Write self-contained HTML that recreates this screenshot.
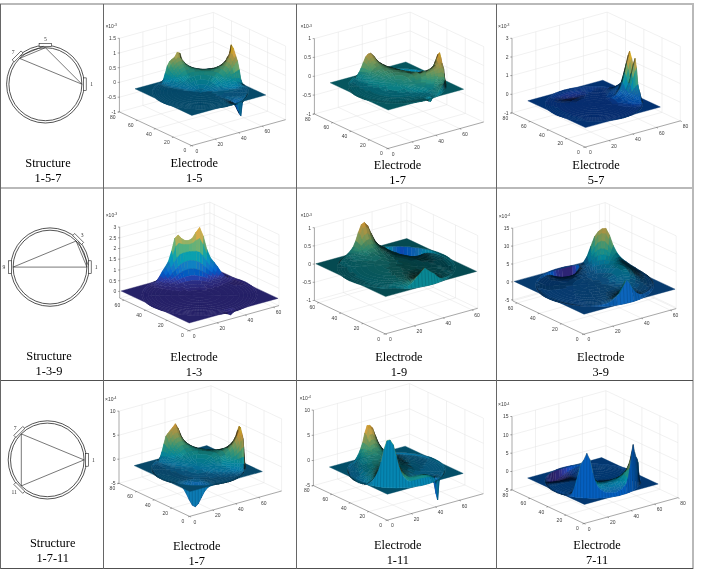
<!DOCTYPE html>
<html><head><meta charset="utf-8"><title>Sensitivity maps</title>
<style>
html,body{margin:0;padding:0;background:#fff}
body{width:701px;height:570px;position:relative;overflow:hidden;font:12.4px/15px "Liberation Serif","Times New Roman",serif;color:#000}
.l{position:absolute;background:#666}
.k{position:absolute;background:#b9b9b9}
.t{position:absolute;text-align:center;white-space:nowrap;width:120px;margin-left:-60px}
svg{position:absolute;left:0;top:0}
svg text{font:5px "Liberation Sans",Arial,sans-serif;fill:#3a3a3a}
.g{fill:none;stroke:#e2e2e2;stroke-width:.5}
.a{fill:none;stroke:#505050;stroke-width:.5}
.st{fill:none;stroke:#1c1c1c;stroke-width:.75}
.st path{stroke-width:.6}
.st rect{fill:#fff;stroke-width:.6}
svg text.s{font:5.6px "Liberation Serif","Times New Roman",serif;fill:#333;stroke:none}
</style></head>
<body>
<div class="k" style="left:0;top:3px;width:694px;height:2px"></div>
<div class="k" style="left:692px;top:3px;width:2px;height:566px"></div>
<div class="k" style="left:0;top:187px;width:693px;height:2px"></div>
<div class="l" style="left:0;top:380px;width:693px;height:1px;background:#505050"></div>
<div class="l" style="left:0;top:568px;width:693px;height:1px;background:#505050"></div>
<div class="l" style="left:0px;top:4px;width:1px;height:565px"></div>
<div class="l" style="left:103px;top:4px;width:1px;height:565px"></div>
<div class="l" style="left:296px;top:4px;width:1px;height:565px"></div>
<div class="l" style="left:496px;top:4px;width:1px;height:565px"></div>
<svg width="701" height="570" viewBox="0 0 701 570">
<g class="st"><circle cx="45.4" cy="84.2" r="38.8"/><circle cx="45.4" cy="84.2" r="36.5"/><rect x="83.3" y="77.9" width="2.9" height="12.6" transform="rotate(0 84.8 84.2)"/><text class="s" x="91.6" y="86" text-anchor="middle">1</text><rect x="43.9" y="38.6" width="2.9" height="12.6" transform="rotate(-90 45.4 44.9)"/><text class="s" x="45.4" y="40.7" text-anchor="middle">5</text><rect x="16.1" y="50.1" width="2.9" height="12.6" transform="rotate(-135 17.6 56.4)"/><text class="s" x="13.2" y="54" text-anchor="middle">7</text><path d="M45.4,47.7L81.9,84.2M19.6,58.4L81.9,84.2M19.6,58.4L45.4,47.7M19.9,56.1L43.5,46.3"/><circle cx="50" cy="267.1" r="39.2"/><circle cx="50" cy="267.1" r="36.9"/><rect x="88.3" y="260.8" width="2.9" height="12.6" transform="rotate(0 89.8 267.1)"/><text class="s" x="96.1" y="268.9" text-anchor="middle">1</text><rect x="76.7" y="232.7" width="2.9" height="12.6" transform="rotate(-45 78.1 239)"/><text class="s" x="82.2" y="236.8" text-anchor="middle">3</text><rect x="8.8" y="260.8" width="2.9" height="12.6" transform="rotate(-180 10.2 267.1)"/><text class="s" x="4" y="268.9" text-anchor="middle">9</text><path d="M13.1,267.1L86.9,267.1M13.1,267.1L76.1,241M76.1,241L86.9,267.1M78.4,241.4L88.3,265.2"/><circle cx="47.3" cy="459.9" r="39.1"/><circle cx="47.3" cy="459.9" r="36.8"/><rect x="85.5" y="453.6" width="2.9" height="12.6" transform="rotate(0 87 459.9)"/><text class="s" x="93.5" y="461.9" text-anchor="middle">1</text><rect x="17.8" y="425.6" width="2.9" height="12.6" transform="rotate(-135 19.3 431.9)"/><text class="s" x="15.2" y="429.6" text-anchor="middle">7</text><rect x="17.8" y="481.6" width="2.9" height="12.6" transform="rotate(-225 19.3 487.9)"/><text class="s" x="14.1" y="493.6" text-anchor="middle">11</text><path d="M21.3,433.9L84.1,459.9M21.3,485.9L84.1,459.9M21.3,433.9L21.3,485.9"/></g>
<g><path class="g" d="M215.1,139.1L142.9,105.4L142.9,31.8M238.6,132.7L166.4,98.9L166.4,25.3M262.1,126.2L189.9,92.5L189.9,18.9M173.5,137.2L267.6,111.3L267.6,37.7M155.5,128.7L249.5,102.9L249.5,29.3M137.4,120.3L231.5,94.4L231.5,20.8M119.4,97.2L213.4,71.3L285.6,105M119.4,82.4L213.4,56.6L285.6,90.3M119.4,67.7L213.4,41.8L285.6,75.6M119.4,53L213.4,27.1L285.6,60.8M119.4,38.3L213.4,12.4L285.6,46.1M213.4,86L213.4,12.4M119.4,111.9L213.4,86L285.6,119.7M285.6,119.7L285.6,46.1"/>
<path class="a" d="M119.4,38.3L119.4,111.9L191.6,145.6L285.6,119.7M191.6,145.6L189.9,146.1M173.5,137.2L171.9,137.6M155.5,128.7L153.8,129.2M137.4,120.3L135.8,120.8M119.4,111.9L117.8,112.3M191.6,145.6L193.1,146.3M215.1,139.1L216.6,139.9M238.6,132.7L240.1,133.4M262.1,126.2L263.6,126.9M119.4,111.9L117.7,111.9M119.4,97.2L117.7,97.2M119.4,82.4L117.7,82.4M119.4,67.7L117.7,67.7M119.4,53L117.7,53M119.4,38.3L117.7,38.3"/><g transform="scale(.2)" fill="currentColor" stroke="currentColor" stroke-width="2" stroke-linejoin="round"><path color=#064a69 d=M808,413l-8,5-6-1,8-5zM771,450l-2,5-7-1,2-6zM769,455l0,5-8,0,1-6z />
<path color=#075578 d=M800,418l-7,6-7-2,8-5zM1228,439l-5-6,7-1,5,5z />
<path color=#095278 d=M793,424l-6,5-7-2,6-5zM787,429l-6,5-7-2,6-5zM781,434l-4,5-7-2,4-5zM777,439l-4,5-7-1,4-6zM773,444l-2,6-7-2,2-5zM1235,456l-1-5,7-3,2,6zM1234,451l-3-6,7-2,3,5zM1231,445l-3-6,7-2,3,6z />
<path color=#074869 d=M1236,462l-1-6,8-2,0,6z />
<path color=#075578 d=M808,420l-6,5-9-1,7-6zM1218,440l-4-6,9-1,5,6z />
<path color=#074869 d=M802,425l-6,5-9-1,6-5zM796,430l-6,5-9-1,6-5zM790,435l-4,5-9-1,4-5zM786,440l-3,5-10-1,4-5zM783,445l-3,5-9,0,2-6zM1225,457l-1-6,10,0,1,5z />
<path color=#064a69 d=M780,450l-1,5-10,0,2-5zM779,455l0,5-10,0,0-5z />
<path color=#095278 d=M1226,462l-1-5,10-1,1,6zM1224,451l-2-5,9-1,3,6zM1222,446l-4-6,10-1,3,6z />
<path color=#075578 d=M818,422l-6,4-10-1,6-5z />
<path color=#064a69 d=M812,426l-6,5-10-1,6-5zM806,431l-5,5-11-1,6-5zM794,446l-3,5-11-1,3-5zM791,451l-1,4-11,0,1-5zM790,455l0,5-11,0,0-5z />
<path color=#074869 d=M801,436l-4,5-11-1,4-5zM797,441l-3,5-11-1,3-5z />
<path color=#095278 d=M1215,462l-1-5,11,0,1,5zM1214,457l-1-5,11-1,1,6zM1213,452l-2-6,11,0,2,5zM1211,446l-3-6,10,0,4,6z />
<path color=#064a69 d=M823,428l-6,5-11-2,6-5zM817,433l-4,4-12-1,5-5zM813,437l-4,5-12-1,4-5zM809,442l-3,4-12,0,3-5zM806,446l-2,5-13,0,3-5zM804,451l-1,5-13-1,1-4zM803,456l-1,4-12,0,0-5z />
<path color=#095278 d=M1202,462l0-5,12,0,1,5zM1202,457l-1-5,12,0,1,5zM1201,452l-3-5,13-1,2,6z />
<path color=#075578 d=M1198,447l-3-6,13-1,3,6z />
<path color=#075578 d=M836,430l-5,5-14-2,6-5zM1184,447l-3-4,14-2,3,6z />
<path color=#064a69 d=M831,435l-4,4-14-2,4-4zM827,439l-4,4-14-1,4-5zM823,443l-2,4-15-1,3-4zM821,447l-2,5-15-1,2-5zM819,452l-2,4-14,0,1-5zM817,456l0,4-15,0,1-4z />
<path color=#095278 d=M1187,462l0-5,15,0,0,5zM1187,457l-1-5,15,0,1,5zM1186,452l-2-5,14,0,3,5z />
<path color=#064a69 d=M848,437l-4,4-17-2,4-4zM844,441l-3,4-18-2,4-4zM841,445l-2,4-18-2,2-4zM839,449l-2,3-18,0,2-5zM837,452l-1,4-19,0,2-4zM836,456l0,4-19,0,0-4z />
<path color=#095278 d=M1169,461l0-4,18,0,0,5zM1169,457l-1-5,18,0,1,5z />
<path color=#075578 d=M1168,452l-2-4,18-1,2,5z />
<path color=#064a69 d=M869,440l-4,3-21-2,4-4zM865,443l-2,4-22-2,3-4zM863,447l-2,3-22-1,2-4zM861,450l-2,3-22-1,2-3zM859,453l-1,4-22-1,1-4zM858,457l0,3-22,0,0-4z />
<path color=#095278 d=M1147,461l-1-4,23,0,0,4z />
<path color=#075578 d=M1146,457l-1-4,23-1,1,5zM1145,453l-1-3,22-2,2,4z />
<path color=#064a69 d=M890,446l-2,3-25-2,2-4zM888,449l-2,3-25-2,2-3zM886,452l-1,2-26-1,2-3zM885,454l-1,3-26,0,1-4zM884,457l0,3-26,0,0-3z />
<path color=#075578 d=M1121,460l0-3,25,0,1,4zM1121,457l-1-3,25-1,1,4z />
<path color=#064a69 d=M916,451l-1,3-29-2,2-3zM915,454l-1,2-29-2,1-2zM914,456l0,2-30-1,1-3zM914,458l-1,2-29,0,0-3z />
<path color=#075578 d=M1091,460l0-2,30-1,0,3zM1091,458l-1-2,30-2,1,3z />
<path color=#064a69 d=M945,454l-2,3-29-1,2-5zM943,457l0,3-30,0,1-4zM1062,460l-1-3,29-1,1,4z />
<path color=#064a69 d=M974,457l-1,1-30-1,2-3zM973,458l0,2-30,0,0-3z />
<path color=#064a69 d=M1002,460l-29,1,0-3z />
<path color=#064a69 d=M1002,460l-27,4-2-3zM1002,460l-23,6-4-2zM1002,460l-18,8-5-2zM1002,460l-11,10-7-2zM1002,460l-4,11-7-1zM1002,460l4,11-8,0zM1002,460l12,10-8,1zM1002,460l18,8-6,2zM1002,460l24,6-6,2zM1002,460l28,4-4,2zM1002,460l30,1-2,3zM1002,460l30-2,0,3z />
<path color=#064a69 d=M973,460l0,1-30,2,0-3zM973,461l1,2-29,2-2-2zM974,463l1,1-28,4-2-3zM975,464l2,1-26,6-4-3zM977,465l2,1-24,7-4-2zM979,466l2,1-21,8-5-2zM981,467l3,1-18,9-6-2zM984,468l3,1-14,9-7-1zM987,469l4,1-11,10-7-2zM991,470l4,0-8,11-7-1zM995,470l3,1-3,10-8,0zM998,471l4,0,0,10-7,0zM1002,471l4,0,4,10-8,0zM1006,471l4-1,8,11-8,0zM1010,470l4,0,11,10-7,1zM1014,470l3-1,15,10-7,1zM1017,469l3-1,18,9-6,2zM1020,468l3-1,21,8-6,2zM1023,467l3-1,23,7-5,2zM1026,466l2-1,26,6-5,2zM1028,465l2-1,27,4-3,3zM1030,464l1-1,28,2-2,3zM1031,463l1-2,29,2-2,2zM1032,461l0-1,30,0-1,3z />
<path color=#064a69 d=M943,460l0,3-29,1-1-4zM943,463l2,2-29,3-2-4zM945,465l2,3-27,4-4-4zM947,468l4,3-26,5-5-4zM951,471l4,2-23,7-7-4zM955,473l5,2-21,8-7-3zM960,475l6,2-18,8-9-2zM966,477l7,1-15,10-10-3zM973,478l7,2-12,10-10-2zM980,480l7,1-8,10-11-1zM987,481l8,0-4,11-12-1zM995,481l7,0,0,11-11,0zM1002,481l8,0,4,11-12,0zM1010,481l8,0,7,10-11,1zM1018,481l7-1,11,10-11,1zM1025,480l7-1,15,9-11,2zM1032,479l6-2,18,9-9,2zM1038,477l6-2,21,8-9,3zM1044,475l5-2,24,7-8,3zM1049,473l5-2,25,5-6,4zM1054,471l3-3,27,4-5,4zM1057,468l2-3,29,3-4,4z />
<path color=#075578 d=M1059,465l2-2,29,1-2,4zM1061,463l1-3,29,0-1,4z />
<path color=#064a69 d=M913,460l1,2-30,1,0-3zM914,462l0,2-29,2-1-3zM914,464l1,2-29,2-1-2zM915,466l1,2-28,3-2-3zM916,468l2,2-28,4-2-3zM918,470l2,2-27,4-3-2zM920,472l3,2-27,5-3-3zM923,474l2,2-25,5-4-2zM925,476l3,2-24,6-4-3zM928,478l4,2-24,6-4-2zM932,480l3,1-22,7-5-2zM935,481l4,2-21,7-5-2zM939,483l5,1-20,8-6-2zM944,484l4,1-18,9-6-2zM948,485l5,2-17,8-6-1zM953,487l5,1-15,9-7-2zM958,488l5,1-13,9-7-1zM963,489l5,1-11,9-7-1zM968,490l6,0-10,10-7-1zM974,490l5,1-7,10-8-1zM979,491l6,0-6,11-7-1zM985,491l6,1-4,10-8,0zM991,492l5,0-2,10-7,0zM996,492l6,0,0,11-8-1zM1002,492l6,0,2,10-8,1zM1008,492l6,0,4,10-8,0zM1014,492l6-1,5,11-7,0zM1020,491l5,0,8,10-8,1zM1025,491l6-1,9,10-7,1zM1031,490l5,0,12,9-8,1zM1036,490l6-1,13,9-7,1zM1042,489l5-1,15,9-7,1zM1047,488l5-1,16,9-6,1zM1052,487l4-1,18,8-6,2zM1056,486l5-2,19,8-6,2zM1061,484l4-1,21,7-6,2zM1065,483l4-2,22,8-5,1zM1069,481l4-1,23,7-5,2z />
<path color=#074869 d=M1073,480l3-2,25,7-5,2zM1076,478l3-2,26,6-4,3z />
<path color=#095278 d=M1079,476l3-2,27,6-4,2zM1082,474l2-2,28,5-3,3z />
<path color=#075578 d=M1084,472l2-2,28,4-2,3zM1086,470l2-2,29,4-3,2zM1088,468l1-2,30,3-2,3zM1089,466l1-2,30,2-1,3zM1090,464l1-2,30,1-1,3zM1091,462l0-2,30,0,0,3z />
<path color=#064a69 d=M884,460l0,3-26,1,0-4zM884,463l1,3-26,1-1-3zM885,466l1,2-25,2-2-3zM886,468l2,3-25,3-2-4zM888,471l2,3-25,3-2-3zM890,474l3,2-24,4-4-3zM893,476l3,3-23,4-4-3zM896,479l4,2-23,5-4-3zM900,481l4,3-22,5-5-3zM904,484l4,2-20,6-6-3zM908,486l5,2-19,6-6-2zM913,488l5,2-18,7-6-3zM918,490l6,2-17,7-7-2zM924,492l6,2-16,7-7-2zM930,494l6,1-14,8-8-2zM936,495l7,2-13,8-8-2zM943,497l7,1-12,8-8-1zM950,498l7,1-10,9-9-2zM957,499l7,1-8,9-9-1zM964,500l8,1-7,9-9-1zM972,501l7,1-5,9-9-1zM979,502l8,0-4,9-9,0zM987,502l7,0-1,10-10-1zM994,502l8,1,0,9-9,0zM1002,503l8-1,2,10-10,0zM1010,502l8,0,3,9-9,1zM1018,502l7,0,5,9-9,0zM1025,502l8-1,7,9-10,1zM1033,501l7-1,9,9-9,1zM1040,500l8-1,10,9-9,1zM1048,499l7-1,11,9-8,1zM1055,498l7-1,12,8-8,2zM1062,497l6-1,15,7-9,2zM1068,496l6-2,16,7-7,2zM1074,494l6-2,17,7-7,2zM1080,492l6-2,18,7-7,2z />
<path color=#074869 d=M1086,490l5-1,20,6-7,2zM1091,489l5-2,21,6-6,2zM1096,487l5-2,21,6-5,2z />
<path color=#095278 d=M1101,485l4-3,22,7-5,2zM1105,482l4-2,23,5-5,4zM1109,480l3-3,24,5-4,3zM1112,477l2-3,25,4-3,4zM1114,474l3-2,25,3-3,3zM1117,472l2-3,25,2-2,4zM1119,469l1-3,25,2-1,3zM1120,466l1-3,25,1-1,4z />
<path color=#075578 d=M1121,463l0-3,26,1-1,3z />
<path color=#064a69 d=M858,460l0,4-22,0,0-4zM858,464l1,3-22,1-1-4zM859,467l2,3-22,2-2-4zM861,470l2,4-22,2-2-4zM863,474l2,3-21,2-3-3zM865,477l4,3-21,3-4-4zM869,480l4,3-20,4-5-4zM873,483l4,3-19,4-5-3zM877,486l5,3-18,4-6-3zM882,489l6,3-18,4-6-3zM888,492l6,2-17,5-7-3zM894,494l6,3-16,5-7-3zM900,497l7,2-15,6-8-3zM907,499l7,2-13,6-9-2zM914,501l8,2-12,7-9-3zM922,503l8,2-11,7-9-2zM930,505l8,1-9,8-10-2zM938,506l9,2-9,7-9-1zM947,508l9,1-7,8-11-2zM956,509l9,1-6,8-10-1zM965,510l9,1-4,8-11-1zM974,511l9,0-3,8-10,0zM983,511l10,1-2,8-11-1zM993,512l9,0,0,8-11,0zM1002,512l10,0,1,8-11,0zM1012,512l9-1,3,8-11,1zM1021,511l9,0,5,8-11,0zM1030,511l10-1,5,8-10,1zM1040,510l9-1,7,8-11,1zM1049,509l9-1,8,7-10,2zM1058,508l8-1,10,7-10,1zM1066,507l8-2,12,7-10,2zM1074,505l9-2,12,7-9,2zM1083,503l7-2,14,7-9,2zM1090,501l7-2,15,6-8,3z />
<path color=#074869 d=M1097,499l7-2,16,6-8,2zM1104,497l7-2,17,7-8,1zM1117,493l5-2,19,8-7,1z />
<path color=#063e5a d=M1111,495l6-2,17,7-6,2z />
<path color=#095278 d=M1122,491l5-2,20,7-6,3zM1136,482l3-4,21,4-4,4zM1139,478l3-3,21,2-3,5zM1142,475l2-4,22,2-3,4zM1144,471l1-3,23,1-2,4zM1145,468l1-4,23,1-1,4zM1146,464l1-3,22,0,0,4z />
<path color=#0a5d87 d=M1127,489l5-4,20,6-5,5zM1132,485l4-3,20,4-4,5z />
<path color=#064a69 d=M836,460l0,4-19,1,0-5zM836,464l1,4-18,1-2-4zM837,468l2,4-18,1-2-4zM839,472l2,4-18,1-2-4zM841,476l3,3-17,2-4-4zM844,479l4,4-17,2-4-4zM848,483l5,4-17,2-5-4zM853,487l5,3-16,3-6-4zM858,490l6,3-16,4-6-4zM864,493l6,3-15,4-7-3zM870,496l7,3-14,5-8-4zM877,499l7,3-13,5-8-3zM884,502l8,3-12,5-9-3zM892,505l9,2-12,6-9-3zM901,507l9,3-11,5-10-2zM910,510l9,2-9,5-11-2zM919,512l10,2-9,5-10-2zM929,514l9,1-7,6-11-2zM938,515l11,2-6,6-12-2zM949,517l10,1-5,6-11-1zM959,518l11,1-4,6-12-1zM970,519l10,0-2,7-12-1zM980,519l11,1-1,6-12,0zM991,520l11,0,0,6-12,0zM1002,520l11,0,1,6-12,0zM1013,520l11-1,2,7-12,0zM1024,519l11,0,3,6-12,1zM1035,519l10-1,5,6-12,1zM1045,518l11-1,6,6-12,1zM1056,517l10-2,7,6-11,2zM1066,515l10-1,8,6-11,1zM1076,514l10-2,9,5-11,3zM1086,512l9-2,10,5-10,2zM1095,510l9-2,11,5-10,2zM1104,508l8-3,12,6-9,2z />
<path color=#074869 d=M1112,505l8-2,13,6-9,2z />
<path color=#063e5a d=M1120,503l8-1,13,6-8,1z />
<path color=#06324b d=M1128,502l6-2,15,7-8,1z />
<path color=#083c5a d=M1134,500l7-1,15,8-7,0z />
<path color=#0b4d79 d=M1141,499l6-3,16,8-7,3z />
<path color=#0b5a87 d=M1147,496l5-5,16,7-5,6zM1152,491l4-5,17,5-5,7z />
<path color=#0a5d87 d=M1156,486l4-4,18,3-5,6z />
<path color=#095278 d=M1160,482l3-5,18,3-3,5zM1163,477l3-4,18,2-3,5zM1166,473l2-4,18,2-2,4zM1168,469l1-4,18,1-1,5zM1169,465l0-4,18,1,0,4z />
<path color=#064a69 d=M817,460l0,5-14,0-1-5zM817,465l2,4-15,1-1-5zM819,469l2,4-15,1-2-4zM821,473l2,4-14,2-3-5zM823,477l4,4-14,2-4-4zM827,481l4,4-14,2-4-4zM831,485l5,4-13,3-6-5zM836,489l6,4-13,3-6-4zM842,493l6,4-12,3-7-4zM848,497l7,3-11,4-8-4zM855,500l8,4-11,3-8-3zM863,504l8,3-10,4-9-4zM871,507l9,3-10,4-9-3zM880,510l9,3-9,4-10-3zM889,513l10,2-8,5-11-3zM899,515l11,2-8,5-11-2zM910,517l10,2-6,5-12-2zM920,519l11,2-5,5-12-2zM931,521l12,2-5,5-12-2zM943,523l11,1-4,5-12-1zM954,524l12,1-3,5-13-1zM966,525l12,1-2,5-13-1zM978,526l12,0-1,5-13,0zM990,526l12,0,0,6-13-1zM1002,526l12,0,1,5-13,1zM1014,526l12,0,2,5-13,0zM1026,526l12-1,3,5-13,1zM1038,525l12-1,4,5-13,1zM1050,524l12-1,5,5-13,1zM1062,523l11-2,6,5-12,2zM1073,521l11-1,7,4-12,2zM1084,520l11-3,7,5-11,2zM1095,517l10-2,8,5-11,2zM1105,515l10-2,9,4-11,3zM1115,513l9-2,10,4-10,2z />
<path color=#063e5a d=M1124,511l9-2,11,4-10,2z />
<path color=#05334b d=M1133,509l8-1,12,5-9,0z />
<path color=#041e2d d=M1141,508l8-1,12,6-8,0z />
<path color=#041d2d d=M1149,507l7,0,13,10-8-4z />
<path color=#0d5589 d=M1156,507l7-3,12,12-6,1z />
<path color=#1067a7 d=M1163,504l5-6,14,5-7,13z />
<path color=#0e6197 d=M1168,498l5-7,14,4-5,8z />
<path color=#0b5a87 d=M1173,491l5-6,14,3-5,7z />
<path color=#0a5d87 d=M1178,485l3-5,14,2-3,6z />
<path color=#095278 d=M1181,480l3-5,14,2-3,5zM1184,475l2-4,15,1-3,5zM1186,471l1-5,15,1-1,5zM1187,466l0-4,15,0,0,5z />
<path color=#064a69 d=M802,460l1,5-13,0,0-5zM803,465l1,5-13,0-1-5zM804,470l2,4-12,1-3-5zM806,474l3,5-12,1-3-5zM809,479l4,4-12,2-4-5zM813,483l4,4-11,2-5-4zM817,487l6,5-11,2-6-5zM823,492l6,4-11,2-6-4zM829,496l7,4-11,2-7-4zM836,500l8,4-10,2-9-4zM844,504l8,3-10,3-8-4zM852,507l9,4-9,3-10-4zM861,511l9,3-8,3-10-3zM870,514l10,3-7,3-11-3zM880,517l11,3-7,3-11-3zM891,520l11,2-6,4-12-3zM902,522l12,2-6,4-12-2zM914,524l12,2-5,4-13-2zM926,526l12,2-4,4-13-2zM938,528l12,1-3,4-13-1zM950,529l13,1-2,5-14-2zM963,530l13,1-2,4-13,0zM976,531l13,0-1,5-14-1zM989,531l13,1,0,4-14,0zM1002,532l13-1,1,5-14,0zM1015,531l13,0,2,4-14,1zM1028,531l13-1,3,5-14,0zM1041,530l13-1,3,4-13,2zM1054,529l13-1,4,4-14,1zM1067,528l12-2,5,4-13,2zM1079,526l12-2,5,4-12,2zM1091,524l11-2,7,4-13,2zM1102,522l11-2,7,3-11,3zM1113,520l11-3,8,4-12,2zM1124,517l10-2,8,3-10,3z />
<path color=#063e5a d=M1134,515l10-2,9,4-11,1z />
<path color=#031f2d d=M1144,513l9,0,9,4-9,0z />
<path color=#041d2d d=M1153,513l8,0,10,5-9-1z />
<path color=#041b2e d=M1161,513l8,4,10,17-8-16z />
<path color=#08437e d=M1169,517l6-1,11,23-7-5z />
<path color=#0e62aa d=M1175,516l7-13,11,5-7,31z />
<path color=#0e6197 d=M1182,503l5-8,12,4-6,9z />
<path color=#0d6496 d=M1187,495l5-7,12,3-5,8z />
<path color=#0b5a87 d=M1192,488l3-6,13,2-4,7z />
<path color=#095278 d=M1195,482l3-5,13,2-3,5zM1198,477l3-5,12,1-2,6zM1201,472l1-5,12,1-1,5zM1202,467l0-5,13,0-1,6z />
<path color=#064a69 d=M790,460l0,5-11,0,0-5zM790,465l1,5-11,1-1-6zM791,470l3,5-11,1-3-5zM794,475l3,5-11,1-3-5zM797,480l4,5-11,1-4-5zM801,485l5,4-10,2-6-5zM806,489l6,5-10,1-6-4zM812,494l6,4-10,2-6-5zM818,498l7,4-9,2-8-4zM825,502l9,4-9,3-9-5zM834,506l8,4-8,3-9-4zM842,510l10,4-8,3-10-4zM852,514l10,3-7,3-11-3zM862,517l11,3-7,4-11-4zM873,520l11,3-6,4-12-3zM884,523l12,3-6,3-12-2zM896,526l12,2-5,4-13-3zM908,528l13,2-4,4-14-2zM921,530l13,2-4,4-13-2zM934,532l13,1-3,4-14-1zM947,533l14,2-2,4-15-2zM961,535l13,0-1,4-14,0zM974,535l14,1,0,4-15-1zM988,536l14,0,0,4-14,0zM1002,536l14,0,1,4-15,0zM1016,536l14-1,1,4-14,1zM1030,535l14,0,2,4-15,0zM1044,535l13-2,3,4-14,2zM1057,533l14-1,3,4-14,1zM1071,532l13-2,4,4-14,2zM1084,530l12-2,5,4-13,2zM1096,528l13-2,5,3-13,3zM1109,526l11-3,7,4-13,2zM1120,523l12-2,6,3-11,3zM1132,521l10-3,8,3-12,3z />
<path color=#05334b d=M1142,518l11-1,7,3-10,1z />
<path color=#041e2d d=M1153,517l9,0,8,3-10,0z />
<path color=#041d2d d=M1162,517l9,1,9,4-10-2z />
<path color=#08437e d=M1171,518l8,16,9,19-8-31z />
<path color=#011c40 d=M1179,534l7,5,10,28-8-14z />
<path color=#055fbf d=M1186,539l7-31,10,4-7,55z />
<path color=#0e5e98 d=M1193,508l6-9,10,3-6,10z />
<path color=#0e6197 d=M1199,499l5-8,10,2-5,9z />
<path color=#0b5a87 d=M1204,491l4-7,10,3-4,6zM1208,484l3-5,11,1-4,7z />
<path color=#095278 d=M1211,479l2-6,11,1-2,6zM1213,473l1-5,11,0-1,6zM1214,468l1-6,11,0-1,6z />
<path color=#064a69 d=M779,460l0,5-10,1,0-6zM779,465l1,6-9,0-2-5zM780,471l3,5-10,0-2-5zM783,476l3,5-9,1-4-6zM786,481l4,5-9,1-4-5zM790,486l6,5-9,1-6-5zM796,491l6,4-9,2-6-5zM802,495l6,5-8,2-7-5zM808,500l8,4-8,2-8-4zM816,504l9,5-8,2-9-5zM825,509l9,4-7,2-10-4zM834,513l10,4-7,2-10-4zM844,517l11,3-7,3-11-4zM855,520l11,4-6,2-12-3zM866,524l12,3-5,2-13-3zM878,527l12,2-4,3-13-3zM890,529l13,3-4,3-13-3zM903,532l14,2-4,3-14-2zM917,534l13,2-3,3-14-2zM930,536l14,1-2,4-15-2zM944,537l15,2-2,3-15-1zM959,539l14,0-1,4-15-1zM973,539l15,1-1,3-15,0zM988,540l14,0,0,3-15,0zM1002,540l15,0,1,3-16,0zM1017,540l14-1,2,4-15,0zM1031,539l15,0,2,3-15,1zM1046,539l14-2,3,4-15,1zM1060,537l14-1,3,3-14,2zM1074,536l14-2,4,3-15,2zM1088,534l13-2,4,3-13,2zM1101,532l13-3,5,3-14,3zM1114,529l13-2,5,2-13,3zM1127,527l11-3,6,2-12,3zM1138,524l12-3,6,3-12,2z />
<path color=#05334b d=M1150,521l10-1,7,2-11,2z />
<path color=#041e2d d=M1160,520l10,0,8,2-11,0z />
<path color=#041d2d d=M1170,520l10,2,7,2-9-2z />
<path color=#085aae d=M1180,522l8,31,8,9-9-38z />
<path color=#0a0f29 d=M1188,553l8,14,8,12-8-17z />
<path color=#0454c0 d=M1196,567l7-55,9,2-8,65z />
<path color=#0e5e98 d=M1203,512l6-10,9,2-6,10z />
<path color=#0d5788 d=M1209,502l5-9,9,3-5,8z />
<path color=#0b5a87 d=M1214,493l4-6,10,2-5,7zM1218,487l4-7,9,1-3,8z />
<path color=#0a5d87 d=M1222,480l2-6,10,0-3,7z />
<path color=#095278 d=M1224,474l1-6,10,0-1,6zM1225,468l1-6,10,0-1,6z />
<path color=#064a69 d=M769,460l0,6-7-1-1-5zM769,466l2,5-7,0-2-6zM771,471l2,5-7,1-2-6zM773,476l4,6-7,0-4-5zM777,482l4,5-7,0-4-5zM781,487l6,5-7,1-6-6zM787,492l6,5-7,1-6-5zM793,497l7,5-6,1-8-5zM800,502l8,4-6,2-8-5zM808,506l9,5-6,1-9-4zM817,511l10,4-6,2-10-5zM827,515l10,4-5,2-11-4zM837,519l11,4-5,2-11-4zM848,523l12,3-4,2-13-3zM860,526l13,3-5,3-12-4zM873,529l13,3-4,3-14-3zM886,532l13,3-3,2-14-2zM899,535l14,2-3,2-14-2zM913,537l14,2-2,2-15-2zM927,539l15,2-2,2-15-2zM942,541l15,1-2,2-15-1zM957,542l15,1-1,2-16-1zM972,543l15,0-1,3-15-1zM987,543l15,0,0,3-16,0zM1002,543l16,0,0,3-16,0zM1018,543l15,0,1,2-16,1zM1033,543l15-1,1,2-15,1zM1048,542l15-1,2,2-16,1zM1063,541l14-2,3,2-15,2zM1077,539l15-2,2,2-14,2zM1092,537l13-2,4,2-15,2zM1105,535l14-3,4,3-14,2zM1119,532l13-3,4,3-13,3zM1132,529l12-3,5,2-13,4zM1178,522l9,2,6-12-10,5zM1235,468l1-6,7-2,0,5z />
<path color=#05405a d=M1144,526l12-2,5,1-12,3zM1234,474l1-6,8-3-2,6z />
<path color=#02202d d=M1156,524l11-2,5-1-11,4zM1167,522l11,0,5-5-11,4zM1218,504l5-8,7-9-5,6zM1223,496l5-7,7-7-5,5zM1228,489l3-8,7-4-3,5z />
<path color=#086a96 d=M1187,524l9,38,6-54-9,4zM1196,562l8,17,7-76-9,5z />
<path color=#075f87 d=M1204,579l8-65,6-16-7,5z />
<path color=#032a3c d=M1212,514l6-10,7-11-7,5zM1231,481l3-7,7-3-3,6z />
<path stroke=#012 stroke-opacity=.5 stroke-width=1.5 fill=none d=M1187,524l6-12M1196,562l6-54M1204,579l7-76M1212,514l6-16 />
<path color=#064a69 fill-rule=evenodd d=M959,577l370-102-284-133-370,102zM1193,407l-10-4-11-4-11-4-12-4-13-3-13-3-14-3-15-2-14-2-15-2-16-1-15-1-16,0-16-1-16,1-15,0-16,1-15,1-15,2-15,2-14,2-14,3-14,3-12,3-13,4-11,4-11,4-10,4-9,5-8,5-8,5-6,5-6,5-4,5-4,6-2,5-2,6-1,6,1,5,2,6,2,6,4,5,4,5,6,6,6,5,8,5,8,5,9,4,10,5,11,4,11,4,13,3,12,4,14,3,14,2,14,2,15,2,15,2,15,1,16,1,15,1,16,0,16,0,16-1,15-1,16-1,15-2,14-2,15-2,14-2,13-3,13-4,12-3,11-4,11-4,10-5,9-4,9-5,7-5,7-5,5-6,5-5,3-5,3-6,2-6,0-5,0-6-2-6-3-5-3-6-5-5-5-5-7-5-7-5-9-5z />
<path color=#a09348 d=M1187,304l-9-26,5,125,10,4z />
<path color=#c8972e d=M1178,278l-11-36,5,157,11,4zM1156,224l-12,58,5,109,12,4z />
<path color=#c1ad1b d=M1167,242l-11-18,5,171,11,4z />
<path color=#8da35c d=M1144,282l-12,29,4,77,13,3zM913,307l-14-42-3,117,14-2z />
<path color=#55a373 d=M1132,311l-13,16,4,58,13,3z />
<path color=#259c8e d=M1119,327l-14,18,4,37,14,3zM942,335l-15-10-2,53,15-2z />
<path color=#0a94a2 d=M1105,345l-13,14,2,21,15,2z />
<path color=#05849a d=M1092,359l-15,0,3,19,14,2z />
<path color=#05829d d=M1077,359l-14,4,2,13,15,2zM987,359l-15,0-1,15,15,0z />
<path color=#05809f d=M1063,363l-15,0,1,12,16,1zM1002,362l-15-3-1,15,16-1z />
<path color=#057ea1 d=M1048,363l-15,3,1,8,15,1zM1033,366l-15-3,0,11,16,0zM1018,363l-16-1,0,11,16,1z />
<path color=#0590a8 d=M972,359l-15-11-2,27,16-1z />
<path color=#12979a d=M957,348l-15-13-2,41,15-1z />
<path color=#4ca278 d=M927,325l-14-18-3,73,15-2z />
<path color=#bb9f49 d=M899,265l-13-3-4,123,14-3z />
<path color=#aea14e d=M886,262l-13,24-5,102,14-3z />
<path color=#94a359 d=M873,286l-13,10-4,95,12-3z />
<path color=#86a35e d=M860,296l-12,11-5,88,13-4z />
<path color=#66965f d=M848,307l-11,22-5,70,11-4z />
<path color=#2f927a d=M837,329l-10,36-6,38,11-4z />
<path color=#067a89 d=M827,365l-10,33-6,9,10-4z />
<path color=#02212d d=M817,398l-9,15-6-1,9-5z />
<path color=#064a69 d=M1223,433l-5-6,7,0,5,5z />
<path color=#04354b d=M1218,427l-6-7,6,2,7,5z />
<path color=#022e3b d=M1212,420l-8-23,7,20,7,5z />
<path color=#14807d d=M1204,397l-8-49,6,64,9,5z />
<path color=#6d965c d=M1196,348l-9-44,6,103,9,5z />
<path color=#9a944a d=M1180,314l-10-24,8-12,9,26zM903,291l-13-3-4-26,13,3z />
<path color=#cd9f40 d=M1170,290l-10-20,7-28,11,36z />
<path color=#c79e27 d=M1160,270l-10-4,6-42,11,18z />
<path color=#332810 d=M1150,266l-12,18,6-2,12-58z />
<path color=#76884c d=M1138,284l-11,23,5,4,12-29z />
<path color=#4e885d d=M1127,307l-13,18,5,2,13-16z />
<path color=#248373 d=M1114,325l-13,13,4,7,14-18z />
<path color=#118b8d d=M1101,338l-13,8,4,13,13-14z />
<path color=#098894 d=M1088,346l-14,6,3,7,15,0zM973,348l-14-6-2,6,15,11z />
<path color=#05788c d=M1074,352l-14,3,3,8,14-4z />
<path color=#04768e d=M1060,355l-14,2,2,6,15,0zM1046,357l-15,2,2,7,15-3zM1017,357l-15-2,0,7,16,1zM1002,355l-14-3-1,7,15,3z />
<path color=#047491 d=M1031,359l-14-2,1,6,15,3zM1203,413l-7-23,8,7,8,23z />
<path color=#05849a d=M988,352l-15-4-1,11,15,0z />
<path color=#127371 d=M959,342l-15-9-2,2,15,13z />
<path color=#1d695c d=M944,333l-14-12-3,4,15,10z />
<path color=#397a5a d=M930,321l-13-15-4,1,14,18z />
<path color=#222918 d=M917,306l-14-15-4-26,14,42z />
<path color=#a2a253 d=M890,288l-12,11-5-13,13-24z />
<path color=#829554 d=M878,299l-12,11-6-14,13-10z />
<path color=#749659 d=M866,310l-11,14-7-17,12-11z />
<path color=#5ea36f d=M855,324l-11,21-7-16,11-22z />
<path color=#28917e d=M844,345l-10,27-7-7,10-36z />
<path color=#068697 d=M834,372l-9,22-8,4,10-33z />
<path color=#046585 d=M825,394l-9,17-8,2,9-15z />
<path color=#064a69 d=M816,411l-8,9-8-2,8-5z />
<path color=#075f87 d=M1214,434l-5-10,9,3,5,6z />
<path color=#022c3c d=M1209,424l-6-11,9,7,6,7z />
<path color=#1c8e86 d=M1196,390l-8-39,8-3,8,49z />
<path color=#6fa468 d=M1188,351l-8-37,7-10,9,44z />
<path color=#889551 d=M1171,328l-9-22,8-16,10,24z />
<path color=#a69345 d=M1162,306l-9-13,7-23,10,20z />
<path color=#ab9243 d=M1153,293l-11-2,8-25,10,4z />
<path color=#746b34 d=M1142,291l-10,8,6-15,12-18z />
<path color=#232917 d=M1132,299l-12,13,7-5,11-23z />
<path color=#335236 d=M1120,312l-11,12,5,1,13-18z />
<path color=#2c7861 d=M1109,324l-13,10,5,4,13-13z />
<path color=#1b756b d=M1096,334l-12,7,4,5,13-8z />
<path color=#127371 d=M1084,341l-13,5,3,6,14-6z />
<path color=#0a7077 d=M1071,346l-14,3,3,6,14-3z />
<path color=#076f79 d=M1057,349l-13,2,2,6,14-2zM1002,350l-14-2,0,4,14,3z />
<path color=#056e7c d=M1044,351l-14,1,1,7,15-2zM1030,352l-14,0,1,5,14,2zM1016,352l-14-2,0,5,15,2z />
<path color=#096469 d=M988,348l-14-4-1,4,15,4z />
<path color=#0c6567 d=M974,344l-13-5-2,3,14,6z />
<path color=#124e47 d=M961,339l-14-7-3,1,15,9z />
<path color=#0d2821 d=M947,332l-13-9-4-2,14,12z />
<path color=#15291d d=M934,323l-13-9-4-8,13,15z />
<path color=#597b4b d=M921,314l-13-7-5-16,14,15z />
<path color=#7b9657 d=M908,307l-12,0-6-19,13,3zM896,307l-12,7-6-15,12-11z />
<path color=#6d965c d=M884,314l-11,11-7-15,12-11z />
<path color=#569666 d=M873,325l-11,14-7-15,11-14z />
<path color=#369376 d=M862,339l-10,18-8-12,11-21z />
<path color=#1c8e86 d=M852,357l-10,20-8-5,10-27z />
<path color=#068697 d=M842,377l-8,19-9-2,9-22z />
<path color=#057ea1 d=M834,396l-9,15-9,0,9-17z />
<path color=#086a96 d=M825,411l-7,11-10-2,8-9z />
<path color=#075578 d=M1208,440l-4-7,10,1,4,6z />
<path color=#066d95 d=M1204,433l-5-12,10,3,5,10z />
<path color=#046784 d=M1199,421l-6-13,10,5,6,11z />
<path color=#05849a d=M1193,408l-7-21,10,3,7,23z />
<path color=#218f82 d=M1186,387l-7-30,9-6,8,39z />
<path color=#67a46b d=M1179,357l-8-29,9-14,8,37z />
<path color=#749659 d=M1161,342l-8-17,9-19,9,22z />
<path color=#889551 d=M1153,325l-9-11,9-21,9,13z />
<path color=#8e954f d=M1144,314l-10-3,8-20,11,2z />
<path color=#7c874a d=M1134,311l-10,2,8-14,10-8z />
<path color=#202918 d=M1124,313l-11,6,7-7,12-13z />
<path color=#1a291b d=M1113,319l-11,8,7-3,11-12z />
<path color=#13291e d=M1102,327l-11,6,5,1,13-10z />
<path color=#195043 d=M1091,333l-12,6,5,2,12-7z />
<path color=#155b53 d=M1079,339l-12,4,4,3,13-5z />
<path color=#125a55 d=M1067,343l-13,2,3,4,14-3z />
<path color=#0b585a d=M1054,345l-13,2,3,4,13-2zM1041,347l-13,1,2,4,14-1zM1028,348l-13,0,1,4,14,0z />
<path color=#094c4d d=M1015,348l-13-2,0,4,14,2z />
<path color=#083f40 d=M1002,346l-13-2-1,4,14,2z />
<path color=#083332 d=M989,344l-13-2-2,2,14,4z />
<path color=#082725 d=M976,342l-13-4-2,1,13,5z />
<path color=#0b2722 d=M963,338l-13-5-3-1,14,7z />
<path color=#0f2820 d=M950,333l-12-5-4-5,13,9z />
<path color=#26513c d=M938,328l-12-4-5-10,13,9z />
<path color=#4e885d d=M926,324l-12-2-6-15,13,7z />
<path color=#5e9662 d=M914,322l-12,2-6-17,12,0zM902,324l-11,6-7-16,12-7z />
<path color=#4e956a d=M891,330l-11,10-7-15,11-11z />
<path color=#3e9472 d=M880,340l-10,13-8-14,11-14z />
<path color=#28917e d=M870,353l-9,14-9-10,10-18z />
<path color=#118b8d d=M861,367l-9,16-10-6,10-20z />
<path color=#05849a d=M852,383l-8,16-10-3,8-19z />
<path color=#057ea1 d=M844,399l-8,13-11-1,9-15z />
<path color=#066d95 d=M836,412l-7,11-11-1,7-11z />
<path color=#075578 d=M829,423l-6,5-11-2,6-4z />
<path color=#075f87 d=M1195,441l-3-9,12,1,4,7z />
<path color=#057094 d=M1192,432l-5-12,12,1,5,12z />
<path color=#047491 d=M1187,420l-5-14,11,2,6,13z />
<path color=#068697 d=M1182,406l-7-18,11-1,7,21z />
<path color=#1c8e86 d=M1175,388l-6-23,10-8,7,30z />
<path color=#55a373 d=M1169,365l-8-23,10-14,8,29z />
<path color=#569666 d=M1149,357l-8-14,12-18,8,17z />
<path color=#66965f d=M1141,343l-8-9,11-20,9,11z />
<path color=#749659 d=M1133,334l-9-4,10-19,10,3z />
<path color=#638854 d=M1124,330l-9-1,9-16,10-2z />
<path color=#4a6d45 d=M1115,329l-10,1,8-11,11-6z />
<path color=#1f3625 d=M1105,330l-10,3,7-6,11-8z />
<path color=#13291e d=M1095,333l-11,3,7-3,11-6z />
<path color=#0f2820 d=M1084,336l-11,4,6-1,12-6z />
<path color=#0d2821 d=M1073,340l-11,2,5,1,12-4zM966,340l-12-2-4-5,13,5z />
<path color=#092724 d=M1062,342l-12,2,4,1,13-2zM1050,344l-12,1,3,2,13-2zM990,344l-12-2-2,0,13,2z />
<path color=#082725 d=M1038,345l-12,1,2,2,13-1zM1026,346l-12,0,1,2,13,0zM1014,346l-12-1,0,1,13,2zM1002,345l-12-1-1,0,13,2z />
<path color=#0b2722 d=M978,342l-12-2-3-2,13,4z />
<path color=#1d5040 d=M954,338l-11-2-5-8,12,5z />
<path color=#32795d d=M943,336l-12-1-5-11,12,4z />
<path color=#3f8764 d=M931,335l-11,1-6-14,12,2z />
<path color=#46956e d=M920,336l-10,4-8-16,12-2zM910,340l-11,6-8-16,11-6z />
<path color=#369376 d=M899,346l-10,9-9-15,11-10zM1156,374l-7-17,12-15,8,23z />
<path color=#28917e d=M889,355l-9,11-10-13,10-13z />
<path color=#1c8e86 d=M880,366l-9,12-10-11,9-14zM1163,392l-7-18,13-9,6,23z />
<path color=#0c8991 d=M871,378l-8,12-11-7,9-16z />
<path color=#05849a d=M863,390l-8,12-11-3,8-16z />
<path color=#057ea1 d=M855,402l-7,12-12-2,8-13z />
<path color=#066d95 d=M848,414l-6,10-13-1,7-11z />
<path color=#075f87 d=M842,424l-6,6-13-2,6-5z />
<path color=#086a96 d=M1181,443l-3-11,14,0,3,9z />
<path color=#057ba3 d=M1178,432l-5-12,14,0,5,12z />
<path color=#05829d d=M1173,420l-5-13,14-1,5,14z />
<path color=#098894 d=M1168,407l-5-15,12-4,7,18z />
<path color=#369376 d=M1134,373l-6-10,13-20,8,14z />
<path color=#46956e d=M1128,363l-8-8,13-21,8,9z />
<path color=#4e956a d=M1120,355l-8-6,12-19,9,4z />
<path color=#4e885d d=M1112,349l-8-3,11-17,9,1z />
<path color=#478860 d=M1104,346l-9-1,10-15,10-1z />
<path color=#397a5a d=M1095,345l-9-1,9-11,10-3z />
<path color=#275e48 d=M1086,344l-10,1,8-9,11-3z />
<path color=#1d5040 d=M1076,345l-10,1,7-6,11-4z />
<path color=#0d2821 d=M1066,346l-10,1,6-5,11-2zM1056,347l-11,1,5-4,12-2z />
<path color=#0b2722 d=M1045,348l-10,0,3-3,12-1z />
<path color=#092724 d=M1035,348l-11,1,2-3,12-1zM1024,349l-11,0,1-3,12,0zM1013,349l-11,0,0-4,12,1zM1002,349l-11-1-1-4,12,1z />
<path color=#124239 d=M991,348l-11,0-2-6,12,2z />
<path color=#195c50 d=M980,348l-10,0-4-8,12,2z />
<path color=#226a59 d=M970,348l-11,0-5-10,12,2z />
<path color=#267764 d=M959,348l-10,0-6-12,11,2z />
<path color=#31866b d=M949,348l-11,2-7-15,12,1zM938,350l-9,3-9-17,11-1z />
<path color=#2f927a d=M929,353l-10,4-9-17,10-4zM919,357l-9,6-11-17,11-6z />
<path color=#218f82 d=M910,363l-9,7-12-15,10-9zM1141,386l-7-13,15-16,7,17z />
<path color=#1c8e86 d=M901,370l-9,9-12-13,9-11z />
<path color=#118b8d d=M892,379l-8,9-13-10,9-12zM1147,399l-6-13,15-12,7,18z />
<path color=#068697 d=M884,388l-7,10-14-8,8-12zM1152,411l-5-12,16-7,5,15z />
<path color=#05829d d=M877,398l-7,10-15-6,8-12zM1156,422l-4-11,16-4,5,13z />
<path color=#047293 d=M870,408l-6,9-16-3,7-12z />
<path color=#057094 d=M864,417l-6,8-16-1,6-10z />
<path color=#086a96 d=M858,425l-5,8-17-3,6-6z />
<path color=#075578 d=M853,433l-5,4-17-2,5-5zM1166,448l-3-5,18,0,3,4z />
<path color=#0778a4 d=M1163,443l-3-11,18,0,3,11z />
<path color=#057ea1 d=M1160,432l-4-10,17-2,5,12z />
<path color=#218f82 d=M1117,390l-6-8,17-19,6,10zM938,370l-8,5-11-18,10-4z />
<path color=#28917e d=M1111,382l-7-7,16-20,8,8z />
<path color=#2f927a d=M1104,375l-7-5,15-21,8,6z />
<path color=#369376 d=M1097,370l-7-4,14-20,8,3z />
<path color=#31866b d=M1090,366l-7-3,12-18,9,1zM1083,363l-9-2,12-17,9,1zM1074,361l-8-2,10-14,10-1z />
<path color=#267764 d=M1066,359l-8-1,8-12,10-1zM1058,358l-9,0,7-11,10-1z />
<path color=#1d695c d=M1049,358l-9,0,5-10,11-1zM1040,358l-10,0,5-10,10,0zM1030,358l-9,0,3-9,11-1zM1021,358l-9,0,1-9,11,0zM1012,358l-10,0,0-9,11,0z />
<path color=#217667 d=M1002,358l-9,1-2-11,11,1zM993,359l-10,0-3-11,11,0zM983,359l-9,1-4-12,10,0z />
<path color=#248373 d=M974,360l-9,2-6-14,11,0zM965,362l-9,2-7-16,10,0zM956,364l-9,3-9-17,11-2z />
<path color=#1e8277 d=M947,367l-9,3-9-17,9-3z />
<path color=#1c8e86 d=M930,375l-8,5-12-17,9-6z />
<path color=#168c8a d=M922,380l-8,6-13-16,9-7zM1122,399l-5-9,17-17,7,13z />
<path color=#0c8991 d=M914,386l-7,7-15-14,9-9zM1127,408l-5-9,19-13,6,13z />
<path color=#098894 d=M907,393l-7,7-16-12,8-9z />
<path color=#05849a d=M900,400l-6,7-17-9,7-10zM1132,417l-5-9,20-9,5,12z />
<path color=#05829d d=M894,407l-6,7-18-6,7-10zM1136,426l-4-9,20-6,4,11z />
<path color=#047293 d=M888,414l-6,8-18-5,6-9z />
<path color=#057094 d=M882,422l-5,6-19-3,6-8z />
<path color=#066d95 d=M877,428l-4,7-20-2,5-8z />
<path color=#075f87 d=M873,435l-4,5-21-3,5-4zM1144,450l-2-7,21,0,3,5z />
<path color=#0778a4 d=M1142,443l-3-8,21-3,3,11z />
<path color=#057ea1 d=M1139,435l-3-9,20-4,4,10z />
<path color=#0c8991 d=M1096,406l-5-5,20-19,6,8zM943,393l-7,4-14-17,8-5z />
<path color=#118b8d d=M1091,401l-5-6,18-20,7,7zM950,389l-7,4-13-18,8-5z />
<path color=#168c8a d=M1086,395l-6-4,17-21,7,5z />
<path color=#1c8e86 d=M1080,391l-6-4,16-21,7,4zM1074,387l-6-3,15-21,7,3z />
<path color=#1e8277 d=M1068,384l-6-3,12-20,9,2zM1062,381l-7-2,11-20,8,2zM1055,379l-7-2,10-19,8,1zM1048,377l-8-1,9-18,9,0zM1040,376l-7-1,7-17,9,0zM1033,375l-8,0,5-17,10,0zM1025,375l-7,0,3-17,9,0z />
<path color=#19817a d=M1018,375l-8,0,2-17,9,0zM1010,375l-8,0,0-17,10,0zM1002,375l-8,1-1-17,9-1zM994,376l-7,1-4-18,10,0zM987,377l-8,2-5-19,9-1zM979,379l-7,2-7-19,9-2z />
<path color=#14807d d=M972,381l-8,2-8-19,9-2zM964,383l-7,3-10-19,9-3z />
<path color=#0f7e81 d=M957,386l-7,3-12-19,9-3z />
<path color=#098894 d=M936,397l-6,5-16-16,8-6zM1101,413l-5-7,21-16,5,9z />
<path color=#068697 d=M930,402l-6,5-17-14,7-7zM1105,419l-4-6,21-14,5,9z />
<path color=#05849a d=M924,407l-6,5-18-12,7-7z />
<path color=#04768e d=M918,412l-5,5-19-10,6-7z />
<path color=#047491 d=M913,417l-5,6-20-9,6-7z />
<path color=#047293 d=M908,423l-4,5-22-6,6-8z />
<path color=#057094 d=M904,428l-4,5-23-5,5-6z />
<path color=#066d95 d=M900,433l-4,5-23-3,4-7zM1117,445l-3-6,25-4,3,8z />
<path color=#075f87 d=M896,438l-3,5-24-3,4-5z />
<path color=#075578 d=M893,443l-3,3-25-3,4-3zM1120,454l-1-3,25-1,1,3z />
<path color=#086a96 d=M1119,451l-2-6,25-2,2,7z />
<path color=#057ea1 d=M1114,439l-2-7,24-6,3,9z />
<path color=#05809f d=M1112,432l-3-6,23-9,4,9z />
<path color=#05829d d=M1109,426l-4-7,22-11,5,9z />
<path color=#05849a d=M1073,423l-4-4,22-18,5,5z />
<path color=#068697 d=M1069,419l-4-4,21-20,5,6z />
<path color=#098894 d=M1065,415l-4-3,19-21,6,4zM1061,412l-5-3,18-22,6,4z />
<path color=#0c8991 d=M1056,409l-4-2,16-23,6,3z />
<path color=#0b7d84 d=M1052,407l-5-3,15-23,6,3zM1047,404l-5-2,13-23,7,2zM1002,398l-6,1-2-23,8-1zM996,399l-5,1-4-23,7-1zM991,400l-6,1-6-22,8-2zM985,401l-6,2-7-22,7-2z />
<path color=#0f7e81 d=M1042,402l-6-1,12-24,7,2zM1036,401l-5-1,9-24,8,1zM1031,400l-6-1,8-24,7,1zM1025,399l-5-1,5-23,8,0zM1020,398l-6,0,4-23,7,0zM1014,398l-6,0,2-23,8,0zM1008,398l-6,0,0-23,8,0z />
<path color=#087b87 d=M979,403l-5,2-10-22,8-2zM974,405l-6,2-11-21,7-3z />
<path color=#067a89 d=M968,407l-5,2-13-20,7-3zM963,409l-5,3-15-19,7-4z />
<path color=#05788c d=M958,412l-5,3-17-18,7-4zM953,415l-5,3-18-16,6-5z />
<path color=#04768e d=M948,418l-4,3-20-14,6-5z />
<path color=#047491 d=M944,421l-5,4-21-13,6-5z />
<path color=#047293 d=M939,425l-4,3-22-11,5-5zM935,428l-3,4-24-9,5-6zM1084,440l-2-5,27-9,3,6z />
<path color=#057094 d=M932,432l-4,4-24-8,4-5zM1086,444l-2-4,28-8,2,7z />
<path color=#066d95 d=M928,436l-3,3-25-6,4-5zM925,439l-2,4-27-5,4-5zM1088,448l-2-4,28-5,3,6z />
<path color=#086a96 d=M923,443l-3,3-27-3,3-5zM1089,452l-1-4,29-3,2,6z />
<path color=#075f87 d=M920,446l-2,3-28-3,3-3zM1090,456l-1-4,30-1,1,3z />
<path color=#064a69 d=M918,449l-2,2-28-2,2-3z />
<path color=#05809f d=M1082,435l-3-4,26-12,4,7z />
<path color=#05829d d=M1079,431l-3-4,25-14,4,6zM1076,427l-3-4,23-17,5,7z />
<path color=#047491 d=M1049,437l-5-4,21-18,8,8zM980,427l-7,3-15-18,10-5zM973,430l-7,3-18-15,10-6z />
<path color=#04768e d=M1044,433l-6-4,18-20,9,6zM1038,429l-6-3,15-22,9,5zM987,424l-7,3-12-20,11-4z />
<path color=#05788c d=M1032,426l-7-2,11-23,11,3zM1025,424l-7-2,7-23,11,2zM1018,422l-8,0,4-24,11,1zM1010,422l-8,0,0-24,12,0zM1002,422l-7,1-4-23,11-2zM995,423l-8,1-8-21,12-3z />
<path color=#047293 d=M966,433l-6,4-21-12,9-7zM1054,442l-5-5,24-14,6,8z />
<path color=#057094 d=M960,437l-5,5-23-10,7-7zM1057,447l-3-5,25-11,5,9z />
<path color=#066d95 d=M955,442l-4,4-26-7,7-7zM1059,452l-2-5,27-7,4,8z />
<path color=#086a96 d=M951,446l-4,5-27-5,5-7zM1061,457l-2-5,29-4,2,8z />
<path color=#075f87 d=M947,451l-2,3-29-3,4-5z />
<path color=#057094 d=M1026,450l-3-2,21-15,5,4zM1023,448l-3-1,18-18,6,4zM1020,447l-3-2,15-19,6,3zM995,444l-4,1-11-18,7-3zM991,445l-4,1-14-16,7-3zM987,446l-3,2-18-15,7-3z />
<path color=#047293 d=M1017,445l-3-1,11-20,7,2zM1014,444l-4-1,8-21,7,2zM1010,443l-4,0,4-21,8,0zM1006,443l-4,0,0-21,8,0zM1002,443l-4,0-3-20,7-1zM998,443l-3,1-8-20,8-1z />
<path color=#066d95 d=M984,448l-3,2-21-13,6-4zM981,450l-2,1-24-9,5-5zM1030,454l-2-2,26-10,3,5zM1028,452l-2-2,23-13,5,5z />
<path color=#086a96 d=M979,451l-2,2-26-7,4-4zM977,453l-2,2-28-4,4-5zM1032,458l-1-2,28-4,2,5zM1031,456l-1-2,27-7,2,5z />
<path color=#075f87 d=M975,455l-1,2-29-3,2-3z />
<path color=#064a69 d=M1032,460l0-2,29-1,1,3z />
<path color=#086a96 d=M1002,460l18-13,6,3zM1002,460l24-10,4,4z />
<path color=#056286 d=M1002,460l12-16,6,3zM1002,460l4-17,8,1zM1002,460l-4-17,8,0zM1002,460l-11-15,7-2z />
<path color=#075f87 d=M1002,460l-18-12,7-3zM1002,460l-23-9,5-3zM1002,460l-27-5,4-4zM1002,460l28-6,2,4z />
<path color=#075578 d=M1002,460l-29-2,2-3z /></g></g>
<g><path class="g" d="M411.9,141.9L338.3,107.3L338.3,32M435.8,135.3L362.3,100.7L362.3,25.3M459.8,128.6L386.2,94.1L386.2,18.7M369.5,139.9L465.3,113.4L465.3,38M351.2,131.2L446.9,104.7L446.9,29.4M332.8,122.6L428.6,96.1L428.6,20.7M314.4,95.1L410.2,68.6L483.7,103.2M314.4,76.3L410.2,49.8L483.7,84.3M314.4,57.4L410.2,30.9L483.7,65.5M314.4,38.6L410.2,12.1L483.7,46.6M410.2,87.5L410.2,12.1M314.4,114L410.2,87.5L483.7,122M483.7,122L483.7,46.6"/>
<path class="a" d="M314.4,38.6L314.4,114L387.9,148.5L483.7,122M387.9,148.5L386.3,149M369.5,139.9L367.9,140.3M351.2,131.2L349.5,131.7M332.8,122.6L331.1,123.1M314.4,114L312.8,114.4M387.9,148.5L389.4,149.2M411.9,141.9L413.4,142.6M435.8,135.3L437.3,136M459.8,128.6L461.3,129.4M314.4,114L312.7,114M314.4,95.1L312.7,95.1M314.4,76.3L312.7,76.3M314.4,57.4L312.7,57.4M314.4,38.6L312.7,38.6"/><g transform="scale(.2)" fill="currentColor" stroke="currentColor" stroke-width="2" stroke-linejoin="round"><path color=#0e62aa d=M2173,410l-9,30,5-68,10,4z />
<path color=#0151b1 d=M2164,440l-11,6,5-78,11,4z />
<path color=#0454c0 d=M2153,446l-11-10,5-72,11,4z />
<path color=#035cc0 d=M2142,436l-12-11,4-65,13,4z />
<path color=#0c65bc d=M2130,425l-13-18,4-50,13,3z />
<path color=#1171b6 d=M2117,407l-13-19,3-34,14,3z />
<path color=#0a7fb4 d=M2104,388l-14-11,3-26,14,3z />
<path color=#0686b2 d=M2090,377l-14-7,3-22,14,3z />
<path color=#0589b0 d=M2076,370l-15-5,3-19,15,2zM2061,365l-15-4,2-16,16,1z />
<path color=#05809f d=M2046,361l-15-3,2-15,15,2zM2031,358l-15-2,1-14,16,1z />
<path color=#05829d d=M2016,356l-16-2,1-12,16,0zM2000,354l-15-2,0-10,16,0z />
<path color=#05849a d=M1985,352l-16-2,0-8,16,0zM1969,350l-15-2-1-6,16,0z />
<path color=#056e7c d=M1954,348l-16-3-1-2,16-1zM1779,388l-7,7-7-4,7-5zM1772,395l-7,6-7-5,7-5zM1765,401l-5,5-7-4,5-6zM1760,406l-5,6-7-5,5-5zM2182,355l-9,55,6-34,10,5z />
<path color=#05616e d=M1755,412l-3,5-8-4,4-6zM1752,417l-3,5-7-3,2-6zM1749,422l-1,5-8-3,2-5z />
<path color=#045560 d=M1748,427l-1,6-7-3,0-6z />
<path color=#0e62aa d=M2166,408l-10,29,8,3,9-30z />
<path color=#014291 d=M2156,437l-10,9,7,0,11-6z />
<path color=#033f90 d=M2146,446l-11-5,7-5,11,10z />
<path color=#0354b0 d=M2135,441l-11-11,6-5,12,11z />
<path color=#0b5dad d=M2124,430l-13-16,6-7,13,18z />
<path color=#1067a7 d=M2111,414l-12-16,5-10,13,19z />
<path color=#0c71a5 d=M2099,398l-13-11,4-10,14,11z />
<path color=#0778a4 d=M2086,387l-14-8,4-9,14,7z />
<path color=#057ba3 d=M2072,379l-14-6,3-8,15,5z />
<path color=#047293 d=M2058,373l-14-5,2-7,15,4z />
<path color=#047491 d=M2044,368l-15-5,2-5,15,3z />
<path color=#046982 d=M2029,363l-14-3,1-4,15,2z />
<path color=#035f72 d=M2015,360l-15-3,0-3,16,2z />
<path color=#034755 d=M2000,357l-15-3,0-2,15,2z />
<path color=#023038 d=M1985,354l-15-2-1-2,16,2z />
<path color=#022529 d=M1970,352l-15-2-1-2,15,2z />
<path color=#056e7c d=M1787,389l-7,7-8-1,7-7z />
<path color=#05616e d=M1780,396l-6,6-9-1,7-6zM1774,402l-5,6-9-2,5-5zM1769,408l-4,5-10-1,5-6zM1765,413l-4,5-9-1,3-5z />
<path color=#045560 d=M1761,418l-2,5-10-1,3-5zM1759,423l-2,5-9-1,1-5zM1757,428l0,5-10,0,1-6z />
<path color=#1174b5 d=M2157,400l-9,23,8,14,10-29z />
<path color=#085aae d=M2148,423l-10,12,8,11,10-9z />
<path color=#023d80 d=M2138,435l-10,0,7,6,11,5z />
<path color=#011730 d=M2128,435l-11-6,7,1,11,11z />
<path color=#064a8e d=M2117,429l-12-11,6-4,13,16z />
<path color=#0e62aa d=M2105,418l-12-11,6-9,12,16z />
<path color=#0f6aa6 d=M2093,407l-12-11,5-9,13,11z />
<path color=#0c71a5 d=M2081,396l-13-9,4-8,14,8z />
<path color=#066d95 d=M2068,387l-14-7,4-7,14,6z />
<path color=#057094 d=M2054,380l-13-7,3-5,14,5z />
<path color=#046784 d=M2041,373l-14-6,2-4,15,5z />
<path color=#035165 d=M2027,367l-14-4,2-3,14,3z />
<path color=#01232b d=M2013,363l-14-4,1-2,15,3z />
<path color=#01242a d=M1999,359l-14-4,0-1,15,3z />
<path color=#022529 d=M1985,355l-14-3-1,0,15,2z />
<path color=#05616e d=M1791,397l-6,6-11-1,6-6zM1785,403l-5,6-11-1,5-6zM1780,409l-4,5-11-1,4-5z />
<path color=#035462 d=M1776,414l-4,5-11-1,4-5zM1772,419l-2,5-11-1,2-5z />
<path color=#045560 d=M1770,424l-1,5-12-1,2-5zM1769,429l-1,5-11-1,0-5z />
<path color=#0783b3 d=M2146,388l-8,27,10,8,9-23z />
<path color=#0f65a8 d=M2138,415l-9,13,9,7,10-12z />
<path color=#06417f d=M2129,428l-10,5,9,2,10,0z />
<path color=#02192f d=M2119,433l-10-2,8-2,11,6z />
<path color=#0a549d d=M2109,431l-11-6,7-7,12,11z />
<path color=#0d5fab d=M2098,425l-11-9,6-9,12,11z />
<path color=#1067a7 d=M2087,416l-12-10,6-10,12,11z />
<path color=#0e6ea5 d=M2075,406l-12-10,5-9,13,9z />
<path color=#086a96 d=M2063,396l-13-10,4-6,14,7z />
<path color=#046585 d=M2050,386l-12-8,3-5,13,7z />
<path color=#045b75 d=M2038,378l-13-8,2-3,14,6z />
<path color=#022f39 d=M2025,370l-14-6,2-1,14,4z />
<path color=#01242a d=M2011,364l-13-5,1,0,14,4z />
<path color=#022529 d=M1998,359l-13-7,0,3,14,4z />
<path color=#056e7c d=M1802,396l-5,8-12-1,6-6z />
<path color=#05616e d=M1797,404l-5,5-12,0,5-6zM1792,409l-4,6-12-1,4-5zM1788,415l-3,5-13-1,4-5z />
<path color=#035462 d=M1785,420l-2,5-13-1,2-5zM1783,425l-2,4-12,0,1-5z />
<path color=#045560 d=M1781,429l0,5-13,0,1-5z />
<path color=#05809f d=M2134,386l-7,16,11,13,8-27z />
<path color=#0e6ea5 d=M2127,402l-9,15,11,11,9-13z />
<path color=#0d599a d=M2118,417l-9,11,10,5,10-5z />
<path color=#03192f d=M2109,428l-9,4,9-1,10,2z />
<path color=#073b6e d=M2100,432l-10-3,8-4,11,6z />
<path color=#0b4e8c d=M2090,429l-11-8,8-5,11,9z />
<path color=#0e5b99 d=M2079,421l-11-10,7-5,12,10z />
<path color=#0d5788 d=M2068,411l-11-11,6-4,12,10z />
<path color=#095278 d=M2057,400l-12-11,5-3,13,10z />
<path color=#02384a d=M2045,389l-11-11,4,0,12,8z />
<path color=#01232b d=M2034,378l-12-10,3,2,13,8z />
<path color=#01242a d=M2022,368l-13-8,2,4,14,6z />
<path color=#056e7c d=M1810,403l-4,7-14-1,5-5z />
<path color=#05616e d=M1806,410l-3,5-15,0,4-6zM1803,415l-3,5-15,0,3-5zM1800,420l-2,5-15,0,2-5zM1798,425l-1,5-16-1,2-4z />
<path color=#045560 d=M1797,430l-1,4-15,0,0-5z />
<path color=#098894 d=M2120,378l-8,12,15,12,7-16z />
<path color=#057ea1 d=M2112,390l-7,10,13,17,9-15z />
<path color=#0c71a5 d=M2105,400l-8,8,12,20,9-11z />
<path color=#0f6aa6 d=M2097,408l-9,2,12,22,9-4z />
<path color=#0e5e98 d=M2088,410l-9-1,11,20,10,3z />
<path color=#0c4b79 d=M2079,409l-9-5,9,17,11,8z />
<path color=#083c5a d=M2070,404l-10-8,8,15,11,10z />
<path color=#04354b d=M2060,396l-10-10,7,14,11,11z />
<path color=#02384a d=M2050,386l-11-9,6,12,12,11z />
<path color=#022f39 d=M2039,377l-10-9,5,10,11,11z />
<path color=#022529 d=M2029,368l-11-7,4,7,12,10z />
<path color=#056e7c d=M1824,409l-3,6-18,0,3-5z />
<path color=#05616e d=M1821,415l-3,5-18,0,3-5zM1818,420l-2,5-18,0,2-5zM1816,425l-1,4-18,1,1-5zM1815,429l0,5-19,0,1-4z />
<path color=#068697 d=M2089,373l-7,3,15,32,8-8z />
<path color=#05849a d=M2082,376l-8,2,14,32,9-2z />
<path color=#05829d d=M2074,378l-7-1,12,32,9,1z />
<path color=#04768e d=M2067,377l-9-3,12,30,9,5z />
<path color=#05788c d=M2058,374l-8-4,10,26,10,8z />
<path color=#056e7c d=M2050,370l-9-4,9,20,10,10z />
<path color=#076f79 d=M1843,413l-3,7-22,0,3-5z />
<path color=#05616e d=M1840,420l-1,4-23,1,2-5zM1839,424l-1,4-23,1,1-4zM1838,428l0,4-23,2,0-5z />
<path color=#056e7c d=M1864,427l0,4-26,1,0-4z />
<path color=#076f79 d=M1937,442l5,3-21,10-8-3zM1993,451l7-2,8,14-11,2z />
<path color=#056e7c d=M1942,445l6,2-18,11-9-3zM1985,452l8-1,4,14-12,0z />
<path color=#05616e d=M1948,447l7,2-15,12-10-3zM1955,449l7,2-12,12-10-2zM1962,451l7,0-8,13-11-1zM1969,451l8,1-4,13-12-1zM1977,452l8,0,0,13-12,0z />
<path color=#076f79 d=M1895,433l1,3-30,5-1-4zM2045,454l4-3,21,12-6,2z />
<path color=#05616e d=M1896,436l1,3-29,5-2-3zM1897,439l2,2-29,6-2-3zM1899,441l2,3-28,5-3-2zM1901,444l3,2-27,6-4-3zM1904,446l2,2-26,7-3-3zM1906,448l4,2-26,7-4-2zM1910,450l3,2-24,8-5-3zM1913,452l4,2-23,8-5-2zM1917,454l4,1-22,9-5-2zM1921,455l4,2-20,9-6-2zM1925,457l5,1-19,10-6-2zM1930,458l4,1-16,10-7-1zM1934,459l6,2-16,10-6-2zM1940,461l5,1-14,10-7-1zM1945,462l5,1-11,11-8-2zM1950,463l6,0-10,12-7-1zM1956,463l5,1-7,11-8,0zM1961,464l6,0-6,12-7-1zM1967,464l6,1-4,12-8-1zM1973,465l6,0-2,12-8,0zM1979,465l6,0,0,12-8,0zM1985,465l6,0,2,12-8,0zM1991,465l6,0,4,12-8,0zM1997,465l5-1,6,12-7,1zM2002,464l6-1,8,12-8,1zM2008,463l6,0,10,11-8,1zM2014,463l5-1,12,11-7,1zM2019,462l6-1,13,11-7,1zM2025,461l5-2,15,12-7,1zM2030,459l5-1,17,11-7,2zM2035,458l5-2,18,11-6,2z />
<path color=#056e7c d=M2040,456l5-2,19,11-6,2z />
<path color=#05616e d=M1864,431l0,3-26,2,0-4zM1864,434l1,3-26,3-1-4zM1865,437l1,4-26,3-1-4zM1866,441l2,3-25,3-3-3zM1868,444l2,3-25,4-2-4zM1870,447l3,2-24,5-4-3zM1873,449l4,3-24,5-4-3zM1877,452l3,3-23,5-4-3zM1880,455l4,2-22,6-5-3zM1884,457l5,3-21,6-6-3zM1889,460l5,2-20,7-6-3zM1894,462l5,2-18,7-7-2zM1899,464l6,2-17,7-7-2zM1905,466l6,2-16,8-7-3zM1911,468l7,1-15,9-8-2zM1918,469l6,2-13,8-8-1zM1924,471l7,1-11,9-9-2zM1931,472l8,2-11,9-8-2zM1939,474l7,1-9,9-9-1zM1946,475l8,0-7,10-10-1zM1954,475l7,1-5,10-9-1zM1961,476l8,1-3,9-10,0zM1969,477l8,0-2,10-9-1zM1977,477l8,0,0,10-10,0zM1985,477l8,0,1,10-9,0zM1993,477l8,0,3,9-10,1zM2001,477l7-1,6,10-10,0zM2008,476l8-1,7,10-9,1zM2016,475l8-1,8,10-9,1zM2024,474l7-1,10,10-9,1zM2031,473l7-1,12,9-9,2zM2038,472l7-1,13,9-8,1zM2045,471l7-2,15,9-9,2zM2052,469l6-2,16,9-7,2zM2058,467l6-2,18,8-8,3zM2064,465l6-2,19,8-7,2zM2070,463l6-3,19,8-6,3z />
<path color=#056e7c d=M2076,460l5-3,21,8-7,3zM2081,457l4-4,22,8-5,4z />
<path color=#05616e d=M1838,432l0,4-23,2,0-4zM1838,436l1,4-23,2-1-4zM1839,440l1,4-22,2-2-4zM1840,444l3,3-22,3-3-4zM1843,447l2,4-21,2-3-3zM1845,451l4,3-21,3-4-4zM2050,481l8-1,12,7-10,2zM2058,480l9-2,12,7-9,2zM2067,478l7-2,14,7-9,2zM2074,476l8-3,15,7-9,3zM2082,473l7-2,16,6-8,3zM2089,471l6-3,17,6-7,3zM2095,468l7-3,18,6-8,3zM2102,465l5-4,19,6-6,4z />
<path color=#045560 d=M1849,454l4,3-20,4-5-4zM1853,457l4,3-19,4-5-3zM1857,460l5,3-18,5-6-4zM1862,463l6,3-18,5-6-3zM1868,466l6,3-17,5-7-3zM1874,469l7,2-16,6-8-3zM1881,471l7,2-15,6-8-2zM1888,473l7,3-14,6-8-3zM1895,476l8,2-13,6-9-2zM1903,478l8,1-11,7-10-2zM1911,479l9,2-10,7-10-2zM1920,481l8,2-8,7-10-2zM1928,483l9,1-7,7-10-1zM1937,484l10,1-6,7-11-1zM1947,485l9,1-4,7-11-1zM1956,486l10,0-3,8-11-1zM1966,486l9,1-1,7-11,0zM1975,487l10,0,0,8-11-1zM1985,487l9,0,2,8-11,0zM1994,487l10-1,3,8-11,1zM2004,486l10,0,4,8-11,0zM2014,486l9-1,6,8-11,1zM2023,485l9-1,7,8-10,1zM2032,484l9-1,9,7-11,2zM2041,483l9-2,10,8-10,1z />
<path color=#056e7c d=M2107,461l5-3,20,5-6,4zM2112,458l5-5,20,5-5,5z />
<path color=#05616e d=M1815,434l0,4-18,1-1-5zM1815,438l1,4-18,1-1-4zM2105,477l7-3,15,5-9,3zM2112,474l8-3,14,4-7,4zM2120,471l6-4,16,4-8,4zM2126,467l6-4,16,3-6,5z />
<path color=#045560 d=M1816,442l2,4-18,1-2-4zM1818,446l3,4-18,1-3-4zM1821,450l3,3-18,3-3-5zM1824,453l4,4-18,3-4-4zM1828,457l5,4-17,3-6-4zM1833,461l5,3-17,3-5-3zM1838,464l6,4-16,3-7-4zM1844,468l6,3-15,4-7-4zM1850,471l7,3-14,4-8-3zM1857,474l8,3-14,4-8-3zM1865,477l8,2-13,5-9-3zM1873,479l8,3-11,5-10-3zM1881,482l9,2-10,5-10-2zM1890,484l10,2-10,6-10-3zM1900,486l10,2-9,6-11-2zM1910,488l10,2-7,6-12-2zM1920,490l10,1-6,6-11-1zM1930,491l11,1-5,7-12-2zM1941,492l11,1-4,7-12-1zM1952,493l11,1-3,6-12,0zM1963,494l11,0-2,7-12-1zM1974,494l11,1,0,6-13,0zM1985,495l11,0,1,6-12,0zM1996,495l11-1,2,7-12,0zM2007,494l11,0,4,6-13,1zM2018,494l11-1,5,6-12,1zM2029,493l10-1,6,6-11,1zM2039,492l11-2,7,6-12,2zM2050,490l10-1,8,6-11,1zM2060,489l10-2,9,6-11,2zM2070,487l9-2,11,6-11,2zM2079,485l9-2,12,5-10,3zM2088,483l9-3,12,5-9,3z />
<path color=#046070 d=M2097,480l8-3,13,5-9,3z />
<path color=#056e7c d=M2132,463l5-5,17,2-6,6z />
<path color=#045560 d=M1796,434l1,5-16,0,0-5zM1797,439l1,4-15,0-2-4zM1798,443l2,4-15,1-2-5zM1800,447l3,4-15,2-3-5zM1803,451l3,5-14,1-4-4zM1806,456l4,4-13,1-5-4zM1810,460l6,4-14,2-5-5zM1816,464l5,3-13,3-6-4zM1821,467l7,4-13,3-7-4zM1828,471l7,4-12,2-8-3zM1835,475l8,3-11,3-9-4zM1843,478l8,3-10,4-9-4zM1851,481l9,3-10,4-9-3zM1860,484l10,3-9,4-11-3zM1870,487l10,2-8,5-11-3zM1880,489l10,3-7,4-11-2zM1890,492l11,2-6,4-12-2zM1901,494l12,2-6,4-12-2zM1913,496l11,1-5,5-12-2zM1924,497l12,2-4,4-13-1zM1936,499l12,1-3,4-13-1zM1948,500l12,0-2,5-13-1zM1960,500l12,1-1,5-13-1zM1972,501l13,0,0,5-14,0zM1985,501l12,0,1,5-13,0zM1997,501l12,0,2,4-13,1zM2009,501l13-1,3,5-14,0zM2022,500l12-1,4,5-13,1zM2034,499l11-1,5,4-12,2zM2045,498l12-2,6,5-13,1zM2057,496l11-1,7,4-12,2zM2068,495l11-2,8,4-12,2zM2079,493l11-2,8,4-11,2zM2090,491l10-3,9,4-11,3zM2100,488l9-3,10,4-10,3zM2109,485l9-3,11,4-10,3zM2118,482l9-3,11,3-9,4z />
<path color=#05616e d=M2127,479l7-4,12,3-8,4zM2134,475l8-4,12,2-8,5zM2142,471l6-5,13,0-7,7z />
<path color=#045560 d=M1781,434l0,5-12,0-1-5zM1781,439l2,4-13,1-1-5zM1783,443l2,5-13,1-2-5zM1785,448l3,5-12,0-4-4zM1788,453l4,4-12,1-4-5zM1792,457l5,4-12,2-5-5zM1797,461l5,5-11,1-6-4zM1802,466l6,4-11,2-6-5zM1808,470l7,4-10,2-8-4zM1815,474l8,3-10,3-8-4zM1823,477l9,4-10,3-9-4zM1832,481l9,4-9,2-10-3zM1841,485l9,3-8,3-10-4zM1850,488l11,3-8,3-11-3zM1861,491l11,3-8,3-11-3zM1872,494l11,2-6,3-13-2zM1883,496l12,2-6,4-12-3zM1895,498l12,2-5,4-13-2zM1907,500l12,2-4,4-13-2zM1919,502l13,1-3,4-14-1zM1932,503l13,1-2,4-14-1zM1945,504l13,1-1,4-14-1zM1958,505l13,1,0,4-14-1zM1971,506l14,0,0,4-14,0zM1985,506l13,0,1,4-14,0zM2109,492l10-3,9,4-11,2zM2138,482l8-4,11,1-9,5z />
<path color=#034952 d=M1998,506l13-1,2,4-14,1zM2011,505l14,0,2,4-14,0zM2025,505l13-1,3,4-14,1zM2038,504l12-2,4,4-13,2zM2050,502l13-1,5,3-14,2zM2063,501l12-2,6,3-13,2zM2075,499l12-2,6,3-12,2zM2087,497l11-2,7,3-12,2zM2098,495l11-3,8,3-12,3z />
<path color=#046070 d=M2119,489l10-3,9,4-10,3z />
<path color=#056e7c d=M2129,486l9-4,10,2-10,6z />
<path color=#05616e d=M2146,478l8-5,11,1-8,5z />
<path color=#045560 d=M1768,434l1,5-12,0,0-6zM1769,439l1,5-11,0-2-5zM1770,444l2,5-11,0-2-5zM1772,449l4,4-11,1-4-5zM1776,453l4,5-11,1-4-5zM1780,458l5,5-11,1-5-5zM1785,463l6,4-11,1-6-4zM1791,467l6,5-10,1-7-5zM1797,472l8,4-10,1-8-4zM1805,476l8,4-9,2-9-5zM1813,480l9,4-9,2-9-4zM1822,484l10,3-8,2-11-3zM1832,487l10,4-7,2-11-4zM1842,491l11,3-7,2-11-3zM1853,494l11,3-6,3-12-4zM2148,484l9-5,9,2-10,5z />
<path color=#034952 d=M1864,497l13,2-6,3-13-2zM1877,499l12,3-5,3-13-3zM1889,502l13,2-4,3-14-2zM1902,504l13,2-3,3-14-2zM1915,506l14,1-3,3-14-1zM1929,507l14,1-3,4-14-2zM1943,508l14,1-2,4-15-1zM1957,509l14,1-1,3-15,0zM1971,510l14,0,0,3-15,0zM1985,510l14,0,1,3-15,0zM1999,510l14-1,2,4-15,0zM2013,509l14,0,2,3-14,1zM2027,509l14-1,3,3-15,1zM2041,508l13-2,4,3-14,2zM2054,506l14-2,4,3-14,2zM2068,504l13-2,5,3-14,2zM2081,502l12-2,6,3-13,2zM2093,500l12-2,6,2-12,3zM2105,498l12-3,7,2-13,3z />
<path color=#034854 d=M2117,495l11-2,7,7-11-3z />
<path color=#046c7e d=M2128,493l10-3,8,10-11,0z />
<path color=#05849a d=M2138,490l10-6,8,2-10,14z />
<path color=#06636c d=M2157,479l8-5,9,0-8,7z />
<path color=#045560 d=M1757,433l0,6-9-1-1-5zM1757,439l2,5-10-1-1-5zM1759,444l2,5-9,0-3-6zM1761,449l4,5-10,0-3-5zM1765,454l4,5-9,0-5-5zM1769,459l5,5-9,0-5-5zM1774,464l6,4-8,1-7-5zM1780,468l7,5-8,1-7-5zM1787,473l8,4-8,2-8-5z />
<path color=#034952 d=M1795,477l9,5-8,1-9-4zM1804,482l9,4-7,1-10-4zM1813,486l11,3-7,2-11-4zM1824,489l11,4-7,2-11-4zM1835,493l11,3-6,3-12-4zM1846,496l12,4-5,2-13-3zM1858,500l13,2-5,3-13-3zM1871,502l13,3-4,2-14-2zM1884,505l14,2-4,3-14-3zM1898,507l14,2-4,2-14-1zM1912,509l14,1-3,3-15-2zM1926,510l14,2-2,2-15-1zM1940,512l15,1-1,2-16-1zM1955,513l15,0-1,3-15-1zM1970,513l15,0,0,3-16,0zM1985,513l15,0,0,3-15,0zM2000,513l15,0,1,2-16,1z />
<path color=#033d45 d=M2015,513l14-1,2,2-15,1zM2029,512l15-1,2,2-15,1zM2044,511l14-2,3,2-15,2zM2058,509l14-2,4,3-15,1zM2072,507l14-2,4,2-14,3zM2086,505l13-2,5,2-14,2zM2099,503l12-3,6,2-13,3zM2111,500l13-3,6,2-13,3z />
<path color=#01242a d=M2124,497l11,3,7,5-12-6z />
<path color=#035165 d=M2135,500l11,0,7,7-11-2z />
<path color=#05849a d=M2146,500l10-14,8,1-11,20z />
<path color=#06565e d=M2156,486l10-5,7,0-9,6z />
<path color=#06565e d=M1747,433l1,5-8-2,0-6zM1748,438l1,5-7-1-2-6zM1817,491l11,4-5,2-12-4zM1828,495l12,4-5,1-12-3zM1840,499l13,3-4,2-14-4zM1853,502l13,3-4,2-13-3zM1866,505l14,2-4,2-14-2zM1880,507l14,3-3,2-15-3zM1894,510l14,1-2,3-15-2zM1908,511l15,2-2,2-15-1zM1923,513l15,1-1,3-16-2zM1938,514l16,1-1,3-16-1zM1954,515l15,1,0,2-16,0zM1969,516l16,0,0,3-16-1zM1985,516l15,0,1,2-16,1zM2000,516l16-1,1,3-16,0zM2016,515l15-1,2,3-16,1zM2031,514l15-1,2,2-15,2zM2046,513l15-2,3,3-16,1zM2061,511l15-1,3,2-15,2zM2076,510l14-3,3,2-14,3zM2090,507l14-2,3,2-14,2z />
<path color=#054a51 d=M1749,443l3,6-8-2-2-5zM1752,449l3,5-7-1-4-6zM1755,454l5,5-7,0-5-6zM1760,459l5,5-7,0-5-5zM1765,464l7,5-7,0-7-5zM1772,469l7,5-7,0-7-5zM1779,474l8,5-6,0-9-5zM1787,479l9,4-6,1-9-5zM1796,483l10,4-6,1-10-4zM1806,487l11,4-6,2-11-5zM2104,505l13-3,4,2-14,3zM2117,502l13-3,4,1-13,4zM2153,507l11-20,5,1-11,5z />
<path color=#022528 d=M2130,499l12,6,5-8-13,3z />
<path color=#087b87 d=M2142,505l11,2,5-14-11,4z />
<path stroke=#012 stroke-opacity=.5 stroke-width=1.5 fill=none d=M2153,507l5-14 />
<path color=#06565e fill-rule=evenodd d=M1941,550l377-104-289-136-378,104zM2179,376l-10-4-11-4-11-4-13-4-13-3-14-3-14-3-14-3-15-2-16-1-15-2-16-1-16,0-16,0-16,0-16,0-16,1-16,2-15,1-15,2-15,3-14,3-13,3-14,3-12,4-12,4-11,4-10,4-9,5-9,5-7,5-7,5-5,6-5,5-4,6-2,6-2,5,0,6,0,6,2,6,2,5,4,6,5,6,5,5,7,5,7,5,9,5,9,5,10,4,11,5,12,4,12,3,14,4,13,3,14,2,15,3,15,2,15,1,16,2,16,1,16,0,16,1,16-1,16,0,16-1,15-2,16-1,15-2,14-3,14-2,14-3,13-4,13-3,11-4,11-5,10-4,10-5,8-5,8-5,6-5,6-5,5-6,3-6,3-5,2-6,0-6,0-6-2-5-3-6-3-6-5-5-6-6-6-5-8-5-8-5z />
<path color=#096469 d=M1938,345l-15-8-2,8,16-2z />
<path color=#1c8e86 d=M1923,337l-15-9-2,18,15-1z />
<path color=#339f85 d=M1908,328l-14-11-3,31,15-2z />
<path color=#5ea36f d=M1894,317l-14-17-4,51,15-3z />
<path color=#8da35c d=M1880,300l-14-22-4,76,14-3z />
<path color=#b5a04c d=M1866,278l-13-12-4,91,13-3zM1840,270l-12,15-5,79,12-4z />
<path color=#c19f46 d=M1853,266l-13,4-5,90,14-3z />
<path color=#889551 d=M1828,285l-11,27-6,56,12-4z />
<path color=#569666 d=M1817,312l-11,28-6,32,11-4z />
<path color=#2a856f d=M1806,340l-10,21-6,15,10-4z />
<path color=#0e5958 d=M1796,361l-9,15-6,5,9-5z />
<path color=#022528 d=M1787,376l-8,12-7-2,9-5z />
<path color=#0f2820 d=M2223,403l-1-13,8,34,0,6z />
<path color=#18291c d=M2222,390l-2-22,8,51,2,5z />
<path color=#222918 d=M2220,368l-2-25,7,70,3,6z />
<path color=#272916 d=M2218,343l-4-13,8,77,3,6z />
<path color=#575027 d=M2214,330l-4-14,7,86,5,5z />
<path color=#856a2d d=M2210,316l-6-29,7,109,6,6z />
<path color=#a38120 d=M2204,287l-6-23,7,127,6,5z />
<path color=#b68c27 d=M2198,264l-7,23,6,99,8,5z />
<path color=#76884c d=M2191,287l-9,68,7,26,8,5z />
<path color=#022528 d=M1955,350l-15-7-2,2,16,3z />
<path color=#063233 d=M1940,343l-14-7-3,1,15,8z />
<path color=#0c342f d=M1926,336l-14-9-4,1,15,9z />
<path color=#1d5040 d=M1912,327l-14-11-4,1,14,11z />
<path color=#375f41 d=M1898,316l-14-15-4-1,14,17z />
<path color=#3b4426 d=M1884,301l-13-18-5-5,14,22z />
<path color=#2c2814 d=M1871,283l-13-11-5-6,13,12z />
<path color=#9c853d d=M1858,272l-12,3-6-5,13-4z />
<path color=#a69345 d=M1846,275l-11,15-7-5,12-15z />
<path color=#889551 d=M1835,290l-11,24-7-2,11-27z />
<path color=#5e9662 d=M1824,314l-11,26-7,0,11-28zM2212,384l-1-22,9,6,2,22z />
<path color=#2f927a d=M1813,340l-9,20-8,1,10-21z />
<path color=#14807d d=M1804,360l-9,16-8,0,9-15z />
<path color=#0b7d84 d=M1795,376l-8,13-8-1,8-12z />
<path color=#3e9472 d=M2213,399l-1-15,10,6,1,13z />
<path color=#829554 d=M2211,362l-3-24,10,5,2,25z />
<path color=#878746 d=M2208,338l-3-16,9,8,4,13z />
<path color=#877839 d=M2205,322l-4-13,9,7,4,14z />
<path color=#bc913b d=M2201,309l-6-21,9-1,6,29z />
<path color=#c79e27 d=M2195,288l-6-16,9-8,6,23z />
<path color=#b5892a d=M2189,272l-7,21,9-6,7-23z />
<path color=#8da35c d=M2182,293l-8,58,8,4,9-68z />
<path color=#0a94a2 d=M2174,351l-8,57,7,2,9-55z />
<path color=#033136 d=M1971,352l-14-7-2,5,15,2z />
<path color=#0c6567 d=M1957,345l-14-5-3,3,15,7z />
<path color=#125a55 d=M1943,340l-14-7-3,3,14,7z />
<path color=#195c50 d=M1929,333l-14-7-3,1,14,9z />
<path color=#22513e d=M1915,326l-13-10-4,0,14,11z />
<path color=#1a291b d=M1902,316l-13-11-5-4,14,15z />
<path color=#232917 d=M1889,305l-12-11-6-11,13,18z />
<path color=#7e793d d=M1877,294l-13-6-6-16,13,11z />
<path color=#a09348 d=M1864,288l-11,4-7-17,12-3z />
<path color=#9a944a d=M1853,292l-11,12-7-14,11-15zM2197,343l-3-16,11-5,3,16z />
<path color=#829554 d=M1842,304l-10,18-8-8,11-24zM2200,362l-3-19,11-5,3,24z />
<path color=#5e9662 d=M1832,322l-10,20-9-2,11-26z />
<path color=#369376 d=M1822,342l-9,18-9,0,9-20z />
<path color=#19817a d=M1813,360l-8,14-10,2,9-16z />
<path color=#0b7d84 d=M1805,374l-8,13-10,2,8-13z />
<path color=#076f79 d=M1797,387l-6,10-11-1,7-7z />
<path color=#46956e d=M2201,396l0-15,11,3,1,15z />
<path color=#66965f d=M2201,381l-1-19,11,0,1,22z />
<path color=#a69345 d=M2194,327l-4-10,11-8,4,13z />
<path color=#b6913e d=M2190,317l-5-10,10-19,6,21z />
<path color=#c19237 d=M2185,307l-6-5,10-30,6,16z />
<path color=#322811 d=M2179,302l-7,17,10-26,7-21z />
<path color=#6a8851 d=M2172,319l-7,37,9-5,8-58z />
<path color=#0e969e d=M2165,356l-8,44,9,8,8-57z />
<path color=#054a51 d=M1985,352l-14-5,0,5,14,3z />
<path color=#0b585a d=M1971,347l-13-5-1,3,14,7z />
<path color=#0d403d d=M1958,342l-13-5-2,3,14,5z />
<path color=#0c342f d=M1945,337l-13-5-3,1,14,7z />
<path color=#0f2820 d=M1932,332l-13-7-4,1,14,7z />
<path color=#13291e d=M1919,325l-12-7-5-2,13,10z />
<path color=#1a291b d=M1907,318l-12-7-6-6,13,11z />
<path color=#354429 d=M1895,311l-12-6-6-11,12,11z />
<path color=#7c874a d=M1883,305l-11-2-8-15,13,6z />
<path color=#8e954f d=M1872,303l-11,4-8-15,11-4zM2185,350l-3-13,12-10,3,16z />
<path color=#829554 d=M1861,307l-11,10-8-13,11-12z />
<path color=#6d965c d=M1850,317l-9,14-9-9,10-18z />
<path color=#569666 d=M1841,331l-9,15-10-4,10-20z />
<path color=#369376 d=M1832,346l-9,15-10-1,9-18z />
<path color=#1e8277 d=M1823,361l-8,13-10,0,8-14z />
<path color=#0f7e81 d=M1815,374l-7,11-11,2,8-13z />
<path color=#0b7d84 d=M1808,385l-6,11-11,1,6-10z />
<path color=#4e956a d=M2189,395l-1-13,13-1,0,15z />
<path color=#66965f d=M2188,382l-1-16,13-4,1,19z />
<path color=#7b9657 d=M2187,366l-2-16,12-7,3,19z />
<path color=#9a944a d=M2182,337l-4-9,12-11,4,10z />
<path color=#918641 d=M2178,328l-5-3,12-18,5,10z />
<path color=#83783b d=M2173,325l-5,4,11-27,6,5z />
<path color=#272916 d=M2168,329l-7,13,11-23,7-17z />
<path color=#477b53 d=M2161,342l-7,22,11-8,7-37z />
<path color=#118b8d d=M2154,364l-8,24,11,12,8-44z />
<path color=#043e43 d=M2009,360l-12-6,1,5,13,5z />
<path color=#063e42 d=M1997,354l-12-5,0,3,13,7z />
<path color=#062626 d=M1985,349l-13-4-1,2,14,5z />
<path color=#082725 d=M1972,345l-12-5-2,2,13,5z />
<path color=#0b2722 d=M1960,340l-12-4-3,1,13,5z />
<path color=#0d2821 d=M1948,336l-12-4-4,0,13,5z />
<path color=#11281f d=M1936,332l-12-5-5-2,13,7z />
<path color=#15291d d=M1924,327l-11-4-6-5,12,7z />
<path color=#1a291b d=M1913,323l-12-4-6-8,12,7z />
<path color=#4f6d43 d=M1901,319l-11-2-7-12,12,6z />
<path color=#6a8851 d=M1890,317l-10,1-8-15,11,2z />
<path color=#7b9657 d=M1880,318l-10,4-9-15,11-4z />
<path color=#6d965c d=M1870,322l-10,8-10-13,11-10z />
<path color=#5e9662 d=M1860,330l-9,10-10-9,9-14zM2173,384l-1-13,15-5,1,16z />
<path color=#4e956a d=M1851,340l-8,12-11-6,9-15z />
<path color=#369376 d=M1843,352l-8,12-12-3,9-15z />
<path color=#1e8277 d=M1835,364l-7,11-13-1,8-13z />
<path color=#14807d d=M1828,375l-7,10-13,0,7-11z />
<path color=#0f7e81 d=M1821,385l-5,9-14,2,6-11z />
<path color=#076f79 d=M1816,394l-6,9-13,1,5-8z />
<path color=#46956e d=M2173,397l0-13,15-2,1,13z />
<path color=#749659 d=M2172,371l-2-13,15-8,2,16z />
<path color=#829554 d=M2170,358l-3-11,15-10,3,13z />
<path color=#818748 d=M2167,347l-4-7,15-12,4,9z />
<path color=#676c39 d=M2163,340l-4-1,14-14,5,3z />
<path color=#232917 d=M2159,339l-5,4,14-14,5-4z />
<path color=#32442a d=M2154,343l-6,11,13-12,7-13z />
<path color=#3f8764 d=M2148,354l-6,15,12-5,7-22z />
<path color=#168c8a d=M2142,369l-8,17,12,2,8-24z />
<path color=#032528 d=M2018,361l-11-6,2,5,13,8z />
<path color=#062626 d=M2007,355l-11-5,1,4,12,6z />
<path color=#082725 d=M1996,350l-11-4,0,3,12,5z />
<path color=#092724 d=M1985,346l-11-3-2,2,13,4z />
<path color=#0b2722 d=M1974,343l-11-3-3,0,12,5z />
<path color=#0d2821 d=M1963,340l-11-3-4-1,12,4z />
<path color=#11281f d=M1952,337l-11-2-5-3,12,4z />
<path color=#13291e d=M1941,335l-11-3-6-5,12,5z />
<path color=#15291d d=M1930,332l-10-2-7-7,11,4z />
<path color=#3c5f3f d=M1920,330l-10-1-9-10,12,4z />
<path color=#537b4e d=M1910,329l-10,0-10-12,11,2z />
<path color=#5d8857 d=M1900,329l-10,3-10-14,10-1zM1890,332l-9,4-11-14,10-4z />
<path color=#5e9662 d=M1881,336l-8,6-13-12,10-8z />
<path color=#569666 d=M1873,342l-8,8-14-10,9-10zM2154,388l-1-11,19-6,1,13z />
<path color=#46956e d=M1865,350l-8,9-14-7,8-12zM2155,399l-1-11,19-4,0,13z />
<path color=#369376 d=M1857,359l-7,9-15-4,8-12z />
<path color=#248373 d=M1850,368l-6,9-16-2,7-11z />
<path color=#19817a d=M1844,377l-6,9-17-1,7-10z />
<path color=#14807d d=M1838,386l-5,8-17,0,5-9z />
<path color=#0b7d84 d=M1833,394l-5,7-18,2,6-9z />
<path color=#076f79 d=M1828,401l-4,8-18,1,4-7z />
<path color=#66965f d=M2153,377l-2-10,19-9,2,13z />
<path color=#749659 d=M2151,367l-2-9,18-11,3,11z />
<path color=#70884f d=M2149,358l-3-6,17-12,4,7z />
<path color=#4e5f37 d=M2146,352l-4-2,17-11,4,1z />
<path color=#202918 d=M2142,350l-5,2,17-9,5-4z />
<path color=#456d48 d=M2137,352l-5,6,16-4,6-11z />
<path color=#388667 d=M2132,358l-6,9,16,2,6-15z />
<path color=#218f82 d=M2126,367l-6,11,14,8,8-17z />
<path color=#218f82 d=M2102,365l-7,4,17,21,8-12z />
<path color=#118b8d d=M2095,369l-6,4,16,27,7-10z />
<path color=#096469 d=M2041,366l-9-5,7,16,11,9z />
<path color=#094c4d d=M2032,361l-9-4,6,11,10,9z />
<path color=#0a3431 d=M2023,357l-9-4,4,8,11,7z />
<path color=#092724 d=M2014,353l-10-2,3,4,11,6z />
<path color=#0b2722 d=M2004,351l-10-3,2,2,11,5z />
<path color=#0d2821 d=M1994,348l-9-2,0,0,11,4z />
<path color=#0f2820 d=M1985,346l-10-2-1-1,11,3zM1975,344l-9-1-3-3,11,3z />
<path color=#11281f d=M1966,343l-10-1-4-5,11,3z />
<path color=#13291e d=M1956,342l-9-1-6-6,11,2z />
<path color=#234430 d=M1947,341l-10-1-7-8,11,3z />
<path color=#325f43 d=M1937,340l-9,0-8-10,10,2z />
<path color=#3f6d4a d=M1928,340l-8,1-10-12,10,1z />
<path color=#477b53 d=M1920,341l-9,2-11-14,10,0z />
<path color=#4e885d d=M1911,343l-8,3-13-14,10-3zM1903,346l-8,4-14-14,9-4z />
<path color=#478860 d=M1895,350l-7,5-15-13,8-6z />
<path color=#3f8764 d=M1888,355l-7,6-16-11,8-8z />
<path color=#388667 d=M1881,361l-7,6-17-8,8-9z />
<path color=#2a856f d=M1874,367l-6,7-18-6,7-9z />
<path color=#248373 d=M1868,374l-6,7-18-4,6-9z />
<path color=#19817a d=M1862,381l-5,7-19-2,6-9z />
<path color=#14807d d=M1857,388l-4,6-20,0,5-8z />
<path color=#0f7e81 d=M1853,394l-4,7-21,0,5-7z />
<path color=#0b7d84 d=M1849,401l-4,6-21,2,4-8z />
<path color=#076f79 d=M1845,407l-2,6-22,2,3-6z />
<path color=#3e9472 d=M2132,401l0-9,22-4,1,11z />
<path color=#4e956a d=M2132,392l-1-8,22-7,1,11z />
<path color=#569666 d=M2131,384l-2-8,22-9,2,10z />
<path color=#66965f d=M2129,376l-2-7,22-11,2,9z />
<path color=#638854 d=M2127,369l-3-6,22-11,3,6z />
<path color=#4f6d43 d=M2124,363l-3-4,21-9,4,2z />
<path color=#1c291a d=M2121,359l-4-1,20-6,5-2z />
<path color=#1a291b d=M2117,358l-5,0,20,0,5-6z />
<path color=#407a56 d=M2112,358l-5,3,19,6,6-9z />
<path color=#369376 d=M2107,361l-5,4,18,13,6-11z />
<path color=#2c5f46 d=M2081,361l-5,0,19,8,7-4zM1961,350l-7,1-7-10,9,1z />
<path color=#2c7861 d=M2076,361l-6-1,19,13,6-4z />
<path color=#267764 d=M2070,360l-6,0,18,16,7-3zM2064,360l-6,0,16,18,8-2z />
<path color=#217667 d=M2058,360l-6-1,15,18,7,1z />
<path color=#1d695c d=M2052,359l-7-1,13,16,9,3z />
<path color=#195c50 d=M2045,358l-7-1,12,13,8,4z />
<path color=#0e352e d=M2038,357l-7-1,10,10,9,4z />
<path color=#0d2821 d=M2031,356l-7-1,8,6,9,5zM2024,355l-8-1,7,3,9,4z />
<path color=#0f2820 d=M2016,354l-8-1,6,0,9,4zM2008,353l-7-1,3-1,10,2z />
<path color=#11281f d=M2001,352l-8-1,1-3,10,3zM1993,351l-8,0,0-5,9,2zM1985,351l-8-1-2-6,10,2z />
<path color=#1c4334 d=M1977,350l-8,0-3-7,9,1z />
<path color=#26513c d=M1969,350l-8,0-5-8,10,1z />
<path color=#336c50 d=M1954,351l-8,1-9-12,10,1z />
<path color=#407a56 d=M1946,352l-7,1-11-13,9,0zM1939,353l-8,2-11-14,8-1zM1931,355l-7,2-13-14,9-2z />
<path color=#3f8764 d=M1924,357l-6,3-15-14,8-3zM1918,360l-7,3-16-13,8-4z />
<path color=#388667 d=M1911,363l-6,4-17-12,7-5z />
<path color=#31866b d=M1905,367l-6,5-18-11,7-6zM1899,372l-5,4-20-9,7-6z />
<path color=#2a856f d=M1894,376l-5,5-21-7,6-7z />
<path color=#248373 d=M1889,381l-5,5-22-5,6-7z />
<path color=#1e8277 d=M1884,386l-4,6-23-4,5-7z />
<path color=#19817a d=M1880,392l-3,5-24-3,4-6z />
<path color=#14807d d=M1877,397l-4,5-24-1,4-7z />
<path color=#0f7e81 d=M1873,402l-3,5-25,0,4-6z />
<path color=#0b7d84 d=M1870,407l-2,5-25,1,2-6zM1868,412l-2,5-26,3,3-7z />
<path color=#076f79 d=M1866,417l-1,5-26,2,1-4zM1865,422l-1,5-26,1,1-4z />
<path color=#369376 d=M2106,403l-1-6,27-5,0,9z />
<path color=#3e9472 d=M2105,397l0-6,26-7,1,8z />
<path color=#46956e d=M2105,391l-2-6,26-9,2,8z />
<path color=#478860 d=M2103,385l-2-6,26-10,2,7z />
<path color=#4e885d d=M2101,379l-2-5,25-11,3,6z />
<path color=#4d7b51 d=M2099,374l-3-4,25-11,3,4z />
<path color=#456d48 d=M2096,370l-3-3,24-9,4,1z />
<path color=#1f3625 d=M2093,367l-4-3,23-6,5,0z />
<path color=#18291c d=M2089,364l-4-2,22-1,5-3z />
<path color=#15291d d=M2085,362l-4-1,21,4,5-4z />
<path color=#325f43 d=M2057,372l-4-2,23-9,5,0z />
<path color=#2b513a d=M2053,370l-4-1,21-9,6,1z />
<path color=#204432 d=M2049,369l-4-2,19-7,6,0zM2045,367l-5-1,18-6,6,0zM2030,364l-5,0,13-7,7,1zM2025,364l-6-1,12-7,7,1z />
<path color=#193628 d=M2040,366l-5-1,17-6,6,1zM2035,365l-5-1,15-6,7,1z />
<path color=#26513c d=M2019,363l-5,0,10-8,7,1zM2014,363l-6-1,8-8,8,1zM2008,362l-6,0,6-9,8,1z />
<path color=#2c5f46 d=M2002,362l-5,0,4-10,7,1zM1997,362l-6,0,2-11,8,1z />
<path color=#336c50 d=M1991,362l-6,0,0-11,8,0zM1985,362l-6,1-2-13,8,1zM1979,363l-6,0-4-13,8,0zM1973,363l-6,1-6-14,8,0z />
<path color=#397a5a d=M1967,364l-6,1-7-14,7-1zM1961,365l-5,1-10-14,8-1z />
<path color=#32795d d=M1956,366l-6,2-11-15,7-1zM1950,368l-5,2-14-15,8-2z />
<path color=#388667 d=M1945,370l-5,2-16-15,7-2zM1940,372l-6,2-16-14,6-3zM2075,398l-1-4,29-9,2,6zM2074,394l-2-4,29-11,2,6z />
<path color=#31866b d=M1934,374l-4,3-19-14,7-3zM1930,377l-5,3-20-13,6-4zM2075,402l0-4,30-7,0,6z />
<path color=#2a856f d=M1925,380l-4,3-22-11,6-5zM1921,383l-4,3-23-10,5-4zM2075,406l0-4,30-5,1,6z />
<path color=#248373 d=M1917,386l-4,4-24-9,5-5z />
<path color=#1e8277 d=M1913,390l-3,3-26-7,5-5zM1910,393l-4,4-26-5,4-6z />
<path color=#19817a d=M1906,397l-2,4-27-4,3-5z />
<path color=#14807d d=M1904,401l-3,3-28-2,4-5zM1901,404l-2,4-29-1,3-5z />
<path color=#0f7e81 d=M1899,408l-2,4-29,0,2-5zM1897,412l-1,3-30,2,2-5z />
<path color=#0b7d84 d=M1896,415l-1,4-30,3,1-5zM1895,419l-1,3-30,5,1-5z />
<path color=#076f79 d=M1894,422l0,4-30,5,0-4z />
<path color=#3f8764 d=M2072,390l-1-4,28-12,2,5zM2071,386l-3-3,28-13,3,4z />
<path color=#478860 d=M2068,383l-2-3,27-13,3,3z />
<path color=#407a56 d=M2066,380l-3-3,26-13,4,3zM2063,377l-3-3,25-12,4,2z />
<path color=#396d4d d=M2060,374l-3-2,24-11,4,1z />
<path color=#32795d d=M2033,387l-6-3,22-15,8,3zM2027,384l-5-3,18-15,9,3zM2022,381l-7-2,15-15,10,2zM2015,379l-7-1,11-15,11,1zM2008,378l-8,0,8-16,11,1zM2000,378l-7,0,4-16,11,0zM1993,378l-8,0,0-16,12,0zM1985,378l-8,1-4-16,12-1z />
<path color=#2c7861 d=M1977,379l-8,2-8-16,12-2z />
<path color=#31866b d=M1969,381l-7,2-12-15,11-3zM1962,383l-7,3-15-14,10-4zM2043,399l-2-5,27-11,4,7z />
<path color=#2a856f d=M1955,386l-7,4-18-13,10-5zM2045,404l-2-5,29-9,3,8z />
<path color=#248373 d=M1948,390l-6,4-21-11,9-6zM1942,394l-5,4-24-8,8-7zM2045,409l0-5,30-6,0,8z />
<path color=#1e8277 d=M1937,398l-4,5-27-6,7-7z />
<path color=#19817a d=M1933,403l-4,4-28-3,5-7z />
<path color=#14807d d=M1929,407l-3,5-29,0,4-8z />
<path color=#0f7e81 d=M1926,412l-1,5-30,2,2-7zM1925,417l-1,5-30,4,1-7z />
<path color=#388667 d=M2041,394l-4-4,26-13,5,6zM2037,390l-4-3,24-15,6,5z />
<path color=#2a856f d=M2009,401l-3-2,21-15,6,3zM2006,399l-3-1,19-17,5,3zM2003,398l-3-1,15-18,7,2zM2000,397l-4-1,12-18,7,1zM1996,396l-3,0,7-18,8,0zM1993,396l-4,0,4-18,7,0zM1989,396l-4,0,0-18,8,0zM1985,396l-4,1-4-18,8-1zM1981,397l-4,1-8-17,8-2zM2013,405l-2-2,26-13,4,4zM2011,403l-2-2,24-14,4,3z />
<path color=#248373 d=M1977,398l-4,1-11-16,7-2zM1973,399l-3,2-15-15,7-3zM1970,401l-4,1-18-12,7-4zM2015,410l-1-3,29-8,2,5zM2014,407l-1-2,28-11,2,5z />
<path color=#1e8277 d=M1966,402l-3,2-21-10,6-4zM1963,404l-2,2-24-8,5-4zM2015,412l0-2,30-6,0,5z />
<path color=#19817a d=M1961,406l-2,3-26-6,4-5zM1959,409l-2,2-28-4,4-4zM1957,411l-1,2-30-1,3-5z />
<path color=#14807d d=M1956,413l-1,3-30,1,1-5zM1955,416l0,2-31,4,1-5z />
<path color=#1e8277 d=M1985,415l18-17,6,3zM1985,415l11-19,7,2zM1985,415l4-19,7,0zM1985,415l-4-18,8-1zM1985,415l-12-16,8-2zM1985,415l-19-13,7-3zM1985,415l28-10,2,5zM1985,415l24-14,4,4z />
<path color=#19817a d=M1985,415l-24-9,5-4zM1985,415l-28-4,4-5zM1985,415l-30,1,2-5z />
<path color=#14807d d=M1985,415l-30,6,0-5z />
<path color=#14807d d=M1985,415l-28,10-2-4zM1985,415l-24,14-4-4zM1985,415l-19,16-5-2zM1985,415l11,16-7,2zM1985,415l18,13-7,3zM1985,415l24,9-6,4z />
<path color=#0f7e81 d=M1985,415l-12,18-7-2zM1985,415l-4,19-8-1zM1985,415l4,18-8,1z />
<path color=#19817a d=M1985,415l28,5-4,4zM1985,415l30,0-2,5zM1985,415l30-5,0,5z />
<path color=#0f7e81 d=M1955,418l0,3-30,5-1-4zM1955,421l1,2-30,8-1-5zM1956,423l1,2-28,10-3-4zM2000,430l3-2,19,14-7,3zM2003,428l3-2,21,12-5,4zM2006,426l3-2,24,10-6,4z />
<path color=#0b7d84 d=M1957,425l2,2-26,11-4-3zM1959,427l2,2-24,13-4-4zM1961,429l2,1-21,15-5-3zM1963,430l3,1-18,16-6-2zM1966,431l4,1-15,17-7-2zM1970,432l3,1-11,18-7-2zM1973,433l4,0-8,18-7,0zM1977,433l4,1-4,18-8-1zM1981,434l4-1,0,19-8,0zM1985,433l4,0,4,18-8,1zM1989,433l4-1,7,17-7,2zM1993,432l3-1,12,16-8,2zM1996,431l4-1,15,15-7,2z />
<path color=#14807d d=M2009,424l2-2,26,8-4,4zM2011,422l2-2,28,5-4,5z />
<path color=#19817a d=M2013,420l1-3,29,3-2,5zM2014,417l1-2,30,0-2,5z />
<path color=#1e8277 d=M2015,415l0-3,30-3,0,6z />
<path color=#0b7d84 d=M1924,422l1,4-30,7-1-7zM1925,426l1,5-29,8-2-6zM2022,442l5-4,22,13-9,5zM2027,438l6-4,24,11-8,6z />
<path color=#076f79 d=M1926,431l3,4-28,9-4-5zM1929,435l4,3-27,10-5-4zM1933,438l4,4-24,10-7-4zM2000,449l8-2,11,15-11,1zM2008,447l7-2,15,14-11,3zM2015,445l7-3,18,14-10,3z />
<path color=#0f7e81 d=M2033,434l4-4,26,8-6,7z />
<path color=#14807d d=M2037,430l4-5,27,6-5,7z />
<path color=#19817a d=M2041,425l2-5,29,3-4,8z />
<path color=#1e8277 d=M2043,420l2-5,30,0-3,8zM2045,415l0-6,30-3,0,9z />
<path color=#076f79 d=M1894,426l0,3-30,5,0-3zM1894,429l1,4-30,4-1-3zM2049,451l4-3,23,12-6,3z />
<path color=#087b87 d=M2053,448l4-3,24,12-5,3zM2057,445l3-3,25,11-4,4z />
<path color=#0b7d84 d=M2060,442l3-4,26,10-4,5z />
<path color=#0f7e81 d=M2063,438l3-3,27,9-4,4zM2066,435l2-4,28,8-3,5z />
<path color=#14807d d=M2068,431l3-4,28,6-3,6zM2071,427l1-4,29,5-2,5z />
<path color=#19817a d=M2072,423l2-4,29,3-2,6z />
<path color=#1e8277 d=M2074,419l1-4,30,1-2,6z />
<path color=#248373 d=M2075,415l0-4,30-1,0,6zM2075,411l0-5,31-3-1,7z />
<path color=#087b87 d=M2085,453l4-5,23,10-5,3zM2089,448l4-4,24,9-5,5z />
<path color=#0b7d84 d=M2093,444l3-5,25,7-4,7z />
<path color=#0f7e81 d=M2096,439l3-6,25,7-3,6z />
<path color=#14807d d=M2099,433l2-5,26,5-3,7z />
<path color=#19817a d=M2101,428l2-6,26,4-2,7z />
<path color=#1e8277 d=M2103,422l2-6,26,2-2,8z />
<path color=#248373 d=M2105,416l0-6,27,0-1,8z />
<path color=#2f927a d=M2105,410l1-7,26-2,0,9z />
<path color=#087b87 d=M2117,453l4-7,21,7-5,5z />
<path color=#0b7d84 d=M2121,446l3-6,22,5-4,8z />
<path color=#0f7e81 d=M2124,440l3-7,22,4-3,8z />
<path color=#14807d d=M2127,433l2-7,22,2-2,9z />
<path color=#19817a d=M2129,426l2-8,22,1-2,9z />
<path color=#28917e d=M2131,418l1-8,22-1-1,10z />
<path color=#2f927a d=M2132,410l0-9,23-2-1,10z />
<path color=#076f79 d=M2137,458l5-5,17,0-5,7z />
<path color=#0a7077 d=M2142,453l4-8,17,1-4,7z />
<path color=#0f7e81 d=M2146,445l3-8,18,1-4,8z />
<path color=#14807d d=M2149,437l2-9,19,0-3,10z />
<path color=#19817a d=M2151,428l2-9,19-1-2,10z />
<path color=#28917e d=M2153,419l1-10,19-1-1,10z />
<path color=#369376 d=M2154,409l1-10,18-2,0,11z />
<path color=#076f79 d=M2148,466l6-6,14-1-7,7z />
<path color=#0a7077 d=M2154,460l5-7,14-2-5,8z />
<path color=#0e7274 d=M2159,453l4-7,15-3-5,8zM2163,446l4-8,15-3-4,8z />
<path color=#19817a d=M2167,438l3-10,15-1-3,8z />
<path color=#1e8277 d=M2170,428l2-10,15-1-2,10z />
<path color=#2a856f d=M2172,418l1-10,15-1-1,10z />
<path color=#369376 d=M2173,408l0-11,16-2-1,12z />
<path color=#06636c d=M2154,473l7-7,11,0-7,8z />
<path color=#0a7077 d=M2161,466l7-7,11-1-7,8z />
<path color=#0e7274 d=M2168,459l5-8,12-2-6,9z />
<path color=#127371 d=M2173,451l5-8,12-3-5,9z />
<path color=#17746e d=M2178,443l4-8,12-4-4,9z />
<path color=#1b756b d=M2182,435l3-8,12-3-3,7z />
<path color=#248373 d=M2185,427l2-10,13-1-3,8z />
<path color=#2a856f d=M2187,417l1-10,13,0-1,9z />
<path color=#31866b d=M2188,407l1-12,12,1,0,11z />
<path color=#076f79 d=M2165,474l7-8,10,0-8,8z />
<path color=#0a7077 d=M2172,466l7-8,10-1-7,9z />
<path color=#127371 d=M2179,458l6-9,10-2-6,10z />
<path color=#17746e d=M2185,449l5-9,11-3-6,10z />
<path color=#1b756b d=M2190,440l4-9,11-3-4,9z />
<path color=#1d695c d=M2194,431l3-7,11-2-3,6zM2197,424l3-8,11,1-3,5z />
<path color=#2a856f d=M2200,416l1-9,11,2-1,8z />
<path color=#31866b d=M2201,407l0-11,12,3-1,10z />
<path color=#06636c d=M2166,481l8-7,8,0-9,7z />
<path color=#0a7077 d=M2174,474l8-8,9,0-9,8z />
<path color=#0e7274 d=M2182,466l7-9,9,0-7,9z />
<path color=#14807d d=M2189,457l6-10,9-1-6,11z />
<path color=#1b756b d=M2195,447l6-10,9-1-6,10z />
<path color=#217667 d=M2201,437l4-9,9-1-4,9z />
<path color=#226a59 d=M2205,428l3-6,10-1-4,6z />
<path color=#195043 d=M2208,422l3-5,9,0-2,4z />
<path color=#267764 d=M2211,417l1-8,10,2-2,6zM2212,409l1-10,10,4-1,8z />
<path color=#06636c d=M2164,487l9-6,6,3-10,4zM2210,436l4-9,8,26-5,6z />
<path color=#076f79 d=M2173,481l9-7,7,5-10,5zM2204,446l6-10,7,23-6,5z />
<path color=#087b87 d=M2182,474l9-8,6,8-8,5zM2191,466l7-9,7,12-8,5zM2198,457l6-11,7,18-6,5z />
<path color=#06565e d=M2214,427l4-6,7,26-3,6z />
<path color=#043e43 d=M2218,421l2-4,8,25-3,5z />
<path color=#022528 d=M2220,417l2-6,8,25-2,6zM2222,411l1-8,7,27,0,6z />
<path stroke=#012 stroke-opacity=.5 stroke-width=1.5 fill=none d=M2198,457l7,12M2204,446l7,18M2210,436l7,23M2214,427l8,26M2218,421l7,26M2220,417l8,25M2222,411l8,25 /></g></g>
<g><path class="g" d="M608.9,140.5L535.8,106.4L535.8,31.8M632.7,134L559.6,99.8L559.6,25.2M656.5,127.4L583.4,93.3L583.4,18.7M566.8,138.6L662,112.3L662,37.7M548.5,130L643.8,103.8L643.8,29.2M530.3,121.5L625.5,95.2L625.5,20.6M512,94.3L607.2,68.1L680.3,102.2M512,75.6L607.2,49.4L680.3,83.6M512,57L607.2,30.8L680.3,64.9M512,38.3L607.2,12.1L680.3,46.3M607.2,86.7L607.2,12.1M512,112.9L607.2,86.7L680.3,120.9M680.3,120.9L680.3,46.3"/>
<path class="a" d="M512,38.3L512,112.9L585.1,147.1L680.3,120.9M585.1,147.1L583.4,147.6M566.8,138.6L565.2,139M548.5,130L546.9,130.5M530.3,121.5L528.6,121.9M512,112.9L510.4,113.4M585.1,147.1L586.6,147.8M608.9,140.5L610.4,141.3M632.7,134L634.2,134.7M656.5,127.4L658,128.2M680.3,120.9L681.8,121.6M512,112.9L510.3,112.9M512,94.3L510.3,94.3M512,75.6L510.3,75.6M512,57L510.3,57M512,38.3L510.3,38.3"/><g transform="scale(.2)" fill="currentColor" stroke="currentColor" stroke-width="2" stroke-linejoin="round"><path color=#0a3b8e d=M3046,440l-14-1,1-4,16,2zM2955,437l-15,0-1-4,15-1zM2940,437l-16,1-1-4,16-1zM2924,438l-15,1-2-4,16-1zM2909,439l-15,2-2-4,15-2zM2894,441l-14,2-3-4,15-2zM2880,443l-14,2-3-4,14-2zM2866,445l-14,3-4-4,15-3zM2852,448l-13,3-4-4,13-3zM2839,451l-12,3-5-4,13-3zM2827,454l-12,3-5-3,12-4zM2815,457l-12,4-5-3,12-4zM2803,461l-10,4-6-3,11-4zM2793,465l-10,4-6-3,10-4zM2783,469l-9,5-6-3,9-5zM2774,474l-8,4-7-2,9-5z />
<path color=#0b429e d=M3032,439l-16-1,2-4,15,1zM3016,438l-15,0,1-5,16,1zM3001,438l-15-1,0-5,16,1zM2986,437l-16-1,0-4,16,0zM2970,436l-15,1-1-5,16,0z />
<path color=#09347f d=M2766,478l-8,5-6-2,7-5zM2758,483l-6,5-7-2,7-5zM2752,488l-5,5-8-2,6-5zM2747,493l-5,5-7-1,4-6zM2742,498l-3,6-8-2,4-5zM2739,504l-3,5-7-1,2-6z />
<path color=#082e6f d=M2736,509l-1,5-8,0,2-6zM2735,514l-1,6-7,0,0-6z />
<path color=#082e6f d=M3043,443l-14,0,3-4,14,1zM3029,443l-14-1,1-4,16,1zM3015,442l-15-1,1-3,15,0zM3000,441l-15-1,1-3,15,1zM2761,490l-5,5-9-2,5-5zM2756,495l-4,5-10-2,5-5zM2752,500l-4,5-9-1,3-6zM2748,505l-2,5-10-1,3-5zM2746,510l-2,5-9-1,1-5zM2744,515l0,5-10,0,1-6z />
<path color=#09347f d=M2985,440l-15,0,0-4,16,1zM2970,440l-14,0-1-3,15-1zM2956,440l-15,1-1-4,15,0zM2941,441l-15,0-2-3,16-1zM2926,441l-14,2-3-4,15-1zM2912,443l-14,1-4-3,15-2zM2898,444l-14,2-4-3,14-2zM2884,446l-14,3-4-4,14-2zM2870,449l-13,2-5-3,14-3zM2857,451l-13,3-5-3,13-3zM2844,454l-12,3-5-3,12-3zM2832,457l-11,4-6-4,12-3zM2821,461l-11,3-7-3,12-4zM2810,464l-10,4-7-3,10-4zM2800,468l-9,4-8-3,10-4zM2791,472l-9,5-8-3,9-5zM2782,477l-8,4-8-3,8-4zM2774,481l-7,5-9-3,8-5zM2767,486l-6,4-9-2,6-5z />
<path color=#082e6f d=M3040,447l-14,0,3-4,14,0zM3026,447l-14-1,3-4,14,1zM3012,446l-14-1,2-4,15,1zM2998,445l-14-1,1-4,15,1zM2771,493l-5,4-10-2,5-5zM2766,497l-4,4-10-1,4-5zM2762,501l-3,5-11-1,4-5zM2759,506l-2,4-11,0,2-5zM2757,510l-1,5-12,0,2-5zM2756,515l-1,5-11,0,0-5z />
<path color=#09347f d=M2984,444l-14,0,0-4,15,0zM2970,444l-14,0,0-4,14,0zM2956,444l-14,1-1-4,15-1zM2942,445l-14,1-2-5,15,0zM2928,446l-13,1-3-4,14-2zM2915,447l-14,2-3-5,14-1zM2901,449l-13,2-4-5,14-2zM2888,451l-13,2-5-4,14-3zM2875,453l-12,3-6-5,13-2zM2863,456l-12,3-7-5,13-3zM2851,459l-12,3-7-5,12-3zM2839,462l-11,3-7-4,11-4zM2828,465l-10,4-8-5,11-3zM2818,469l-10,3-8-4,10-4zM2808,472l-8,4-9-4,9-4zM2800,476l-9,4-9-3,9-5zM2791,480l-7,4-10-3,8-4zM2784,484l-7,5-10-3,7-5zM2777,489l-6,4-10-3,6-4z />
<path color=#082e6f d=M3035,451l-12,0,3-4,14,0zM3023,451l-13-1,2-4,14,1zM3010,450l-13,0,1-5,14,1zM2997,450l-13-1,0-5,14,1zM2984,449l-14,0,0-5,14,0zM2783,496l-4,3-13-2,5-4zM2779,499l-4,4-13-2,4-4zM2775,503l-3,4-13-1,3-5zM2772,507l-2,4-13-1,2-4zM2770,511l-2,4-12,0,1-5zM2768,515l0,5-13,0,1-5z />
<path color=#09347f d=M2970,449l-13,0-1-5,14,0zM2957,449l-13,1-2-5,14-1zM2944,450l-13,1-3-5,14-1zM2931,451l-13,1-3-5,13-1zM2918,452l-13,2-4-5,14-2zM2905,454l-12,2-5-5,13-2zM2893,456l-12,2-6-5,13-2z />
<path color=#0a3b8e d=M2881,458l-12,3-6-5,12-3z />
<path color=#133689 d=M2869,461l-11,3-7-5,12-3zM2858,464l-11,3-8-5,12-3zM2847,467l-10,4-9-6,11-3zM2837,471l-10,3-9-5,10-4zM2827,474l-9,4-10-6,10-3zM2818,478l-8,3-10-5,8-4zM2810,481l-8,4-11-5,9-4z />
<path color=#11307a d=M2802,485l-7,4-11-5,7-4zM2795,489l-6,3-12-3,7-5z />
<path color=#0f2a6a d=M2789,492l-6,4-12-3,6-4z />
<path color=#082e6f d=M3031,457l-12-1,4-5,12,0zM3019,456l-12-1,3-5,13,1zM3007,455l-12,0,2-5,13,0zM2995,455l-12-1,1-5,13,1zM2983,454l-13,0,0-5,14,0zM2786,508l-2,4-14-1,2-4zM2784,512l-1,4-15-1,2-4zM2783,516l0,4-15,0,0-5z />
<path color=#09347f d=M2970,454l-12,1-1-6,13,0zM2958,455l-12,0-2-5,13-1zM2946,455l-12,1-3-5,13-1zM2934,456l-12,2-4-6,13-1zM2922,458l-12,2-5-6,13-2z />
<path color=#133689 d=M2910,460l-11,2-6-6,12-2zM2899,462l-12,3-6-7,12-2zM2887,465l-10,3-8-7,12-3zM2877,468l-11,3-8-7,11-3zM2866,471l-10,3-9-7,11-3zM2856,474l-9,4-10-7,10-4z />
<path color=#1a3182 d=M2847,478l-9,3-11-7,10-3zM2838,481l-9,3-11-6,9-4zM2829,484l-7,4-12-7,8-3z />
<path color=#172c73 d=M2822,488l-8,3-12-6,8-4z />
<path color=#11307a d=M2814,491l-6,2-13-4,7-4z />
<path color=#0f2a6a d=M2808,493l-6,3-13-4,6-3zM2802,496l-5,3-14-3,6-4z />
<path color=#0d245b d=M2797,499l-4,3-14-3,4-3z />
<path color=#06275f d=M2793,502l-4,3-14-2,4-4zM2789,505l-3,3-14-1,3-4z />
<path color=#082e6f d=M3035,464l-10-1,6-6,11-1zM3025,463l-11,0,5-7,12,1zM3014,463l-11-1,4-7,12,1zM3003,462l-11-1,3-6,12,0zM2992,461l-11,0,2-7,12,1zM2981,461l-11,0,0-7,13,0zM2970,461l-11,0-1-6,12-1zM2803,513l-1,3-19,0,1-4zM2802,516l0,4-19,0,0-4z />
<path color=#09347f d=M2959,461l-11,1-2-7,12,0zM2948,462l-11,1-3-7,12-1zM2937,463l-10,2-5-7,12-2z />
<path color=#11307a d=M2927,465l-11,2-6-7,12-2zM2916,467l-10,3-7-8,11-2z />
<path color=#133689 d=M2906,470l-10,2-9-7,12-3zM2896,472l-10,3-9-7,10-3z />
<path color=#1a3182 d=M2886,475l-9,4-11-8,11-3zM2877,479l-9,3-12-8,10-3zM2868,482l-9,3-12-7,9-4zM2859,485l-8,3-13-7,9-3z />
<path color=#1f2d7a d=M2851,488l-8,3-14-7,9-3z />
<path color=#172c73 d=M2843,491l-7,3-14-6,7-4zM2836,494l-6,2-16-5,8-3z />
<path color=#142665 d=M2830,496l-6,2-16-5,6-2z />
<path color=#112157 d=M2824,498l-5,2-17-4,6-3z />
<path color=#0b1e4c d=M2819,500l-5,2-17-3,5-3zM2814,502l-3,2-18-2,4-3zM2811,504l-4,3-18-2,4-3z />
<path color=#06275f d=M2807,507l-2,3-19-2,3-3zM2805,510l-2,3-19-1,2-4z />
<path color=#082e6f d=M3026,472l-9-1,8-8,10,1zM3017,471l-9-1,6-7,11,0zM3008,470l-9,0,4-8,11,1zM2999,470l-10-1,3-8,11,1zM2989,469l-9,0,1-8,11,0zM2980,469l-10,0,0-8,11,0zM2970,469l-9,0-2-8,11,0zM2961,469l-10,1-3-8,11-1zM2951,470l-9,1-5-8,11-1zM2825,514l-1,3-22-1,1-3zM2824,517l0,3-22,0,0-4z />
<path color=#09347f d=M2942,471l-9,2-6-8,10-2z />
<path color=#11307a d=M2933,473l-10,1-7-7,11-2zM2923,474l-9,3-8-7,10-3zM2914,477l-8,2-10-7,10-2z />
<path color=#172c73 d=M2906,479l-9,3-11-7,10-3zM2897,482l-8,3-12-6,9-4zM2889,485l-8,3-13-6,9-3z />
<path color=#1b286d d=M2881,488l-7,2-15-5,9-3z />
<path color=#18235f d=M2874,490l-7,3-16-5,8-3z />
<path color=#141e52 d=M2867,493l-7,2-17-4,8-3zM2860,495l-6,2-18-3,7-3z />
<path color=#0f1b48 d=M2854,497l-5,2-19-3,6-2z />
<path color=#09102b d=M2849,499l-5,2-20-3,6-2zM2844,501l-5,1-20-2,5-2z />
<path color=#06122e d=M2839,502l-4,2-21-2,5-2z />
<path color=#09183d d=M2835,504l-3,2-21-2,3-2z />
<path color=#041a3f d=M2832,506l-3,2-22-1,4-3z />
<path color=#05214f d=M2829,508l-2,3-22-1,2-3z />
<path color=#06275f d=M2827,511l-2,3-22-1,2-3z />
<path color=#0a3b8e d=M3117,521l-1-4,23-2,0,5z />
<path color=#082e6f d=M3030,483l-7-1,12-9,9,1zM3023,482l-7-1,10-9,9,1zM3016,481l-7-1,8-9,9,1zM3009,480l-8,0,7-10,9,1zM3001,480l-7-1,5-9,9,0zM2994,479l-8,0,3-10,10,1zM2986,479l-8-1,2-9,9,0zM2978,478l-8,0,0-9,10,0zM2970,478l-7,0-2-9,9,0zM2963,478l-8,1-4-9,10-1zM2955,479l-8,1-5-9,9-1zM2947,480l-8,1-6-8,9-2zM2939,481l-7,1-9-8,10-1zM2851,515l0,2-27,0,1-3zM2851,517l-1,3-26,0,0-3z />
<path color=#0f2a6a d=M2932,482l-8,1-10-6,9-3z />
<path color=#0d245b d=M2924,483l-7,2-11-6,8-2zM2917,485l-7,2-13-5,9-3zM2910,487l-6,2-15-4,8-3z />
<path color=#0f1b48 d=M2904,489l-7,2-16-3,8-3zM2897,491l-6,1-17-2,7-2z />
<path color=#0c163a d=M2891,492l-6,2-18-1,7-3z />
<path color=#09102b d=M2885,494l-5,2-20-1,7-2zM2880,496l-5,2-21-1,6-2z />
<path color=#06122e d=M2875,498l-4,2-22-1,5-2zM2871,500l-5,2-22-1,5-2zM2866,502l-3,1-24-1,5-1zM2863,503l-4,2-24-1,4-2z />
<path color=#041a3f d=M2859,505l-2,2-25-1,3-2z />
<path color=#05214f d=M2857,507l-3,3-25-2,3-2z />
<path color=#06275f d=M2854,510l-1,2-26-1,2-3zM2853,512l-2,3-26-1,2-3z />
<path color=#09347f d=M3090,521l0-3,26-1,1,4zM3090,518l-1-3,26-2,1,4z />
<path color=#033f90 d=M3089,515l-1-3,26-4,1,5z />
<path color=#09347f d=M3042,501l-4-2,23-8,5,2zM3038,499l-4-1,21-9,6,2zM3030,497l-5-2,18-9,7,1zM3060,521l0-2,30-1,0,3zM3060,519l0-2,29-2,1,3zM3060,517l-1-2,29-3,1,3zM3059,515l-2-3,29-3,2,3zM3057,512l-1-2,28-4,2,3zM3056,510l-2-2,27-5,3,3zM3054,508l-3-1,27-6,3,2zM3051,507l-3-2,26-7,4,3zM3048,505l-3-2,25-8,4,3zM3045,503l-3-2,24-8,4,2z />
<path color=#082e6f d=M3034,498l-4-1,20-10,5,2zM3025,495l-5-1,17-9,6,1zM3020,494l-5-1,15-10,7,2zM3015,493l-5-1,13-10,7,1zM3010,492l-5-1,11-10,7,1zM3005,491l-6-1,10-10,7,1zM2999,490l-5,0,7-10,8,0zM2994,490l-6-1,6-10,7,1zM2988,489l-6,0,4-10,8,0zM2982,489l-6,0,2-11,8,1zM2976,489l-6,0,0-11,8,0zM2970,489l-6,0-1-11,7,0zM2964,489l-5,0-4-10,8-1zM2959,489l-6,0-6-9,8-1zM2953,489l-6,1-8-9,8-1zM2947,490l-6,1-9-9,7-1zM2941,491l-5,0-12-8,8-1zM2936,491l-5,1-14-7,7-2zM2883,512l-1,2-29-2,1-2zM2882,514l-1,2-30-1,2-3zM2881,516l0,2-30-1,0-2zM2881,518l-1,2-30,0,1-3z />
<path color=#06275f d=M2931,492l-6,1-15-6,7-2zM2925,493l-5,1-16-5,6-2zM2920,494l-4,2-19-5,7-2zM2916,496l-5,1-20-5,6-1zM2892,505l-2,1-27-3,3-1zM2890,506l-3,2-28-3,4-2zM2887,508l-2,2-28-3,2-2zM2885,510l-2,2-29-2,3-3z />
<path color=#05214f d=M2911,497l-4,1-22-4,6-2zM2907,498l-4,2-23-4,5-2zM2903,500l-4,1-24-3,5-2zM2899,501l-3,2-25-3,4-2zM2896,503l-4,2-26-3,5-2z />
<path color=#082e6f d=M3018,508l-5-2,21-8,8,3zM3013,506l-6-2,18-9,9,3zM3007,504l-7-2,15-9,10,2zM3000,502l-7-1,12-10,10,2zM2993,501l-7-1,8-10,11,1zM2986,500l-8-1,4-10,12,1zM2978,499l-8,0,0-10,12,0zM2970,499l-7,0-4-10,11,0zM2963,499l-8,1-8-10,12-1zM2955,500l-8,1-11-10,11-1zM2947,501l-7,1-15-9,11-2zM2940,502l-6,1-18-7,9-3zM2934,503l-6,2-21-7,9-2zM2928,505l-5,2-24-6,8-3zM2923,507l-5,3-26-5,7-4zM2918,510l-3,2-28-4,5-3zM2915,512l-3,3-29-3,4-4zM2912,515l-1,2-30-1,2-4zM2911,517l-1,3-30,0,1-4zM3030,521l0-3,30-1,0,4zM3030,518l-2-3,29-3,3,5zM3028,515l-2-2,28-5,3,4zM3026,513l-4-3,26-5,6,3zM3022,510l-4-2,24-7,6,4z />
<path color=#082e6f d=M2994,514l-2-1,21-7,5,2zM2992,513l-3-1,18-8,6,2zM2989,512l-4-1,15-9,7,2zM2985,511l-3,0,11-10,7,1zM2982,511l-4-1,8-10,7,1zM2978,510l-4,0,4-11,8,1zM2974,510l-4,0,0-11,8,0zM2970,510l-4,0-3-11,7,0zM2966,510l-3,0-8-10,8-1zM2963,510l-4,1-12-10,8-1zM2959,511l-4,0-15-9,7-1zM2955,511l-3,1-18-9,6-1zM2952,512l-3,1-21-8,6-2zM2949,513l-2,1-24-7,5-2zM2947,514l-3,1-26-5,5-3zM2944,515l-1,1-28-4,3-2zM2943,516l-2,2-29-3,3-3zM2941,518l0,1-30-2,1-2zM2941,519l-1,1-30,0,1-3zM3000,521l0-2,30-1,0,3zM3000,519l-1-1,29-3,2,3zM2999,518l-1-1,28-4,2,2zM2998,517l-2-2,26-5,4,3zM2996,515l-2-1,24-6,4,2z />
<path color=#082e6f d=M2970,520l19-8,5,2zM2970,520l12-9,7,1zM2970,520l4-10,8,1zM2970,520l-4-10,8,0zM2970,520l-11-9,7-1zM2970,520l-18-8,7-1zM2970,520l-23-6,5-2zM2970,520l-27-4,4-2zM2970,520l-29-1,2-3zM2970,520l-29,2,0-3zM2970,520l28-3,2,2zM2970,520l24-6,4,3z />
<path color=#082e6f d=M2970,520l-27,4-2-2zM2970,520l-23,7-4-3zM2970,520l-18,9-5-2zM2970,520l-11,10-7-1zM2970,520l-4,11-7-1zM2970,520l4,11-8,0zM2970,520l12,10-8,1zM2970,520l19,9-7,1zM2970,520l24,7-5,2zM2970,520l28,5-4,2zM2970,520l30,2-2,3zM2970,520l30-1,0,3z />
<path color=#082e6f d=M2940,520l1,2-30,1-1-3zM2941,522l0,1-29,3-1-3zM2941,523l2,1-28,4-3-2zM2943,524l1,2-26,5-3-3zM2944,526l3,1-24,6-5-2zM2947,527l2,1-21,7-5-2zM2949,528l3,1-18,8-6-2zM2952,529l3,1-15,9-6-2zM2955,530l4,0-12,10-7-1zM2959,530l4,1-8,10-8-1zM2963,531l3,0-3,11-8-1zM2966,531l4,0,0,11-7,0zM2970,531l4,0,4,11-8,0zM2974,531l4,0,8,10-8,1zM2978,531l4-1,11,10-7,1zM2982,530l3,0,15,9-7,1zM2985,530l4-1,18,9-7,1zM2989,529l3-1,21,8-6,2zM2992,528l2-1,24,7-5,2zM2994,527l2-1,26,5-4,3zM2996,526l2-1,28,4-4,2zM2998,525l1-2,29,3-2,3zM2999,523l1-1,30,2-2,2zM3000,522l0-1,30,0,0,3z />
<path color=#082e6f d=M2910,520l1,3-30,1-1-4zM2911,523l1,3-29,2-2-4zM2912,526l3,2-28,4-4-4zM2915,528l3,3-26,5-5-4zM2918,531l5,2-24,7-7-4zM2923,533l5,2-21,8-8-3zM2928,535l6,2-18,9-9-3zM2934,537l6,2-15,9-9-2zM2940,539l7,1-11,10-11-2zM2947,540l8,1-8,10-11-1zM2955,541l8,1-4,10-12-1zM2963,542l7,0,0,10-11,0zM2970,542l8,0,4,10-12,0zM2978,542l8-1,8,10-12,1zM2986,541l7-1,12,10-11,1zM2993,540l7-1,15,9-10,2zM3000,539l7-1,18,8-10,2zM3007,538l6-2,21,7-9,3zM3013,536l5-2,24,6-8,3zM3018,534l4-3,26,6-6,3zM3022,531l4-2,28,4-6,4zM3026,529l2-3,29,3-3,4zM3028,526l2-2,30,1-3,4zM3030,524l0-3,30,0,0,4z />
<path color=#082e6f d=M2880,520l1,2-30,1-1-3zM2881,522l0,2-30,2,0-3zM2881,524l1,2-29,2-2-2zM2882,526l1,2-29,3-1-3zM2883,528l2,2-28,4-3-3zM2885,530l2,2-28,4-2-2zM2887,532l3,2-27,5-4-3zM2890,534l2,2-26,5-3-2zM2892,536l4,2-25,6-5-3zM2896,538l3,2-24,6-4-2zM2899,540l4,1-23,7-5-2zM2903,541l4,2-22,7-5-2zM2907,543l4,1-20,8-6-2zM2911,544l5,2-19,8-6-2zM2916,546l4,1-16,9-7-2zM2920,547l5,1-15,9-6-1zM2925,548l6,1-14,10-7-2zM2931,549l5,1-12,10-7-1zM2936,550l5,1-9,10-8-1zM2941,551l6,0-8,11-7-1zM2947,551l6,1-6,10-8,0zM2953,552l6,0-4,11-8-1zM2959,552l5,0-1,11-8,0zM2964,552l6,0,0,11-7,0zM2970,552l6,0,2,11-8,0zM2976,552l6,0,4,11-8,0zM2982,552l6,0,6,10-8,1zM2988,552l6-1,7,11-7,0zM2994,551l5,0,10,10-8,1zM2999,551l6-1,11,10-7,1zM3005,550l5-1,13,10-7,1zM3010,549l5-1,15,10-7,1zM3015,548l5-1,17,9-7,2zM3020,547l5-1,18,9-6,1zM3025,546l5-1,20,8-7,2zM3030,545l4-2,21,8-5,2zM3034,543l4-1,23,7-6,2zM3038,542l4-2,24,7-5,2zM3042,540l3-1,25,6-4,2zM3045,539l3-2,26,5-4,3zM3048,537l3-2,27,5-4,2zM3051,535l3-2,27,4-3,3zM3054,533l2-2,28,4-3,2zM3056,531l1-2,29,3-2,3zM3057,529l2-2,29,2-2,3zM3059,527l1-2,29,2-1,2zM3060,525l0-2,30,1-1,3zM3060,523l0-2,30,0,0,3z />
<path color=#082e6f d=M2850,520l1,3-27,0,0-3zM2851,523l0,3-26,1-1-4zM2851,526l2,2-26,2-2-3zM2853,528l1,3-25,2-2-3zM2854,531l3,3-25,3-3-4zM2857,534l2,2-24,4-3-3zM2859,536l4,3-24,4-4-3zM2863,539l3,2-22,5-5-3zM2866,541l5,3-22,5-5-3zM2871,544l4,2-21,6-5-3zM2875,546l5,2-20,6-6-2zM2880,548l5,2-18,7-7-3zM2885,550l6,2-17,7-7-2zM2891,552l6,2-16,7-7-2zM2897,554l7,2-15,7-8-2zM2904,556l6,1-13,8-8-2zM2910,557l7,2-11,8-9-2zM2917,559l7,1-10,8-8-1zM2924,560l8,1-9,9-9-2zM2932,561l7,1-6,9-10-1zM2939,562l8,0-5,9-9,0zM2947,562l8,1-4,9-9-1zM2955,563l8,0-2,9-10,0zM2963,563l7,0,0,9-9,0zM2970,563l8,0,2,9-10,0zM2978,563l8,0,3,9-9,0zM2986,563l8-1,5,9-10,1zM2994,562l7,0,7,9-9,0zM3001,562l8-1,8,9-9,1zM3009,561l7-1,10,9-9,1zM3016,560l7-1,12,8-9,2zM3023,559l7-1,14,8-9,1zM3030,558l7-2,15,8-8,2zM3037,556l6-1,16,7-7,2zM3043,555l7-2,17,7-8,2zM3050,553l5-2,19,7-7,2zM3055,551l6-2,19,6-6,3zM3061,549l5-2,20,6-6,2zM3066,547l4-2,22,5-6,3zM3070,545l4-3,23,5-5,3zM3074,542l4-2,24,4-5,3zM3078,540l3-3,25,4-4,3zM3081,537l3-2,25,3-3,3zM3084,535l2-3,26,3-3,3zM3086,532l2-3,26,2-2,4zM3088,529l1-2,26,1-1,3z />
<path color=#09347f d=M3089,527l1-3,26,0-1,4zM3090,524l0-3,27,0-1,3z />
<path color=#082e6f d=M2824,520l0,3-22,1,0-4zM2824,523l1,4-22,1-1-4zM2825,527l2,3-22,2-2-4zM2827,530l2,3-22,2-2-3zM2829,533l3,4-21,2-4-4zM2832,537l3,3-21,3-3-4zM2835,540l4,3-20,4-5-4zM2839,543l5,3-20,4-5-3zM2844,546l5,3-19,4-6-3zM2849,549l5,3-18,5-6-4zM2854,552l6,2-17,6-7-3zM2860,554l7,3-16,6-8-3zM2867,557l7,2-15,6-8-2zM2874,559l7,2-13,7-9-3zM2881,561l8,2-12,7-9-2zM2889,563l8,2-11,7-9-2zM2897,565l9,2-10,7-10-2zM2906,567l8,1-8,8-10-2zM2914,568l9,2-7,7-10-1zM2923,570l10,1-6,7-11-1zM2933,571l9,0-5,8-10-1zM2942,571l9,1-3,8-11-1zM2951,572l10,0-2,8-11,0zM2961,572l9,0,0,8-11,0zM2970,572l10,0,1,8-11,0zM2980,572l9,0,3,8-11,0zM2989,572l10-1,4,8-11,1zM2999,571l9,0,6,7-11,1zM3008,571l9-1,8,7-11,1zM3017,570l9-1,9,7-10,1zM3026,569l9-2,10,7-10,2zM3035,567l9-1,11,7-10,1zM3044,566l8-2,12,7-9,2zM3052,564l7-2,14,6-9,3zM3059,562l8-2,15,6-9,2zM3067,560l7-2,16,5-8,3zM3074,558l6-3,17,5-7,3zM3080,555l6-2,18,4-7,3zM3086,553l6-3,19,4-7,3zM3092,550l5-3,20,4-6,3zM3097,547l5-3,20,4-5,3zM3102,544l4-3,20,3-4,4zM3106,541l3-3,21,3-4,3zM3109,538l3-3,21,2-3,4zM3112,535l2-4,22,2-3,4z />
<path color=#09347f d=M3114,531l1-3,23,1-2,4zM3115,528l1-4,23,1-1,4zM3116,524l1-3,22-1,0,5z />
<path color=#082e6f d=M2802,520l0,4-19,0,0-4zM2802,524l1,4-19,1-1-5zM2803,528l2,4-19,1-2-4zM2805,532l2,3-18,2-3-4zM2807,535l4,4-18,2-4-4zM2811,539l3,4-17,2-4-4zM2814,543l5,4-17,3-5-5zM2819,547l5,3-16,3-6-3zM2824,550l6,3-16,4-6-4zM2830,553l6,4-14,4-8-4zM2836,557l7,3-14,4-7-3zM2843,560l8,3-13,4-9-3zM2851,563l8,2-12,5-9-3zM2859,565l9,3-12,5-9-3zM2868,568l9,2-11,6-10-3zM2877,570l9,2-9,6-11-2zM2886,572l10,2-9,6-10-2zM2896,574l10,2-7,6-12-2zM2906,576l10,1-6,7-11-2zM2916,577l11,1-5,7-12-1zM2927,578l10,1-3,7-12-1zM2937,579l11,1-2,7-12-1zM2948,580l11,0-1,7-12,0zM2959,580l11,0,0,7-12,0zM2970,580l11,0,2,7-13,0zM2981,580l11,0,3,7-12,0zM2992,580l11-1,4,7-12,1zM3003,579l11-1,5,7-12,1zM3014,578l11-1,6,7-12,1zM3025,577l10-1,7,6-11,2zM3035,576l10-2,8,6-11,2zM3045,574l10-1,9,5-11,2zM3055,573l9-2,11,5-11,2zM3064,571l9-3,12,6-10,2zM3073,568l9-2,12,5-9,3zM3082,566l8-3,13,5-9,3zM3090,563l7-3,14,5-8,3zM3097,560l7-3,15,5-8,3zM3104,557l7-3,15,4-7,4zM3111,554l6-3,16,3-7,4zM3117,551l5-3,17,3-6,3zM3122,548l4-4,18,3-5,4zM3126,544l4-3,18,2-4,4zM3130,541l3-4,19,2-4,4zM3133,537l3-4,18,1-2,5z />
<path color=#09347f d=M3136,533l2-4,18,1-2,4zM3138,529l1-4,19,0-2,5zM3139,525l0-5,19,0,0,5z />
<path color=#082e6f d=M2783,520l0,4-15,1,0-5zM2783,524l1,5-14,0-2-4zM2784,529l2,4-14,1-2-5zM2786,533l3,4-14,2-3-5zM2856,573l10,3-8,4-11-3zM2866,576l11,2-8,5-11-3zM2877,578l10,2-6,5-12-2zM2887,580l12,2-6,5-12-2zM2899,582l11,2-5,5-12-2zM2910,584l12,1-4,5-13-1zM2922,585l12,1-3,5-13-1zM2934,586l12,1-2,5-13-1zM2946,587l12,0-1,5-13,0zM2958,587l12,0,0,6-13-1zM2970,587l13,0,1,5-14,1zM2983,587l12,0,2,5-13,0zM2995,587l12-1,3,5-13,1zM3007,586l12-1,4,5-13,1zM3019,585l12-1,4,5-12,1zM3031,584l11-2,6,5-13,2zM3042,582l11-2,7,5-12,2zM3053,580l11-2,8,5-12,2zM3064,578l11-2,8,5-11,2zM3075,576l10-2,9,4-11,3zM3085,574l9-3,10,4-10,3zM3094,571l9-3,11,4-10,3zM3103,568l8-3,12,3-9,4zM3111,565l8-3,12,3-8,3zM3119,562l7-4,13,3-8,4zM3126,558l7-4,13,3-7,4zM3133,554l6-3,13,2-6,4zM3139,551l5-4,14,2-6,4zM3144,547l4-4,14,2-4,4zM3148,543l4-4,14,1-4,5zM3152,539l2-5,15,2-3,4z />
<path color=#023170 d=M2789,537l4,4-14,2-4-4zM2793,541l4,4-14,3-4-5zM2797,545l5,5-13,2-6-4zM2802,550l6,3-13,3-6-4zM2808,553l6,4-12,3-7-4zM2814,557l8,4-12,3-8-4zM2822,561l7,3-11,4-8-4zM2829,564l9,3-11,4-9-3zM2838,567l9,3-10,4-10-3zM2847,570l9,3-9,4-10-3z />
<path color=#09347f d=M3154,534l2-4,15,1-2,5zM3156,530l2-5,14,0-1,6z />
<path color=#0a3b8e d=M3158,525l0-5,15-1-1,6z />
<path color=#082e6f d=M2768,520l0,5-12,0-1-5zM2768,525l2,4-13,1-1-5zM2893,587l12,2-4,4-13-2zM2905,589l13,1-3,4-14-1zM2918,590l13,1-3,5-13-2zM2931,591l13,1-2,4-14,0zM2944,592l13,0-1,5-14-1zM2957,592l13,1,0,4-14,0zM2970,593l14-1,0,5-14,0zM2984,592l13,0,1,4-14,1zM2997,592l13-1,2,5-14,0zM3010,591l13-1,3,5-14,1zM3023,590l12-1,5,4-14,2zM3035,589l13-2,5,4-13,2zM3048,587l12-2,6,4-13,2zM3060,585l12-2,6,4-12,2zM3072,583l11-2,7,3-12,3zM3083,581l11-3,7,3-11,3zM3094,578l10-3,8,3-11,3zM3104,575l10-3,9,3-11,3zM3114,572l9-4,9,3-9,4zM3123,568l8-3,10,3-9,3zM3131,565l8-4,10,3-8,4zM3139,561l7-4,11,2-8,5zM3146,557l6-4,11,2-6,4zM3152,553l6-4,11,2-6,4zM3158,549l4-4,12,1-5,5zM3162,545l4-5,12,1-4,5zM3166,540l3-4,13,1-4,4z />
<path color=#023170 d=M2770,529l2,5-13,1-2-5zM2772,534l3,5-13,1-3-5zM2775,539l4,4-13,2-4-5zM2779,543l4,5-12,1-5-4zM2783,548l6,4-12,2-6-5zM2789,552l6,4-11,2-7-4zM2795,556l7,4-11,3-7-5zM2802,560l8,4-10,3-9-4zM2810,564l8,4-10,3-8-4zM2818,568l9,3-9,3-10-3zM2827,571l10,3-9,4-10-4zM2837,574l10,3-8,4-11-3zM2847,577l11,3-7,4-12-3zM2858,580l11,3-6,4-12-3zM2869,583l12,2-6,4-12-2zM2881,585l12,2-5,4-13-2z />
<path color=#09347f d=M3169,536l2-5,13,0-2,6zM3171,531l1-6,13,1-1,5z />
<path color=#0a3b8e d=M3172,525l1-6,13,0-1,7z />
<path color=#082e6f d=M2755,520l1,5-12,0,0-5zM2756,525l1,5-11,0-2-5zM2915,594l13,2-2,3-14-1zM2928,596l14,0-1,4-15-1zM2942,596l14,1,0,4-15-1zM2956,597l14,0,0,4-14,0zM2970,597l14,0,1,4-15,0zM2984,597l14-1,2,4-15,1zM2998,596l14,0,3,4-15,0zM3012,596l14-1,3,3-14,2zM3026,595l14-2,3,4-14,1zM3040,593l13-2,4,4-14,2zM3053,591l13-2,5,4-14,2zM3066,589l12-2,6,3-13,3zM3078,587l12-3,6,4-12,2zM3090,584l11-3,7,4-12,3zM3101,581l11-3,8,3-12,4zM3112,578l11-3,8,3-11,3zM3123,575l9-4,9,3-10,4zM3132,571l9-3,9,2-9,4zM3141,568l8-4,10,2-9,4zM3149,564l8-5,10,2-8,5zM3157,559l6-4,11,2-7,4zM3163,555l6-4,11,1-6,5zM3169,551l5-5,11,1-5,5zM3174,546l4-5,11,1-4,5zM3178,541l4-4,11,0-4,5zM3182,537l2-6,11,1-2,5z />
<path color=#023170 d=M2757,530l2,5-11,1-2-6zM2759,535l3,5-10,1-4-5zM2762,540l4,5-10,1-4-5zM2766,545l5,4-10,2-5-5zM2771,549l6,5-10,2-6-5zM2777,554l7,4-10,2-7-4zM2784,558l7,5-9,2-8-5zM2791,563l9,4-9,2-9-4zM2800,567l8,4-8,2-9-4zM2808,571l10,3-8,3-10-4zM2818,574l10,4-7,3-11-4zM2828,578l11,3-7,3-11-3zM2839,581l12,3-7,3-12-3zM2851,584l12,3-6,3-13-3zM2863,587l12,2-5,4-13-3zM2875,589l13,2-4,4-14-2zM2888,591l13,2-3,4-14-2zM2901,593l14,1-3,4-14-1z />
<path color=#09347f d=M3184,531l1-5,11,0-1,6z />
<path color=#0a3b8e d=M3185,526l1-7,11,0-1,7z />
<path color=#082e6f d=M2744,520l0,5-9,0-1-5zM2926,599l15,1-1,4-16-1zM2941,600l15,1-1,3-15,0zM2956,601l14,0,0,4-15-1zM2970,601l15,0,1,3-16,1zM2985,601l15-1,1,4-15,0zM3000,600l15,0,1,3-15,1zM3015,600l14-2,3,4-16,1zM3029,598l14-1,3,3-14,2zM3043,597l14-2,4,3-15,2zM3057,595l14-2,4,3-14,2zM3071,593l13-3,5,3-14,3zM3084,590l12-2,6,3-13,2zM3096,588l12-3,6,2-12,4zM3108,585l12-4,6,3-12,3zM3120,581l11-3,6,2-11,4zM3131,578l10-4,7,2-11,4zM3141,574l9-4,8,2-10,4zM3150,570l9-4,8,2-9,4zM3159,566l8-5,8,2-8,5zM3167,561l7-4,8,1-7,5zM3174,557l6-5,9,1-7,5zM3180,552l5-5,9,1-5,5zM3185,547l4-5,10,1-5,5zM3189,542l4-5,9,1-3,5zM3193,537l2-5,10,1-3,5z />
<path color=#023170 d=M2744,525l2,5-10,1-1-6zM2746,530l2,6-9,0-3-5zM2748,536l4,5-10,1-3-6zM2752,541l4,5-9,1-5-5zM2756,546l5,5-9,1-5-5zM2761,551l6,5-9,1-6-5zM2767,556l7,4-8,2-8-5zM2774,560l8,5-8,2-8-5zM2782,565l9,4-8,2-9-4zM2791,569l9,4-7,3-10-5zM2800,573l10,4-7,3-10-4zM2810,577l11,4-6,2-12-3zM2821,581l11,3-5,3-12-4zM2832,584l12,3-5,3-12-3zM2844,587l13,3-5,3-13-3zM2857,590l13,3-4,3-14-3zM2870,593l14,2-4,3-14-2zM2884,595l14,2-4,3-14-2zM2898,597l14,1-3,4-15-2zM2912,598l14,1-2,4-15-1z />
<path color=#09347f d=M3195,532l1-6,10,1-1,6z />
<path color=#0a3b8e d=M3196,526l1-7,10,0-1,8z />
<path color=#023170 d=M2734,520l1,5-8,0,0-5zM2735,525l1,6-7,0-2-6zM2736,531l3,5-8,1-2-6zM2739,536l3,6-7,0-4-5zM2742,542l5,5-8,1-4-6zM2747,547l5,5-7,1-6-5zM2752,552l6,5-6,1-7-5zM2758,557l8,5-7,1-7-5zM2766,562l8,5-6,1-9-5zM2774,567l9,4-6,2-9-5zM2783,571l10,5-6,1-10-4zM2793,576l10,4-5,1-11-4zM2803,580l12,3-5,2-12-4zM2815,583l12,4-5,2-12-4zM2827,587l12,3-4,2-13-3zM2839,590l13,3-4,2-13-3zM2852,593l14,3-3,2-15-3zM2866,596l14,2-3,2-14-2zM2880,598l14,2-2,2-15-2zM2894,600l15,2-2,2-15-2zM2909,602l15,1-1,2-16-1zM2924,603l16,1-1,2-16-1zM2940,604l15,0-1,3-15-1zM2955,604l15,1,0,2-16,0zM2970,605l16-1,0,3-16,0zM2986,604l15,0,1,2-16,1zM3001,604l15-1,2,2-16,1zM3016,603l16-1,1,2-15,1zM3032,602l14-2,3,2-16,2zM3046,600l15-2,3,2-15,2zM3061,598l14-2,3,2-14,2zM3075,596l14-3,3,2-14,3zM3205,533l1-6,8-2-2,6zM3206,527l1-8,7,1,0,5z />
<path color=#022a60 d=M3089,593l13-2,4,1-14,3zM3102,591l12-4,5,2-13,3zM3114,587l12-3,5,1-12,4zM3126,584l11-4,6,1-12,4zM3137,580l11-4,6,1-11,4zM3148,576l10-4,6,1-10,4zM3158,572l9-4,6,0-9,5zM3167,568l8-5,7,0-9,5zM3175,563l7-5,7,0-7,5zM3182,558l7-5,7,0-7,5zM3189,553l5-5,7,0-5,5zM3194,548l5-5,7-1-5,6zM3199,543l3-5,7-1-3,5zM3202,538l3-5,7-2-3,6z />
<path color=#023170 fill-rule=evenodd d=M2927,638l375-103-288-134-375,103zM3164,466l-10-4-11-4-12-4-12-4-13-3-14-3-14-3-14-2-15-2-16-2-15-1-16-1-16-1-16,0-16,0-15,1-16,1-16,1-15,2-15,2-14,2-15,3-13,3-13,3-12,4-12,4-11,4-10,4-9,5-9,5-7,5-7,5-6,5-4,6-4,5-2,6-2,6,0,6,0,5,2,6,2,6,4,5,4,6,6,5,7,5,7,5,9,5,9,5,10,4,11,4,12,4,12,4,13,3,13,3,15,3,14,2,15,2,15,2,16,1,16,1,15,1,16,0,16,0,16-1,16-1,15-1,16-2,15-2,14-2,14-3,14-3,13-3,12-4,12-4,11-4,10-4,9-5,9-5,7-5,7-5,5-5,5-6,3-5,3-6,2-6,0-5,0-6-2-6-3-6-3-5-5-6-5-5-7-5-7-5-9-5z />
<path color=#c4a521 d=M3158,292l-10-36,6,206,10,4z />
<path color=#c89a2a d=M3148,256l-11,53,6,149,11,4z />
<path color=#569666 d=M3137,309l-11,70,5,75,12,4z />
<path color=#05829d d=M3126,379l-12,28,5,43,12,4z />
<path color=#0e6ea5 d=M3114,407l-12,10,4,30,13,3z />
<path color=#0e62aa d=M3102,417l-13,8,3,19,14,3z />
<path color=#085aae d=M3089,425l-14,8,3,8,14,3z />
<path color=#024590 d=M3075,433l-14,5,3,1,14,2z />
<path color=#011530 d=M3061,438l-15,2,3-3,15,2z />
<path color=#013371 d=M3207,519l-1-11,8,6,0,6z />
<path color=#011830 d=M3206,508l-1-14,7,14,2,6z />
<path color=#03192f d=M3205,494l-3-16,7,24,3,6z />
<path color=#041b2e d=M3202,478l-3-16,7,35,3,5z />
<path color=#05334b d=M3199,462l-5-16,7,45,5,6z />
<path color=#035067 d=M3194,446l-5-25,7,65,5,5z />
<path color=#397a5a d=M3189,421l-7-83,7,143,7,5z />
<path color=#a68438 d=M3182,338l-7-46,7,184,7,5z />
<path color=#b19240 d=M3175,292l-8,43,6,136,9,5z />
<path color=#ab9243 d=M3167,335l-9-43,6,174,9,5z />
<path color=#d9ac2b d=M3150,313l-9-37,7-20,10,36z />
<path color=#7b5d23 d=M3141,276l-10,47,6-14,11-53z />
<path color=#407a56 d=M3131,323l-11,64,6-8,11-70z />
<path color=#023a48 d=M3120,387l-12,26,6-6,12-28z />
<path color=#041e2d d=M3108,413l-12,9,6-5,12-10z />
<path color=#041b2e d=M3096,422l-12,8,5-5,13-8z />
<path color=#02192f d=M3084,430l-13,7,4-4,14-8z />
<path color=#011730 d=M3071,437l-14,4,4-3,14-5z />
<path color=#022350 d=M3057,441l-14,2,3-3,15-2z />
<path color=#0149a1 d=M3197,519l-1-10,10-1,1,11z />
<path color=#0354b0 d=M3196,509l-1-13,10-2,1,14z />
<path color=#0b5dad d=M3195,496l-2-15,9-3,3,16z />
<path color=#0f65a8 d=M3193,481l-4-15,10-4,3,16z />
<path color=#0e6ea5 d=M3189,466l-4-16,9-4,5,16z />
<path color=#057ea1 d=M3185,450l-5-22,9-7,5,25z />
<path color=#3ba081 d=M3180,428l-6-72,8-18,7,83z />
<path color=#b5a04c d=M3174,356l-7-38,8-26,7,46z />
<path color=#575027 d=M3167,318l-8,38,8-21,8-43z />
<path color=#a8a151 d=M3159,356l-9-43,8-21,9,43z />
<path color=#bb9f49 d=M3141,347l-9-33,9-38,9,37z />
<path color=#2c2814 d=M3132,314l-9,36,8-27,10-47z />
<path color=#1e5d4e d=M3123,350l-11,52,8-15,11-64z />
<path color=#01222c d=M3112,402l-11,22,7-11,12-26z />
<path color=#072f4c d=M3101,424l-11,7,6-9,12-9z />
<path color=#07345d d=M3090,431l-12,6,6-7,12-8z />
<path color=#04294f d=M3078,437l-12,5,5-5,13-7z />
<path color=#012550 d=M3066,442l-13,3,4-4,14-4z />
<path color=#022350 d=M3053,445l-13,2,3-4,14-2z />
<path color=#0346a0 d=M3186,519l-1-9,11-1,1,10z />
<path color=#024ca0 d=M3185,510l-1-11,11-3,1,13z />
<path color=#085aae d=M3184,499l-2-13,11-5,2,15z />
<path color=#0e62aa d=M3182,486l-4-13,11-7,4,15z />
<path color=#0f6aa6 d=M3178,473l-4-14,11-9,4,16z />
<path color=#0975a5 d=M3174,459l-5-17,11-14,5,22z />
<path color=#189996 d=M3169,442l-6-51,11-35,6,72z />
<path color=#77a465 d=M3163,391l-6-26,10-47,7,38zM3149,386l-8-39,9-34,9,43z />
<path color=#1e2919 d=M3157,365l-8,21,10-30,8-38z />
<path color=#6fa468 d=M3131,388l-8-27,9-47,9,33z />
<path color=#1a291b d=M3123,361l-9,24,9-35,9-36z />
<path color=#032528 d=M3114,385l-10,37,8-20,11-52z />
<path color=#031f2d d=M3104,422l-10,14,7-12,11-22z />
<path color=#0b477b d=M3094,436l-11,5,7-10,11-7z />
<path color=#08437e d=M3083,441l-11,4,6-8,12-6z />
<path color=#033770 d=M3072,445l-12,3,6-6,12-5z />
<path color=#012c60 d=M3060,448l-12,2,5-5,13-3z />
<path color=#022a60 d=M3048,450l-13,1,5-4,13-2z />
<path color=#0346a0 d=M3173,519l-1-8,13-1,1,9z />
<path color=#024ca0 d=M3172,511l-1-9,13-3,1,11z />
<path color=#0557af d=M3171,502l-2-10,13-6,2,13z />
<path color=#0b5dad d=M3169,492l-3-11,12-8,4,13z />
<path color=#0f65a8 d=M3166,481l-4-11,12-11,4,14z />
<path color=#0f6aa6 d=M3162,470l-4-12,11-16,5,17z />
<path color=#058cae d=M3158,458l-6-27,11-40,6,51z />
<path color=#168c8a d=M3152,431l-6-16,11-50,6,26z />
<path color=#0c4d4b d=M3146,415l-7,4,10-33,8-21z />
<path color=#259c8e d=M3139,419l-8-31,10-41,8,39z />
<path color=#12979a d=M3119,426l-8-17,12-48,8,27z />
<path color=#094c4d d=M3111,409l-8,13,11-37,9-24z />
<path color=#01222c d=M3103,422l-9,20,10-20,10-37z />
<path color=#041b2e d=M3094,442l-9,8,9-14,10-14z />
<path color=#08437e d=M3085,450l-10,2,8-11,11-5z />
<path color=#043f80 d=M3075,452l-11,2,8-9,11-4z />
<path color=#023670 d=M3064,454l-11,1,7-7,12-3z />
<path color=#013371 d=M3053,455l-11,1,6-6,12-2z />
<path color=#023170 d=M3042,456l-11,1,4-6,13-1z />
<path color=#0346a0 d=M3158,520l0-7,14-2,1,8z />
<path color=#0149a1 d=M3158,513l-2-8,15-3,1,9z />
<path color=#024ca0 d=M3156,505l-2-8,15-5,2,10z />
<path color=#07529e d=M3154,497l-2-8,14-8,3,11z />
<path color=#0b5dad d=M3152,489l-4-8,14-11,4,11z />
<path color=#0e62aa d=M3148,481l-4-9,14-14,4,12z />
<path color=#0f6aa6 d=M3144,472l-5-11,13-30,6,27z />
<path color=#0975a5 d=M3139,461l-6-9,13-37,6,16z />
<path color=#066d95 d=M3133,452l-7-5,13-28,7-4z />
<path color=#058cae d=M3126,447l-7-21,12-38,8,31z />
<path color=#0c71a5 d=M3104,458l-7-8,14-41,8,17z />
<path color=#095278 d=M3097,450l-7,3,13-31,8-13z />
<path color=#041b2e d=M3090,453l-8,7,12-18,9-20z />
<path color=#04315f d=M3082,460l-9,3,12-13,9-8z />
<path color=#043f80 d=M3073,463l-9,0,11-11,10-2z />
<path color=#023d80 d=M3064,463l-9,0,9-9,11-2z />
<path color=#013b81 d=M3055,463l-10,0,8-8,11-1z />
<path color=#023170 d=M3045,463l-10,1,7-8,11-1z />
<path color=#033f90 d=M3139,520l0-5,19-2,0,7z />
<path color=#0346a0 d=M3139,515l-1-6,18-4,2,8z />
<path color=#0149a1 d=M3138,509l-2-6,18-6,2,8z />
<path color=#024ca0 d=M3136,503l-3-6,19-8,2,8z />
<path color=#044f9f d=M3133,497l-3-6,18-10,4,8z />
<path color=#07529e d=M3130,491l-4-6,18-13,4,9z />
<path color=#0b5dad d=M3126,485l-4-6,17-18,5,11z />
<path color=#0d5fab d=M3122,479l-5-5,16-22,6,9z />
<path color=#0e62aa d=M3117,474l-6-6,15-21,7,5z />
<path color=#1067a7 d=M3111,468l-7-10,15-32,7,21z />
<path color=#0b5dad d=M3086,479l-6-3,17-26,7,8z />
<path color=#094c8d d=M3080,476l-6-1,16-22,7-3z />
<path color=#022850 d=M3074,475l-7,0,15-15,8-7z />
<path color=#023d80 d=M3067,475l-8,0,14-12,9-3z />
<path color=#013b81 d=M3059,475l-7-1,12-11,9,0z />
<path color=#033880 d=M3052,474l-8,0,11-11,9,0zM3044,474l-9-1,10-10,10,0z />
<path color=#023170 d=M3035,473l-9-1,9-8,10-1z />
<path color=#033f90 d=M3116,517l-1-4,23-4,1,6zM3115,513l-1-5,22-5,2,6z />
<path color=#014291 d=M3114,508l-2-5,21-6,3,6z />
<path color=#0149a1 d=M3112,503l-3-4,21-8,3,6z />
<path color=#024ca0 d=M3109,499l-3-4,20-10,4,6zM3106,495l-4-4,20-12,4,6z />
<path color=#044f9f d=M3102,491l-5-4,20-13,5,5zM3097,487l-5-3,19-16,6,6z />
<path color=#085aae d=M3092,484l-6-5,18-21,7,10z />
<path color=#0149a1 d=M3066,493l-5-2,19-15,6,3zM3070,495l-4-2,20-14,6,5z />
<path color=#014291 d=M3061,491l-6-2,19-14,6,1zM3074,498l-4-3,22-11,5,3z />
<path color=#033880 d=M3055,489l-5-2,17-12,7,0zM3050,487l-7-1,16-11,8,0zM3043,486l-6-1,15-11,7,1zM3037,485l-7-2,14-9,8,0z />
<path color=#033f90 d=M3088,512l-2-3,26-6,2,5zM3086,509l-2-3,25-7,3,4zM3084,506l-3-3,25-8,3,4zM3081,503l-3-2,24-10,4,4zM3078,501l-4-3,23-11,5,4z /></g></g>
<g><path class="g" d="M217,322.8L147.9,290.3L147.9,219.3M245.2,315L176,282.5L176,211.5M273.4,307.2L204.2,274.7L204.2,203.7M167.3,320.4L257.4,295.5L257.4,224.5M145.6,310.3L235.8,285.3L235.8,214.3M124,300.1L214.2,275.1L214.2,204.1M119.7,291.4L209.8,266.5L279,299M119.7,280.7L209.8,255.7L279,288.3M119.7,270L209.8,245L279,277.5M119.7,259.2L209.8,234.3L279,266.8M119.7,248.5L209.8,223.6L279,256.1M119.7,237.8L209.8,212.8L279,245.4M119.7,227.1L209.8,202.1L279,234.6M209.8,273.1L209.8,202.1M119.7,298.1L209.8,273.1L279,305.6M279,305.6L279,234.6"/>
<path class="a" d="M119.7,227.1L119.7,298.1L188.9,330.6L279,305.6M188.9,330.6L187.2,331.1M167.3,320.4L165.6,320.9M145.6,310.3L144,310.7M124,300.1L122.4,300.6M188.9,330.6L190.4,331.3M217,322.8L218.6,323.5M245.2,315L246.7,315.7M273.4,307.2L274.9,307.9M119.7,291.4L118,291.4M119.7,280.7L118,280.7M119.7,270L118,270M119.7,259.2L118,259.2M119.7,248.5L118,248.5M119.7,237.8L118,237.8M119.7,227.1L118,227.1"/><g transform="scale(.2)" fill="currentColor" stroke="currentColor" stroke-width="2" stroke-linejoin="round"><path color=#2d2474 d=M1219,1416l-11-5,6-6,12,5zM1208,1411l-13-4,7-7,12,5zM1195,1407l-13-5,6-6,14,4zM1182,1402l-14-4,5-7,15,5z />
<path color=#2e297d d=M1168,1398l-15-6,5-5,15,4z />
<path color=#2a2573 d=M1153,1392l-16-6,5-2,16,3zM765,1418l-10,8-7-4,10-6zM755,1426l-8,6-8-4,9-6zM747,1432l-8,6-8-4,8-6zM739,1438l-6,6-9-4,7-6zM733,1444l-6,6-8-3,5-7zM727,1450l-4,6-8-3,4-6zM1272,1456l-4-6,8-3,4,6zM1268,1450l-6-7,9-3,5,7zM1262,1443l-6-6,8-3,7,6zM1256,1437l-8-5,8-4,8,6zM1248,1432l-8-6,7-4,9,6zM1240,1426l-10-5,7-5,10,6zM1230,1421l-11-5,7-6,11,6z />
<path color=#262268 d=M723,1456l-3,7-8-3,3-7zM720,1463l-1,6-9-2,2-7zM719,1469l-1,6-9-1,1-7zM1277,1475l0-6,8-2,1,7zM1277,1469l-2-7,9-2,1,7zM1275,1462l-3-6,8-3,4,7z />
<path color=#261e60 d=M1210,1419l-11-5,9-3,11,5zM1199,1414l-12-4,8-3,13,4zM1187,1410l-13-5,8-3,13,5zM1174,1405l-13-4,7-3,14,4zM1220,1423l-10-4,9-3,11,5z />
<path color=#2a2573 d=M1161,1401l-15-6,7-3,15,6zM1146,1395l-14-6,5-3,16,6zM775,1420l-10,7-10-1,10-8z />
<path color=#262268 d=M765,1427l-8,7-10-2,8-6zM757,1434l-7,6-11-2,8-6zM750,1440l-6,5-11-1,6-6zM744,1445l-5,6-12-1,6-6zM739,1451l-4,6-12-1,4-6zM735,1457l-3,6-12,0,3-7zM732,1463l-2,6-11,0,1-6zM730,1469l0,6-12,0,1-6zM1266,1475l-1-6,12,0,0,6zM1265,1469l-2-6,12-1,2,7zM1263,1463l-3-6,12-1,3,6zM1260,1457l-4-6,12-1,4,6zM1256,1451l-5-6,11-2,6,7zM1251,1445l-6-6,11-2,6,6zM1245,1439l-7-5,10-2,8,5zM1238,1434l-8-5,10-3,8,6zM1230,1429l-10-6,10-2,10,5z />
<path color=#261e60 d=M1200,1422l-11-5,10-3,11,5zM1189,1417l-11-4,9-3,12,4zM1178,1413l-12-4,8-4,13,5zM1166,1409l-13-5,8-3,13,4zM1209,1426l-9-4,10-3,10,4z />
<path color=#2a2573 d=M1153,1404l-14-5,7-4,15,6zM1139,1399l-14-6,7-4,14,6zM786,1423l-9,7-12-3,10-7z />
<path color=#262268 d=M777,1430l-8,6-12-2,8-7zM769,1436l-7,5-12-1,7-6zM762,1441l-6,6-12-2,6-5zM756,1447l-4,6-13-2,5-6zM752,1453l-4,5-13-1,4-6zM748,1458l-3,6-13-1,3-6zM745,1464l-2,6-13-1,2-6zM743,1470l0,5-13,0,0-6zM1252,1475l0-6,13,0,1,6zM1252,1469l-2-6,13,0,2,6zM1250,1463l-3-5,13-1,3,6zM1247,1458l-3-6,12-1,4,6zM1244,1452l-5-5,12-2,5,6zM1239,1447l-6-6,12-2,6,6zM1233,1441l-7-5,12-2,7,5zM1226,1436l-8-5,12-2,8,5zM1218,1431l-9-5,11-3,10,6z />
<path color=#261e60 d=M1188,1425l-10-4,11-4,11,5zM1178,1421l-11-4,11-4,11,4zM1167,1417l-11-5,10-3,12,4zM1197,1429l-9-4,12-3,9,4z />
<path color=#262268 d=M1156,1412l-13-4,10-4,13,5zM783,1438l-7,5-14-2,7-5zM776,1443l-5,6-15-2,6-6zM771,1449l-5,5-14-1,4-6zM766,1454l-3,5-15-1,4-5zM763,1459l-3,6-15-1,3-6zM760,1465l-2,5-15,0,2-6zM758,1470l0,6-15-1,0-5zM1237,1475l0-5,15-1,0,6zM1237,1470l-2-6,15-1,2,6zM1235,1464l-2-5,14-1,3,5zM1233,1459l-4-5,15-2,3,6zM1229,1454l-4-6,14-1,5,5zM1225,1448l-6-5,14-2,6,6zM1219,1443l-6-5,13-2,7,5zM1213,1438l-8-4,13-3,8,5zM1205,1434l-8-5,12-3,9,5z />
<path color=#2a2573 d=M1143,1408l-12-5,8-4,14,5zM1131,1403l-14-5,8-5,14,6zM798,1426l-8,6-13-2,9-7zM790,1432l-7,6-14-2,8-6z />
<path color=#261e60 d=M1174,1429l-10-4,14-4,10,4zM1164,1425l-10-4,13-4,11,4zM1154,1421l-10-4,12-5,11,5z />
<path color=#262268 d=M1144,1417l-11-4,10-5,13,4zM799,1440l-6,6-17-3,7-5zM793,1446l-6,5-16-2,5-6zM787,1451l-4,4-17-1,5-5zM783,1455l-3,5-17-1,3-5zM780,1460l-2,5-18,0,3-6zM778,1465l-2,6-18-1,2-5zM776,1471l0,5-18,0,0-6zM1219,1475l0-5,18,0,0,5zM1219,1470l-1-5,17-1,2,6zM1218,1465l-3-5,18-1,2,5zM1215,1460l-3-5,17-1,4,5zM1212,1455l-4-5,17-2,4,6zM1208,1450l-5-4,16-3,6,5zM1203,1446l-6-5,16-3,6,5zM1197,1441l-7-4,15-3,8,4zM1190,1437l-8-4,15-4,8,5zM1182,1433l-8-4,14-4,9,4z />
<path color=#2a2573 d=M1133,1413l-12-5,10-5,12,5zM1121,1408l-12-4,8-6,14,5zM813,1429l-8,6-15-3,8-6zM805,1435l-6,5-16-2,7-6z />
<path color=#262268 d=M1156,1433l-8-3,16-5,10,4zM1148,1430l-9-4,15-5,10,4zM1139,1426l-10-4,15-5,10,4zM1129,1422l-10-3,14-6,11,4zM818,1444l-5,4-20-2,6-6zM813,1448l-5,5-21-2,6-5zM808,1453l-3,4-22-2,4-4zM805,1457l-3,5-22-2,3-5zM802,1462l-2,5-22-2,2-5zM800,1467l-2,4-22,0,2-6zM798,1471l0,5-22,0,0-5zM1197,1475l0-4,22-1,0,5zM1197,1471l-1-5,22-1,1,5zM1196,1466l-3-4,22-2,3,5zM1193,1462l-3-5,22-2,3,5zM1190,1457l-3-4,21-3,4,5zM1187,1453l-5-4,21-3,5,4zM1182,1449l-5-4,20-4,6,5zM1177,1445l-6-4,19-4,7,4zM1171,1441l-7-4,18-4,8,4zM1164,1437l-8-4,18-4,8,4z />
<path color=#2a2573 d=M1119,1419l-10-4,12-7,12,5zM1109,1415l-12-4,12-7,12,4zM832,1434l-7,5-20-4,8-6zM825,1439l-7,5-19-4,6-5z />
<path color=#262268 d=M1135,1439l-7-3,20-6,8,3zM1128,1436l-8-4,19-6,9,4zM1120,1432l-8-3,17-7,10,4zM1112,1429l-9-3,16-7,10,3zM842,1448l-4,4-25-4,5-4zM838,1452l-4,4-26-3,5-5zM834,1456l-4,4-25-3,3-4zM830,1460l-2,4-26-2,3-5zM828,1464l-2,4-26-1,2-5zM826,1468l-1,4-27-1,2-4zM825,1472l-1,4-26,0,0-5zM1171,1476l-1-4,27-1,0,4zM1170,1472l-1-4,27-2,1,5zM1169,1468l-2-4,26-2,3,4zM1167,1464l-2-4,25-3,3,5zM1165,1460l-4-4,26-3,3,4zM1161,1456l-4-3,25-4,5,4zM1157,1453l-4-4,24-4,5,4zM1153,1449l-6-4,24-4,6,4zM1147,1445l-6-3,23-5,7,4zM1141,1442l-6-3,21-6,8,4z />
<path color=#2a2573 d=M1103,1426l-9-3,15-8,10,4zM1094,1423l-10-3,13-9,12,4zM860,1436l-6,4-22-6,7-5zM854,1440l-6,4-23-5,7-5zM848,1444l-6,4-24-4,7-5z />
<path color=#262268 d=M1110,1445l-6-2,24-7,7,3zM1104,1443l-6-3,22-8,8,4zM1098,1440l-7-2,21-9,8,3zM1091,1438l-7-3,19-9,9,3zM870,1453l-4,3-28-4,4-4zM866,1456l-3,3-29-3,4-4zM863,1459l-3,4-30-3,4-4zM860,1463l-2,3-30-2,2-4zM858,1466l-1,3-31-1,2-4zM857,1469l-1,3-31,0,1-4zM856,1472l0,4-32,0,1-4zM1140,1476l-1-3,31-1,1,4zM1139,1473l-1-4,31-1,1,4zM1138,1469l-1-3,30-2,2,4zM1137,1466l-2-3,30-3,2,4zM1135,1463l-3-3,29-4,4,4zM1132,1460l-3-3,28-4,4,3zM1129,1457l-4-3,28-5,4,4zM1125,1454l-4-3,26-6,6,4zM1121,1451l-5-3,25-6,6,3zM1116,1448l-6-3,25-6,6,3z />
<path color=#2a2573 d=M1084,1435l-8-2,18-10,9,3zM1076,1433l-7-2,15-11,10,3zM1069,1431l-9-3,14-11,10,3zM891,1440l-6,3-25-7,7-4zM885,1443l-6,3-25-6,6-4zM879,1446l-4,4-27-6,6-4zM875,1450l-5,3-28-5,6-4z />
<path color=#262268 d=M1082,1453l-4-2,26-8,6,2zM1078,1451l-5-2,25-9,6,3zM1073,1449l-5-2,23-9,7,2zM1068,1447l-6-1,22-11,7,3zM1062,1446l-5-2,19-11,8,2zM905,1456l-3,3-32-6,5-3zM902,1459l-3,2-33-5,4-3zM899,1461l-2,2-34-4,3-3zM897,1463l-2,3-35-3,3-4zM895,1466l-2,2-35-2,2-3zM893,1468l-1,3-35-2,1-3zM892,1471l-1,2-35-1,1-3zM891,1473l0,3-35,0,0-4zM1104,1476l0-3,35,0,1,3zM1104,1473l-1-2,35-2,1,4zM1103,1471l-1-2,35-3,1,3zM1102,1469l-2-3,35-3,2,3zM1100,1466l-2-2,34-4,3,3zM1098,1464l-2-2,33-5,3,3zM1096,1462l-3-3,32-5,4,3zM1093,1459l-3-2,31-6,4,3zM1090,1457l-4-2,30-7,5,3zM1086,1455l-4-2,28-8,6,3z />
<path color=#2a2573 d=M1057,1444l-6-2,18-11,7,2zM1051,1442l-6-1,15-13,9,3zM1045,1441l-7-1,14-14,8,2zM1038,1440l-6-2,11-13,9,1zM1032,1438l-7-1,9-13,9,1zM933,1444l-6,2-23-11,7-3zM927,1446l-5,2-25-11,7-2zM922,1448l-5,2-26-10,6-3zM917,1450l-4,2-28-9,6-3zM913,1452l-4,2-30-8,6-3zM909,1454l-4,2-30-6,4-4z />
<path color=#262268 d=M1054,1461l-6-3,25-9,9,4zM1048,1458l-7-2,21-10,11,3zM1041,1456l-8-2,18-12,11,4zM1033,1454l-8-2,13-12,13,2zM947,1458l-6,2-28-8,9-4zM941,1460l-5,3-31-7,8-4zM936,1463l-4,3-33-5,6-5zM932,1466l-3,3-34-3,4-5zM929,1469l-2,3-35-1,3-5zM927,1472l0,4-36,0,1-5zM1069,1476l-1-3,35-2,1,5zM1068,1473l-2-4,34-3,3,5zM1066,1469l-3-3,33-4,4,4zM1063,1466l-4-3,31-6,6,5zM1059,1463l-5-2,28-8,8,4z />
<path color=#2a2573 d=M1025,1452l-9-1,9-14,13,3zM1016,1451l-9-1,4-14,14,1zM1007,1450l-9,0,0-15,13,1zM998,1450l-10,0-4-14,14-1zM988,1450l-9,1-9-14,14-1zM979,1451l-9,1-13-14,13-1zM970,1452l-8,1-18-12,13-3zM962,1453l-8,2-21-11,11-3zM954,1455l-7,3-25-10,11-4z />
<path color=#262268 d=M1026,1468l-3-1,25-9,6,3zM1023,1467l-4-1,22-10,7,2zM1019,1466l-4-1,18-11,8,2zM1015,1465l-4-1,14-12,8,2zM1011,1464l-4,0,9-13,9,1zM1007,1464l-5-1,5-13,9,1zM1002,1463l-4,0,0-13,9,0zM998,1463l-5,0-5-13,10,0zM993,1463l-5,1-9-13,9-1zM988,1464l-4,0-14-12,9-1zM984,1464l-4,1-18-12,8-1zM980,1465l-4,1-22-11,8-2zM976,1466l-4,1-25-9,7-3zM972,1467l-3,1-28-8,6-2zM969,1468l-2,1-31-6,5-3zM967,1469l-2,2-33-5,4-3zM965,1471l-2,2-34-4,3-3zM963,1473l-1,1-35-2,2-3zM962,1474l0,2-35,0,0-4zM1033,1476l0-2,35-1,1,3zM1033,1474l-1-1,34-4,2,4zM1032,1473l-2-2,33-5,3,3zM1030,1471l-2-1,31-7,4,3zM1028,1470l-2-2,28-7,5,2z />
<path color=#262268 d=M998,1476l21-10,7,2zM998,1476l13-12,8,2zM998,1476l4-13,9,1zM998,1476l-5-13,9,0zM998,1476l-14-12,9-1zM998,1476l-22-10,8-2zM998,1476l-29-8,7-2zM998,1476l-33-5,4-3zM998,1476l-36-2,3-3zM998,1476l-36,1,0-3zM998,1476l32-5,3,3zM998,1476l28-8,4,3z />
<path color=#262268 d=M998,1476l-33,5-3-4zM998,1476l-29,7-4-2zM998,1476l-22,10-7-3zM998,1476l-14,11-8-1zM998,1476l-5,12-9-1zM998,1476l4,12-9,0zM998,1476l13,11-9,1zM998,1476l21,10-8,1zM998,1476l28,8-7,2zM998,1476l32,5-4,3zM998,1476l35,2-3,3zM998,1476l35-2,0,4z />
<path color=#262268 d=M962,1476l0,1-35,2,0-3zM962,1477l1,2-34,3-2-3zM963,1479l2,2-33,4-3-3zM965,1481l2,1-31,6-4-3zM967,1482l2,1-28,8-5-3zM969,1483l3,2-25,9-6-3zM972,1485l4,1-22,10-7-2zM976,1486l4,1-18,11-8-2zM980,1487l4,0-14,12-8-1zM984,1487l4,1-9,12-9-1zM988,1488l5,0-5,13-9-1zM993,1488l5,0,0,13-10,0zM998,1488l4,0,5,13-9,0zM1002,1488l5,0,9,12-9,1zM1007,1488l4-1,14,12-9,1zM1011,1487l4,0,18,11-8,1zM1015,1487l4-1,22,10-8,2zM1019,1486l4-1,25,9-7,2zM1023,1485l3-1,28,7-6,3zM1026,1484l2-2,31,6-5,3zM1028,1482l2-1,33,4-4,3zM1030,1481l2-2,34,3-3,3zM1032,1479l1-1,35,1-2,3zM1033,1478l0-2,36,0-1,3z />
<path color=#262268 d=M927,1476l0,3-35,2-1-5zM927,1479l2,3-34,4-3-5zM929,1482l3,3-33,5-4-4zM932,1485l4,3-31,7-6-5zM936,1488l5,3-28,8-8-4zM941,1491l6,3-25,8-9-3zM947,1494l7,2-21,10-11-4zM954,1496l8,2-18,10-11-2zM962,1498l8,1-13,12-13-3zM970,1499l9,1-9,12-13-1zM979,1500l9,1-4,12-14-1zM988,1501l10,0,0,12-14,0zM998,1501l9,0,4,12-13,0zM1007,1501l9-1,9,12-14,1zM1016,1500l9-1,13,12-13,1zM1025,1499l8-1,18,10-13,3zM1033,1498l8-2,21,10-11,2zM1041,1496l7-2,25,8-11,4zM1048,1494l6-3,28,8-9,3zM1054,1491l5-3,31,7-8,4zM1059,1488l4-3,33,5-6,5zM1063,1485l3-3,34,4-4,4zM1066,1482l2-3,35,2-3,5zM1068,1479l1-3,35,0-1,5z />
<path color=#262268 d=M891,1476l0,2-35,1,0-3zM891,1478l1,3-35,1-1-3zM892,1481l1,2-35,2-1-3zM893,1483l2,3-35,3-2-4zM895,1486l2,2-34,4-3-3zM897,1488l2,2-33,5-3-3zM899,1490l3,2-32,6-4-3zM902,1492l3,3-30,6-5-3zM905,1495l4,2-30,7-4-3zM909,1497l4,2-28,7-6-2zM913,1499l4,2-26,8-6-3zM917,1501l5,1-25,9-6-2zM922,1502l5,2-23,9-7-2zM927,1504l6,2-22,10-7-3zM933,1506l5,1-19,10-8-1zM938,1507l6,1-17,11-8-2zM944,1508l6,2-15,11-8-2zM950,1510l7,1-14,11-8-1zM957,1511l6,0-11,12-9-1zM963,1511l7,1-9,12-9-1zM970,1512l7,1-7,12-9-1zM977,1513l7,0-5,13-9-1zM984,1513l7,0-3,13-9,0zM991,1513l7,0,0,13-10,0zM998,1513l7,0,2,13-9,0zM1005,1513l6,0,5,13-9,0zM1011,1513l7,0,7,12-9,1zM1018,1513l7-1,9,12-9,1zM1025,1512l7-1,11,12-9,1zM1032,1511l6,0,14,11-9,1zM1038,1511l7-1,15,11-8,1zM1045,1510l6-2,18,11-9,2zM1051,1508l6-1,19,11-7,1zM1057,1507l5-1,22,10-8,2zM1062,1506l6-2,23,10-7,2zM1068,1504l5-2,25,9-7,3zM1073,1502l5-1,26,8-6,2zM1078,1501l4-2,28,7-6,3zM1082,1499l4-2,30,7-6,2zM1086,1497l4-2,31,6-5,3zM1090,1495l3-3,32,6-4,3zM1093,1492l3-2,33,5-4,3zM1096,1490l2-2,34,4-3,3zM1098,1488l2-2,35,3-3,3zM1100,1486l2-3,35,3-2,3zM1102,1483l1-2,35,1-1,4zM1103,1481l1-3,35,1-1,3zM1104,1478l0-2,36,0-1,3z />
<path color=#262268 d=M856,1476l0,3-31,1-1-4zM856,1479l1,3-31,2-1-4zM857,1482l1,3-30,3-2-4zM858,1485l2,4-30,2-2-3zM860,1489l3,3-29,3-4-4zM863,1492l3,3-28,4-4-4zM866,1495l4,3-28,5-4-4zM870,1498l5,3-27,5-6-3zM875,1501l4,3-25,6-6-4zM879,1504l6,2-25,7-6-3zM885,1506l6,3-24,7-7-3zM891,1509l6,2-22,8-8-3zM897,1511l7,2-21,9-8-3zM904,1513l7,3-19,8-9-2zM911,1516l8,1-18,10-9-3zM919,1517l8,2-16,10-10-2zM927,1519l8,2-14,10-10-2zM935,1521l8,1-12,10-10-1zM943,1522l9,1-10,11-11-2zM952,1523l9,1-8,11-11-1zM961,1524l9,1-6,11-11-1zM970,1525l9,1-4,10-11,0zM979,1526l9,0-2,11-11-1zM988,1526l10,0,0,11-12,0zM998,1526l9,0,2,11-11,0zM1007,1526l9,0,4,11-11,0zM1016,1526l9-1,6,11-11,1zM1025,1525l9-1,8,11-11,1zM1034,1524l9-1,10,11-11,1zM1043,1523l9-1,12,10-11,2zM1052,1522l8-1,14,10-10,1zM1060,1521l9-2,15,10-10,2zM1069,1519l7-1,18,9-10,2zM1076,1518l8-2,19,8-9,3zM1084,1516l7-2,21,8-9,2zM1091,1514l7-3,22,8-8,3zM1098,1511l6-2,24,7-8,3zM1104,1509l6-3,25,7-7,3zM1110,1506l6-2,25,6-6,3zM1116,1504l5-3,26,5-6,4zM1121,1501l4-3,28,5-6,3zM1125,1498l4-3,28,4-4,4zM1129,1495l3-3,29,3-4,4zM1132,1492l3-3,30,2-4,4zM1135,1489l2-3,30,2-2,3zM1137,1486l1-4,31,2-2,4zM1138,1482l1-3,31,1-1,4zM1139,1479l1-3,31,0-1,4z />
<path color=#262268 d=M824,1476l1,4-27,0,0-4zM825,1480l1,4-26,1-2-5zM826,1484l2,4-26,1-2-4zM828,1488l2,3-25,3-3-5zM830,1491l4,4-26,3-3-4zM834,1495l4,4-25,4-5-5zM838,1499l4,4-24,4-5-4zM842,1503l6,3-23,5-7-4zM848,1506l6,4-22,5-7-4zM854,1510l6,3-21,6-7-4zM860,1513l7,3-20,6-8-3zM867,1516l8,3-19,7-9-4zM875,1519l8,3-17,7-10-3zM883,1522l9,2-16,8-10-3zM892,1524l9,3-14,7-11-2zM901,1527l10,2-13,8-11-3zM911,1529l10,2-12,8-11-2zM921,1531l10,1-10,9-12-2zM931,1532l11,2-9,9-12-2zM942,1534l11,1-7,9-13-1zM953,1535l11,1-5,9-13-1zM964,1536l11,0-3,10-13-1zM975,1536l11,1-1,9-13,0zM986,1537l12,0,0,10-13-1zM998,1537l11,0,2,9-13,1zM1009,1537l11,0,4,9-13,0zM1020,1537l11-1,6,9-13,1zM1031,1536l11-1,7,9-12,1zM1042,1535l11-1,9,9-13,1zM1053,1534l11-2,10,9-12,2zM1064,1532l10-1,12,8-12,2zM1074,1531l10-2,13,8-11,2zM1084,1529l10-2,15,8-12,2zM1094,1527l9-3,16,8-10,3zM1103,1524l9-2,17,7-10,3zM1112,1522l8-3,19,7-10,3zM1120,1519l8-3,20,6-9,4zM1128,1516l7-3,21,6-8,3zM1135,1513l6-3,23,5-8,4zM1141,1510l6-4,24,5-7,4zM1147,1506l6-3,24,4-6,4zM1153,1503l4-4,25,4-5,4zM1157,1499l4-4,26,3-5,5zM1161,1495l4-4,25,3-3,4zM1165,1491l2-3,26,1-3,5zM1167,1488l2-4,27,1-3,4zM1169,1484l1-4,27,0-1,5zM1170,1480l1-4,26-1,0,5z />
<path color=#262268 d=M798,1476l0,4-22,1,0-5zM798,1480l2,5-22,1-2-5zM800,1485l2,4-22,2-2-5zM802,1489l3,5-22,2-3-5zM805,1494l3,4-21,3-4-5zM808,1498l5,5-20,2-6-4zM813,1503l5,4-19,3-6-5zM818,1507l7,4-20,4-6-5zM825,1511l7,4-19,4-8-4zM832,1515l7,4-17,4-9-4zM839,1519l8,3-16,5-9-4zM847,1522l9,4-15,5-10-4zM856,1526l10,3-15,6-10-4zM866,1529l10,3-14,6-11-3zM876,1532l11,2-13,7-12-3zM887,1534l11,3-11,7-13-3zM898,1537l11,2-10,7-12-2zM909,1539l12,2-8,7-14-2zM921,1541l12,2-7,7-13-2zM933,1543l13,1-6,8-14-2zM946,1544l13,1-5,8-14-1zM959,1545l13,1-3,8-15-1zM972,1546l13,0-2,8-14,0zM985,1546l13,1,0,7-15,0zM998,1547l13-1,1,8-14,0zM1011,1546l13,0,3,8-15,0zM1024,1546l13-1,4,8-14,1zM1037,1545l12-1,6,8-14,1zM1049,1544l13-1,7,7-14,2zM1062,1543l12-2,8,8-13,1zM1074,1541l12-2,10,8-14,2zM1086,1539l11-2,12,7-13,3zM1097,1537l12-2,12,6-12,3zM1109,1535l10-3,14,6-12,3zM1119,1532l10-3,15,6-11,3zM1129,1529l10-3,15,5-10,4zM1139,1526l9-4,16,6-10,3zM1148,1522l8-3,18,5-10,4zM1156,1519l8-4,18,4-8,5zM1164,1515l7-4,19,4-8,4zM1171,1511l6-4,20,3-7,5zM1177,1507l5-4,21,3-6,4zM1182,1503l5-5,21,3-5,5zM1187,1498l3-4,22,2-4,5zM1190,1494l3-5,22,2-3,5zM1193,1489l3-4,22,1-3,5zM1196,1485l1-5,22,0-1,6zM1197,1480l0-5,22,0,0,5z />
<path color=#262268 d=M776,1476l0,5-18,0,0-5zM776,1481l2,5-18,0-2-5zM778,1486l2,5-17,1-3-6zM780,1491l3,5-17,1-3-5zM783,1496l4,5-16,2-5-6zM787,1501l6,4-17,3-5-5zM793,1505l6,5-16,3-7-5zM799,1510l6,5-15,3-7-5zM805,1515l8,4-15,4-8-5zM813,1519l9,4-15,4-9-4zM822,1523l9,4-14,4-10-4zM831,1527l10,4-13,5-11-5zM841,1531l10,4-11,4-12-3zM851,1535l11,3-10,5-12-4zM862,1538l12,3-10,5-12-3zM874,1541l13,3-9,5-14-3zM887,1544l12,2-7,6-14-3zM899,1546l14,2-7,6-14-2zM913,1548l13,2-5,6-15-2zM926,1550l14,2-4,6-15-2zM940,1552l14,1-3,6-15-1zM954,1553l15,1-3,6-15-1zM969,1554l14,0-1,7-16-1zM983,1554l15,0,0,7-16,0zM998,1554l14,0,1,7-15,0zM1012,1554l15,0,2,6-16,1zM1027,1554l14-1,3,6-15,1zM1041,1553l14-1,5,6-16,1zM1055,1552l14-2,6,6-15,2zM1069,1550l13-1,7,5-14,2zM1082,1549l14-2,8,5-15,2zM1096,1547l13-3,8,6-13,2zM1109,1544l12-3,10,6-14,3zM1121,1541l12-3,10,6-12,3zM1133,1538l11-3,12,5-13,4zM1144,1535l10-4,13,5-11,4zM1154,1531l10-3,14,4-11,4zM1164,1528l10-4,14,3-10,5zM1174,1524l8-5,15,4-9,4zM1182,1519l8-4,15,3-8,5zM1190,1515l7-5,16,3-8,5zM1197,1510l6-4,16,2-6,5zM1203,1506l5-5,17,2-6,5zM1208,1501l4-5,17,1-4,6zM1212,1496l3-5,18,1-4,5zM1215,1491l3-5,17,0-2,6zM1218,1486l1-6,18,1-2,5zM1219,1480l0-5,18,0,0,6z />
<path color=#262268 d=M758,1476l0,5-15,0,0-6zM758,1481l2,5-15,1-2-6zM760,1486l3,6-15,1-3-6zM763,1492l3,5-14,2-4-6zM766,1497l5,6-15,1-4-5zM771,1503l5,5-14,2-6-6zM776,1508l7,5-14,2-7-5zM783,1513l7,5-13,3-8-6zM790,1518l8,5-12,3-9-5zM798,1523l9,4-12,3-9-4zM807,1527l10,4-11,4-11-5zM817,1531l11,5-11,3-11-4zM828,1536l12,3-10,4-13-4zM840,1539l12,4-10,4-12-4zM852,1543l12,3-8,5-14-4zM864,1546l14,3-8,5-14-3zM878,1549l14,3-7,5-15-3zM892,1552l14,2-6,5-15-2zM906,1554l15,2-5,5-16-2zM921,1556l15,2-4,5-16-2zM936,1558l15,1-3,5-16-1zM951,1559l15,1-2,5-16-1zM966,1560l16,1-1,5-17-1zM982,1561l16,0,0,5-17,0zM998,1561l15,0,1,5-16,0zM1013,1561l16-1,2,5-17,1zM1029,1560l15-1,3,5-16,1zM1044,1559l16-1,4,5-17,1zM1060,1558l15-2,4,5-15,2zM1075,1556l14-2,6,5-16,2zM1089,1554l15-2,6,5-15,2zM1104,1552l13-2,8,6-15,1zM1156,1540l11-4,11,4-12,4zM1167,1536l11-4,11,3-11,5zM1178,1532l10-5,12,4-11,4zM1188,1527l9-4,12,3-9,5zM1197,1523l8-5,13,3-9,5zM1205,1518l8-5,13,2-8,6zM1213,1513l6-5,14,2-7,5zM1219,1508l6-5,14,1-6,6zM1225,1503l4-6,15,2-5,5zM1229,1497l4-5,14,1-3,6zM1233,1492l2-6,15,1-3,6zM1235,1486l2-5,15,0-2,6zM1237,1481l0-6,15,0,0,6z />
<path color=#2a2573 d=M1117,1550l14-3,8,9-14,0zM1131,1547l12-3,10,5-14,7zM1143,1544l13-4,10,4-13,5z />
<path color=#262268 d=M743,1475l0,6-13,1,0-7zM743,1481l2,6-13,1-2-6zM745,1487l3,6-13,1-3-6zM748,1493l4,6-13,1-4-6zM752,1499l4,5-12,2-5-6zM756,1504l6,6-12,2-6-6zM762,1510l7,5-12,2-7-5zM769,1515l8,6-12,2-8-6zM777,1521l9,5-11,2-10-5zM786,1526l9,4-10,3-10-5zM795,1530l11,5-10,3-11-5zM806,1535l11,4-9,4-12-5zM817,1539l13,4-9,4-13-4zM830,1543l12,4-8,4-13-4zM842,1547l14,4-7,4-15-4zM856,1551l14,3-6,4-15-3zM870,1554l15,3-6,4-15-3zM885,1557l15,2-5,5-16-3zM900,1559l16,2-5,5-16-2zM916,1561l16,2-4,5-17-2zM932,1563l16,1-3,5-17-1zM948,1564l16,1-1,5-18-1zM964,1565l17,1-1,5-17-1zM981,1566l17,0,0,5-18,0zM998,1566l16,0,1,5-17,0zM1014,1566l17-1,2,5-18,1zM1031,1565l16-1,3,5-17,1zM1047,1564l17-1,3,5-17,1zM1064,1563l15-2,5,5-17,2zM1079,1561l16-2,5,5-16,2zM1095,1559l15-2,6,5-16,2zM1110,1557l15-1,7,8-16-2zM1166,1544l12-4,9,3-13,5zM1178,1540l11-5,10,4-12,4zM1189,1535l11-4,10,3-11,5zM1200,1531l9-5,11,2-10,6zM1209,1526l9-5,12,2-10,5zM1218,1521l8-6,12,2-8,6zM1226,1515l7-5,12,2-7,5zM1233,1510l6-6,12,2-6,6zM1239,1504l5-5,12,1-5,6zM1244,1499l3-6,13,1-4,6zM1247,1493l3-6,13,0-3,7zM1250,1487l2-6,13,0-2,6zM1252,1481l0-6,14,0-1,6z />
<path color=#2a216a d=M1125,1556l14,0,7,11-14-3z />
<path color=#2d2474 d=M1139,1556l14-7,8,7-15,11z />
<path color=#2a2573 d=M1153,1549l13-5,8,4-13,8z />
<path color=#262268 d=M730,1475l0,7-11,0-1-7zM730,1482l2,6-12,0-1-6zM732,1488l3,6-12,0-3-6zM735,1494l4,6-12,1-4-7zM739,1500l5,6-11,1-6-6zM744,1506l6,6-11,1-6-6zM750,1512l7,5-10,2-8-6zM757,1517l8,6-10,2-8-6zM765,1523l10,5-10,2-10-5zM775,1528l10,5-9,3-11-6zM785,1533l11,5-9,3-11-5zM796,1538l12,5-8,3-13-5zM808,1543l13,4-8,3-13-4zM821,1547l13,4-7,3-14-4zM834,1551l15,4-7,3-15-4zM849,1555l15,3-6,4-16-4zM864,1558l15,3-5,4-16-3zM879,1561l16,3-4,3-17-2zM895,1564l16,2-3,4-17-3zM911,1566l17,2-3,4-17-2zM928,1568l17,1-2,4-18-1zM945,1569l18,1-2,4-18-1zM963,1570l17,1-1,4-18-1zM980,1571l18,0,0,4-19,0zM998,1571l17,0,1,4-18,0zM1015,1571l18-1,1,4-18,1zM1033,1570l17-1,2,4-18,1zM1050,1569l17-1,3,4-18,1zM1067,1568l17-2,3,4-17,2zM1084,1566l16-2,5,4-18,2zM1100,1564l16-2,5,4-16,2zM1174,1548l13-5,8,3-13,5zM1187,1543l12-4,9,2-13,5zM1199,1539l11-5,9,2-11,5zM1210,1534l10-6,10,3-11,5zM1220,1528l10-5,10,2-10,6zM1230,1523l8-6,10,2-8,6zM1238,1517l7-5,11,1-8,6zM1245,1512l6-6,11,1-6,6zM1251,1506l5-6,12,1-6,6zM1256,1500l4-6,12,0-4,7zM1260,1494l3-7,12,1-3,6zM1263,1487l2-6,12,0-2,7zM1265,1481l1-6,11,0,0,6z />
<path color=#221b57 d=M1116,1562l16,2,5,5-16-3z />
<path color=#261e60 d=M1132,1564l14,3,7,7-16-5z />
<path color=#2d2474 d=M1146,1567l15-11,7,4-15,14z />
<path color=#2a216a d=M1161,1556l13-8,8,3-14,9z />
<path color=#262268 d=M718,1475l1,7-9-1-1-7zM719,1482l1,6-8-1-2-6zM720,1488l3,6-8,0-3-7zM723,1494l4,7-8,0-4-7zM727,1501l6,6-9,0-5-6zM733,1507l6,6-8,1-7-7zM739,1513l8,6-8,1-8-6zM747,1519l8,6-7,1-9-6zM755,1525l10,5-7,2-10-6zM765,1530l11,6-7,1-11-5zM776,1536l11,5-6,1-12-5zM787,1541l13,5-6,1-13-5zM800,1546l13,4-6,2-13-5zM813,1550l14,4-5,2-15-4zM827,1554l15,4-5,2-15-4zM842,1558l16,4-5,2-16-4zM858,1562l16,3-4,2-17-3zM874,1565l17,2-4,3-17-3zM891,1567l17,3-3,2-18-2zM908,1570l17,2-2,2-18-2zM925,1572l18,1-2,3-18-2zM943,1573l18,1-1,3-19-1zM961,1574l18,1,0,3-19-1zM979,1575l19,0,0,3-19,0zM998,1575l18,0,0,3-18,0zM1016,1575l18-1,1,3-19,1zM1034,1574l18-1,2,3-19,1zM1052,1573l18-1,2,2-18,2zM1070,1572l17-2,3,2-18,2zM1087,1570l18-2,3,2-18,2zM1208,1541l11-5,7,1-12,5zM1219,1536l11-5,7,1-11,5zM1230,1531l10-6,7,1-10,6zM1240,1525l8-6,8,1-9,6zM1248,1519l8-6,8,1-8,6zM1256,1513l6-6,9,0-7,7zM1262,1507l6-6,8,0-5,6zM1268,1501l4-7,8,0-4,7zM1272,1494l3-6,9-1-4,7zM1275,1488l2-7,8,0-1,6zM1277,1481l0-6,9-1-1,7z />
<path color=#231f5e d=M1105,1568l16-2,4,1-17,3zM1182,1551l13-5,7,1-14,5zM1195,1546l13-5,6,1-12,5z />
<path color=#0c0a1f d=M1121,1566l16,3,5-5-17,3zM1168,1560l14-9,6,1-15,4z />
<path color=#2e297d d=M1137,1569l16,5,5-14-16,4z />
<path color=#2a2573 d=M1153,1574l15-14,5-4-15,4z />
<path stroke=#012 stroke-opacity=.5 stroke-width=1.5 fill=none d=M1153,1574l5-14 />
<path color=#262268 fill-rule=evenodd d=M946,1615l444-123-341-160-443,123zM1226,1410l-12-5-12-5-14-4-15-5-15-4-16-3-17-4-17-2-18-3-18-2-18-1-19-1-19-1-18,0-19,0-19,1-19,1-18,1-18,2-18,3-17,2-17,4-16,3-15,4-15,5-13,4-13,5-12,5-11,6-10,6-9,6-8,6-7,6-5,7-4,6-3,7-2,7-1,7,1,7,2,6,3,7,4,7,5,6,7,7,8,6,9,6,10,6,11,5,12,5,13,5,13,5,15,4,15,4,16,4,17,3,17,3,18,2,18,2,18,2,19,1,19,1,19,0,18,0,19-1,19-1,18-2,18-2,18-2,17-3,17-3,16-4,15-4,15-4,14-5,12-5,12-5,11-5,10-6,9-6,8-6,7-7,5-6,4-7,4-7,1-6,1-7-1-7-1-7-4-7-4-6-5-7-7-6-8-6-9-6-10-6z />
<path color=#0c0b22 d=M1137,1386l-16-8,4,2,17,4z />
<path color=#293ca3 d=M1121,1378l-16-18,3,18,17,2z />
<path color=#0260d1 d=M1105,1360l-18-27,3,42,18,3z />
<path color=#1277c7 d=M1087,1333l-17-22,2,62,18,2z />
<path color=#0b8ac3 d=M1070,1311l-18-22,2,83,18,1z />
<path color=#0fa2ab d=M1052,1289l-18-42,1,124,19,1z />
<path color=#81b16d d=M1034,1247l-18-67,0,190,19,1z />
<path color=#e9af3c d=M1016,1180l-18-42,0,232,18,0z />
<path color=#ebbb2e d=M998,1138l-19,25,0,207,19,0z />
<path color=#caad4f d=M979,1163l-18,29-1,179,19-1zM908,1193l-17-18-4,203,18-3z />
<path color=#a8b05d d=M961,1192l-18,11-2,169,19-1z />
<path color=#a1b060 d=M943,1203l-18,0-2,170,18-1z />
<path color=#afaf5a d=M925,1203l-17-10-3,182,18-2z />
<path color=#d1ac4c d=M891,1175l-17,16-4,189,17-2z />
<path color=#89b169 d=M874,1191l-16,65-5,128,17-4z />
<path color=#0aa0af d=M858,1256l-16,52-5,79,16-3z />
<path color=#0e86c3 d=M842,1308l-15,26-5,57,15-4z />
<path color=#0f71ca d=M827,1334l-14,21-6,41,15-5z />
<path color=#035cc0 d=M813,1355l-13,24-6,21,13-4z />
<path color=#203c9f d=M800,1379l-13,20-6,6,13-5z />
<path color=#0b0d24 d=M787,1399l-11,12-7-1,12-5z />
<path color=#272670 d=M776,1411l-11,7-7-2,11-6z />
<path color=#2b2a7b d=M1132,1389l-16-7,5-4,16,8zM785,1413l-10,7-10-2,11-7z />
<path color=#293ca3 d=M1116,1382l-16-14,5-8,16,18z />
<path color=#0258c1 d=M1100,1368l-16-23,3-12,18,27zM821,1364l-13,21-8-6,13-24z />
<path color=#0e68bb d=M1084,1345l-17-22,3-12,17,22zM834,1342l-13,22-8-9,14-21z />
<path color=#0d7bb4 d=M1067,1323l-17-22,2-12,18,22z />
<path color=#0792a5 d=M1050,1301l-17-34,1-20,18,42z />
<path color=#5ea36f d=M1033,1267l-18-46,1-41,18,67z />
<path color=#c4ad52 d=M1015,1221l-17-28,0-55,18,42z />
<path color=#d7ac49 d=M998,1193l-18,9-1-39,19-25z />
<path color=#afaf5a d=M980,1202l-17,14-2-24,18-29zM911,1221l-16-5-4-41,17,18zM895,1216l-16,16-5-41,17-16z />
<path color=#99b163 d=M963,1216l-18,6-2-19,18-11zM928,1223l-17-2-3-28,17,10z />
<path color=#92b166 d=M945,1222l-17,1-3-20,18,0z />
<path color=#66b178 d=M879,1232l-15,45-6-21,16-65z />
<path color=#079eb3 d=M864,1277l-15,40-7-9,16-52z />
<path color=#0f78b4 d=M849,1317l-15,25-7-8,15-26z />
<path color=#2342ad d=M808,1385l-12,18-9-4,13-20z />
<path color=#2e3290 d=M796,1403l-11,10-9-2,11-12z />
<path color=#2b2a7b d=M1125,1393l-15-6,6-5,16,7zM795,1416l-9,7-11-3,10-7z />
<path color=#2c379a d=M1110,1387l-15-10,5-9,16,14z />
<path color=#0d4fbe d=M1095,1377l-16-15,5-17,16,23zM830,1378l-13,17-9-10,13-21z />
<path color=#0667cf d=M1079,1362l-15-18,3-21,17,22zM842,1360l-12,18-9-14,13-22z />
<path color=#1277c7 d=M1064,1344l-17-18,3-25,17,22zM856,1340l-14,20-8-18,15-25z />
<path color=#0691c1 d=M1047,1326l-16-23,2-36,17,34zM870,1314l-14,26-7-23,15-40z />
<path color=#14a4a7 d=M1031,1303l-17-25,1-57,18,46zM885,1289l-15,25-6-37,15-45z />
<path color=#52b082 d=M1014,1278l-16-17,0-68,17,28zM948,1258l-16,3-4-38,17-1zM932,1261l-16,4-5-44,17,2zM916,1265l-16,8-5-57,16,5z />
<path color=#6fb174 d=M998,1261l-17-5-1-54,18-9z />
<path color=#66b178 d=M981,1256l-17,1-1-41,17-14z />
<path color=#5cb17d d=M964,1257l-16,1-3-36,18-6z />
<path color=#49af87 d=M900,1273l-15,16-6-57,16-16z />
<path color=#293ca3 d=M817,1395l-11,12-10-4,12-18z />
<path color=#2e3290 d=M806,1407l-11,9-10-3,11-10z />
<path color=#2b2a7b d=M1117,1398l-13-5,6-6,15,6zM817,1413l-10,7-12-4,11-9zM807,1420l-9,6-12-3,9-7z />
<path color=#2e3290 d=M1104,1393l-15-7,6-9,15,10z />
<path color=#2342ad d=M1089,1386l-14-10,4-14,16,15zM840,1392l-12,11-11-8,13-17z />
<path color=#0454c0 d=M1075,1376l-15-12,4-20,15,18zM852,1379l-12,13-10-14,12-18z />
<path color=#096ace d=M1060,1364l-16-13,3-25,17,18zM864,1364l-12,15-10-19,14-20z />
<path color=#1277c7 d=M1044,1351l-15-14,2-34,16,23zM878,1348l-14,16-8-24,14-26z />
<path color=#0b8ac3 d=M1029,1337l-16-14,1-45,17,25zM892,1333l-14,15-8-34,15-25z />
<path color=#0697bc d=M1013,1323l-15-11,0-51,16,17zM906,1320l-14,13-7-44,15-16z />
<path color=#079eb3 d=M998,1312l-16-6-1-50,17,5z />
<path color=#0aa0af d=M982,1306l-16-3-2-46,17-1zM966,1303l-15-1-3-44,16-1zM951,1302l-15,3-4-44,16-3zM936,1305l-15,6-5-46,16-4z />
<path color=#069cb6 d=M921,1311l-15,9-6-47,16-8z />
<path color=#2c379a d=M828,1403l-11,10-11-6,11-12z />
<path color=#2b2a7b d=M1109,1404l-13-4,8-7,13,5zM831,1418l-9,6-15-4,10-7zM822,1424l-9,5-15-3,9-6z />
<path color=#2a2e84 d=M1096,1400l-14-5,7-9,15,7z />
<path color=#2c379a d=M1082,1395l-13-6,6-13,14,10zM851,1404l-10,8-13-9,12-11z />
<path color=#2342ad d=M1069,1389l-14-8,5-17,15,12zM862,1395l-11,9-11-12,12-13z />
<path color=#0d4fbe d=M1055,1381l-14-8,3-22,16,13zM874,1385l-12,10-10-16,12-15z />
<path color=#035cc0 d=M1041,1373l-14-8,2-28,15,14zM887,1375l-13,10-10-21,14-16z />
<path color=#0d6dcc d=M1027,1365l-15-8,1-34,16,14zM899,1366l-12,9-9-27,14-15z />
<path color=#1174c8 d=M1012,1357l-14-6,0-39,15,11zM913,1357l-14,9-7-33,14-13z />
<path color=#137ac5 d=M998,1351l-15-5-1-40,16,6zM926,1351l-13,6-7-37,15-9z />
<path color=#1082c3 d=M983,1346l-14-2-3-41,16,3zM969,1344l-15,0-3-42,15,1zM954,1344l-14,2-4-41,15-3z />
<path color=#127ec4 d=M940,1346l-14,5-5-40,15-6z />
<path color=#2e3290 d=M841,1412l-10,6-14-5,11-10z />
<path color=#2b2a7b d=M1097,1411l-11-3,10-8,13,4zM1086,1408l-12-3,8-10,14,5zM856,1420l-9,5-16-7,10-6zM847,1425l-8,4-17-5,9-6zM839,1429l-7,5-19-5,9-5z />
<path color=#2a2e84 d=M1074,1405l-12-4,7-12,13,6z />
<path color=#2c379a d=M1062,1401l-13-4,6-16,14,8zM876,1409l-10,6-15-11,11-9z />
<path color=#293ca3 d=M1049,1397l-12-5,4-19,14,8zM887,1403l-11,6-14-14,12-10z />
<path color=#1a48b7 d=M1037,1392l-13-4,3-23,14,8zM898,1397l-11,6-13-18,13-10z />
<path color=#0d4fbe d=M1024,1388l-13-4,1-27,15,8zM909,1391l-11,6-11-22,12-9z />
<path color=#0258c1 d=M1011,1384l-13-3,0-30,14,6z />
<path color=#035cc0 d=M998,1381l-13-2-2-33,15,5zM985,1379l-13-1-3-34,14,2zM946,1380l-13,3-7-32,14-5zM933,1383l-12,4-8-30,13-6z />
<path color=#055fbf d=M972,1378l-13,0-5-34,15,0zM959,1378l-13,2-6-34,14-2z />
<path color=#0454c0 d=M921,1387l-12,4-10-25,14-9z />
<path color=#2e3290 d=M866,1415l-10,5-15-8,10-8z />
<path color=#2b2a7b d=M1084,1420l-10-3,12-9,11,3zM1074,1417l-10-2,10-10,12,3zM1064,1415l-11-2,9-12,12,4zM883,1425l-8,4-19-9,10-5zM875,1429l-8,3-20-7,9-5zM867,1432l-7,4-21-7,8-4z />
<path color=#2a2e84 d=M1053,1413l-11-2,7-14,13,4zM892,1421l-9,4-17-10,10-6z />
<path color=#2e3290 d=M1042,1411l-11-2,6-17,12,5zM901,1418l-9,3-16-12,11-6z />
<path color=#2c379a d=M1031,1409l-11-3,4-18,13,4zM1020,1406l-11-1,2-21,13,4zM911,1414l-10,4-14-15,11-6z />
<path color=#293ca3 d=M1009,1405l-11-2,0-22,13,3zM931,1408l-10,3-12-20,12-4zM921,1411l-10,3-13-17,11-6z />
<path color=#2342ad d=M998,1403l-12,0-1-24,13,2zM986,1403l-11-1-3-24,13,1zM975,1402l-11,1-5-25,13,0zM964,1403l-11,1-7-24,13-2zM953,1404l-11,2-9-23,13-3zM942,1406l-11,2-10-21,12-4z />
<path color=#2b2a7b d=M1060,1428l-8-2,12-11,10,2zM1052,1426l-9-1,10-12,11,2zM1043,1425l-9-1,8-13,11,2zM1034,1424l-9-1,6-14,11,2zM1025,1423l-9-1,4-16,11,3zM1016,1422l-9-1,2-16,11,1zM927,1428l-8,2-18-12,10-4zM919,1430l-8,2-19-11,9-3zM911,1432l-7,3-21-10,9-4zM904,1435l-7,2-22-8,8-4zM897,1437l-6,3-24-8,8-3z />
<path color=#2a2e84 d=M1007,1421l-9,0,0-18,11,2zM998,1421l-10-1-2-17,12,0zM988,1420l-9,1-4-19,11,1zM979,1421l-9,0-6-18,11-1zM970,1421l-9,1-8-18,11-1zM961,1422l-9,1-10-17,11-2zM952,1423l-9,1-12-16,11-2zM943,1424l-8,2-14-15,10-3zM935,1426l-8,2-16-14,10-3z />
<path color=#2a2573 d=M1025,1437l-7,0,7-14,9,1z />
<path color=#2b2a7b d=M1018,1437l-7-1,5-14,9,1zM1011,1436l-6-1,2-14,9,1zM1005,1435l-7,0,0-14,9,0zM998,1435l-7,0-3-15,10,1zM991,1435l-7,1-5-15,9-1zM984,1436l-7,0-7-15,9,0zM977,1436l-7,1-9-15,9-1zM970,1437l-7,0-11-14,9-1zM963,1437l-6,1-14-14,9-1zM957,1438l-7,1-15-13,8-2zM950,1439l-6,2-17-13,8-2zM944,1441l-6,1-19-12,8-2zM938,1442l-5,2-22-12,8-2z /></g></g>
<g><path class="g" d="M414.2,325.9L343.3,292.5L343.3,219.7M443.1,317.9L372.1,284.5L372.1,211.7M471.9,309.9L401,276.5L401,203.7M363.1,323.5L455.5,297.9L455.5,225M341,313L433.4,287.4L433.4,214.6M318.8,302.6L411.2,277L411.2,204.2M314.4,282.3L406.8,256.7L477.7,290.1M314.4,264.1L406.8,238.5L477.7,271.9M314.4,245.9L406.8,220.3L477.7,253.7M314.4,227.7L406.8,202.1L477.7,235.5M406.8,274.9L406.8,202.1M314.4,300.5L406.8,274.9L477.7,308.3M477.7,308.3L477.7,235.5"/>
<path class="a" d="M314.4,227.7L314.4,300.5L385.3,333.9L477.7,308.3M385.3,333.9L383.7,334.4M363.1,323.5L361.5,323.9M341,313L339.3,313.5M318.8,302.6L317.2,303.1M385.3,333.9L386.8,334.6M414.2,325.9L415.7,326.6M443.1,317.9L444.6,318.6M471.9,309.9L473.5,310.6M314.4,300.5L312.7,300.5M314.4,282.3L312.7,282.3M314.4,264.1L312.7,264.1M314.4,245.9L312.7,245.9M314.4,227.7L312.7,227.7"/><g transform="scale(.2)" fill="currentColor" stroke="currentColor" stroke-width="2" stroke-linejoin="round"><path color=#046c7e d=M2208,1280l-11-5,6-8,13,6zM2219,1285l-11-5,8-7,11,5z />
<path color=#05788c d=M2197,1275l-13-4,6-9,13,5zM2184,1271l-14-3,6-11,14,5zM2170,1268l-14-2,5-13,15,4z />
<path color=#05829d d=M2156,1266l-16-1,5-16,16,4zM1944,1255l-19-15-2-7,19-1z />
<path color=#05809f d=M2140,1265l-16,2,5-22,16,4z />
<path color=#057ba3 d=M2124,1267l-16,6,4-31,17,3z />
<path color=#0c71a5 d=M2108,1273l-17,13,3-47,18,3z />
<path color=#0f65a8 d=M2091,1286l-18,16,3-65,18,2zM1981,1304l-19-29,0-44,19,0z />
<path color=#0b5dad d=M2073,1302l-18,6,3-73,18,2z />
<path color=#0557af d=M2055,1308l-18,8,2-83,19,2z />
<path color=#0151b1 d=M2037,1316l-18,11,1-95,19,1z />
<path color=#0c48ae d=M2019,1327l-19,0,0-96,20,1z />
<path color=#0354b0 d=M2000,1327l-19-23,0-73,19,0z />
<path color=#0778a4 d=M1962,1275l-18-20-2-23,20-1z />
<path color=#034952 d=M2268,1340l-1-6,9-3,1,7zM2267,1334l-2-7,9-3,2,7z />
<path color=#045560 d=M2265,1327l-3-6,9-4,3,7zM2262,1321l-4-7,9-4,4,7zM2258,1314l-6-6,9-5,6,7z />
<path color=#05616e d=M2252,1308l-6-6,8-5,7,6zM2246,1302l-8-6,8-6,8,7zM2238,1296l-9-6,8-6,9,6z />
<path color=#056e7c d=M2229,1290l-10-5,8-7,10,6z />
<path color=#034854 d=M2199,1284l-11-5,9-4,11,5zM2188,1279l-13-4,9-4,13,4zM2175,1275l-13-3,8-4,14,3zM2219,1293l-9-5,9-3,10,5zM2210,1288l-11-4,9-4,11,5z />
<path color=#034755 d=M2162,1272l-14-2,8-4,14,2z />
<path color=#023b47 d=M2148,1270l-14-1,6-4,16,1z />
<path color=#022f3a d=M2134,1269l-16,2,6-4,16-2z />
<path color=#01222c d=M2118,1271l-15,6,5-4,16-6z />
<path color=#031f2d d=M2103,1277l-17,11,5-2,17-13z />
<path color=#041c2e d=M2086,1288l-17,12,4,2,18-16zM1981,1298l-18-23-1,0,19,29z />
<path color=#041a2f d=M2069,1300l-17,8,3,0,18-6z />
<path color=#02192f d=M2052,1308l-17,7,2,1,18-8z />
<path color=#012e60 d=M2035,1315l-18,6,2,6,18-11z />
<path color=#014291 d=M2017,1321l-18-4,1,10,19,0z />
<path color=#033770 d=M1999,1317l-18-19,0,6,19,23z />
<path color=#02212d d=M1963,1275l-18-19-1-1,18,20z />
<path color=#01232b d=M1945,1256l-18-15-2-1,19,15z />
<path color=#034952 d=M2256,1340l-1-6,12,0,1,6zM2255,1334l-1-6,11-1,2,7zM2254,1328l-3-6,11-1,3,6zM2251,1322l-4-6,11-2,4,7zM2247,1316l-6-6,11-2,6,6zM2241,1310l-6-6,11-2,6,6zM2235,1304l-7-5,10-3,8,6zM2228,1299l-9-6,10-3,9,6z />
<path color=#034854 d=M2188,1287l-11-4,11-4,11,5zM2177,1283l-11-4,9-4,13,4zM2215,1301l-8-5,12-3,9,6zM2198,1291l-10-4,11-3,11,4z />
<path color=#023c46 d=M2166,1279l-13-3,9-4,13,3zM2207,1296l-9-5,12-3,9,5z />
<path color=#023b47 d=M2153,1276l-13-2,8-4,14,2z />
<path color=#022f39 d=M2140,1274l-14,0,8-5,14,1z />
<path color=#01232b d=M2126,1274l-14,1,6-4,16-2z />
<path color=#01222c d=M2112,1275l-15,4,6-2,15-6zM1964,1270l-17-15-2,1,18,19z />
<path color=#02202d d=M2097,1279l-16,7,5,2,17-11z />
<path color=#0a446a d=M2081,1286l-16,8,4,6,17-12z />
<path color=#0d528a d=M2065,1294l-16,6,3,8,17-8z />
<path color=#0b4e8c d=M2049,1300l-17,4,3,11,17-7z />
<path color=#0a549d d=M2032,1304l-17,2,2,15,18-6zM2015,1306l-17-6,1,17,18,4z />
<path color=#0d599a d=M1998,1300l-17-13,0,11,18,19z />
<path color=#094669 d=M1981,1287l-17-17-1,5,18,23z />
<path color=#01242a d=M1947,1255l-17-12-3-2,18,15z />
<path color=#033d45 d=M2242,1340l0-6,13,0,1,6zM2242,1334l-2-6,14,0,1,6z />
<path color=#034952 d=M2240,1328l-3-5,14-1,3,6zM2237,1323l-4-6,14-1,4,6zM2233,1317l-5-6,13-1,6,6zM2228,1311l-6-5,13-2,6,6zM2222,1306l-7-5,13-2,7,5z />
<path color=#023c46 d=M2176,1290l-10-4,11-3,11,4zM2166,1286l-11-3,11-4,11,4zM2155,1283l-12-2,10-5,13,3zM2194,1298l-9-4,13-3,9,5zM2185,1294l-9-4,12-3,10,4z />
<path color=#022f39 d=M2143,1281l-12-2,9-5,13,2z />
<path color=#01232b d=M2131,1279l-13-1,8-4,14,0zM2118,1278l-14,1,8-4,14-1z />
<path color=#01222c d=M2104,1279l-14,2,7-2,15-4z />
<path color=#02212d d=M2090,1281l-15,3,6,2,16-7z />
<path color=#05334b d=M2075,1284l-15,5,5,5,16-8z />
<path color=#0a5078 d=M2060,1289l-15,3,4,8,16-6z />
<path color=#0d5589 d=M2045,1292l-16,2,3,10,17-4z />
<path color=#0e5e98 d=M2029,1294l-16-2,2,14,17-2zM2013,1292l-16-5,1,13,17,6z />
<path color=#0b5a87 d=M1997,1287l-16-10,0,10,17,13z />
<path color=#044c68 d=M1981,1277l-16-12-1,5,17,17z />
<path color=#022f3a d=M1965,1265l-16-13-2,3,17,15z />
<path color=#022529 d=M1949,1252l-16-6-3-3,17,12z />
<path color=#033d45 d=M2227,1339l-1-5,16,0,0,6zM2226,1334l-1-6,15,0,2,6zM2225,1328l-3-5,15,0,3,5zM2222,1323l-4-5,15-1,4,6zM2218,1318l-4-5,14-2,5,6zM2214,1313l-6-5,14-2,6,5zM2208,1308l-7-5,14-2,7,5zM2201,1303l-7-5,13-2,8,5z />
<path color=#023c46 d=M2162,1294l-10-4,14-4,10,4zM2178,1301l-8-4,15-3,9,4zM2170,1297l-8-3,14-4,9,4z />
<path color=#023038 d=M2152,1290l-10-3,13-4,11,3zM2142,1287l-11-2,12-4,12,2z />
<path color=#01232b d=M2131,1285l-11-2,11-4,12,2zM2120,1283l-13-1,11-4,13,1zM2107,1282l-12,0,9-3,14-1z />
<path color=#01222c d=M2095,1282l-13,0,8-1,14-2zM2082,1282l-14,1,7,1,15-3z />
<path color=#02212d d=M2068,1283l-14,2,6,4,15-5z />
<path color=#04354b d=M2054,1285l-14,0,5,7,15-3z />
<path color=#064a69 d=M2040,1285l-15,0,4,9,16-2z />
<path color=#075578 d=M2025,1285l-14-3,2,10,16,2zM2011,1282l-15-5,1,10,16,5z />
<path color=#034e68 d=M1996,1277l-15-8,0,8,16,10z />
<path color=#023a48 d=M1981,1269l-15-9-1,5,16,12z />
<path color=#01242a d=M1966,1260l-15-6-2-2,16,13z />
<path color=#033d45 d=M2209,1338l-1-5,18,1,1,5zM2208,1333l-1-5,18,0,1,6zM2207,1328l-3-4,18-1,3,5zM2204,1324l-3-5,17-1,4,5zM2201,1319l-5-5,18-1,4,5zM2196,1314l-5-4,17-2,6,5zM2191,1310l-6-5,16-2,7,5zM2185,1305l-7-4,16-3,7,5z />
<path color=#023038 d=M2144,1297l-9-3,17-4,10,4zM2135,1294l-9-3,16-4,10,3z />
<path color=#01242a d=M2126,1291l-10-2,15-4,11,2zM2116,1289l-10-2,14-4,11,2z />
<path color=#01232b d=M2106,1287l-11-1,12-4,13,1zM2095,1286l-12-2,12-2,12,0zM2083,1284l-11,0,10-2,13,0zM2072,1284l-13-1,9,0,14-1zM2008,1275l-14-5,2,7,15,5zM1994,1270l-13-6,0,5,15,8z />
<path color=#01222c d=M2059,1283l-12-1,7,3,14-2zM2047,1282l-13-2,6,5,14,0zM2034,1280l-13-2,4,7,15,0zM2021,1278l-13-3,3,7,14,3z />
<path color=#022529 d=M1981,1264l-13-3-2-1,15,9z />
<path color=#043e43 d=M2185,1333l-1-5,23,0,1,5z />
<path color=#033d45 d=M2184,1328l-2-4,22,0,3,4zM2182,1324l-3-4,22-1,3,5zM2179,1320l-4-4,21-2,5,5zM2175,1316l-5-4,21-2,5,4zM2170,1312l-5-4,20-3,6,5zM2165,1308l-7-4,20-3,7,4z />
<path color=#023137 d=M2158,1304l-7-3,19-4,8,4zM2151,1301l-7-4,18-3,8,3z />
<path color=#022529 d=M2122,1300l-8-2,21-4,9,3zM2114,1298l-7-3,19-4,9,3zM2107,1295l-9-2,18-4,10,2zM2004,1273l-11-2,1-1,14,5zM2129,1303l-7-3,22-3,7,4z />
<path color=#01242a d=M2098,1293l-9-2,17-4,10,2zM2089,1291l-9-3,15-2,11,1zM2080,1288l-10-1,13-3,12,2zM2070,1287l-10-2,12-1,11,0zM2060,1285l-11-2,10,0,13,1zM2049,1283l-11-3,9,2,12,1zM2038,1280l-11-2,7,2,13,2zM2027,1278l-11-3,5,3,13,2zM2016,1275l-12-2,4,2,13,3z />
<path color=#043e43 d=M2155,1324l-3-3,27-1,3,4zM2152,1321l-3-4,26-1,4,4z />
<path color=#033d45 d=M2149,1317l-4-4,25-1,5,4z />
<path color=#023137 d=M2145,1313l-5-3,25-2,5,4zM2140,1310l-5-4,23-2,7,4zM2135,1306l-6-3,22-2,7,3z />
<path color=#033136 d=M2097,1305l-6-3,23-4,8,2zM2102,1307l-5-2,25-5,7,3z />
<path color=#022529 d=M2091,1302l-7-2,23-5,7,3zM2084,1300l-7-3,21-4,9,2zM2077,1297l-7-2,19-4,9,2zM2070,1295l-8-2,18-5,9,3zM2062,1293l-8-2,16-4,10,1zM2054,1291l-9-2,15-4,10,2zM2045,1289l-8-2,12-4,11,2zM2037,1287l-9-2,10-5,11,3z />
<path color=#043e43 d=M2208,1343l1-5,18,1-1,5z />
<path color=#043e43 d=M2225,1349l1-5,16,1-2,6z />
<path color=#033d45 d=M2226,1344l1-5,15,1,0,5z />
<path color=#06565e d=M1764,1390l10,5-11,3-10-5z />
<path color=#043e43 d=M2237,1356l3-5,14,1-3,5z />
<path color=#033d45 d=M2240,1351l2-6,13,1-1,6zM2242,1345l0-5,14,0-1,6z />
<path color=#054a51 d=M1727,1376l8,6-11,2-8-7zM1735,1382l8,5-10,2-9-5zM1743,1387l10,6-10,3-10-7zM1753,1393l10,5-9,3-11-5zM1763,1398l11,5-8,3-12-5zM1774,1403l13,5-9,3-12-5z />
<path color=#043e43 d=M2247,1363l4-6,11,1-4,6z />
<path color=#033d45 d=M2251,1357l3-5,11,1-3,5zM2254,1352l1-6,12,0-2,7z />
<path color=#034952 d=M2255,1346l1-6,12,0-1,6z />
<path color=#054a51 d=M1716,1377l8,7-8,1-8-6zM1724,1384l9,5-8,2-9-6zM1733,1389l10,7-8,1-10-6zM1754,1401l12,5-7,2-13-5zM1766,1406l12,5-6,2-13-5zM2258,1364l4-6,9,1-4,6zM2262,1358l3-5,9-1-3,7zM2265,1353l2-7,9-1-2,7zM2267,1346l1-6,9-2-1,7z />
<path color=#043e43 d=M1743,1396l11,5-8,2-11-6z />
<path color=#054a51 fill-rule=evenodd d=M1928,1483l455-126-349-164-455,126zM2216,1273l-13-6-13-5-14-5-15-4-16-4-16-4-17-3-18-3-18-2-18-2-19-2-19-1-20-1-19,0-19,0-20,1-19,1-18,2-19,2-18,2-18,3-17,3-16,4-16,4-15,4-14,5-13,5-13,6-11,5-10,6-9,6-8,7-7,6-6,7-4,7-3,7-2,7-1,7,1,7,2,7,3,7,4,6,6,7,7,7,8,6,9,6,10,6,11,6,13,5,13,5,14,5,15,4,16,4,16,4,17,3,18,3,18,3,19,2,18,1,19,2,20,0,19,0,19,0,20,0,19-2,19-1,18-2,18-3,18-3,17-3,16-4,16-4,15-4,14-5,13-5,13-5,11-6,10-6,9-6,8-6,7-7,6-7,4-6,3-7,2-7,1-7-1-7-2-7-3-7-4-7-6-7-7-6-8-7-9-6-10-6z />
<path color=#033136 d=M1925,1240l-18-8-2,3,18-2zM1704,1308l-4,7-9,2,4-7z />
<path color=#0f7e81 d=M1907,1232l-18-10-3,15,19-2z />
<path color=#28917e d=M1889,1222l-18-20-3,37,18-2z />
<path color=#66965f d=M1871,1202l-17-37-4,77,18-3z />
<path color=#a09348 d=M1854,1165l-16-37-5,117,17-3z />
<path color=#c59433 d=M1838,1128l-16-16-5,137,16-4z />
<path color=#c8972e d=M1822,1112l-15,11-6,130,16-4z />
<path color=#b19240 d=M1807,1123l-15,39-6,95,15-4z />
<path color=#829554 d=M1792,1162l-14,44-6,56,14-5z />
<path color=#478860 d=M1778,1206l-12,29-7,32,13-5z />
<path color=#217667 d=M1766,1235l-12,17-8,21,13-6z />
<path color=#125a55 d=M1754,1252l-11,13-8,13,11-5z />
<path color=#062626 d=M1743,1265l-10,10-8,9,10-6z />
<path color=#052627 d=M1733,1275l-9,9-8,6,9-6z />
<path color=#032528 d=M1724,1284l-8,8-8,5,8-7zM1716,1292l-6,8-9,3,7-6z />
<path color=#022528 d=M1710,1300l-6,8-9,2,6-7z />
<path color=#043e43 d=M1700,1315l-3,8-9,1,3-7z />
<path color=#054a51 d=M1697,1323l-2,7-9,1,2-7zM1695,1330l-1,7-9,1,1-7z />
<path color=#022528 d=M1927,1241l-17-7-3-2,18,8z />
<path color=#062626 d=M1910,1234l-17-10-4-2,18,10z />
<path color=#0b2722 d=M1893,1224l-17-19-5-3,18,20z />
<path color=#1a291b d=M1876,1205l-16-29-6-11,17,37z />
<path color=#2a2814 d=M1860,1176l-16-30-6-18,16,37z />
<path color=#896a2b d=M1844,1146l-16-14-6-20,16,16z />
<path color=#c19237 d=M1828,1132l-14,9-7-18,15-11z />
<path color=#ab9243 d=M1814,1141l-14,33-8-12,15-39z />
<path color=#7b9657 d=M1800,1174l-13,37-9-5,14-44z />
<path color=#3f8764 d=M1787,1211l-13,25-8-1,12-29z />
<path color=#217667 d=M1774,1236l-11,17-9-1,12-17z />
<path color=#17746e d=M1763,1253l-10,13-10-1,11-13z />
<path color=#106664 d=M1753,1266l-10,10-10-1,10-10z />
<path color=#0c6567 d=M1743,1276l-8,9-11-1,9-9z />
<path color=#08575c d=M1735,1285l-8,8-11-1,8-8zM1727,1293l-6,8-11-1,6-8zM1721,1301l-5,8-12-1,6-8z />
<path color=#06565e d=M1716,1309l-4,7-12-1,4-7zM1712,1316l-3,7-12,0,3-8z />
<path color=#054a51 d=M1709,1323l-2,7-12,0,2-7zM1707,1330l-1,7-12,0,1-7z />
<path color=#032528 d=M1930,1243l-16-6-4-3,17,7z />
<path color=#062626 d=M1914,1237l-17-10-4-3,17,10z />
<path color=#0d2821 d=M1897,1227l-16-14-5-8,17,19z />
<path color=#18291c d=M1881,1213l-15-19-6-18,16,29z />
<path color=#535f35 d=M1866,1194l-15-18-7-30,16,30z />
<path color=#918641 d=M1851,1176l-15-8-8-36,16,14z />
<path color=#a69345 d=M1836,1168l-14,8-8-35,14-9z />
<path color=#94944d d=M1822,1176l-13,20-9-22,14-33z />
<path color=#6d965c d=M1809,1196l-13,24-9-9,13-37z />
<path color=#3f8764 d=M1796,1220l-11,20-11-4,13-25z />
<path color=#2a856f d=M1785,1240l-11,15-11-2,11-17z />
<path color=#1b756b d=M1774,1255l-10,12-11-1,10-13z />
<path color=#106664 d=M1764,1267l-9,10-12-1,10-10z />
<path color=#0c6567 d=M1755,1277l-8,9-12-1,8-9z />
<path color=#0b585a d=M1747,1286l-7,8-13-1,8-8z />
<path color=#08575c d=M1740,1294l-6,8-13-1,6-8zM1734,1302l-5,7-13,0,5-8z />
<path color=#06565e d=M1729,1309l-4,7-13,0,4-7zM1725,1316l-3,7-13,0,3-7zM1722,1323l-1,6-14,1,2-7z />
<path color=#054a51 d=M1721,1329l-1,7-14,1,1-7z />
<path color=#032528 d=M1933,1246l-15-6-4-3,16,6z />
<path color=#062626 d=M1918,1240l-16-8-5-5,17,10z />
<path color=#0b2722 d=M1902,1232l-15-11-6-8,16,14z />
<path color=#13291e d=M1887,1221l-15-11-6-16,15,19z />
<path color=#4a6d45 d=M1872,1210l-14-9-7-25,15,18z />
<path color=#70884f d=M1858,1201l-13-3-9-30,15,8z />
<path color=#829554 d=M1845,1198l-13,5-10-27,14-8z />
<path color=#749659 d=M1832,1203l-13,12-10-19,13-20z />
<path color=#5e9662 d=M1819,1215l-12,15-11-10,13-24z />
<path color=#388667 d=M1807,1230l-11,15-11-5,11-20z />
<path color=#2a856f d=M1796,1245l-10,12-12-2,11-15z />
<path color=#1b756b d=M1786,1257l-9,11-13-1,10-12z />
<path color=#146762 d=M1777,1268l-9,10-13-1,9-10z />
<path color=#106664 d=M1768,1278l-7,9-14-1,8-9z />
<path color=#0b585a d=M1761,1287l-7,7-14,0,7-8z />
<path color=#08575c d=M1754,1294l-6,8-14,0,6-8zM1748,1302l-4,7-15,0,5-7zM1744,1309l-4,7-15,0,4-7z />
<path color=#06565e d=M1740,1316l-2,6-16,1,3-7zM1738,1322l-2,7-15,0,1-6zM1736,1329l-1,6-15,1,1-7z />
<path color=#022528 d=M1951,1254l-14-5-4-3,16,6z />
<path color=#052627 d=M1937,1249l-15-5-4-4,15,6z />
<path color=#082725 d=M1922,1244l-14-6-6-6,16,8z />
<path color=#0b2722 d=M1908,1238l-14-6-7-11,15,11z />
<path color=#194336 d=M1894,1232l-14-7-8-15,15,11z />
<path color=#396d4d d=M1880,1225l-13-4-9-20,14,9z />
<path color=#4e885d d=M1867,1221l-12,0-10-23,13,3zM1843,1224l-12,7-12-16,13-12z />
<path color=#568859 d=M1855,1221l-12,3-11-21,13-5z />
<path color=#3f8764 d=M1831,1231l-11,10-13-11,12-15z />
<path color=#31866b d=M1820,1241l-10,11-14-7,11-15z />
<path color=#2a856f d=M1810,1252l-9,10-15-5,10-12z />
<path color=#1b756b d=M1801,1262l-9,9-15-3,9-11z />
<path color=#146762 d=M1792,1271l-8,9-16-2,9-10z />
<path color=#106664 d=M1784,1280l-7,8-16-1,7-9z />
<path color=#0c6567 d=M1777,1288l-6,7-17-1,7-7z />
<path color=#0b585a d=M1771,1295l-5,7-18,0,6-8z />
<path color=#08575c d=M1766,1302l-5,7-17,0,4-7zM1761,1309l-3,6-18,1,4-7zM1758,1315l-2,7-18,0,2-6zM1756,1322l-2,6-18,1,2-7z />
<path color=#06565e d=M1754,1328l0,6-19,1,1-6z />
<path color=#022528 d=M1968,1261l-14-3-3-4,15,6z />
<path color=#032528 d=M1954,1258l-13-4-4-5,14,5z />
<path color=#052627 d=M1941,1254l-13-3-6-7,15,5z />
<path color=#082725 d=M1928,1251l-13-4-7-9,14,6z />
<path color=#092724 d=M1915,1247l-12-4-9-11,14,6z />
<path color=#195043 d=M1903,1243l-12-3-11-15,14,7z />
<path color=#276b56 d=M1891,1240l-12-1-12-18,13,4z />
<path color=#32795d d=M1879,1239l-12,1-12-19,12,0z />
<path color=#3f8764 d=M1867,1240l-11,2-13-18,12-3z />
<path color=#388667 d=M1856,1242l-10,5-15-16,12-7z />
<path color=#31866b d=M1846,1247l-10,6-16-12,11-10z />
<path color=#2a856f d=M1836,1253l-9,7-17-8,10-11z />
<path color=#217667 d=M1827,1260l-8,8-18-6,9-10z />
<path color=#1b756b d=M1819,1268l-8,7-19-4,9-9z />
<path color=#146762 d=M1811,1275l-7,8-20-3,8-9z />
<path color=#106664 d=M1804,1283l-7,7-20-2,7-8zM1797,1290l-5,6-21-1,6-7z />
<path color=#0c6567 d=M1792,1296l-5,7-21-1,5-7z />
<path color=#0b585a d=M1787,1303l-4,6-22,0,5-7z />
<path color=#08575c d=M1783,1309l-3,6-22,0,3-6zM1780,1315l-2,6-22,1,2-7zM1778,1321l-1,6-23,1,2-6zM1777,1327l-1,5-22,2,0-6z />
<path color=#043e43 d=M2186,1337l-1-4,23,0,1,5z />
<path color=#022528 d=M1993,1271l-12-2,0-5,13,6zM1981,1269l-12-2-1-6,13,3z />
<path color=#032528 d=M1969,1267l-11-2-4-7,14,3z />
<path color=#052627 d=M1958,1265l-12-3-5-8,13,4z />
<path color=#062626 d=M1946,1262l-11-2-7-9,13,3z />
<path color=#0a3431 d=M1935,1260l-11-2-9-11,13,4z />
<path color=#0f413b d=M1924,1258l-11-2-10-13,12,4z />
<path color=#164f45 d=M1913,1256l-10-1-12-15,12,3z />
<path color=#195c50 d=M1903,1255l-11,0-13-16,12,1z />
<path color=#226a59 d=M1892,1255l-9,1-16-16,12-1z />
<path color=#267764 d=M1883,1256l-10,2-17-16,11-2zM1873,1258l-9,4-18-15,10-5zM1864,1262l-8,4-20-13,10-6z />
<path color=#217667 d=M1856,1266l-8,5-21-11,9-7z />
<path color=#1b756b d=M1848,1271l-8,5-21-8,8-8zM1840,1276l-6,6-23-7,8-7z />
<path color=#146762 d=M1834,1282l-7,5-23-4,7-8zM1827,1287l-5,6-25-3,7-7z />
<path color=#106664 d=M1822,1293l-5,6-25-3,5-6zM1817,1299l-4,5-26-1,5-7z />
<path color=#0b585a d=M1813,1304l-3,6-27-1,4-6zM1810,1310l-3,5-27,0,3-6zM1807,1315l-2,5-27,1,2-6z />
<path color=#08575c d=M1805,1320l-1,5-27,2,1-6zM1804,1325l0,5-28,2,1-5z />
<path color=#043e43 d=M2159,1336l-1-4,27,1,1,4zM2158,1332l-1-4,27,0,1,5zM2157,1328l-2-4,27,0,2,4z />
<path color=#022528 d=M2028,1285l-9-1,8-6,11,2zM2019,1284l-10-2,7-7,11,3zM2009,1282l-9-2,4-7,12,2z />
<path color=#032528 d=M2000,1280l-9-1,2-8,11,2zM1991,1279l-10-2,0-8,12,2zM1981,1277l-9-2-3-8,12,2z />
<path color=#052627 d=M1972,1275l-10-1-4-9,11,2z />
<path color=#063233 d=M1962,1274l-9-1-7-11,12,3z />
<path color=#083332 d=M1953,1273l-10-2-8-11,11,2z />
<path color=#0d403d d=M1943,1271l-9,0-10-13,11,2z />
<path color=#0f4d49 d=M1934,1271l-9-1-12-14,11,2z />
<path color=#124e47 d=M1925,1270l-8,0-14-15,10,1z />
<path color=#155b53 d=M1917,1270l-9,1-16-16,11,0zM1908,1271l-8,1-17-16,9-1z />
<path color=#1d695c d=M1900,1272l-8,2-19-16,10-2zM1892,1274l-7,2-21-14,9-4z />
<path color=#18685f d=M1885,1276l-7,3-22-13,8-4zM1878,1279l-6,3-24-11,8-5zM1872,1282l-6,4-26-10,8-5z />
<path color=#146762 d=M1866,1286l-6,3-26-7,6-6zM1860,1289l-5,5-28-7,7-5zM1855,1294l-4,4-29-5,5-6z />
<path color=#106664 d=M1851,1298l-4,4-30-3,5-6zM1847,1302l-4,4-30-2,4-5z />
<path color=#0e5958 d=M1843,1306l-3,5-30-1,3-6z />
<path color=#0b585a d=M1840,1311l-2,4-31,0,3-5zM1838,1315l-1,4-32,1,2-5zM1837,1319l-1,5-32,1,1-5zM1836,1324l0,4-32,2,0-5z />
<path color=#043e43 d=M2127,1334l-1-3,32,1,1,4zM2126,1331l-1-3,32,0,1,4zM2125,1328l-1-3,31-1,2,4zM2124,1325l-2-3,30-1,3,3zM2122,1322l-3-3,30-2,3,4zM2119,1319l-3-3,29-3,4,4zM2116,1316l-4-3,28-3,5,3zM2112,1313l-5-3,28-4,5,4z />
<path color=#033136 d=M2107,1310l-5-3,27-4,6,3z />
<path color=#043e43 d=M2068,1310l-5-2,28-6,6,3zM2063,1308l-5-2,26-6,7,2zM2058,1306l-5-2,24-7,7,3zM2088,1325l-1-2,35-1,2,3zM2087,1323l-3-2,35-2,3,3zM2084,1321l-2-3,34-2,3,3zM2082,1318l-3-2,33-3,4,3zM2079,1316l-3-2,31-4,5,3zM2076,1314l-4-2,30-5,5,3zM2072,1312l-4-2,29-5,5,2z />
<path color=#033136 d=M2053,1304l-5-2,22-7,7,2zM2048,1302l-6-2,20-7,8,2zM2042,1300l-6-2,18-7,8,2zM2036,1298l-7-1,16-8,9,2z />
<path color=#053235 d=M2029,1297l-6-2,14-8,8,2zM2023,1295l-7-1,12-9,9,2zM2016,1294l-7-2,10-8,9,1zM2009,1292l-7-1,7-9,10,2zM2002,1291l-7-1,5-10,9,2zM1995,1290l-7-1,3-10,9,1z />
<path color=#063233 d=M1988,1289l-7-1,0-11,10,2zM1981,1288l-7-1-2-12,9,2z />
<path color=#083f40 d=M1974,1287l-7-1-5-12,10,1z />
<path color=#0a403f d=M1967,1286l-7-1-7-12,9,1zM1960,1285l-7,0-10-14,10,2z />
<path color=#0c4d4b d=M1953,1285l-7,0-12-14,9,0z />
<path color=#0f4d49 d=M1946,1285l-7,0-14-15,9,1zM1939,1285l-6,0-16-15,8,0z />
<path color=#125a55 d=M1933,1285l-7,1-18-15,9-1zM1926,1286l-6,1-20-15,8-1zM1920,1287l-5,1-23-14,8-2zM1915,1288l-6,2-24-14,7-2z />
<path color=#146762 d=M1909,1290l-5,2-26-13,7-3zM1904,1292l-5,2-27-12,6-3zM1899,1294l-5,2-28-10,6-4zM1894,1296l-4,3-30-10,6-3zM1890,1299l-3,2-32-7,5-5zM1887,1301l-4,3-32-6,4-4z />
<path color=#106664 d=M1883,1304l-3,3-33-5,4-4z />
<path color=#0e5958 d=M1880,1307l-2,3-35-4,4-4zM1878,1310l-2,3-36-2,3-5zM1876,1313l-2,3-36-1,2-4zM1874,1316l-1,3-36,0,1-4z />
<path color=#0b585a d=M1873,1319l-1,3-36,2,1-5zM1872,1322l0,3-36,3,0-4z />
<path color=#063e42 d=M2090,1332l0-2,36,1,1,3zM2090,1330l-1-3,36,1,1,3zM2089,1327l-1-2,36,0,1,3z />
<path color=#063e42 d=M2039,1314l-6-3,25-5,10,4zM2033,1311l-8-2,23-7,10,4zM2025,1309l-8-3,19-8,12,4zM2017,1306l-8-2,14-9,13,3zM2054,1329l-1-3,36,1,1,5zM2053,1326l-2-3,36,0,2,4zM2051,1323l-3-3,34-2,5,5zM2048,1320l-4-3,32-3,6,4zM2044,1317l-5-3,29-4,8,4z />
<path color=#083f40 d=M2009,1304l-9-2,9-10,14,3zM2000,1302l-9-1,4-11,14,2zM1991,1301l-10-1,0-12,14,2zM1981,1300l-9-1-5-13,14,2z />
<path color=#0c4d4b d=M1972,1299l-10,0-9-14,14,1zM1962,1299l-9,0-14-14,14,0zM1953,1299l-8,1-19-14,13-1z />
<path color=#125a55 d=M1945,1300l-8,1-22-13,11-2zM1937,1301l-7,2-26-11,11-4zM1930,1303l-7,3-29-10,10-4z />
<path color=#0e5958 d=M1923,1306l-5,3-31-8,7-5zM1918,1309l-4,4-34-6,7-6zM1914,1313l-3,3-35-3,4-6zM1911,1316l-2,4-36-1,3-6zM1909,1320l-1,4-36,1,1-6z />
<path color=#083f40 d=M2010,1319l-3-1,26-7,6,3zM2007,1318l-4-2,22-7,8,2zM2003,1316l-4-1,18-9,8,3zM1999,1315l-4-1,14-10,8,2zM1995,1314l-4-1,9-11,9,2zM1991,1313l-5,0,5-12,9,1zM2017,1327l0-2,36,1,1,3zM2017,1325l-1-1,35-1,2,3zM2016,1324l-1-2,33-2,3,3zM2015,1322l-2-2,31-3,4,3zM2013,1320l-3-1,29-5,5,3z />
<path color=#094c4d d=M1986,1313l-5-1,0-12,10,1z />
<path color=#0c4d4b d=M1981,1312l-5,0-4-13,9,1zM1976,1312l-4,0-10-13,10,0zM1972,1312l-5,0-14-13,9,0zM1967,1312l-4,1-18-13,8-1zM1963,1313l-4,0-22-12,8-1zM1959,1313l-4,1-25-11,7-2z />
<path color=#0e5958 d=M1955,1314l-3,2-29-10,7-3zM1952,1316l-2,1-32-8,5-3zM1950,1317l-3,2-33-6,4-4zM1947,1319l-1,1-35-4,3-3zM1946,1320l-1,2-36-2,2-4zM1945,1322l0,2-37,0,1-4z />
<path color=#094c4d d=M1981,1325l22-9,7,3zM1981,1325l14-11,8,2zM1981,1325l5-12,9,1zM1981,1325l29-6,5,3z />
<path color=#0c4d4b d=M1981,1325l-5-13,10,1zM1981,1325l-14-13,9,0zM1981,1325l-22-12,8-1zM1981,1325l-29-9,7-3zM1981,1325l-34-6,5-3zM1981,1325l-36-3,2-3zM1981,1325l-36,1,0-4z />
<path color=#083f40 d=M1981,1325l34-3,2,3z />
<path color=#0c4d4b d=M1981,1325l-34,4-2-3zM1981,1325l-29,7-5-3zM1981,1325l-22,10-7-3zM1981,1325l-14,12-8-2zM1981,1325l-5,13-9-1zM1981,1325l5,13-10,0zM1981,1325l14,12-9,1zM1981,1325l22,11-8,1zM1981,1325l29,9-7,2z />
<path color=#083f40 d=M1981,1325l34,6-5,3zM1981,1325l36,3-2,3zM1981,1325l36,0,0,3z />
<path color=#0e5958 d=M1945,1324l0,2-36,2-1-4zM1945,1326l1,2-35,4-2-4zM1946,1328l1,1-33,6-3-3zM1947,1329l3,2-32,8-4-4zM1950,1331l2,1-29,10-5-3z />
<path color=#0c4d4b d=M1952,1332l3,2-25,10-7-2zM1955,1334l4,1-22,11-7-2zM1959,1335l4,1-18,12-8-2zM1963,1336l4,1-14,13-8-2zM1967,1337l5,0-10,13-9,0zM1972,1337l4,1-4,13-10-1zM1976,1338l5,0,0,13-9,0zM1981,1338l5,0,5,13-10,0zM1986,1338l5,0,9,12-9,1zM1991,1338l4-1,14,12-9,1zM1995,1337l4,0,18,11-8,1z />
<path color=#0a403f d=M1999,1337l4-1,22,10-8,2z />
<path color=#083f40 d=M2003,1336l4-1,26,9-8,2zM2007,1335l3-1,29,8-6,2zM2010,1334l3-1,31,7-5,2zM2013,1333l2-2,33,7-4,2zM2015,1331l1-1,35,5-3,3zM2016,1330l1-2,36,4-2,3zM2017,1328l0-1,37,2-1,3z />
<path color=#0e5958 d=M1908,1324l1,4-36,3-1-6z />
<path color=#0b585a d=M1909,1328l2,4-35,5-3-6zM1911,1332l3,3-34,8-4-6zM1914,1335l4,4-31,8-7-4zM1918,1339l5,3-29,10-7-5zM1923,1342l7,2-26,12-10-4zM1930,1344l7,2-22,13-11-3zM1937,1346l8,2-19,13-11-2zM1945,1348l8,2-14,13-13-2z />
<path color=#094c4d d=M1953,1350l9,0-9,14-14-1z />
<path color=#0c4d4b d=M1962,1350l10,1-5,14-14-1zM1972,1351l9,0,0,13-14,1zM1981,1351l10,0,4,12-14,1zM1991,1351l9-1,9,12-14,1zM2000,1350l9-1,14,11-14,2z />
<path color=#0a403f d=M2009,1349l8-1,19,10-13,2zM2017,1348l8-2,23,10-12,2zM2025,1346l8-2,25,9-10,3z />
<path color=#083f40 d=M2033,1344l6-2,29,8-10,3zM2039,1342l5-2,32,7-8,3zM2044,1340l4-2,34,6-6,3zM2048,1338l3-3,36,5-5,4zM2051,1335l2-3,36,4-2,4z />
<path color=#063e42 d=M2053,1332l1-3,36,3-1,4z />
<path color=#0b585a d=M1872,1325l0,3-36,4,0-4zM1872,1328l1,3-36,5-1-4zM1873,1331l1,3-36,6-1-4zM1874,1334l2,3-36,6-2-3zM1876,1337l2,3-35,7-3-4zM1878,1340l2,3-33,7-4-3zM1880,1343l3,2-32,9-4-4zM1883,1345l4,2-32,10-4-3zM1887,1347l3,3-30,10-5-3zM1890,1350l4,2-28,11-6-3zM1894,1352l5,2-27,11-6-2zM1899,1354l5,2-26,12-6-3zM1904,1356l5,1-24,13-7-2zM1909,1357l6,2-23,13-7-2zM1915,1359l5,1-20,14-8-2zM1920,1360l6,1-18,14-8-1zM1926,1361l7,1-16,14-9-1zM1933,1362l6,1-14,14-8-1zM1939,1363l7,1-12,14-9-1zM1946,1364l7,0-10,15-9-1zM1953,1364l7,0-7,15-10,0z />
<path color=#094c4d d=M1960,1364l7,1-5,14-9,0zM1967,1365l7-1-2,14-10,1z />
<path color=#0c4d4b d=M1974,1364l7,0,0,14-9,0zM1981,1364l7,0,3,13-10,1zM1988,1364l7-1,5,13-9,1zM1995,1363l7,0,7,12-9,1zM2002,1363l7-1,10,11-10,2z />
<path color=#0a403f d=M2009,1362l7-1,12,11-9,1zM2016,1361l7-1,14,10-9,2zM2023,1360l6-1,16,10-8,1zM2029,1359l7-1,18,9-9,2z />
<path color=#083332 d=M2036,1358l6-1,20,9-8,1zM2042,1357l6-1,22,8-8,2zM2048,1356l5-1,24,8-7,1zM2053,1355l5-2,26,9-7,1zM2058,1353l5-1,28,8-7,2z />
<path color=#063233 d=M2063,1352l5-2,29,8-6,2zM2068,1350l4-1,30,8-5,1zM2072,1349l4-2,31,8-5,2zM2076,1347l3-1,33,7-5,2zM2079,1346l3-2,34,6-4,3z />
<path color=#053235 d=M2082,1344l2-2,35,6-3,2z />
<path color=#063e42 d=M2084,1342l3-2,35,6-3,2zM2087,1340l1-2,36,5-2,3zM2088,1338l1-2,36,4-1,3zM2089,1336l1-2,36,3-1,3zM2090,1334l0-2,37,2-1,3z />
<path color=#0b585a d=M1836,1328l0,4-32,3,0-5zM1925,1377l9,1-10,13-11-1zM1934,1378l9,1-8,13-11-1zM1943,1379l10,0-7,13-11,0zM1953,1379l9,0-4,13-12,0zM1962,1379l10-1-3,13-11,1zM1972,1378l9,0,0,12-12,1z />
<path color=#08575c d=M1836,1332l1,4-32,4-1-5zM1837,1336l1,4-31,4-2-4zM1838,1340l2,3-30,6-3-5zM1840,1343l3,4-30,6-3-4zM1843,1347l4,3-30,7-4-4zM1847,1350l4,4-29,7-5-4zM1851,1354l4,3-28,8-5-4zM1855,1357l5,3-26,9-7-4zM1860,1360l6,3-26,9-6-3zM1866,1363l6,2-24,10-8-3zM1872,1365l6,3-22,10-8-3zM1878,1368l7,2-21,11-8-3zM1885,1370l7,2-19,11-9-2zM1892,1372l8,2-17,11-10-2zM1900,1374l8,1-16,12-9-2zM1908,1375l9,1-14,13-11-2zM1917,1376l8,1-12,13-10-1z />
<path color=#0c4d4b d=M1981,1378l10-1,2,12-12,1zM1991,1377l9-1,4,11-11,2zM2000,1376l9-1,7,10-12,2zM2009,1375l10-2,8,10-11,2z />
<path color=#0a403f d=M2019,1373l9-1,10,8-11,3z />
<path color=#0d403d d=M2028,1372l9-2,12,8-11,2z />
<path color=#0a3431 d=M2037,1370l8-1,15,7-11,2zM2045,1369l9-2,16,7-10,2z />
<path color=#082725 d=M2054,1367l8-1,18,6-10,2zM2062,1366l8-2,19,7-9,1z />
<path color=#062626 d=M2070,1364l7-1,21,7-9,1zM2077,1363l7-1,23,6-9,2zM2084,1362l7-2,23,7-7,1z />
<path color=#052627 d=M2091,1360l6-2,25,7-8,2zM2097,1358l5-1,27,6-7,2z />
<path color=#063233 d=M2102,1357l5-2,28,6-6,2zM2107,1355l5-2,28,6-5,2z />
<path color=#053235 d=M2112,1353l4-3,29,6-5,3zM2116,1350l3-2,30,5-4,3z />
<path color=#063e42 d=M2119,1348l3-2,30,4-3,3zM2122,1346l2-3,31,4-3,3zM2124,1343l1-3,32,3-2,4z />
<path color=#043e43 d=M2125,1340l1-3,32,3-1,3zM2126,1337l1-3,32,2-1,4z />
<path color=#08575c d=M1804,1330l0,5-27,3-1-6zM1804,1335l1,5-27,3-1-5zM1805,1340l2,4-27,4-2-5zM1807,1344l3,5-27,4-3-5zM1810,1349l3,4-26,5-4-5zM1813,1353l4,4-25,6-5-5zM1817,1357l5,4-25,6-5-4zM1822,1361l5,4-23,7-7-5zM1827,1365l7,4-23,7-7-4zM1834,1369l6,3-21,8-8-4zM1840,1372l8,3-21,8-8-3zM1848,1375l8,3-20,9-9-4zM1856,1378l8,3-18,9-10-3zM1864,1381l9,2-17,10-10-3zM1873,1383l10,2-16,10-11-2zM1883,1385l9,2-13,11-12-3zM1892,1387l11,2-12,11-12-2zM1903,1389l10,1-10,11-12-1zM1913,1390l11,1-9,11-12-1zM1924,1391l11,1-7,11-13-1zM1935,1392l11,0-5,11-13,0z />
<path color=#0b585a d=M1946,1392l12,0-4,11-13,0zM1958,1392l11-1-1,12-14,0zM1969,1391l12-1,0,11-13,2zM1981,1390l12-1,1,10-13,2z />
<path color=#0e5958 d=M1993,1389l11-2,4,10-14,2z />
<path color=#0c4d4b d=M2004,1387l12-2,5,9-13,3z />
<path color=#0f4d49 d=M2016,1385l11-2,7,8-13,3z />
<path color=#0d403d d=M2027,1383l11-3,9,7-13,4z />
<path color=#0a3431 d=M2038,1380l11-2,10,6-12,3z />
<path color=#092724 d=M2049,1378l11-2,12,4-13,4zM2060,1376l10-2,13,4-11,2zM2070,1374l10-2,15,4-12,2z />
<path color=#082725 d=M2080,1372l9-1,17,4-11,1zM2089,1371l9-1,18,4-10,1zM2098,1370l9-2,19,5-10,1z />
<path color=#062626 d=M2107,1368l7-1,21,5-9,1zM2114,1367l8-2,22,6-9,1z />
<path color=#052627 d=M2122,1365l7-2,22,6-7,2zM2129,1363l6-2,23,6-7,2z />
<path color=#053235 d=M2135,1361l5-2,25,5-7,3zM2140,1359l5-3,25,5-5,3z />
<path color=#063e42 d=M2145,1356l4-3,26,5-5,3zM2149,1353l3-3,27,4-4,4z />
<path color=#043e43 d=M2152,1350l3-3,27,3-3,4zM2155,1347l2-4,27,3-2,4zM2157,1343l1-3,27,1-1,5zM2158,1340l1-4,27,1-1,4z />
<path color=#08575c d=M1776,1332l1,6-23,2,0-6zM1777,1338l1,5-22,3-2-6zM1891,1400l12,1-9,9-14-2zM1903,1401l12,1-7,10-14-2zM1915,1402l13,1-6,10-14-1zM1928,1403l13,0-4,10-15,0zM1941,1403l13,0-3,10-14,0zM1954,1403l14,0-2,10-15,0z />
<path color=#06565e d=M1778,1343l2,5-22,3-2-5zM1780,1348l3,5-22,4-3-6zM1783,1353l4,5-21,4-5-5zM1787,1358l5,5-21,4-5-5zM1792,1363l5,4-20,5-6-5zM1797,1367l7,5-20,5-7-5zM1804,1372l7,4-19,6-8-5zM1811,1376l8,4-18,6-9-4zM1819,1380l8,3-17,7-9-4zM1827,1383l9,4-16,7-10-4zM1836,1387l10,3-15,8-11-4zM1846,1390l10,3-13,8-12-3zM1856,1393l11,2-12,9-12-3zM1867,1395l12,3-12,8-12-2zM1879,1398l12,2-11,8-13-2z />
<path color=#0b585a d=M1968,1403l13-2,0,10-15,2zM1981,1401l13-2,2,10-15,2z />
<path color=#0e5958 d=M1994,1399l14-2,3,9-15,3zM2008,1397l13-3,4,8-14,4z />
<path color=#0f4d49 d=M2021,1394l13-3,6,6-15,5z />
<path color=#0d403d d=M2034,1391l13-4,7,4-14,6z />
<path color=#092724 d=M2047,1387l12-3,9,2-14,5zM2106,1375l10-1,15,2-11,0z />
<path color=#0b2722 d=M2059,1384l13-4,10,2-14,4zM2072,1380l11-2,12,0-13,4zM2083,1378l12-2,12,0-12,2zM2095,1376l11-1,14,1-13,0z />
<path color=#082725 d=M2116,1374l10-1,16,3-11,0z />
<path color=#062626 d=M2126,1373l9-1,17,5-10-1zM2135,1372l9-1,18,5-10,1z />
<path color=#052627 d=M2144,1371l7-2,19,5-8,2zM2151,1369l7-2,20,5-8,2z />
<path color=#053235 d=M2158,1367l7-3,20,5-7,3zM2165,1364l5-3,21,5-6,3z />
<path color=#043e43 d=M2170,1361l5-3,21,4-5,4zM2175,1358l4-4,22,3-5,5zM2179,1354l3-4,22,3-3,4zM2182,1350l2-4,23,2-3,5zM2184,1346l1-5,23,2-1,5z />
<path color=#054a51 d=M2185,1341l1-4,23,1-1,5z />
<path color=#06565e d=M1754,1334l0,6-18,1-1-6zM1754,1340l2,6-18,2-2-7zM1756,1346l2,5-18,3-2-6zM1758,1351l3,6-17,2-4-5zM1761,1357l5,5-18,3-4-6zM1784,1377l8,5-15,4-9-5zM1792,1382l9,4-15,5-9-5zM1801,1386l9,4-14,5-10-4zM1810,1390l10,4-13,5-11-4zM1820,1394l11,4-12,5-12-4zM1831,1398l12,3-11,6-13-4zM1843,1401l12,3-10,6-13-3zM1855,1404l12,2-9,7-13-3zM1867,1406l13,2-8,7-14-2zM1880,1408l14,2-7,7-15-2zM1894,1410l14,2-6,7-15-2zM1908,1412l14,1-4,7-16-1z />
<path color=#054a51 d=M1766,1362l5,5-17,4-6-6zM1771,1367l6,5-16,4-7-5zM1777,1372l7,5-16,4-7-5zM2204,1353l3-5,18,1-3,5z />
<path color=#08575c d=M1922,1413l15,0-4,8-15-1zM1937,1413l14,0-2,8-16,0zM1951,1413l15,0-1,8-16,0z />
<path color=#096469 d=M1966,1413l15-2,0,9-16,1z />
<path color=#0c6567 d=M1981,1411l15-2,1,9-16,2zM1996,1409l15-3,2,8-16,4z />
<path color=#0e5958 d=M2011,1406l14-4,4,7-16,5z />
<path color=#125a55 d=M2025,1402l15-5,5,5-16,7z />
<path color=#0f413b d=M2040,1397l14-6,6,3-15,8z />
<path color=#0b2722 d=M2054,1391l14-5,7,0-15,8zM2120,1376l11,0,12,0-12-2z />
<path color=#0d2821 d=M2068,1386l14-4,8-4-15,8zM2107,1376l13,0,11-2-13-3z />
<path color=#0f2820 d=M2082,1382l13-4,9-7-14,7zM2095,1378l12-2,11-5-14,0z />
<path color=#092724 d=M2131,1376l11,0,13,2-12-2z />
<path color=#082725 d=M2142,1376l10,1,14,3-11-2z />
<path color=#062626 d=M2152,1377l10-1,14,4-10,0z />
<path color=#052627 d=M2162,1376l8-2,15,5-9,1z />
<path color=#032528 d=M2170,1374l8-2,16,4-9,3z />
<path color=#053235 d=M2178,1372l7-3,16,4-7,3z />
<path color=#063e42 d=M2185,1369l6-3,17,3-7,4z />
<path color=#043e43 d=M2191,1366l5-4,18,2-6,5zM2196,1362l5-5,17,3-4,4zM2201,1357l3-4,18,1-4,6zM2207,1348l1-5,18,1-1,5z />
<path color=#054a51 d=M1735,1335l1,6-15,2-1-7zM1736,1341l2,7-16,1-1-6zM1738,1348l2,6-15,1-3-6zM1740,1354l4,5-15,3-4-7zM1744,1359l4,6-14,3-5-6zM1748,1365l6,6-14,2-6-5zM1754,1371l7,5-14,3-7-6zM1761,1376l7,5-13,4-8-6zM1768,1381l9,5-13,4-9-5zM1777,1386l9,5-12,4-10-5zM1786,1391l10,4-11,5-11-5zM1796,1395l11,4-11,5-11-4zM1807,1399l12,4-10,5-13-4zM1819,1403l13,4-10,5-13-4zM2218,1360l4-6,15,2-4,6zM2222,1354l3-5,15,2-3,5z />
<path color=#06565e d=M1832,1407l13,3-9,5-14-3zM1845,1410l13,3-7,5-15-3zM1858,1413l14,2-6,6-15-3zM1872,1415l15,2-6,6-15-2zM1887,1417l15,2-5,6-16-2zM1902,1419l16,1-4,7-17-2zM1918,1420l15,1-3,7-16-1zM1933,1421l16,0-2,7-17,0z />
<path color=#096469 d=M1949,1421l16,0-1,7-17,0zM1965,1421l16-1,0,8-17,0zM1981,1420l16-2,1,8-17,2z />
<path color=#0c6567 d=M1997,1418l16-4,2,8-17,4z />
<path color=#106664 d=M2013,1414l16-5,3,7-17,6z />
<path color=#146762 d=M2029,1409l16-7,4,5-17,9z />
<path color=#164f45 d=M2045,1402l15-8,5,2-16,11z />
<path color=#0d2821 d=M2060,1394l15-8,6-3-16,13z />
<path color=#11281f d=M2075,1386l15-8,7-8-16,13z />
<path color=#15291d d=M2090,1378l14-7,8-15-15,14z />
<path color=#478860 d=M2104,1371l14,0,8-10-14-5z />
<path color=#397a5a d=M2118,1371l13,3,9-5-14-8z />
<path color=#194336 d=M2131,1374l12,2,10-3-13-4z />
<path color=#0b2722 d=M2143,1376l12,2,11,1-13-6z />
<path color=#082725 d=M2155,1378l11,2,11,3-11-4z />
<path color=#062626 d=M2166,1380l10,0,12,4-11-1z />
<path color=#052627 d=M2176,1380l9-1,13,4-10,1z />
<path color=#032528 d=M2185,1379l9-3,13,4-9,3z />
<path color=#053235 d=M2194,1376l7-3,14,3-8,4z />
<path color=#043e43 d=M2201,1373l7-4,14,3-7,4zM2208,1369l6-5,14,3-6,5zM2214,1364l4-4,15,2-5,5z />
<path color=#054a51 d=M1720,1336l1,7-14,0-1-6zM1721,1343l1,6-13,1-2-7zM1722,1349l3,6-13,2-3-7zM1725,1355l4,7-13,1-4-6zM1729,1362l5,6-13,1-5-6zM1734,1368l6,5-13,3-6-7zM1740,1373l7,6-12,3-8-6zM1747,1379l8,6-12,2-8-5zM1755,1385l9,5-11,3-10-6zM1774,1395l11,5-11,3-11-5zM1785,1400l11,4-9,4-13-5zM1796,1404l13,4-9,4-13-4zM1809,1408l13,4-8,4-14-4zM1822,1412l14,3-8,5-14-4zM1836,1415l15,3-7,5-16-3zM2228,1367l5-5,14,1-6,6zM2233,1362l4-6,14,1-4,6z />
<path color=#06565e d=M1851,1418l15,3-6,5-16-3zM1866,1421l15,2-5,5-16-2zM1881,1423l16,2-4,5-17-2zM1897,1425l17,2-4,5-17-2zM1914,1427l16,1-3,5-17-1zM1930,1428l17,0-2,6-18-1z />
<path color=#06636c d=M1947,1428l17,0-1,7-18-1zM1964,1428l17,0,0,7-18,0z />
<path color=#096469 d=M1981,1428l17-2,1,7-18,2z />
<path color=#0a7077 d=M1998,1426l17-4,2,8-18,3z />
<path color=#0e7274 d=M2015,1422l17-6,3,8-18,6z />
<path color=#17746e d=M2032,1416l17-9,3,6-17,11z />
<path color=#195c50 d=M2049,1407l16-11,4,1-17,16z />
<path color=#11281f d=M2065,1396l16-13,5-5-17,19z />
<path color=#18291c d=M2081,1383l16-13,6-10-17,18z />
<path color=#1e2919 d=M2097,1370l15-14,6-15-15,19z />
<path color=#638854 d=M2112,1356l14,5,8-10-16-10z />
<path color=#568859 d=M2126,1361l14,8,8-8-14-10z />
<path color=#336c50 d=M2140,1369l13,4,9-5-14-7z />
<path color=#1e5d4e d=M2153,1373l13,6,9,0-13-11z />
<path color=#092724 d=M2166,1379l11,4,11,3-13-7z />
<path color=#062626 d=M2177,1383l11,1,11,4-11-2z />
<path color=#052627 d=M2188,1384l10-1,12,3-11,2z />
<path color=#053235 d=M2198,1383l9-3,12,3-9,3z />
<path color=#043e43 d=M2207,1380l8-4,13,3-9,4zM2215,1376l7-4,13,2-7,5zM2222,1372l6-5,13,2-6,5z />
<path color=#054a51 d=M1706,1337l1,6-12,1-1-7zM1707,1343l2,7-12,1-2-7zM1709,1350l3,7-12,1-3-7zM1712,1357l4,6-12,1-4-6zM1716,1363l5,6-11,2-6-7zM1721,1369l6,7-11,1-6-6zM1787,1408l13,4-8,3-14-4zM1800,1412l14,4-7,4-15-5zM1814,1416l14,4-6,3-15-3zM1828,1420l16,3-6,4-16-4zM1844,1423l16,3-6,4-16-3zM1860,1426l16,2-5,4-17-2zM1876,1428l17,2-4,5-18-3zM1893,1430l17,2-3,5-18-2zM2241,1369l6-6,11,1-6,6z />
<path color=#06565e d=M1910,1432l17,1-2,5-18-1zM1927,1433l18,1-1,6-19-2z />
<path color=#06636c d=M1945,1434l18,1-1,6-18-1zM1963,1435l18,0,0,6-19,0z />
<path color=#076f79 d=M1981,1435l18-2,1,7-19,1zM1999,1433l18-3,2,7-19,3z />
<path color=#0a7077 d=M2017,1430l18-6,2,7-18,6z />
<path color=#127371 d=M2035,1424l17-11,3,7-18,11z />
<path color=#217667 d=M2052,1413l17-16,4,3-18,20z />
<path color=#2c5f46 d=M2069,1397l17-19,5,0-18,22z />
<path color=#1c291a d=M2086,1378l17-18,5-2-17,20z />
<path color=#2f361f d=M2103,1360l15-19,6-1-16,18zM2118,1341l16,10,6,0-16-11z />
<path color=#32442a d=M2134,1351l14,10,8,0-16-10z />
<path color=#1f3625 d=M2148,1361l14,7,8-1-14-6z />
<path color=#225d4b d=M2162,1368l13,11,9,2-14-14z />
<path color=#092724 d=M2175,1379l13,7,9,3-13-8z />
<path color=#062626 d=M2188,1386l11,2,9,3-11-2z />
<path color=#052627 d=M2199,1388l11-2,9,3-11,2z />
<path color=#053235 d=M2210,1386l9-3,10,3-10,3z />
<path color=#043e43 d=M2219,1383l9-4,10,2-9,5zM2228,1379l7-5,11,2-8,5zM2235,1374l6-5,11,1-6,6z />
<path color=#054a51 d=M1694,1337l1,7-9,1-1-7zM1695,1344l2,7-9,1-2-7zM1697,1351l3,7-9,1-3-7zM1700,1358l4,6-9,1-4-6zM1704,1364l6,7-9,1-6-7zM1710,1371l6,6-8,2-7-7zM1778,1411l14,4-6,3-14-5zM1792,1415l15,5-6,2-15-4zM1807,1420l15,3-5,3-16-4zM1962,1441l19,0,0,3-19,0zM2252,1370l6-6,9,1-6,7z />
<path color=#06565e d=M1822,1423l16,4-5,3-16-4zM1838,1427l16,3-4,3-17-3zM1854,1430l17,2-3,4-18-3zM1871,1432l18,3-3,4-18-3zM1925,1438l19,2-2,4-19-2zM1944,1440l18,1,0,3-20,0zM1981,1441l19-1,0,4-19,0zM2238,1381l8-5,8,3-8,6zM2246,1376l6-6,9,2-7,7z />
<path color=#06636c d=M1889,1435l18,2-2,4-19-2zM1907,1437l18,1-2,4-18-1zM2000,1440l19-3,1,7-20,0zM2229,1386l9-5,8,4-9,6z />
<path color=#087b87 d=M2019,1437l18-6,2,11-19,2zM2197,1389l11,2,8,12-13,5z />
<path color=#098894 d=M2037,1431l18-11,3,21-19,1zM2055,1420l18-20,3,39-18,2zM2073,1400l18-22,3,58-18,3zM2091,1378l17-20,4,75-18,3zM2108,1358l16-18,5,90-17,3zM2124,1340l16,11,5,75-16,4zM2140,1351l16,10,5,61-16,4zM2156,1361l14,6,6,51-15,4zM2170,1367l14,14,6,32-14,5zM2184,1381l13,8,6,19-13,5z />
<path color=#076f79 d=M2208,1391l11-2,8,8-11,6zM2219,1389l10-3,8,5-10,6z />
<path stroke=#012 stroke-opacity=.5 stroke-width=1.5 fill=none d=M2037,1431l2,11M2055,1420l3,21M2073,1400l3,39M2091,1378l3,58M2108,1358l4,75M2124,1340l5,90M2140,1351l5,75M2156,1361l5,61M2170,1367l6,51M2184,1381l6,32M2197,1389l6,19M2208,1391l8,12 /></g></g>
<g><path class="g" d="M612.6,326.2L541.6,292.9L541.6,220.2M641.5,318.2L570.5,284.9L570.5,212.2M670.4,310.2L599.4,276.9L599.4,204.2M561.5,323.8L654,298.2L654,225.5M539.3,313.4L631.8,287.8L631.8,215.1M517.1,303L609.6,277.4L609.6,204.7M512.7,299.8L605.2,274.2L676.2,307.6M512.7,281.9L605.2,256.3L676.2,289.7M512.7,264L605.2,238.4L676.2,271.7M512.7,246.1L605.2,220.5L676.2,253.8M512.7,228.2L605.2,202.6L676.2,235.9M605.2,275.3L605.2,202.6M512.7,300.9L605.2,275.3L676.2,308.6M676.2,308.6L676.2,235.9"/>
<path class="a" d="M512.7,228.2L512.7,300.9L583.7,334.2L676.2,308.6M583.7,334.2L582,334.7M561.5,323.8L559.9,324.2M539.3,313.4L537.7,313.8M517.1,303L515.5,303.4M583.7,334.2L585.2,334.9M612.6,326.2L614.1,326.9M641.5,318.2L643,318.9M670.4,310.2L672,311M512.7,299.8L511,299.8M512.7,281.9L511,281.9M512.7,264L511,264M512.7,246.1L511,246.1M512.7,228.2L511,228.2"/><g transform="scale(.2)" fill="currentColor" stroke="currentColor" stroke-width="2" stroke-linejoin="round"><path color=#0151b1 d=M2899,1333l-18,27-3-34,18-2z />
<path color=#2c379a d=M2881,1360l-18,30-3-62,18-2z />
<path color=#2d2474 d=M2863,1390l-17,19-4-78,18-3zM2846,1409l-16-1-5-74,17-3zM2830,1408l-16-5-5-65,16-4z />
<path color=#2e297d d=M2814,1403l-16-4-5-57,16-4z />
<path color=#2a2e84 d=M2798,1399l-14-6-6-47,15-4z />
<path color=#203c9f d=M2784,1393l-14-10-6-32,14-5z />
<path color=#044db0 d=M2770,1383l-13-6-7-21,14-5z />
<path color=#0354b0 d=M2757,1377l-12-1-7-14,12-6z />
<path color=#044f9f d=M2745,1376l-11,2-7-11,11-5z />
<path color=#07529e d=M2734,1378l-9,4-8-9,10-6z />
<path color=#064a8e d=M2725,1382l-9,5-8-8,9-6zM2716,1387l-8,5-8-6,8-7z />
<path color=#06417f d=M2708,1392l-7,6-8-6,7-6zM2701,1398l-5,6-9-5,6-7zM2696,1404l-4,6-9-4,4-7z />
<path color=#073b6e d=M2692,1410l-3,7-9-4,3-7zM2689,1417l-2,6-9-3,2-7z />
<path color=#06335e d=M2687,1423l-1,7-9-3,1-7z />
<path color=#012c60 d=M2902,1335l-17,25-4,0,18-27z />
<path color=#0a0f29 d=M2885,1360l-17,26-5,4,18-30z />
<path color=#0b091d d=M2868,1386l-17,17-5,6,17-19zM2836,1406l-16-3-6,0,16,5z />
<path color=#0f0c27 d=M2851,1403l-15,3-6,2,16,1z />
<path color=#0c0a1f d=M2820,1403l-14-4-8,0,16,4z />
<path color=#0b0d24 d=M2806,1399l-14-6-8,0,14,6z />
<path color=#09102b d=M2792,1393l-13-7-9-3,14,10z />
<path color=#011530 d=M2779,1386l-13-5-9-4,13,6z />
<path color=#011730 d=M2766,1381l-11-1-10-4,12,1z />
<path color=#022040 d=M2755,1380l-11,2-10-4,11-2z />
<path color=#022850 d=M2744,1382l-9,3-10-3,9-4z />
<path color=#04315f d=M2735,1385l-9,4-10-2,9-5zM2726,1389l-7,5-11-2,8-5zM2719,1394l-6,6-12-2,7-6zM2713,1400l-6,5-11-1,5-6zM2707,1405l-4,6-11-1,4-6z />
<path color=#06335e d=M2703,1411l-3,7-11-1,3-7zM2700,1418l-1,6-12-1,2-6z />
<path color=#073b6e d=M2699,1424l-1,6-12,0,1-7z />
<path color=#011730 d=M2905,1336l-16,21-4,3,17-25zM2777,1383l-11,0-11-3,11,1z />
<path color=#06122e d=M2889,1357l-16,20-5,9,17-26z />
<path color=#0b0d24 d=M2873,1377l-16,14-6,12,17-17z />
<path color=#1f1b53 d=M2857,1391l-15,6-6,9,15-3zM2842,1397l-14,0-8,6,16,3z />
<path color=#1f2160 d=M2828,1397l-14-2-8,4,14,4z />
<path color=#18235f d=M2814,1395l-13-4-9,2,14,6z />
<path color=#0b1e4c d=M2801,1391l-13-5-9,0,13,7z />
<path color=#011530 d=M2788,1386l-11-3-11-2,13,5z />
<path color=#011830 d=M2766,1383l-10,2-12-3,11-2z />
<path color=#022850 d=M2756,1385l-9,3-12-3,9-3z />
<path color=#04315f d=M2747,1388l-8,4-13-3,9-4zM2739,1392l-7,5-13-3,7-5zM2732,1397l-6,5-13-2,6-6zM2726,1402l-5,5-14-2,6-5zM2721,1407l-4,6-14-2,4-6zM2717,1413l-3,5-14,0,3-7z />
<path color=#06335e d=M2714,1418l-2,6-13,0,1-6zM2712,1424l0,6-14,0,1-6z />
<path color=#02192f d=M2909,1338l-15,15-5,4,16-21z />
<path color=#011530 d=M2894,1353l-15,16-6,8,16-20z />
<path color=#09102b d=M2879,1369l-15,11-7,11,16-14z />
<path color=#18235f d=M2864,1380l-14,6-8,11,15-6zM2836,1389l-13,0-9,6,14,2z />
<path color=#1d2566 d=M2850,1386l-14,3-8,8,14,0z />
<path color=#112157 d=M2823,1389l-12-1-10,3,13,4z />
<path color=#03142f d=M2811,1388l-12-2-11,0,13,5z />
<path color=#001630 d=M2799,1386l-11,0-11-3,11,3z />
<path color=#011730 d=M2788,1386l-10,0-12-3,11,0z />
<path color=#011830 d=M2778,1386l-9,2-13-3,10-2z />
<path color=#022040 d=M2769,1388l-9,3-13-3,9-3z />
<path color=#04294f d=M2760,1391l-8,4-13-3,8-4z />
<path color=#04315f d=M2752,1395l-6,4-14-2,7-5zM2746,1399l-6,5-14-2,6-5zM2740,1404l-5,5-14-2,5-5zM2735,1409l-3,5-15-1,4-6zM2732,1414l-3,5-15-1,3-5zM2729,1419l-1,6-16-1,2-6z />
<path color=#06335e d=M2728,1425l-1,5-15,0,0-6z />
<path color=#03192f d=M2914,1341l-14,10-6,2,15-15z />
<path color=#011830 d=M2900,1351l-14,12-7,6,15-16zM2792,1389l-8,2-15-3,9-2z />
<path color=#011530 d=M2886,1363l-14,9-8,8,15-11zM2823,1386l-11,1-13-1,12,2z />
<path color=#03142f d=M2872,1372l-13,7-9,7,14-6zM2859,1379l-12,4-11,6,14-3zM2847,1383l-13,2-11,4,13,0zM2834,1385l-11,1-12,2,12,1z />
<path color=#001630 d=M2812,1387l-10,1-14-2,11,0z />
<path color=#011730 d=M2802,1388l-10,1-14-3,10,0z />
<path color=#022040 d=M2784,1391l-8,3-16-3,9-3z />
<path color=#04294f d=M2776,1394l-7,4-17-3,8-4zM2769,1398l-6,4-17-3,6-4z />
<path color=#04315f d=M2763,1402l-6,4-17-2,6-5zM2757,1406l-4,5-18-2,5-5zM2753,1411l-3,4-18-1,3-5zM2750,1415l-3,5-18-1,3-5zM2747,1420l-1,5-18,0,1-6zM2746,1425l-1,5-18,0,1-5z />
<path color=#03192f d=M2907,1353l-12,7-9,3,14-12z />
<path color=#011830 d=M2895,1360l-13,8-10,4,14-9zM2819,1390l-9,2-18-3,10-1zM2810,1392l-7,3-19-4,8-2z />
<path color=#011730 d=M2882,1368l-11,6-12,5,13-7zM2838,1385l-10,2-16,0,11-1zM2828,1387l-9,3-17-2,10-1z />
<path color=#001630 d=M2871,1374l-12,5-12,4,12-4zM2859,1379l-11,3-14,3,13-2zM2848,1382l-10,3-15,1,11-1z />
<path color=#022040 d=M2803,1395l-7,3-20-4,8-3z />
<path color=#04294f d=M2796,1398l-7,3-20-3,7-4zM2789,1401l-5,4-21-3,6-4z />
<path color=#04315f d=M2784,1405l-5,4-22-3,6-4zM2779,1409l-4,4-22-2,4-5zM2775,1413l-3,4-22-2,3-4zM2772,1417l-2,4-23-1,3-5zM2770,1421l-1,5-23-1,1-5zM2769,1426l-1,4-23,0,1-5z />
<path color=#04223f d=M2905,1364l-10,5-13-1,13-8z />
<path color=#02192f d=M2895,1369l-11,4-13,1,11-6zM2884,1373l-10,5-15,1,12-5z />
<path color=#011830 d=M2874,1378l-9,4-17,0,11-3zM2865,1382l-9,3-18,0,10-3zM2856,1385l-9,4-19-2,10-2zM2847,1389l-7,3-21-2,9-3zM2840,1392l-8,3-22-3,9-2z />
<path color=#03213f d=M2832,1395l-7,3-22-3,7-3zM2825,1398l-6,3-23-3,7-3z />
<path color=#04294f d=M2819,1401l-5,3-25-3,7-3zM2814,1404l-5,3-25-2,5-4z />
<path color=#04315f d=M2809,1407l-4,4-26-2,5-4zM2805,1411l-4,4-26-2,4-4zM2801,1415l-2,3-27-1,3-4zM2799,1418l-2,4-27-1,2-4zM2797,1422l-1,4-27,0,1-5z />
<path color=#06335e d=M2796,1426l-1,4-27,0,1-4z />
<path color=#06335e d=M2900,1378l-8,4-18-4,10-5zM2835,1413l-3,3-31-1,4-4zM2832,1416l-2,3-31-1,2-3zM2830,1419l-1,3-32,0,2-4zM2829,1422l-1,4-32,0,1-4zM2828,1426l-1,3-32,1,1-4z />
<path color=#04223f d=M2892,1382l-8,3-19-3,9-4zM2884,1385l-7,3-21-3,9-3z />
<path color=#03213f d=M2877,1388l-7,3-23-2,9-4zM2870,1391l-6,3-24-2,7-3zM2864,1394l-7,3-25-2,8-3z />
<path color=#04294f d=M2857,1397l-5,3-27-2,7-3zM2852,1400l-5,3-28-2,6-3zM2847,1403l-5,3-28-2,5-3z />
<path color=#04315f d=M2842,1406l-4,4-29-3,5-3zM2838,1410l-3,3-30-2,4-4z />
<path color=#06335e d=M2891,1399l-5,2-29-4,7-3zM2886,1401l-4,3-30-4,5-3zM2882,1404l-4,2-31-3,5-3zM2878,1406l-3,3-33-3,5-3zM2875,1409l-3,2-34-1,4-4zM2872,1411l-2,3-35-1,3-3zM2870,1414l-3,2-35,0,3-3zM2867,1416l-1,3-36,0,2-3zM2866,1419l-1,2-36,1,1-3zM2865,1421l-1,3-36,2,1-4zM2864,1424l0,3-37,2,1-3z />
<path color=#06335e d=M2864,1427l0,2-36,3-1-3z />
<path color=#073b6e d=M2864,1429l1,3-36,3-1-3zM2865,1432l1,2-36,5-1-4zM2866,1434l1,3-35,5-2-3zM2867,1437l3,2-35,6-3-3zM2870,1439l2,2-34,7-3-3zM2872,1441l3,2-33,8-4-3zM2875,1443l3,3-31,8-5-3z />
<path color=#06335e d=M2827,1429l1,3-32,2-1-4zM2828,1432l1,3-32,3-1-4zM2829,1435l1,4-31,3-2-4zM2830,1439l2,3-31,4-2-4z />
<path color=#073b6e d=M2832,1442l3,3-30,5-4-4zM2835,1445l3,3-29,5-4-3zM2838,1448l4,3-28,6-5-4zM2842,1451l5,3-28,6-5-3zM2847,1454l5,2-27,8-6-4zM2852,1456l5,3-25,8-7-3zM2857,1459l7,2-24,9-8-3zM2864,1461l6,3-23,9-7-3zM2870,1464l7,2-21,9-9-2zM2877,1466l7,2-19,10-9-3z />
<path color=#06335e d=M2795,1430l1,4-27,1-1-5zM2796,1434l1,4-27,2-1-5zM2797,1438l2,4-27,2-2-4zM2799,1442l2,4-26,3-3-5z />
<path color=#073b6e d=M2801,1446l4,4-26,3-4-4zM2805,1450l4,3-25,5-5-5zM2809,1453l5,4-25,5-5-4zM2814,1457l5,3-23,6-7-4zM2819,1460l6,4-22,6-7-4zM2825,1464l7,3-22,7-7-4zM2832,1467l8,3-21,7-9-3zM2840,1470l7,3-19,7-9-3zM2847,1473l9,2-18,9-10-4zM2856,1475l9,3-17,8-10-2zM2865,1478l9,2-15,9-11-3zM2874,1480l10,2-13,9-12-2z />
<path color=#06335e d=M2768,1430l1,5-23,1-1-6zM2769,1435l1,5-23,1-1-5zM2770,1440l2,4-22,2-3-5zM2772,1444l3,5-22,2-3-5z />
<path color=#073b6e d=M2775,1449l4,4-22,3-4-5zM2779,1453l5,5-21,3-6-5zM2784,1458l5,4-20,4-6-5zM2789,1462l7,4-20,4-7-4zM2796,1466l7,4-19,5-8-5zM2803,1470l7,4-18,5-8-4zM2810,1474l9,3-17,6-10-4zM2819,1477l9,3-16,7-10-4zM2828,1480l10,4-15,6-11-3zM2838,1484l10,2-14,7-11-3zM2848,1486l11,3-12,7-13-3zM2859,1489l12,2-12,8-12-3zM2871,1491l11,2-10,8-13-2zM2882,1493l13,2-9,8-14-2z />
<path color=#06335e d=M2745,1430l1,6-18,0-1-6zM2746,1436l1,5-18,1-1-6zM2747,1441l3,5-18,1-3-5zM2750,1446l3,5-18,2-3-6z />
<path color=#073b6e d=M2753,1451l4,5-17,2-5-5zM2757,1456l6,5-17,2-6-5zM2763,1461l6,5-17,3-6-6zM2769,1466l7,4-16,4-8-5zM2776,1470l8,5-15,3-9-4zM2784,1475l8,4-14,4-9-5zM2792,1479l10,4-14,4-10-4zM2802,1483l10,4-13,4-11-4zM2812,1487l11,3-12,5-12-4zM2823,1490l11,3-11,6-12-4zM2834,1493l13,3-11,6-13-3zM2847,1496l12,3-9,6-14-3zM2859,1499l13,2-8,6-14-2zM2872,1501l14,2-7,6-15-2zM2886,1503l14,1-6,7-15-2z />
<path color=#06335e d=M2727,1430l1,6-16,0,0-6zM2728,1436l1,6-15,0-2-6zM2729,1442l3,5-15,1-3-6z />
<path color=#073b6e d=M2732,1447l3,6-14,1-4-6zM2735,1453l5,5-14,2-5-6zM2740,1458l6,5-14,2-6-5zM2746,1463l6,6-13,2-7-6zM2752,1469l8,5-13,2-8-5zM2760,1474l9,4-13,4-9-6zM2769,1478l9,5-12,3-10-4zM2778,1483l10,4-11,4-11-5zM2788,1487l11,4-11,4-11-4zM2799,1491l12,4-10,5-13-5zM2811,1495l12,4-9,4-13-3zM2823,1499l13,3-8,5-14-4zM2836,1502l14,3-8,5-14-3zM2850,1505l14,2-7,6-15-3zM2864,1507l15,2-6,6-16-2zM2879,1509l15,2-5,6-16-2zM2894,1511l15,1-4,6-16-1z />
<path color=#06335e d=M2712,1430l0,6-13,0-1-6zM2712,1436l2,6-14,1-1-7z />
<path color=#073b6e d=M2714,1442l3,6-14,1-3-6zM2717,1448l4,6-14,1-4-6zM2721,1454l5,6-13,1-6-6zM2726,1460l6,5-13,2-6-6zM2732,1465l7,6-13,2-7-6zM2739,1471l8,5-12,3-9-6zM2747,1476l9,6-12,2-9-5zM2756,1482l10,4-11,3-11-5zM2766,1486l11,5-11,3-11-5zM2777,1491l11,4-9,4-13-5zM2788,1495l13,5-9,3-13-4zM2801,1500l13,3-8,4-14-4zM2814,1503l14,4-8,4-14-4zM2828,1507l14,3-6,4-16-3zM2842,1510l15,3-6,4-15-3zM2857,1513l16,2-5,4-17-2zM2873,1515l16,2-4,4-17-2zM2889,1517l16,1-3,5-17-2zM2905,1518l17,1-3,5-17-1z />
<path color=#06335e d=M2698,1430l1,6-12,0-1-6zM2699,1436l1,7-11,0-2-7zM2703,1449l4,6-11,1-4-6zM2707,1455l6,6-12,1-5-6zM2713,1461l6,6-11,2-7-7zM2719,1467l7,6-10,2-8-6zM2726,1473l9,6-10,2-9-6zM2735,1479l9,5-10,2-9-5zM2755,1489l11,5-9,3-12-5zM2766,1494l13,5-9,3-13-5zM2779,1499l13,4-8,3-14-4zM2792,1503l14,4-8,4-14-5zM2806,1507l14,4-6,3-16-3zM2820,1511l16,3-6,4-16-4zM2836,1514l15,3-5,4-16-3zM2851,1517l17,2-5,4-17-2z />
<path color=#073b6e d=M2700,1443l3,6-11,1-3-7zM2744,1484l11,5-10,3-11-6zM2868,1519l17,2-4,4-18-2zM2885,1521l17,2-3,4-18-2zM2902,1523l17,1-2,4-18-1zM2919,1524l18,1-1,4-19-1z />
<path color=#06335e d=M2686,1430l1,6-9-2-1-7zM2687,1436l2,7-9-3-2-6zM2899,1527l18,1-2,3-19-1z />
<path color=#052a4e d=M2689,1443l3,7-9-3-3-7zM2692,1450l4,6-9-2-4-7z />
<path color=#04223f d=M2696,1456l5,6-8-1-6-7zM2701,1462l7,7-8-2-7-6zM2881,1525l18,2-3,3-18-2z />
<path color=#03192f d=M2708,1469l8,6-8-1-8-7zM2716,1475l9,6-8-1-9-6zM2725,1481l9,5-7,0-10-6zM2734,1486l11,6-7-1-11-5zM2745,1492l12,5-7,0-12-6zM2757,1497l13,5-6,0-14-5zM2770,1502l14,4-6,1-14-5zM2784,1506l14,5-5,0-15-4zM2798,1511l16,3-5,1-16-4zM2814,1514l16,4-5,1-16-4zM2830,1518l16,3-4,1-17-3zM2846,1521l17,2-3,2-18-3zM2863,1523l18,2-3,3-18-3z />
<path color=#073b6e d=M2917,1528l19,1-2,3-19-1z />
<path color=#073b6e fill-rule=evenodd d=M2920,1571l455-125-349-164-455,125zM3208,1362l-12-6-14-5-14-5-15-4-15-4-17-4-17-3-18-3-18-2-18-2-19-2-19-1-20-1-19,0-19,0-20,1-19,1-19,2-18,2-18,2-18,3-17,3-16,4-16,4-15,4-14,5-14,5-12,6-11,5-10,6-9,6-8,7-7,6-6,7-4,7-3,7-2,7-1,7,1,7,2,6,3,7,4,7,6,7,7,6,8,7,9,6,10,6,11,5,12,6,14,5,14,5,15,4,16,4,16,4,17,3,18,3,18,3,18,2,19,1,19,1,20,1,19,0,19,0,20-1,19-1,19-1,18-2,18-3,18-3,17-3,17-4,15-4,15-4,14-5,14-5,12-6,11-5,11-6,9-6,8-7,6-6,6-7,4-7,4-7,2-6,0-7,0-7-2-7-4-7-4-7-6-7-6-6-8-7-9-6-11-6z />
<path color=#072e4c d=M3201,1354l-12-7,7,9,12,6z />
<path color=#0c4b79 d=M3189,1347l-13-9,6,13,14,5z />
<path color=#0e5e98 d=M3176,1338l-14-8,6,16,14,5z />
<path color=#0f6aa6 d=M3162,1330l-14-9,5,21,15,4z />
<path color=#0c71a5 d=M3148,1321l-15-11,5,28,15,4zM2936,1281l-19,31-2,10,19-1z />
<path color=#0975a5 d=M3133,1310l-16-11,4,35,17,4z />
<path color=#057ea1 d=M3117,1299l-17-15,4,47,17,3z />
<path color=#05849a d=M3100,1284l-17-23,3,67,18,3z />
<path color=#1c8e86 d=M3083,1261l-18-35,3,100,18,2z />
<path color=#66965f d=M3065,1226l-18-51,3,149,18,2z />
<path color=#a09348 d=M3047,1175l-18-33,2,180,19,2z />
<path color=#b19240 d=M3029,1142l-18,2,1,177,19,1z />
<path color=#a69345 d=M3011,1144l-19,13,0,163,20,1z />
<path color=#9ba256 d=M2992,1157l-19,26,0,137,19,0z />
<path color=#55a373 d=M2973,1183l-19,49,0,88,19,0z />
<path color=#0a94a2 d=M2954,1232l-18,49-2,40,20-1z />
<path color=#041a2f d=M2917,1312l-18,21-3-9,19-2zM3255,1402l-5-6,9,3,4,7zM3250,1396l-5-7,8,3,6,7z />
<path color=#07345d d=M3260,1423l-1-7,10,4,0,7z />
<path color=#062b4e d=M3259,1416l-1-7,9,4,2,7z />
<path color=#05233e d=M3258,1409l-3-7,8,4,4,7z />
<path color=#041b2e d=M3245,1389l-7-7,9,4,6,6zM3238,1382l-8-7,9,4,8,7zM3230,1375l-8-7,8,5,9,6zM3222,1368l-10-7,7,6,11,6zM3212,1361l-11-7,7,8,11,5z />
<path color=#072e4c d=M3191,1354l-11-8,9,1,12,7zM3202,1361l-11-7,10,0,11,7z />
<path color=#072f4c d=M3180,1346l-12-8,8,0,13,9z />
<path color=#06273c d=M3168,1338l-14-9,8,1,14,8z />
<path color=#05283c d=M3154,1329l-13-9,7,1,14,9z />
<path color=#04293c d=M3141,1320l-15-10,7,0,15,11z />
<path color=#03374b d=M3126,1310l-15-11,6,0,16,11z />
<path color=#034558 d=M3111,1299l-16-14,5-1,17,15z />
<path color=#046070 d=M3095,1285l-17-20,5-4,17,23z />
<path color=#19817a d=M3078,1265l-16-30,3-9,18,35z />
<path color=#569666 d=M3062,1235l-18-39,3-21,18,51z />
<path color=#94944d d=M3044,1196l-17-27,2-27,18,33z />
<path color=#a69345 d=M3027,1169l-18-2,2-23,18-2z />
<path color=#9a944a d=M3009,1167l-18,11,1-21,19-13z />
<path color=#829554 d=M2991,1178l-18,25,0-20,19-26z />
<path color=#3f8764 d=M2973,1203l-18,42-1-13,19-49z />
<path color=#05616e d=M2955,1245l-18,41-1-5,18-49z />
<path color=#074869 d=M2937,1286l-18,29-2-3,19-31z />
<path color=#07345d d=M2919,1315l-17,20-3-2,18-21zM3248,1421l0-6,11,1,1,7zM3248,1415l-2-6,12,0,1,7zM3246,1409l-3-7,12,0,3,7zM3243,1402l-4-7,11,1,5,6z />
<path color=#08355d d=M3239,1395l-5-6,11,0,5,7zM3234,1389l-7-7,11,0,7,7zM3227,1382l-7-7,10,0,8,7zM3220,1375l-9-7,11,0,8,7zM3211,1368l-9-7,10,0,10,7z />
<path color=#041c2e d=M3181,1352l-11-8,10,2,11,8zM3190,1359l-9-7,10,2,11,7z />
<path color=#041d2d d=M3170,1344l-12-9,10,3,12,8z />
<path color=#041e2d d=M3158,1335l-13-8,9,2,14,9z />
<path color=#031f2d d=M3145,1327l-13-9,9,2,13,9z />
<path color=#02202d d=M3132,1318l-14-10,8,2,15,10z />
<path color=#01222c d=M3118,1308l-14-10,7,1,15,11z />
<path color=#023a48 d=M3104,1298l-15-12,6-1,16,14z />
<path color=#05616e d=M3089,1286l-16-16,5-5,17,20z />
<path color=#14807d d=M3073,1270l-16-21,5-14,16,30z />
<path color=#3e9472 d=M3057,1249l-16-24,3-29,18,39z />
<path color=#6d965c d=M3041,1225l-17-17,3-39,17,27z />
<path color=#829554 d=M3024,1208l-17-3,2-38,18,2z />
<path color=#749659 d=M3007,1205l-17,9,1-36,18-11z />
<path color=#5e9662 d=M2990,1214l-17,21,0-32,18-25z />
<path color=#28917e d=M2973,1235l-17,30-1-20,18-42z />
<path color=#05788c d=M2956,1265l-17,30-2-9,18-41z />
<path color=#095278 d=M2939,1295l-17,23-3-3,18-29z />
<path color=#072d4d d=M2922,1318l-17,18-3-1,17-20zM3215,1381l-7-7,12,1,7,7z />
<path color=#08355d d=M3235,1419l-1-6,14,2,0,6zM3234,1413l-2-6,14,2,2,6zM3232,1407l-2-6,13,1,3,7zM3230,1401l-4-7,13,1,4,7zM3226,1394l-5-7,13,2,5,6zM3221,1387l-6-6,12,1,7,7z />
<path color=#072e4c d=M3208,1374l-8-7,11,1,9,7z />
<path color=#06253d d=M3200,1367l-10-8,12,2,9,7z />
<path color=#041e2d d=M3168,1347l-10-8,12,5,11,8z />
<path color=#031f2d d=M3158,1339l-11-8,11,4,12,9z />
<path color=#02202d d=M3147,1331l-12-8,10,4,13,8z />
<path color=#02212d d=M3135,1323l-12-8,9,3,13,9z />
<path color=#01222c d=M3123,1315l-13-9,8,2,14,10zM3110,1306l-14-8,8,0,14,10z />
<path color=#034755 d=M3096,1298l-14-9,7-3,15,12z />
<path color=#056e7c d=M3082,1289l-15-11,6-8,16,16z />
<path color=#0f7e81 d=M3067,1278l-15-13,5-16,16,21z />
<path color=#218f82 d=M3052,1265l-15-12,4-28,16,24z />
<path color=#3e9472 d=M3037,1253l-16-9,3-36,17,17zM3005,1243l-16,7,1-36,17-9z />
<path color=#46956e d=M3021,1244l-16-1,2-38,17,3z />
<path color=#28917e d=M2989,1250l-16,14,0-29,17-21z />
<path color=#0c8991 d=M2973,1264l-16,20-1-19,17-30z />
<path color=#047491 d=M2957,1284l-16,20-2-9,17-30z />
<path color=#0a5078 d=M2941,1304l-16,19-3-5,17-23z />
<path color=#08355d d=M2925,1323l-16,15-4-2,17-18z />
<path color=#08375c d=M3219,1415l0-5,15,3,1,6zM3219,1410l-2-7,15,4,2,6zM3217,1403l-3-6,16,4,2,6zM3214,1397l-3-6,15,3,4,7z />
<path color=#072e4c d=M3211,1391l-5-7,15,3,5,7zM3206,1384l-6-7,15,4,6,6z />
<path color=#06253d d=M3200,1377l-6-7,14,4,7,7z />
<path color=#06263d d=M3194,1370l-8-7,14,4,8,7z />
<path color=#041c2e d=M3186,1363l-8-8,12,4,10,8z />
<path color=#041d2d d=M3178,1355l-10-8,13,5,9,7z />
<path color=#02202d d=M3154,1340l-10-7,14,6,10,8z />
<path color=#02212d d=M3144,1333l-10-8,13,6,11,8z />
<path color=#01222c d=M3134,1325l-11-7,12,5,12,8zM3123,1318l-11-6,11,3,12,8zM3112,1312l-12-6,10,0,13,9z />
<path color=#022f3a d=M3100,1306l-13-6,9-2,14,8z />
<path color=#035364 d=M3087,1300l-13-6,8-5,14,9z />
<path color=#056e7c d=M3074,1294l-14-6,7-10,15,11z />
<path color=#087b87 d=M3060,1288l-14-6,6-17,15,13z />
<path color=#118b8d d=M3046,1282l-14-6,5-23,15,12z />
<path color=#168c8a d=M3032,1276l-14-3,3-29,16,9zM3003,1274l-15,5,1-29,16-7z />
<path color=#1c8e86 d=M3018,1273l-15,1,2-31,16,1z />
<path color=#0c8991 d=M2988,1279l-15,10,0-25,16-14z />
<path color=#04768e d=M2973,1289l-15,13-1-18,16-20z />
<path color=#057094 d=M2958,1302l-15,14-2-12,16-20z />
<path color=#0a5078 d=M2943,1316l-14,13-4-6,16-19z />
<path color=#0a406b d=M2929,1329l-15,12-5-3,16-15z />
<path color=#09385b d=M3201,1409l-1-6,19,7,0,5zM3200,1403l-1-6,18,6,2,7zM3199,1397l-3-6,18,6,3,6z />
<path color=#072f4c d=M3196,1391l-3-7,18,7,3,6zM3193,1384l-4-6,17,6,5,7z />
<path color=#06273c d=M3189,1378l-5-7,16,6,6,7z />
<path color=#041d2d d=M3184,1371l-7-8,17,7,6,7z />
<path color=#041e2d d=M3177,1363l-7-7,16,7,8,7zM3170,1356l-8-8,16,7,8,8z />
<path color=#031f2d d=M3162,1348l-8-8,14,7,10,8z />
<path color=#01222c d=M3136,1332l-9-6,17,7,10,7zM3127,1326l-9-5,16,4,10,8zM3144,1339l-8-7,18,8,8,8z />
<path color=#01232b d=M3118,1321l-10-5,15,2,11,7zM3108,1316l-10-3,14-1,11,6z />
<path color=#022f39 d=M3098,1313l-11-3,13-4,12,6z />
<path color=#034755 d=M3087,1310l-11-3,11-7,13,6z />
<path color=#035f72 d=M3076,1307l-12-2,10-11,13,6z />
<path color=#046c7e d=M3064,1305l-12-2,8-15,14,6z />
<path color=#05788c d=M3052,1303l-13-2,7-19,14,6z />
<path color=#067a89 d=M3039,1301l-13-1,6-24,14,6z />
<path color=#068697 d=M3026,1300l-13,0,5-27,14,3zM3013,1300l-13,2,3-28,15-1z />
<path color=#05849a d=M3000,1302l-14,4,2-27,15-5z />
<path color=#047491 d=M2986,1306l-13,6,0-23,15-10z />
<path color=#057094 d=M2973,1312l-13,8-2-18,15-13z />
<path color=#075f87 d=M2960,1320l-14,8-3-12,15-14z />
<path color=#0d5788 d=M2946,1328l-13,9-4-8,14-13z />
<path color=#0a406b d=M2933,1337l-13,9-6-5,15-12z />
<path color=#07345d d=M2920,1346l-13,7-7-2,14-10z />
<path color=#094669 d=M3178,1400l0-6,22,9,1,6zM3178,1394l-2-7,23,10,1,6z />
<path color=#083c5a d=M3176,1387l-2-6,22,10,3,6zM3174,1381l-3-7,22,10,3,7z />
<path color=#05334b d=M3171,1374l-4-7,22,11,4,6z />
<path color=#04293c d=M3167,1367l-5-7,22,11,5,7z />
<path color=#02202d d=M3162,1360l-5-7,20,10,7,8z />
<path color=#02212d d=M3157,1353l-6-7,19,10,7,7zM3151,1346l-7-7,18,9,8,8z />
<path color=#022f39 d=M3114,1330l-7-3,20-1,9,6z />
<path color=#023b47 d=M3107,1327l-8-3,19-3,9,5zM3099,1324l-9-2,18-6,10,5z />
<path color=#034755 d=M3090,1322l-9-1,17-8,10,3z />
<path color=#035364 d=M3081,1321l-9,0,15-11,11,3z />
<path color=#035f72 d=M3072,1321l-10,0,14-14,11,3z />
<path color=#046982 d=M3062,1321l-10,0,12-16,12,2zM3052,1321l-11,0,11-18,12,2z />
<path color=#047491 d=M3041,1321l-11,1,9-21,13,2zM3030,1322l-11,0,7-22,13,1z />
<path color=#047293 d=M3019,1322l-11,2,5-24,13,0zM3008,1324l-12,2,4-24,13-2z />
<path color=#057094 d=M2996,1326l-11,2,1-22,14-4z />
<path color=#066d95 d=M2985,1328l-12,4,0-20,13-6z />
<path color=#086a96 d=M2973,1332l-12,5-1-17,13-8z />
<path color=#0b5a87 d=M2961,1337l-11,6-4-15,14-8z />
<path color=#0b4d79 d=M2950,1343l-12,5-5-11,13-9z />
<path color=#0b497a d=M2938,1348l-11,6-7-8,13-9z />
<path color=#093e6c d=M2927,1354l-11,5-9-6,13-7z />
<path color=#07345d d=M2916,1359l-11,5-10-4,12-7z />
<path color=#075578 d=M3151,1390l-1-6,28,10,0,6zM3150,1384l-1-7,27,10,2,7z />
<path color=#055777 d=M3149,1377l-2-7,27,11,2,6z />
<path color=#044c68 d=M3147,1370l-2-6,26,10,3,7z />
<path color=#034e68 d=M3145,1364l-4-7,26,10,4,7z />
<path color=#034359 d=M3141,1357l-4-6,25,9,5,7z />
<path color=#034558 d=M3137,1351l-5-6,25,8,5,7z />
<path color=#023a48 d=M3132,1345l-5-6,24,7,6,7zM3127,1339l-6-5,23,5,7,7z />
<path color=#022f3a d=M3121,1334l-7-4,22,2,8,7z />
<path color=#035f72 d=M3089,1343l-6-1,24-15,7,3zM3083,1342l-7-1,23-17,8,3zM3104,1352l-5-4,28-9,5,6zM3099,1348l-5-3,27-11,6,5zM3094,1345l-5-2,25-13,7,4z />
<path color=#035d74 d=M3076,1341l-7,0,21-19,9,2zM3069,1341l-7,0,19-20,9,1z />
<path color=#045b75 d=M3062,1341l-8,0,18-20,9,0z />
<path color=#046784 d=M3054,1341l-8,1,16-21,10,0zM3116,1371l-2-6,31-1,2,6zM3114,1365l-3-5,30-3,4,7z />
<path color=#046585 d=M3046,1342l-8,0,14-21,10,0zM3038,1342l-9,1,12-22,11,0zM3029,1343l-9,1,10-22,11-1zM3119,1383l-1-6,31,0,1,7zM3118,1377l-2-6,31-1,2,7z />
<path color=#056286 d=M3020,1344l-9,1,8-23,11,0zM3011,1345l-9,1,6-22,11-2zM3119,1389l0-6,31,1,1,6z />
<path color=#075f87 d=M3002,1346l-10,1,4-21,12-2zM2992,1347l-9,2,2-21,11-2z />
<path color=#0a5d87 d=M2983,1349l-10,3,0-20,12-4z />
<path color=#0b5a87 d=M2973,1352l-9,2-3-17,12-5z />
<path color=#0d5788 d=M2964,1354l-10,4-4-15,11-6z />
<path color=#0c4b79 d=M2954,1358l-9,3-7-13,12-5z />
<path color=#0b497a d=M2945,1361l-10,4-8-11,11-6z />
<path color=#0a406b d=M2935,1365l-9,3-10-9,11-5z />
<path color=#093e6c d=M2926,1368l-9,4-12-8,11-5z />
<path color=#07345d d=M2917,1372l-8,3-14-6,10-5zM2909,1375l-9,3-16-5,11-4z />
<path color=#046982 d=M3111,1360l-3-4,29-5,4,6zM3108,1356l-4-4,28-7,5,6z />
<path color=#046585 d=M3060,1369l-5-1,28-26,6,1zM3055,1368l-5-1,26-26,7,1zM3080,1386l-1-3,35-18,2,6zM3079,1383l-2-4,34-19,3,5zM3077,1379l-3-2,34-21,3,4zM3074,1377l-3-3,33-22,4,4zM3071,1374l-3-2,31-24,5,4zM3068,1372l-4-2,30-25,5,3zM3064,1370l-4-1,29-26,5,2z />
<path color=#056286 d=M3050,1367l-5-1,24-25,7,0zM3045,1366l-5,0,22-25,7,0zM3040,1366l-6-1,20-24,8,0zM3082,1394l-1-4,37-13,1,6zM3081,1390l-1-4,36-15,2,6z />
<path color=#075f87 d=M3034,1365l-6,0,18-23,8-1zM3028,1365l-7,0,17-23,8,0zM3082,1398l0-4,37-11,0,6z />
<path color=#0a5d87 d=M3021,1365l-6,1,14-23,9-1zM3015,1366l-7,0,12-22,9-1zM3008,1366l-7,0,10-21,9-1z />
<path color=#0b5a87 d=M3001,1366l-7,1,8-21,9-1zM2994,1367l-7,1,5-21,10-1zM2987,1368l-7,1,3-20,9-2z />
<path color=#0d5788 d=M2980,1369l-7,1,0-18,10-3z />
<path color=#0b4d79 d=M2973,1370l-7,2-2-18,9-2z />
<path color=#0c4b79 d=M2966,1372l-7,2-5-16,10-4zM2959,1374l-7,2-7-15,9-3z />
<path color=#0b497a d=M2952,1376l-7,2-10-13,10-4zM2945,1378l-7,2-12-12,9-3z />
<path color=#093e6c d=M2938,1380l-7,2-14-10,9-4zM2931,1382l-6,2-16-9,8-3zM2925,1384l-7,3-18-9,9-3z />
<path color=#083d6d d=M2918,1387l-6,2-20-7,8-4z />
<path color=#07345d d=M2912,1389l-5,3-23-7,8-3zM2907,1392l-6,2-24-6,7-3zM2901,1394l-5,3-26-6,7-3z />
<path color=#06335e d=M2896,1397l-5,2-27-5,6-3z />
<path color=#095278 d=M3031,1390l-6-2,25-21,10,2zM3036,1392l-5-2,29-21,8,3z />
<path color=#0a5078 d=M3025,1388l-8-2,23-20,10,1zM3017,1386l-7-1,18-20,12,1z />
<path color=#0b4d79 d=M3010,1385l-9,0,14-19,13-1zM3001,1385l-9,0,9-19,14,0zM2992,1385l-9,1,4-18,14-2z />
<path color=#0c4b79 d=M2983,1386l-10,1,0-17,14-2zM2973,1387l-9,2-5-15,14-4z />
<path color=#0b497a d=M2964,1389l-10,2-9-13,14-4zM2954,1391l-9,2-14-11,14-4z />
<path color=#093e6c d=M2945,1393l-8,3-19-9,13-5zM2937,1396l-8,4-22-8,11-5z />
<path color=#083d6d d=M2929,1400l-7,3-26-6,11-5zM2922,1403l-7,3-29-5,10-4zM2915,1406l-5,4-32-4,8-5zM2910,1410l-4,4-34-3,6-5zM2906,1414l-3,3-36-1,5-5zM2903,1417l-2,4-36,0,2-5zM2901,1421l-1,3-36,3,1-6z />
<path color=#0b5a87 d=M3046,1407l-1-4,36-13,1,8zM3045,1403l-2-4,36-16,2,7z />
<path color=#0a5d87 d=M3043,1399l-3-4,34-18,5,6zM3040,1395l-4-3,32-20,6,5z />
<path color=#0c4b79 d=M3002,1405l-3-1,26-16,6,2zM2999,1404l-4-1,22-17,8,2zM2995,1403l-4-1,19-17,7,1zM2991,1402l-4,0,14-17,9,0zM2987,1402l-4,0,9-17,9,0zM2983,1402l-5,0,5-16,9-1zM3010,1413l-1-2,36-8,1,4zM3009,1411l-1-2,35-10,2,4zM3008,1409l-1-2,33-12,3,4zM3007,1407l-2-1,31-14,4,3zM3005,1406l-3-1,29-15,5,2z />
<path color=#0b497a d=M2978,1402l-5,0,0-15,10-1zM2973,1402l-5,1-4-14,9-2zM2968,1403l-4,1-10-13,10-2z />
<path color=#0a406b d=M2964,1404l-5,1-14-12,9-2z />
<path color=#093e6c d=M2959,1405l-4,2-18-11,8-3zM2955,1407l-4,1-22-8,8-4zM2951,1408l-4,2-25-7,7-3zM2947,1410l-3,2-29-6,7-3zM2944,1412l-2,1-32-3,5-4zM2942,1413l-3,2-33-1,4-4z />
<path color=#083d6d d=M2939,1415l-1,2-35,0,3-3zM2938,1417l-1,2-36,2,2-4zM2937,1419l0,2-37,3,1-3z />
<path color=#0a406b d=M2973,1417l22-14,7,2zM2973,1417l14-15,8,1zM2973,1417l5-15,9,0zM2973,1417l-5-14,10-1zM2973,1417l-14-12,9-2zM2973,1417l29-12,5,2z />
<path color=#093e6c d=M2973,1417l-22-9,8-3zM2973,1417l-29-5,7-4zM2973,1417l-34-2,5-3zM2973,1417l-36,2,2-4zM2973,1417l-36,6,0-4z />
<path color=#0b497a d=M2973,1417l34-10,2,4z />
<path color=#093e6c d=M2973,1417l-34,9-2-3zM2973,1417l-29,12-5-3zM2973,1417l-22,14-7-2zM2973,1417l-14,15-8-1zM2973,1417l-5,15-9,0zM2973,1417l5,14-10,1z />
<path color=#0a406b d=M2973,1417l14,12-9,2zM2973,1417l22,9-8,3zM2973,1417l29,6-7,3zM2973,1417l34,2-5,4zM2973,1417l36-2-2,4zM2973,1417l36-6,0,4z />
<path color=#083d6d d=M2937,1421l0,2-36,5-1-4zM2937,1423l1,1-35,7-2-3zM2938,1424l1,2-33,8-3-3zM2939,1426l3,2-32,9-4-3zM2942,1428l2,1-29,11-5-3zM2944,1429l3,1-25,12-7-2z />
<path color=#093e6c d=M2947,1430l4,1-22,13-7-2zM2951,1431l4,0-18,14-8-1zM2955,1431l4,1-14,14-8-1zM2959,1432l5,0-10,14-9,0zM2964,1432l4,0-4,14-10,0zM2968,1432l5-1,0,14-9,1zM2973,1431l5,0,5,13-10,1zM2978,1431l5-1,9,13-9,1z />
<path color=#0a406b d=M2983,1430l4-1,14,12-9,2zM2987,1429l4-1,19,10-9,3zM2991,1428l4-2,22,9-7,3zM2995,1426l4-1,26,7-8,3zM2999,1425l3-2,29,5-6,4zM3002,1423l3-2,31,4-5,3z />
<path color=#0a426a d=M3005,1421l2-2,33,2-4,4z />
<path color=#0c4b79 d=M3007,1419l1-2,35-1-3,5zM3008,1417l1-2,36-3-2,4zM3009,1415l1-2,36-6-1,5z />
<path color=#083d6d d=M2900,1424l1,4-36,4-1-5zM2901,1428l2,3-36,6-2-5zM2903,1431l3,3-34,7-5-4zM2906,1434l4,3-32,9-6-5zM2910,1437l5,3-29,10-8-4zM2915,1440l7,2-26,11-10-3zM2922,1442l7,2-22,12-11-3zM2929,1444l8,1-19,13-11-2zM2937,1445l8,1-14,14-13-2zM2945,1446l9,0-9,14-14,0z />
<path color=#093e6c d=M2954,1446l10,0-5,14-14,0zM2964,1446l9-1,0,14-14,1zM2973,1445l10-1,4,14-14,1zM2983,1444l9-1,9,12-14,3z />
<path color=#0a406b d=M2992,1443l9-2,14,11-14,3zM3001,1441l9-3,18,10-13,4zM3010,1438l7-3,23,9-12,4z />
<path color=#0a426a d=M3017,1435l8-3,25,7-10,5zM3025,1432l6-4,29,6-10,5zM3031,1428l5-3,32,3-8,6z />
<path color=#0c4b79 d=M3036,1425l4-4,34,0-6,7z />
<path color=#0b4d79 d=M3040,1421l3-5,36-2-5,7zM3043,1416l2-4,36-6-2,8z />
<path color=#0b5a87 d=M3045,1412l1-5,36-9-1,8z />
<path color=#073b6e d=M2878,1446l4,2-30,8-5-2zM2882,1448l4,2-29,9-5-3zM2886,1450l5,1-27,10-7-2z />
<path color=#083d6d d=M2891,1451l5,2-26,11-6-3zM2896,1453l5,2-24,11-7-2zM2901,1455l6,1-23,12-7-2zM2907,1456l5,1-20,12-8-1zM2912,1457l6,1-18,13-8-2zM2918,1458l7,1-16,13-9-1zM2925,1459l6,1-14,13-8-1zM2931,1460l7,0-12,14-9-1zM2938,1460l7,0-10,14-9,0zM2945,1460l7,1-7,14-10-1zM2952,1461l7-1-5,15-9,0z />
<path color=#093e6c d=M2959,1460l7,0-2,14-10,1zM2966,1460l7-1,0,14-9,1zM2973,1459l7,0,3,13-10,1zM2980,1459l7-1,5,13-9,1zM2987,1458l7-2,8,13-10,2z />
<path color=#0a406b d=M2994,1456l7-1,10,12-9,2zM3001,1455l7-1,12,11-9,2zM3008,1454l7-2,14,11-9,2zM3015,1452l6-2,17,10-9,3zM3021,1450l7-2,18,9-8,3z />
<path color=#0a426a d=M3028,1448l6-2,20,9-8,2zM3034,1446l6-2,22,8-8,3zM3040,1444l5-3,24,8-7,3zM3045,1441l5-2,26,7-7,3zM3050,1439l5-2,28,6-7,3zM3055,1437l5-3,29,5-6,4z />
<path color=#0a446a d=M3060,1434l4-3,30,4-5,4z />
<path color=#0b4d79 d=M3064,1431l4-3,31,3-5,4zM3068,1428l3-3,33,2-5,4zM3071,1425l3-4,34,1-4,5z />
<path color=#0a5078 d=M3074,1421l3-3,34-1-3,5z />
<path color=#0b5a87 d=M3077,1418l2-4,35-2-3,5zM3079,1414l1-4,36-4-2,6z />
<path color=#0a5d87 d=M3080,1410l1-4,37-5-2,5zM3081,1406l1-4,37-7-1,6z />
<path color=#075f87 d=M3082,1402l0-4,37-9,0,6z />
<path color=#073b6e d=M2884,1468l8,1-18,11-9-2z />
<path color=#083d6d d=M2892,1469l8,2-16,11-10-2zM2900,1471l9,1-14,11-11-1zM2909,1472l8,1-12,12-10-2zM2917,1473l9,1-10,12-11-1zM2926,1474l9,0-8,13-11-1zM2935,1474l10,1-7,12-11,0zM2945,1475l9,0-4,12-12,0zM2954,1475l10-1-3,12-11,1z />
<path color=#093e6c d=M2964,1474l9-1,0,13-12,0zM2973,1473l10-1,2,12-12,2zM2983,1472l9-1,4,11-11,2zM2992,1471l10-2,6,11-12,2z />
<path color=#0a406b d=M3002,1469l9-2,8,11-11,2zM3011,1467l9-2,10,10-11,3zM3020,1465l9-2,12,8-11,4z />
<path color=#09385b d=M3029,1463l9-3,14,8-11,3zM3038,1460l8-3,16,7-10,4zM3046,1457l8-2,18,6-10,3zM3054,1455l8-3,19,6-9,3z />
<path color=#083a5b d=M3062,1452l7-3,21,5-9,4zM3069,1449l7-3,23,5-9,3zM3076,1446l7-3,24,5-8,3z />
<path color=#0a446a d=M3083,1443l6-4,25,5-7,4zM3089,1439l5-4,27,5-7,4zM3094,1435l5-4,28,5-6,4z />
<path color=#0a5078 d=M3099,1431l5-4,28,5-5,4zM3104,1427l4-5,29,5-5,5zM3108,1422l3-5,30,4-4,6z />
<path color=#0a5d87 d=M3111,1417l3-5,31,4-4,5zM3114,1412l2-6,31,4-2,6z />
<path color=#075f87 d=M3116,1406l2-5,31,2-2,7zM3118,1401l1-6,31,2-1,6z />
<path color=#056286 d=M3119,1395l0-6,32,1-1,7z />
<path color=#073b6e d=M2884,1482l11,1-13,10-11-2zM2895,1483l10,2-10,10-13-2z />
<path color=#083d6d d=M2905,1485l11,1-9,10-12-1zM2916,1486l11,1-7,10-13-1zM2927,1487l11,0-5,10-13,0zM2938,1487l12,0-4,11-13-1zM2950,1487l11-1-1,11-14,1zM2961,1486l12,0,0,10-13,1z />
<path color=#093e6c d=M2973,1486l12-2,1,11-13,1zM2985,1484l11-2,4,10-14,3zM2996,1482l12-2,5,10-13,2z />
<path color=#0a406b d=M3008,1480l11-2,7,8-13,4zM3019,1478l11-3,9,7-13,4z />
<path color=#09385b d=M3030,1475l11-4,11,7-13,4zM3041,1471l11-3,12,5-12,5z />
<path color=#07304b d=M3052,1468l10-4,14,5-12,4zM3062,1464l10-3,15,4-11,4zM3099,1451l8-3,20,4-9,3z />
<path color=#06273c d=M3072,1461l9-3,17,3-11,4zM3081,1458l9-4,18,4-10,3zM3090,1454l9-3,19,4-10,3z />
<path color=#083a5b d=M3107,1448l7-4,22,5-9,3zM3114,1444l7-4,23,6-8,3z />
<path color=#0a446a d=M3121,1440l6-4,24,6-7,4z />
<path color=#0b4d79 d=M3127,1436l5-4,25,6-6,4z />
<path color=#0a5078 d=M3132,1432l5-5,25,7-5,4zM3137,1427l4-6,26,8-5,5zM3141,1421l4-5,26,7-4,6zM3145,1416l2-6,27,8-3,5z />
<path color=#095278 d=M3147,1410l2-7,27,9-2,6zM3149,1403l1-6,28,9-2,6zM3150,1397l1-7,27,10,0,6z />
<path color=#073b6e d=M2895,1495l12,1-7,8-14-1z />
<path color=#083d6d d=M2907,1496l13,1-6,8-14-1zM2920,1497l13,0-4,9-15-1zM2933,1497l13,1-3,8-14,0zM2946,1498l14-1-2,9-15,0zM2960,1497l13-1,0,9-15,1zM2973,1496l13-1,2,9-15,1z />
<path color=#093e6c d=M2986,1495l14-3,3,9-15,3zM3000,1492l13-2,5,8-15,3z />
<path color=#0a406b d=M3013,1490l13-4,6,7-14,5z />
<path color=#0a426a d=M3026,1486l13-4,7,6-14,5z />
<path color=#09385b d=M3039,1482l13-4,8,4-14,6z />
<path color=#07304b d=M3052,1478l12-5,10,3-14,6zM3136,1449l8-3,18,6-8,2z />
<path color=#041e2d d=M3064,1473l12-4,11,0-13,7zM3076,1469l11-4,13-1-13,5zM3108,1458l10-3,16,3-11,1zM3118,1455l9-3,17,4-10,2z />
<path color=#031f2d d=M3087,1465l11-4,14,0-12,3zM3098,1461l10-3,15,1-11,2z />
<path color=#05283c d=M3127,1452l9-3,18,5-10,2z />
<path color=#083a5b d=M3144,1446l7-4,19,7-8,3z />
<path color=#0a446a d=M3151,1442l6-4,20,7-7,4zM3157,1438l5-4,22,7-7,4zM3176,1412l2-6,22,9-1,6zM3178,1406l0-6,23,9-1,6z />
<path color=#0b4d79 d=M3162,1434l5-5,22,7-5,5zM3167,1429l4-6,22,8-4,5zM3171,1423l3-5,22,8-3,5zM3174,1418l2-6,23,9-3,5z />
<path color=#073b6e d=M2900,1504l14,1-5,7-15-1zM2914,1505l15,1-4,7-16-1z />
<path color=#083d6d d=M2929,1506l14,0-2,7-16,0zM2943,1506l15,0-1,7-16,0zM2958,1506l15-1,0,7-16,1zM2973,1505l15-1,1,7-16,1z />
<path color=#093e6c d=M2988,1504l15-3,2,7-16,3zM3003,1501l15-3,3,6-16,4z />
<path color=#0a406b d=M3018,1498l14-5,5,6-16,5z />
<path color=#09385b d=M3032,1493l14-5,6,4-15,7zM3170,1449l7-4,17,6-8,3z />
<path color=#07304b d=M3046,1488l14-6,7,1-15,9z />
<path color=#041e2d d=M3060,1482l14-6,8-1-15,8zM3144,1456l10-2,14,5-10,0z />
<path color=#02202d d=M3074,1476l13-7,9-7-14,13zM3112,1461l11-2,12-1-12-4z />
<path color=#02212d d=M3087,1469l13-5,10-11-14,9z />
<path color=#044c68 d=M3100,1464l12-3,11-7-13-1z />
<path color=#031f2d d=M3123,1459l11-1,13,1-12-1zM3134,1458l10-2,14,3-11,0z />
<path color=#06273c d=M3154,1454l8-2,16,5-10,2z />
<path color=#083a5b d=M3162,1452l8-3,16,5-8,3z />
<path color=#0a426a d=M3177,1445l7-4,16,6-6,4zM3184,1441l5-5,17,6-6,5zM3189,1436l4-5,18,6-5,5zM3193,1431l3-5,18,6-3,5zM3196,1426l3-5,18,6-3,5zM3199,1421l1-6,19,6-2,6zM3200,1415l1-6,18,6,0,6z />
<path color=#073b6e d=M2909,1512l16,1-3,6-17-1z />
<path color=#083d6d d=M2925,1513l16,0-2,6-17,0zM2941,1513l16,0-1,6-17,0zM2957,1513l16-1,0,7-17,0zM2973,1512l16-1,1,6-17,2z />
<path color=#093e6c d=M2989,1511l16-3,2,6-17,3z />
<path color=#0b477b d=M3005,1508l16-4,3,6-17,4z />
<path color=#0a406b d=M3021,1504l16-5,4,4-17,7zM3194,1451l6-4,15,5-7,4zM3200,1447l6-5,15,5-6,5zM3206,1442l5-5,15,5-5,5zM3211,1437l3-5,16,5-4,5zM3214,1432l3-5,15,4-2,6zM3217,1427l2-6,15,4-2,6z />
<path color=#09385b d=M3037,1499l15-7,5,2-16,9zM3186,1454l8-3,14,5-8,3z />
<path color=#041e2d d=M3052,1492l15-9,6,0-16,11zM3158,1459l10,0,13,4-11-1z />
<path color=#02202d d=M3067,1483l15-8,7-5-16,13z />
<path color=#01222c d=M3082,1475l14-13,8-15-15,23z />
<path color=#035364 d=M3096,1462l14-9,8-24-14,18z />
<path color=#05849a d=M3110,1453l13,1,9-15-14-10z />
<path color=#047293 d=M3123,1454l12,4,10-6-13-13z />
<path color=#03374b d=M3135,1458l12,1,11-1-13-6z />
<path color=#031f2d d=M3147,1459l11,0,12,3-12-4z />
<path color=#041d2d d=M3168,1459l10-2,12,5-9,1z />
<path color=#072f4c d=M3178,1457l8-3,14,5-10,3z />
<path color=#08375c d=M3219,1421l0-6,16,4-1,6z />
<path color=#073b6e d=M2922,1519l17,0-2,6-18-1z />
<path color=#083d6d d=M2939,1519l17,0-1,6-18,0zM2956,1519l17,0,0,5-18,1zM2973,1519l17-2,1,5-18,2zM2990,1517l17-3,2,6-18,2z />
<path color=#0b477b d=M3007,1514l17-4,3,5-18,5z />
<path color=#0b497a d=M3024,1510l17-7,3,5-17,7z />
<path color=#0a446a d=M3041,1503l16-9,5,2-18,12z />
<path color=#04293c d=M3057,1494l16-11,5-1-16,14z />
<path color=#02212d d=M3073,1483l16-13,6-5-17,17z />
<path color=#01242a d=M3089,1470l15-23,7-13-16,31z />
<path color=#062626 d=M3104,1447l14-18,8-23-15,28z />
<path color=#168c8a d=M3118,1429l14,10,9-16-15-17z />
<path color=#05849a d=M3132,1439l13,13,9-6-13-23z />
<path color=#046585 d=M3145,1452l13,6,10,0-14-12z />
<path color=#02202d d=M3158,1458l12,4,10,3-12-7z />
<path color=#041e2d d=M3170,1462l11,1,10,4-11-2z />
<path color=#041d2d d=M3181,1463l9-1,12,4-11,1z />
<path color=#072f4c d=M3190,1462l10-3,11,5-9,2z />
<path color=#08375c d=M3200,1459l8-3,12,4-9,4zM3208,1456l7-4,12,4-7,4zM3215,1452l6-5,13,4-7,5z />
<path color=#093e6c d=M3221,1447l5-5,13,4-5,5zM3226,1442l4-5,13,3-4,6zM3230,1437l2-6,14,3-3,6z />
<path color=#08355d d=M3232,1431l2-6,14,3-2,6zM3234,1425l1-6,13,2,0,7z />
<path color=#083d6d d=M2937,1525l18,0-1,4-18,0zM2955,1525l18-1,0,4-19,1zM2973,1524l18-2,1,5-19,1zM2991,1522l18-2,2,4-19,3zM3248,1428l0-7,12,2-1,6z />
<path color=#0b477b d=M3009,1520l18-5,2,5-18,4z />
<path color=#0b497a d=M3027,1515l17-7,3,4-18,8z />
<path color=#0b4d79 d=M3044,1508l18-12,3,3-18,13z />
<path color=#064a69 d=M3062,1496l16-14,5,1-18,16z />
<path color=#035067 d=M3078,1482l17-17,5,1-17,17z />
<path color=#06636c d=M3095,1465l16-31,6-2-17,34z />
<path color=#195c50 d=M3111,1434l15-28,7-5-16,31z />
<path color=#2a856f d=M3126,1406l15,17,7-4-15-18z />
<path color=#0b7d84 d=M3141,1423l13,23,8-2-14-25z />
<path color=#035d74 d=M3154,1446l14,12,8,1-14-15z />
<path color=#02202d d=M3168,1458l12,7,9,3-13-9z />
<path color=#041e2d d=M3180,1465l11,2,10,4-12-3z />
<path color=#041c2e d=M3191,1467l11-1,10,4-11,1z />
<path color=#06253d d=M3202,1466l9-2,11,3-10,3z />
<path color=#08375c d=M3211,1464l9-4,10,3-8,4z />
<path color=#08355d d=M3220,1460l7-4,11,3-8,4zM3227,1456l7-5,11,2-7,6zM3234,1451l5-5,11,2-5,5zM3239,1446l4-6,12,2-5,6zM3243,1440l3-6,12,2-3,6zM3246,1434l2-6,11,1-1,7z />
<path color=#073b6e d=M2936,1529l18,0,0,4-20-1zM3255,1442l3-6,9,4-4,7zM3258,1436l1-7,10,5-2,6z />
<path color=#08437e d=M2954,1529l19-1,0,5-19,0zM3245,1453l5-5,9,6-6,7zM3250,1448l5-6,8,5-4,7z />
<path color=#094c8d d=M2973,1528l19-1,0,6-19,0zM3222,1467l8-4,9,11-9,6zM3230,1463l8-4,9,8-8,7zM3238,1459l7-6,8,8-6,6z />
<path color=#0a549d d=M2992,1527l19-3,1,8-20,1zM3201,1471l11-1,7,16-11,5zM3212,1470l10-3,8,13-11,6z />
<path color=#0b5dad d=M3011,1524l18-4,2,11-19,1zM3029,1520l18-8,3,18-19,1zM3047,1512l18-13,3,29-18,2zM3065,1499l18-16,3,42-18,3zM3162,1444l14,15,6,43-14,5zM3176,1459l13,9,7,29-14,5zM3189,1468l12,3,7,20-12,6z />
<path color=#0c65bc d=M3083,1483l17-17,4,56-18,3zM3100,1466l17-34,4,87-17,3zM3117,1432l16-31,5,114-17,4zM3133,1401l15,18,5,92-15,4zM3148,1419l14,25,6,63-15,4z />
<path color=#06335e d=M3259,1429l1-6,9,4,0,7z />
<path stroke=#012 stroke-opacity=.5 stroke-width=1.5 fill=none d=M3029,1520l2,11M3047,1512l3,18M3065,1499l3,29M3083,1483l3,42M3100,1466l4,56M3117,1432l4,87M3133,1401l5,114M3148,1419l5,92M3162,1444l6,63M3176,1459l6,43M3189,1468l7,29M3201,1471l7,20M3212,1470l7,16M3222,1467l8,13 /></g></g>
<g><path class="g" d="M212.6,510.1L142,477L142,404.7M235.6,503.7L165,470.6L165,398.4M258.6,497.4L188,464.3L188,392M171.9,508.1L264,482.7L264,410.5M154.3,499.9L246.3,474.5L246.3,402.2M136.6,491.6L228.7,466.2L228.7,394M119,459.2L211,433.9L281.6,466.9M119,435.2L211,409.8L281.6,442.9M119,411.1L211,385.7L281.6,418.8M211,457.9L211,385.7M119,483.3L211,457.9L281.6,491M281.6,491L281.6,418.8"/>
<path class="a" d="M119,411.1L119,483.3L189.6,516.4L281.6,491M189.6,516.4L188,516.9M171.9,508.1L170.3,508.6M154.3,499.9L152.7,500.3M136.6,491.6L135,492M119,483.3L117.4,483.8M189.6,516.4L191.1,517.1M212.6,510.1L214.1,510.8M235.6,503.7L237.1,504.4M258.6,497.4L260.1,498.1M119,483.3L117.3,483.3M119,459.2L117.3,459.2M119,435.2L117.3,435.2M119,411.1L117.3,411.1"/><g transform="scale(.2)" fill="currentColor" stroke="currentColor" stroke-width="2" stroke-linejoin="round"><path color=#0b6796 d=M1118,2275l-12,0,3-6,13,3zM1006,2264l-15-2,0-4,16,0z />
<path color=#0d6496 d=M1106,2275l-14-1,4-7,13,2z />
<path color=#0e6ea5 d=M1092,2274l-13-1,3-8,14,2zM1079,2273l-14-2,2-8,15,2zM1065,2271l-14-2,1-8,15,2zM1051,2269l-15-1,1-8,15,1zM1036,2268l-15-1,1-8,15,1zM1021,2267l-15-3,1-6,15,1z />
<path color=#095278 d=M794,2301l-7,9-7-5,7-5z />
<path color=#0b5a87 d=M787,2310l-6,7-7-7,6-5zM781,2317l-6,5-7-6,6-6zM775,2322l-4,6-7-7,4-5z />
<path color=#0a5078 d=M771,2328l-3,5-8-7,4-5zM768,2333l-3,5-7-6,2-6z />
<path color=#094669 d=M765,2338l-1,5-8-6,2-5z />
<path color=#083c5a d=M764,2343l-1,5-7-5,0-6z />
<path color=#031f2d d=M1113,2273l-12,2,5,0,12,0zM1101,2275l-13,0,4-1,14,1zM1020,2267l-14-2,0-1,15,3z />
<path color=#041e2d d=M1088,2275l-13-2,4,0,13,1zM1075,2273l-13-1,3-1,14,2zM1062,2272l-14-2,3-1,14,2zM1048,2270l-14-1,2-1,15,1zM1034,2269l-14-2,1,0,15,1z />
<path color=#0a5d87 d=M802,2300l-7,11-8-1,7-9z />
<path color=#0a5078 d=M795,2311l-6,7-8-1,6-7zM789,2318l-5,5-9-1,6-5z />
<path color=#094669 d=M784,2323l-4,6-9-1,4-6zM780,2329l-3,5-9-1,3-5zM777,2334l-3,4-9,0,3-5zM774,2338l-1,5-9,0,1-5zM773,2343l0,5-10,0,1-5z />
<path color=#095278 d=M805,2311l-6,7-10,0,6-7z />
<path color=#0a5078 d=M799,2318l-5,6-10-1,5-5z />
<path color=#094669 d=M794,2324l-3,5-11,0,4-6zM791,2329l-4,5-10,0,3-5zM787,2334l-2,5-11-1,3-4zM785,2339l-1,4-11,0,1-5zM784,2343l-1,5-10,0,0-5z />
<path color=#0a5d87 d=M816,2309l-5,9-12,0,6-7z />
<path color=#095278 d=M811,2318l-5,6-12,0,5-6z />
<path color=#0a5078 d=M806,2324l-4,5-11,0,3-5z />
<path color=#094669 d=M802,2329l-2,5-13,0,4-5zM800,2334l-3,5-12,0,2-5zM797,2339l-1,4-12,0,1-4zM796,2343l0,5-13,0,1-5z />
<path color=#095278 d=M824,2318l-4,6-14,0,5-6zM820,2324l-4,5-14,0,4-5z />
<path color=#0a5078 d=M816,2329l-2,5-14,0,2-5z />
<path color=#094669 d=M814,2334l-2,5-15,0,3-5zM812,2339l-1,4-15,0,1-4zM811,2343l-1,4-14,1,0-5z />
<path color=#095278 d=M837,2324l-3,5-18,0,4-5zM834,2329l-2,5-18,0,2-5zM832,2334l-2,5-18,0,2-5z />
<path color=#094669 d=M830,2339l-1,4-18,0,1-4zM829,2343l-1,4-18,0,1-4z />
<path color=#095278 d=M855,2329l-2,5-21,0,2-5zM853,2334l-2,4-21,1,2-5zM851,2338l-1,4-21,1,1-4zM850,2342l0,4-22,1,1-4z />
<path color=#0a5d87 d=M878,2333l-2,5-25,0,2-4z />
<path color=#095278 d=M876,2338l0,3-26,1,1-4zM876,2341l-1,4-25,1,0-4z />
<path color=#0a5d87 d=M905,2339l-1,3-29,3,1-4z />
<path color=#0a5d87 d=M935,2347l3,4-27,6-4-4zM1027,2359l5-3,21,10-9,4z />
<path color=#095278 d=M938,2351l3,3-25,7-5-4zM941,2354l4,3-23,8-6-4zM945,2357l5,2-20,9-8-3zM950,2359l6,2-17,10-9-3zM956,2361l6,2-14,11-9-3zM962,2363l7,1-11,11-10-1zM969,2364l7,1-7,12-11-2zM976,2365l8,1-4,12-11-1zM984,2366l7,0,0,12-11,0zM991,2366l8-1,4,13-12,0zM999,2365l7,0,8,12-11,1zM1006,2365l8-2,11,12-11,2zM1014,2363l6-1,15,11-10,2zM1020,2362l7-3,17,11-9,3z />
<path color=#095278 d=M904,2342l1,3-29,3-1-3zM905,2345l0,3-29,3,0-3zM905,2348l1,2-28,4-2-3zM906,2350l1,3-28,4-1-3zM907,2353l2,2-27,5-3-3zM909,2355l2,2-27,5-2-2zM911,2357l2,2-26,6-3-3zM913,2359l3,2-25,6-4-2zM916,2361l3,2-24,7-4-3zM919,2363l3,2-23,7-4-2zM922,2365l4,2-22,7-5-2zM926,2367l4,1-21,8-5-2zM930,2368l4,2-19,8-6-2zM1030,2374l5-1,14,10-6,2zM1035,2373l5-2,16,11-7,1zM1040,2371l4-1,18,10-6,2zM1044,2370l5-2,19,10-6,2zM1049,2368l4-2,20,10-5,2zM1053,2366l4-2,22,9-6,3z />
<path color=#0a5078 d=M934,2370l5,1-18,9-6-2zM939,2371l4,1-16,10-6-2zM943,2372l5,2-15,9-6-1zM948,2374l5,1-13,10-7-2zM953,2375l5,0-11,11-7-1zM958,2375l6,1-10,11-7-1zM964,2376l5,1-8,11-7-1zM969,2377l5,0-5,11-8,0zM974,2377l6,1-4,11-7-1zM980,2378l6,0-2,11-8,0zM986,2378l5,0,0,11-7,0zM991,2378l6,0,2,11-8,0zM997,2378l6,0,4,11-8,0zM1003,2378l5-1,6,11-7,1zM1008,2377l6,0,7,11-7,0zM1014,2377l5-1,10,11-8,1zM1019,2376l6-1,11,11-7,1zM1025,2375l5-1,13,11-7,1z />
<path color=#0a5d87 d=M1057,2364l3-2,23,9-4,2zM1060,2362l4-3,24,9-5,3zM1064,2359l3-3,25,9-4,3z />
<path color=#095278 d=M875,2345l1,3-26,2,0-4zM876,2348l0,3-25,2-1-3zM876,2351l2,3-25,3-2-4zM878,2354l1,3-24,3-2-3zM1079,2373l4-2,21,7-6,3zM1083,2371l5-3,21,7-5,3z />
<path color=#074869 d=M879,2357l3,3-24,3-3-3zM882,2360l2,2-23,4-3-3z />
<path color=#094669 d=M884,2362l3,3-22,4-4-3zM887,2365l4,2-22,5-4-3zM891,2367l4,3-21,5-5-3zM895,2370l4,2-20,6-5-3zM899,2372l5,2-19,6-6-2zM904,2374l5,2-17,7-7-3zM909,2376l6,2-17,7-6-2zM915,2378l6,2-16,7-7-2zM921,2380l6,2-14,7-8-2zM927,2382l6,1-12,8-8-2zM933,2383l7,2-11,8-8-2zM940,2385l7,1-10,8-8-1zM947,2386l7,1-8,9-9-2zM954,2387l7,1-6,9-9-1zM961,2388l8,0-5,10-9-1zM999,2389l8,0,3,9-9,1zM1007,2389l7-1,5,10-9,0zM1014,2388l7,0,7,9-9,1zM1021,2388l8-1,8,9-9,1zM1029,2387l7-1,10,9-9,1zM1036,2386l7-1,11,8-8,2z />
<path color=#0a5078 d=M969,2388l7,1-3,9-9,0zM976,2389l8,0-2,10-9-1zM984,2389l7,0,0,10-9,0zM991,2389l8,0,2,10-10,0zM1043,2385l6-2,13,9-8,1zM1049,2383l7-1,14,8-8,2zM1056,2382l6-2,16,8-8,2zM1062,2380l6-2,17,8-7,2zM1068,2378l5-2,18,7-6,3zM1073,2376l6-3,19,8-7,2z />
<path color=#0a5d87 d=M1088,2368l4-3,22,6-5,4zM1092,2365l3-4,23,7-4,3zM1095,2361l4-4,23,6-4,5z />
<path color=#0a5078 d=M850,2346l0,4-21,1-1-4zM937,2394l9,2-7,8-10-2zM946,2396l9,1-6,9-10-2zM1001,2399l9-1,3,9-11,2zM1010,2398l9,0,4,8-10,1zM1091,2383l7-2,16,6-7,2zM1098,2381l6-3,17,6-7,3zM1104,2378l5-3,18,5-6,4zM1109,2375l5-4,19,6-6,3z />
<path color=#094669 d=M850,2350l1,3-21,2-1-4zM851,2353l2,4-21,1-2-3zM853,2357l2,3-21,2-2-4zM855,2360l3,3-21,3-3-4zM858,2363l3,3-20,3-4-3zM861,2366l4,3-20,4-4-4zM865,2369l4,3-19,4-5-3zM869,2372l5,3-18,4-6-3zM874,2375l5,3-17,4-6-3zM879,2378l6,2-16,5-7-3zM885,2380l7,3-16,5-7-3zM892,2383l6,2-14,6-8-3zM898,2385l7,2-13,6-8-2zM905,2387l8,2-12,6-9-2zM913,2389l8,2-11,7-9-3zM921,2391l8,2-10,7-9-2zM929,2393l8,1-8,8-10-2zM1019,2398l9-1,6,8-11,1zM1028,2397l9-1,7,7-10,2zM1037,2396l9-1,8,7-10,1zM1046,2395l8-2,10,7-10,2zM1054,2393l8-1,11,7-9,1zM1062,2392l8-2,12,7-9,2zM1070,2390l8-2,13,6-9,3zM1078,2388l7-2,14,6-8,2zM1085,2386l6-3,16,6-8,3z />
<path color=#0b5a87 d=M955,2397l9,1-4,10-11-2zM964,2398l9,0-3,12-10-2zM973,2398l9,1-1,12-11-1zM982,2399l9,0,0,11-10,1zM991,2399l10,0,1,10-11,1z />
<path color=#095278 d=M1114,2371l4-3,20,5-5,4z />
<path color=#0a5d87 d=M1118,2368l4-5,20,5-4,5zM1122,2363l3-5,21,5-4,5z />
<path color=#094669 d=M828,2347l1,4-18,1-1-5zM829,2351l1,4-18,1-1-4zM830,2355l2,3-18,2-2-4zM832,2358l2,4-18,2-2-4zM834,2362l3,4-17,2-4-4zM837,2366l4,3-17,3-4-4zM841,2369l4,4-16,2-5-3zM845,2373l5,3-15,3-6-4zM901,2395l9,3-9,5-10-2zM910,2398l9,2-8,6-10-3zM1034,2405l10-2,6,6-12,2zM1044,2403l10-1,7,6-11,1zM1054,2402l10-2,8,6-11,2zM1064,2400l9-1,9,5-10,2zM1073,2399l9-2,10,5-10,2zM1082,2397l9-3,11,6-10,2zM1091,2394l8-2,12,5-9,3zM1099,2392l8-3,13,5-9,3zM1107,2389l7-2,14,4-8,3zM1114,2387l7-3,14,4-7,3z />
<path color=#074869 d=M850,2376l6,3-15,4-6-4zM856,2379l6,3-14,4-7-3zM862,2382l7,3-14,4-7-3zM869,2385l7,3-13,4-8-3zM876,2388l8,3-12,4-9-3zM884,2391l8,2-11,5-9-3zM892,2393l9,2-10,6-10-3z />
<path color=#0a5078 d=M919,2400l10,2-7,7-11-3zM1023,2406l11-1,4,6-11,3zM1121,2384l6-4,15,5-7,3zM1127,2380l6-3,15,4-6,4zM1133,2377l5-4,16,4-6,4zM1138,2373l4-5,17,5-5,4z />
<path color=#0b5a87 d=M929,2402l10,2-6,9-11-4zM1013,2407l10-1,4,8-12,4z />
<path color=#0e6197 d=M939,2404l10,2-4,12-12-5zM949,2406l11,2-4,17-11-7zM1002,2409l11-2,2,11-12,6z />
<path color=#1067a7 d=M960,2408l10,2-2,20-12-5zM991,2410l11-1,1,15-12,5z />
<path color=#0f65a8 d=M970,2410l11,1-1,21-12-2zM981,2411l10-1,0,19-11,3z />
<path color=#0a5d87 d=M1142,2368l4-5,17,5-4,5zM1146,2363l3-6,17,5-3,6z />
<path color=#094669 d=M810,2347l1,5-15,0,0-4zM811,2352l1,4-15,1-1-5zM812,2356l2,4-14,1-3-4zM814,2360l2,4-14,1-2-4zM816,2364l4,4-14,1-4-4zM820,2368l4,4-13,1-5-4zM1050,2409l11-1,5,4-12,2zM1061,2408l11-2,6,4-12,2zM1072,2406l10-2,7,4-11,2zM1082,2404l10-2,8,4-11,2zM1092,2402l10-2,9,4-11,2zM1102,2400l9-3,9,4-9,3zM1111,2397l9-3,10,4-10,3zM1120,2394l8-3,11,4-9,3zM1128,2391l7-3,12,4-8,3zM1135,2388l7-3,12,3-7,4zM1142,2385l6-4,13,3-7,4z />
<path color=#074869 d=M824,2372l5,3-13,2-5-4zM829,2375l6,4-13,2-6-4zM835,2379l6,4-12,2-7-4zM841,2383l7,3-12,3-7-4zM848,2386l7,3-11,3-8-3zM855,2389l8,3-10,4-9-4zM863,2392l9,3-10,4-9-3zM872,2395l9,3-9,4-10-3zM881,2398l10,3-8,4-11-3zM891,2401l10,2-7,4-11-2z />
<path color=#0a5078 d=M901,2403l10,3-6,4-11-3zM1038,2411l12-2,4,5-12,3zM1148,2381l6-4,13,3-6,4zM1154,2377l5-4,13,3-5,4zM1159,2373l4-5,14,3-5,5z />
<path color=#0b5a87 d=M911,2406l11,3-5,6-12-5zM1027,2414l11-3,4,6-12,5zM1163,2368l3-6,14,3-3,6z />
<path color=#0e6197 d=M922,2409l11,4-4,10-12-8z />
<path color=#1067a7 d=M933,2413l12,5-4,16-12-11z />
<path color=#0e62aa d=M945,2418l11,7-3,24-12-15zM1003,2424l12-6,2,13-13,13z />
<path color=#085aae d=M956,2425l12,5-2,31-13-12z />
<path color=#0557af d=M968,2430l12,2-1,32-13-3zM980,2432l11-3,0,29-12,6z />
<path color=#0b5dad d=M991,2429l12-5,1,20-13,14z />
<path color=#0e5e98 d=M1015,2418l12-4,3,8-13,9z />
<path color=#0b6796 d=M1166,2362l3-8,14,4-3,7z />
<path color=#094669 d=M796,2348l0,4-12,1-1-5zM796,2352l1,5-12,0-1-4zM797,2357l3,4-13,1-2-5zM800,2361l2,4-11,1-4-4zM802,2365l4,4-12,2-3-5zM1054,2414l12-2,5,4-13,2zM1066,2412l12-2,5,4-12,2zM1078,2410l11-2,6,4-12,2zM1089,2408l11-2,7,3-12,3zM1100,2406l11-2,7,3-11,2zM1111,2404l9-3,9,3-11,3zM1120,2401l10-3,9,3-10,3zM1130,2398l9-3,9,3-9,3zM1139,2395l8-3,9,2-8,4zM1147,2392l7-4,10,3-8,3zM1154,2388l7-4,11,3-8,4zM1161,2384l6-4,11,3-6,4z />
<path color=#074869 d=M806,2369l5,4-12,2-5-4zM811,2373l5,4-11,2-6-4zM816,2377l6,4-11,2-6-4zM822,2381l7,4-10,2-8-4zM829,2385l7,4-10,2-7-4zM836,2389l8,3-9,3-9-4zM844,2392l9,4-9,2-9-3zM853,2396l9,3-8,3-10-4zM862,2399l10,3-7,3-11-3zM872,2402l11,3-7,3-11-3zM883,2405l11,2-7,4-11-3z />
<path color=#0a5078 d=M894,2407l11,3-6,5-12-4zM1042,2417l12-3,4,4-13,4zM1167,2380l5-4,12,2-6,5zM1172,2376l5-5,11,2-4,5z />
<path color=#0b5a87 d=M905,2410l12,5-5,6-13-6zM1177,2371l3-6,12,3-4,5z />
<path color=#0e5e98 d=M917,2415l12,8-4,9-13-11z />
<path color=#0e62aa d=M929,2423l12,11-3,17-13-19z />
<path color=#0354b0 d=M941,2434l12,15-2,25-13-23z />
<path color=#1a48b7 d=M953,2449l13,12-2,32-13-19z />
<path color=#293ca3 d=M966,2461l13,3-1,35-14-6z />
<path color=#253796 d=M979,2464l12-6,0,29-13,12z />
<path color=#044db0 d=M991,2458l13-14,1,22-14,21z />
<path color=#085aae d=M1004,2444l13-13,2,14-14,21z />
<path color=#0e5b99 d=M1017,2431l13-9,2,8-13,15z />
<path color=#0e6197 d=M1030,2422l12-5,3,5-13,8z />
<path color=#0a5d87 d=M1180,2365l3-7,12,3-3,7z />
<path color=#094669 d=M783,2348l1,5-11,0,0-5zM784,2353l1,4-11,1-1-5zM785,2357l2,5-10,0-3-4zM787,2362l4,4-11,1-3-5zM791,2366l3,5-10,1-4-5zM1058,2418l13-2,4,3-13,3zM1071,2416l12-2,5,3-13,2zM1083,2414l12-2,6,3-13,2zM1095,2412l12-3,6,3-12,3zM1107,2409l11-2,7,3-12,2zM1118,2407l11-3,7,3-11,3zM1129,2404l10-3,7,3-10,3zM1139,2401l9-3,8,2-10,4zM1148,2398l8-4,9,3-9,3zM1156,2394l8-3,9,2-8,4zM1164,2391l8-4,9,2-8,4zM1172,2387l6-4,10,2-7,4zM1178,2383l6-5,10,3-6,4z />
<path color=#074869 d=M794,2371l5,4-10,1-5-4zM799,2375l6,4-10,2-6-5zM805,2379l6,4-9,2-7-4zM811,2383l8,4-10,2-7-4zM819,2387l7,4-8,2-9-4zM826,2391l9,4-8,2-9-4zM835,2395l9,3-7,3-10-4zM844,2398l10,4-7,2-10-3zM854,2402l11,3-7,3-11-4zM865,2405l11,3-6,3-12-3zM876,2408l11,3-5,3-12-3z />
<path color=#0a5078 d=M887,2411l12,4-4,3-13-4zM1045,2422l13-4,4,4-14,5zM1184,2378l4-5,11,3-5,5zM1188,2373l4-5,11,2-4,6z />
<path color=#0b5a87 d=M899,2415l13,6-4,5-13-8zM1192,2368l3-7,11,3-3,6z />
<path color=#0e5e98 d=M912,2421l13,11-4,8-13-14z />
<path color=#0b5dad d=M925,2432l13,19-3,12-14-23z />
<path color=#0c48ae d=M938,2451l13,23-2,18-14-29z />
<path color=#2b2a7b d=M951,2474l13,19-1,24-14-25z />
<path color=#2a216a d=M964,2493l14,6-1,25-14-7zM978,2499l13-12,0,22-14,15z />
<path color=#28328d d=M991,2487l14-21,1,16-15,27z />
<path color=#0151b1 d=M1005,2466l14-21,1,10-14,27z />
<path color=#0c579c d=M1019,2445l13-15,2,6-14,19z />
<path color=#0d5788 d=M1032,2430l13-8,3,5-14,9z />
<path color=#0b6796 d=M1195,2361l3-9,10,3-2,9z />
<path color=#094669 d=M773,2348l0,5-9,0-1-5zM773,2353l1,5-9,0-1-5zM774,2358l3,4-9,1-3-5zM777,2362l3,5-9,0-3-4zM1062,2422l13-3,4,3-14,3zM1188,2385l6-4,8,1-6,4zM1194,2381l5-5,9,1-6,5z />
<path color=#074869 d=M780,2367l4,5-9,0-4-5zM784,2372l5,4-8,1-6-5zM789,2376l6,5-8,1-6-5zM795,2381l7,4-8,1-7-4zM802,2385l7,4-7,2-8-5zM809,2389l9,4-8,2-8-4zM818,2393l9,4-7,2-10-4zM827,2397l10,4-7,2-10-4zM837,2401l10,3-6,3-11-4zM847,2404l11,4-6,2-11-3zM858,2408l12,3-5,2-13-3zM870,2411l12,3-5,3-12-4z />
<path color=#0a5078 d=M882,2414l13,4-5,3-13-4zM1048,2427l14-5,3,3-14,5zM1199,2376l4-6,9,1-4,6zM1203,2370l3-6,9,1-3,6z />
<path color=#0b5a87 d=M895,2418l13,8-4,3-14-8zM1206,2364l2-9,10,2-3,8z />
<path color=#0d528a d=M908,2426l13,14-3,4-14-15z />
<path color=#044f9f d=M921,2440l14,23-3,6-14-25z />
<path color=#1d3790 d=M935,2463l14,29-2,8-15-31z />
<path color=#261e60 d=M949,2492l14,25-1,9-15-26zM977,2524l14-15,0,10-14,15z />
<path color=#2a216a d=M963,2517l14,7,0,10-15-8z />
<path color=#231f5e d=M991,2509l15-27,0,7-15,30z />
<path color=#033880 d=M1006,2482l14-27,1,5-15,29z />
<path color=#0b4e8c d=M1020,2455l14-19,2,4-15,20z />
<path color=#0c4b79 d=M1034,2436l14-9,3,3-15,10z />
<path color=#063e5a d=M1075,2419l13-2,4,3-13,2zM1088,2417l13-2,5,2-14,3z />
<path color=#083c5a d=M1101,2415l12-3,5,3-12,2zM1113,2412l12-2,5,2-12,3zM1125,2410l11-3,6,2-12,3zM1136,2407l10-3,7,2-11,3zM1146,2404l10-4,7,2-10,4zM1156,2400l9-3,8,1-10,4zM1165,2397l8-4,8,1-8,4zM1173,2393l8-4,8,1-8,4zM1181,2389l7-4,8,1-7,4z />
<path color=#063e5a d=M763,2348l1,5-8-5,0-5z />
<path color=#05334b d=M764,2353l1,5-7-4-2-6z />
<path color=#04293c d=M765,2358l3,5-8-4-2-5z />
<path color=#031f2d d=M768,2363l3,4-7-2-4-6zM771,2367l4,5-7-2-4-5zM775,2372l6,5-7-2-6-5zM781,2377l6,5-7-2-6-5zM787,2382l7,4-7-1-7-5zM794,2386l8,5-6-1-9-5zM802,2391l8,4-5-1-9-4zM810,2395l10,4-6,0-9-5zM820,2399l10,4-5,0-11-4zM830,2403l11,4-5,0-11-4zM841,2407l11,3-4,0-12-3zM852,2410l13,3-4,0-13-3zM865,2413l12,4-3-1-13-3zM877,2417l13,4-3-2-13-3zM1065,2425l14-3,3-1-15,2zM1079,2422l13-2,4-1-14,2zM1092,2420l14-3,3-1-13,3zM1106,2417l12-2,4-2-13,3zM1118,2415l12-3,5-2-13,3zM1130,2412l12-3,5-2-12,3zM1142,2409l11-3,5-3-11,4zM1153,2406l10-4,6-3-11,4zM1163,2402l10-4,5-4-9,5zM1173,2398l8-4,6-4-9,4zM1181,2394l8-4,6-5-8,5zM1189,2390l7-4,7-6-8,5zM1196,2386l6-4,7-7-6,5zM1202,2382l6-5,7-7-6,5zM1208,2377l4-6,7-6-4,5zM1212,2371l3-6,7-6-3,6zM1215,2365l3-8,7-3-3,5z />
<path color=#0a5d87 d=M890,2421l14,8-3-8-14-2z />
<path color=#0c71a5 d=M904,2429l14,15-2-21-15-2zM1036,2440l15-10,1-5-15,1z />
<path color=#0d7bb4 d=M918,2444l14,25-2-44-14-2zM932,2469l15,31-1-74-16-1zM947,2500l15,26-1-99-15-1zM962,2526l15,8-1-107-15,0zM977,2534l14-15,0-91-15-1zM991,2519l15-30,1-62-16,1zM1006,2489l15-29,1-33-15,0zM1021,2460l15-20,1-14-15,1z />
<path color=#095278 d=M1051,2430l14-5,2-2-15,2z />
<path stroke=#012 stroke-opacity=.5 stroke-width=1.5 fill=none d=M918,2444l-2-21M932,2469l-2-44M947,2500l-1-74M962,2526l-1-99M977,2534l-1-107M991,2519l0-91M1006,2489l1-62M1021,2460l1-33M1036,2440l1-14 />
<path color=#074869 fill-rule=evenodd d=M949,2458l363-100-278-130-363,100zM1178,2291l-9-4-11-4-11-4-12-3-13-4-13-3-13-2-14-2-15-2-15-2-15-1-15-1-15-1-16,0-15,0-15,1-15,1-16,1-14,2-15,2-14,2-13,2-13,3-13,4-12,3-11,4-11,4-9,4-9,5-9,4-7,5-6,5-6,6-4,5-4,5-2,6-2,5,0,6,0,5,2,6,2,5,4,6,4,5,6,5,6,5,7,5,9,5,9,4,9,5,11,4,11,4,12,3,13,3,13,3,13,3,14,2,15,2,14,2,16,1,15,1,15,0,15,1,16-1,15,0,15-1,15-1,15-2,15-2,14-2,13-3,13-3,13-3,12-3,11-4,11-4,9-5,9-4,8-5,8-5,6-5,6-5,4-5,3-6,3-5,2-6,0-5,0-6-2-5-3-6-3-5-4-5-6-6-6-5-8-5-8-4z />
<path color=#168c8a d=M1173,2241l-10,12,6,34,9,4z />
<path color=#068697 d=M1163,2253l-10,11,5,19,11,4z />
<path color=#047491 d=M1153,2264l-11,6,5,9,11,4z />
<path color=#045977 d=M1142,2270l-12,3,5,3,12,3z />
<path color=#02202d d=M1130,2273l-12,2,4-3,13,4zM991,2262l-14-6-1,2,15,0z />
<path color=#057094 d=M977,2256l-15-6-1,9,15-1z />
<path color=#05809f d=M962,2250l-15-9-1,19,15-1z />
<path color=#0792a5 d=M947,2241l-15-12-2,32,16-1z />
<path color=#189996 d=M932,2229l-14-20-2,54,14-2z />
<path color=#4ca278 d=M918,2209l-14-28-3,84,15-2z />
<path color=#9ba256 d=M904,2181l-14-40-3,126,14-2z />
<path color=#cd9f40 d=M890,2141l-13-22-3,150,13-2z />
<path color=#d7a137 d=M877,2119l-12,16-4,137,13-3z />
<path color=#c19f46 d=M865,2135l-13,16-4,125,13-4z />
<path color=#aea14e d=M852,2151l-11,14-5,114,12-3z />
<path color=#8e954f d=M841,2165l-11,15-5,103,11-4z />
<path color=#66965f d=M830,2180l-10,39-6,68,11-4z />
<path color=#218f82 d=M820,2219l-10,39-5,33,9-4z />
<path color=#046c7e d=M810,2258l-8,25-6,13,9-5z />
<path color=#02212d d=M802,2283l-8,18-7-1,9-4z />
<path color=#032528 d=M1220,2321l-1-37,8,53,0,6z />
<path color=#15291d d=M1219,2284l-1-51,7,99,2,5z />
<path color=#2a2814 d=M1218,2233l-3-41,7,134,3,6z />
<path color=#443515 d=M1215,2192l-3-14,7,143,3,5z />
<path color=#6c511c d=M1212,2178l-4-15,7,153,4,5z />
<path color=#90761a d=M1208,2163l-6-26,7,173,6,6z />
<path color=#9e8d16 d=M1202,2137l-6-6,7,174,6,5z />
<path color=#b68c27 d=M1196,2131l-7,39,6,130,8,5z />
<path color=#818748 d=M1189,2170l-8,42,6,84,8,4z />
<path color=#3e9472 d=M1181,2212l-8,29,5,50,9,5z />
<path color=#1c8e86 d=M1165,2237l-9,14,7,2,10-12z />
<path color=#067a89 d=M1156,2251l-10,10,7,3,10-11z />
<path color=#046982 d=M1146,2261l-10,6,6,3,11-6z />
<path color=#034e68 d=M1136,2267l-11,4,5,2,12-3z />
<path color=#04415a d=M1125,2271l-12,2,5,2,12-2z />
<path color=#02202d d=M1006,2265l-15-6,0,3,15,2z />
<path color=#022c3c d=M991,2259l-14-5,0,2,14,6z />
<path color=#02384a d=M977,2254l-14-7-1,3,15,6z />
<path color=#035364 d=M963,2247l-14-8-2,2,15,9z />
<path color=#06565e d=M949,2239l-14-13-3,3,15,12z />
<path color=#125a55 d=M935,2226l-14-18-3,1,14,20z />
<path color=#204432 d=M921,2208l-13-24-4-3,14,28z />
<path color=#252916 d=M908,2184l-13-30-5-13,14,40z />
<path color=#745d27 d=M895,2154l-13-18-5-17,13,22z />
<path color=#c19237 d=M882,2136l-12,8-5-9,12-16z />
<path color=#b19240 d=M870,2144l-12,13-6-6,13-16z />
<path color=#a09348 d=M858,2157l-11,15-6-7,11-14z />
<path color=#889551 d=M847,2172l-10,20-7-12,11-15zM1181,2180l-8,33,8-1,8-42z />
<path color=#5e9662 d=M837,2192l-10,34-7-7,10-39z />
<path color=#218f82 d=M827,2226l-9,33-8-1,10-39z />
<path color=#05849a d=M818,2259l-9,24-7,0,8-25z />
<path color=#057094 d=M809,2283l-7,17-8,1,8-18z />
<path color=#0e969e d=M1210,2318l0-33,9-1,1,37z />
<path color=#55a373 d=M1210,2285l-2-43,10-9,1,51z />
<path color=#94944d d=M1208,2242l-2-37,9-13,3,41z />
<path color=#b6913e d=M1206,2205l-3-20,9-7,3,14z />
<path color=#c59433 d=M1203,2185l-4-16,9-6,4,15z />
<path color=#c79e27 d=M1199,2169l-5-18,8-14,6,26z />
<path color=#a1871b d=M1194,2151l-6,1,8-21,6,6z />
<path color=#a1792a d=M1188,2152l-7,28,8-10,7-39z />
<path color=#46956e d=M1173,2213l-8,24,8,4,8-29z />
<path color=#218f82 d=M1156,2233l-8,12,8,6,9-14z />
<path color=#0c8991 d=M1148,2245l-9,9,7,7,10-10zM1199,2316l0-26,11-5,0,33z />
<path color=#05788c d=M1139,2254l-10,6,7,7,10-6z />
<path color=#047491 d=M1129,2260l-11,4,7,7,11-4z />
<path color=#047293 d=M1118,2264l-11,2,6,7,12-2z />
<path color=#066d95 d=M1107,2266l-12,1,6,8,12-2z />
<path color=#056286 d=M1095,2267l-12,1,5,7,13,0zM1019,2261l-14-4,1,8,14,2zM1005,2257l-14-4,0,6,15,6z />
<path color=#075f87 d=M1083,2268l-12,0,4,5,13,2zM1032,2263l-13-2,1,6,14,2z />
<path color=#075578 d=M1071,2268l-13-1,4,5,13,1zM1058,2267l-13-2,3,5,14,2zM1045,2265l-13-2,2,6,14,1z />
<path color=#046784 d=M991,2253l-13-5-1,6,14,5z />
<path color=#046982 d=M978,2248l-14-6-1,5,14,7z />
<path color=#056e7c d=M964,2242l-13-9-2,6,14,8z />
<path color=#0a7077 d=M951,2233l-13-11-3,4,14,13z />
<path color=#18685f d=M938,2222l-13-14-4,0,14,18z />
<path color=#15291d d=M925,2208l-13-17-4-7,13,24z />
<path color=#222918 d=M912,2191l-13-18-4-19,13,30z />
<path color=#918641 d=M899,2173l-12-9-5-28,13,18z />
<path color=#a69345 d=M887,2164l-11,3-6-23,12-8z />
<path color=#a09348 d=M876,2167l-11,10-7-20,12-13zM1195,2229l-3-22,11-22,3,20z />
<path color=#8e954f d=M865,2177l-11,15-7-20,11-15z />
<path color=#749659 d=M854,2192l-10,20-7-20,10-20z />
<path color=#4e956a d=M844,2212l-9,26-8-12,10-34zM1164,2215l-8,18,9,4,8-24z />
<path color=#1c8e86 d=M835,2238l-9,25-8-4,9-33z />
<path color=#05849a d=M826,2263l-7,20-10,0,9-24z />
<path color=#057094 d=M819,2283l-8,16-9,1,7-17z />
<path color=#086a96 d=M811,2299l-6,12-10,0,7-11z />
<path color=#3e9472 d=M1199,2290l-1-32,10-16,2,43z />
<path color=#7b9657 d=M1198,2258l-3-29,11-24,2,37z />
<path color=#b19240 d=M1192,2207l-4-16,11-22,4,16z />
<path color=#c19237 d=M1188,2191l-4-10,10-30,5,18z />
<path color=#8c6a28 d=M1184,2181l-6,1,10-30,6-1z />
<path color=#2f2812 d=M1178,2182l-6,14,9-16,7-28z />
<path color=#76884c d=M1172,2196l-8,19,9-2,8-33z />
<path color=#2a856f d=M1147,2232l-8,9,9,4,8-12z />
<path color=#19817a d=M1139,2241l-9,7,9,6,9-9z />
<path color=#0b7d84 d=M1130,2248l-10,5,9,7,10-6z />
<path color=#067a89 d=M1120,2253l-9,4,7,7,11-4z />
<path color=#046a80 d=M1111,2257l-11,2,7,7,11-2z />
<path color=#046982 d=M1100,2259l-11,1,6,7,12-1z />
<path color=#046784 d=M1089,2260l-11,1,5,7,12-1zM1078,2261l-12,0,5,7,12,0zM1030,2257l-13-3,2,7,13,2zM1017,2254l-13-3,1,6,14,4z />
<path color=#046585 d=M1066,2261l-12-1,4,7,13,1zM1054,2260l-12-1,3,6,13,2zM1042,2259l-12-2,2,6,13,2z />
<path color=#035d74 d=M1004,2251l-13-4,0,6,14,4z />
<path color=#035f72 d=M991,2247l-12-4-1,5,13,5z />
<path color=#05616e d=M979,2243l-13-6-2,5,14,6z />
<path color=#096469 d=M966,2237l-13-8-2,4,13,9z />
<path color=#0e5958 d=M953,2229l-12-8-3,1,13,11z />
<path color=#0d2821 d=M941,2221l-12-11-4-2,13,14z />
<path color=#15291d d=M929,2210l-12-10-5-9,13,17z />
<path color=#465f3b d=M917,2200l-12-9-6-18,13,18z />
<path color=#76884c d=M905,2191l-11-4-7-23,12,9z />
<path color=#889551 d=M894,2187l-11,3-7-23,11-3z />
<path color=#829554 d=M883,2190l-11,9-7-22,11-10z />
<path color=#6d965c d=M872,2199l-10,13-8-20,11-15z />
<path color=#569666 d=M862,2212l-9,17-9-17,10-20zM1185,2271l-2-23,12-19,3,29z />
<path color=#369376 d=M853,2229l-9,19-9-10,9-26z />
<path color=#168c8a d=M844,2248l-8,19-10-4,9-25z />
<path color=#05849a d=M836,2267l-7,17-10-1,7-20z />
<path color=#047293 d=M829,2284l-7,14-11,1,8-16z />
<path color=#066d95 d=M822,2298l-6,11-11,2,6-12z />
<path color=#0c8991 d=M1187,2316l0-21,12-5,0,26z />
<path color=#2f927a d=M1187,2295l-2-24,13-13,1,32z />
<path color=#7b9657 d=M1183,2248l-3-19,12-22,3,22z />
<path color=#94944d d=M1180,2229l-3-14,11-24,4,16z />
<path color=#a09348 d=M1177,2215l-5-9,12-25,4,10z />
<path color=#746b34 d=M1172,2206l-5-1,11-23,6-1z />
<path color=#272916 d=M1167,2205l-6,6,11-15,6-14z />
<path color=#3f5231 d=M1161,2211l-7,10,10-6,8-19z />
<path color=#478860 d=M1154,2221l-7,11,9,1,8-18z />
<path color=#225d4b d=M1135,2235l-7,5,11,1,8-9z />
<path color=#18685f d=M1128,2240l-8,5,10,3,9-7z />
<path color=#106664 d=M1120,2245l-9,3,9,5,10-5z />
<path color=#096469 d=M1111,2248l-9,3,9,6,9-4z />
<path color=#06636c d=M1102,2251l-10,2,8,6,11-2z />
<path color=#05616e d=M1092,2253l-10,1,7,6,11-1z />
<path color=#046070 d=M1082,2254l-10,1,6,6,11-1z />
<path color=#035462 d=M1072,2255l-11,0,5,6,12,0zM1027,2251l-12-2,2,5,13,3zM1015,2249l-12-3,1,5,13,3z />
<path color=#035364 d=M1061,2255l-11-1,4,6,12,1zM1050,2254l-12-1,4,6,12,1zM1038,2253l-11-2,3,6,12,2z />
<path color=#034952 d=M1003,2246l-12-3,0,4,13,4z />
<path color=#054a51 d=M991,2243l-11-4-1,4,12,4z />
<path color=#053235 d=M980,2239l-12-5-2,3,13,6z />
<path color=#062626 d=M968,2234l-12-5-3,0,13,8z />
<path color=#092724 d=M956,2229l-11-7-4-1,12,8z />
<path color=#0d2821 d=M945,2222l-12-6-4-6,12,11z />
<path color=#193628 d=M933,2216l-11-5-5-11,12,10z />
<path color=#477b53 d=M922,2211l-11-4-6-16,12,9z />
<path color=#66965f d=M911,2207l-10,0-7-20,11,4zM901,2207l-10,4-8-21,11-3z />
<path color=#5e9662 d=M891,2211l-10,8-9-20,11-9z />
<path color=#4e956a d=M881,2219l-9,11-10-18,10-13z />
<path color=#369376 d=M872,2230l-9,14-10-15,9-17z />
<path color=#218f82 d=M863,2244l-8,14-11-10,9-19z />
<path color=#0c8991 d=M855,2258l-7,15-12-6,8-19z />
<path color=#05849a d=M848,2273l-7,13-12-2,7-17z />
<path color=#047293 d=M841,2286l-6,12-13,0,7-14z />
<path color=#066d95 d=M835,2298l-6,11-13,0,6-11z />
<path color=#086a96 d=M829,2309l-5,9-13,0,5-9z />
<path color=#098894 d=M1173,2316l-1-17,15-4,0,21z />
<path color=#1c8e86 d=M1172,2299l-1-17,14-11,2,24z />
<path color=#3e9472 d=M1171,2282l-2-18,14-16,2,23z />
<path color=#569666 d=M1169,2264l-3-15,14-20,3,19z />
<path color=#6d965c d=M1166,2249l-3-12,14-22,3,14z />
<path color=#7b9657 d=M1163,2237l-4-8,13-23,5,9z />
<path color=#657a47 d=M1159,2229l-5-4,13-20,5,1z />
<path color=#202918 d=M1154,2225l-6,1,13-15,6-6z />
<path color=#1c291a d=M1148,2226l-6,3,12-8,7-10z />
<path color=#1c3626 d=M1142,2229l-7,6,12-3,7-11z />
<path color=#0f2820 d=M1121,2242l-7,1,14-3,7-5z />
<path color=#0d2821 d=M1114,2243l-7,2,13,0,8-5z />
<path color=#092724 d=M1107,2245l-8,2,12,1,9-3z />
<path color=#082725 d=M1099,2247l-8,1,11,3,9-3zM970,2235l-10-3-4-3,12,5z />
<path color=#052627 d=M1091,2248l-9,2,10,3,10-2zM1082,2250l-9,0,9,4,10-1zM991,2241l-10-3-1,1,11,4z />
<path color=#032528 d=M1073,2250l-9,0,8,5,10-1zM1013,2245l-11-2,1,3,12,3zM1002,2243l-11-2,0,2,12,3z />
<path color=#022528 d=M1064,2250l-10,0,7,5,11,0zM1054,2250l-10,0,6,4,11,1zM1044,2250l-10-1,4,4,12,1zM1034,2249l-11-2,4,4,11,2zM1023,2247l-10-2,2,4,12,2z />
<path color=#062626 d=M981,2238l-11-3-2-1,12,5z />
<path color=#0b2722 d=M960,2232l-11-3-4-7,11,7z />
<path color=#154238 d=M949,2229l-10-3-6-10,12,6z />
<path color=#2d6c53 d=M939,2226l-10-1-7-14,11,5z />
<path color=#3f8764 d=M929,2225l-10,0-8-18,11,4z />
<path color=#46956e d=M919,2225l-9,2-9-20,10,0zM910,2227l-9,5-10-21,10-4zM1149,2267l-3-10,17-20,3,12z />
<path color=#3e9472 d=M901,2232l-9,7-11-20,10-8z />
<path color=#2f927a d=M892,2239l-8,9-12-18,9-11z />
<path color=#218f82 d=M884,2248l-8,10-13-14,9-14z />
<path color=#168c8a d=M876,2258l-7,11-14-11,8-14zM1154,2305l-1-13,18-10,1,17z />
<path color=#098894 d=M869,2269l-7,11-14-7,7-15zM1155,2317l-1-12,18-6,1,17z />
<path color=#05849a d=M862,2280l-6,10-15-4,7-13z />
<path color=#047491 d=M856,2290l-6,10-15-2,6-12z />
<path color=#057094 d=M850,2300l-5,9-16,0,6-11z />
<path color=#066d95 d=M845,2309l-4,8-17,1,5-9z />
<path color=#075f87 d=M841,2317l-4,7-17,0,4-6z />
<path color=#28917e d=M1153,2292l-2-13,18-15,2,18z />
<path color=#369376 d=M1151,2279l-2-12,17-18,3,15z />
<path color=#569666 d=M1146,2257l-4-8,17-20,4,8z />
<path color=#568859 d=M1142,2249l-4-5,16-19,5,4z />
<path color=#3f6d4a d=M1138,2244l-5-2,15-16,6-1z />
<path color=#1c3626 d=M1133,2242l-6-1,15-12,6-3z />
<path color=#13291e d=M1127,2241l-6,1,14-7,7-6z />
<path color=#154238 d=M1104,2253l-6-1,16-9,7-1z />
<path color=#0d2821 d=M1098,2252l-7-1,16-6,7-2z />
<path color=#0b2722 d=M1091,2251l-6,0,14-4,8-2z />
<path color=#092724 d=M1085,2251l-7,0,13-3,8-1z />
<path color=#082725 d=M1078,2251l-8,0,12-1,9-2zM1070,2251l-8,0,11-1,9,0zM991,2244l-9-2-1-4,10,3zM982,2242l-9-1-3-6,11,3z />
<path color=#062626 d=M1062,2251l-8-1,10,0,9,0zM1054,2250l-8,0,8,0,10,0zM1019,2247l-9-1,3-1,10,2zM1010,2246l-9-1,1-2,11,2zM1001,2245l-10-1,0-3,11,2z />
<path color=#052627 d=M1046,2250l-9-1,7,1,10,0zM1037,2249l-9-1,6,1,10,1zM1028,2248l-9-1,4,0,11,2z />
<path color=#124e47 d=M973,2241l-9-1-4-8,10,3z />
<path color=#1d695c d=M964,2240l-9,0-6-11,11,3z />
<path color=#217667 d=M955,2240l-9,0-7-14,10,3z />
<path color=#2a856f d=M946,2240l-9,1-8-16,10,1zM937,2241l-8,2-10-18,10,0zM929,2243l-8,4-11-20,9-2z />
<path color=#28917e d=M921,2247l-8,4-12-19,9-5zM913,2251l-8,6-13-18,9-7zM1128,2282l-3-8,21-17,3,10z />
<path color=#1c8e86 d=M905,2257l-7,7-14-16,8-9z />
<path color=#168c8a d=M898,2264l-6,7-16-13,8-10zM1132,2300l-2-9,21-12,2,13z />
<path color=#0c8991 d=M892,2271l-7,8-16-10,7-11zM1132,2310l0-10,21-8,1,13z />
<path color=#068697 d=M885,2279l-6,8-17-7,7-11zM1133,2319l-1-9,22-5,1,12z />
<path color=#05829d d=M879,2287l-5,8-18-5,6-10z />
<path color=#047491 d=M874,2295l-5,8-19-3,6-10z />
<path color=#047293 d=M869,2303l-4,7-20-1,5-9z />
<path color=#066d95 d=M865,2310l-4,7-20,0,4-8z />
<path color=#086a96 d=M861,2317l-3,6-21,1,4-7z />
<path color=#075f87 d=M858,2323l-3,6-21,0,3-5z />
<path color=#218f82 d=M1130,2291l-2-9,21-15,2,12z />
<path color=#369376 d=M1125,2274l-3-6,20-19,4,8z />
<path color=#31866b d=M1122,2268l-4-6,20-18,4,5z />
<path color=#388667 d=M1118,2262l-4-4,19-16,5,2z />
<path color=#32795d d=M1114,2258l-5-3,18-14,6,1z />
<path color=#225d4b d=M1109,2255l-5-2,17-11,6-1z />
<path color=#217667 d=M1083,2268l-4-2,19-14,6,1zM1088,2271l-5-3,21-15,5,2z />
<path color=#18685f d=M1079,2266l-6-2,18-13,7,1zM1073,2264l-5-2,17-11,6,0z />
<path color=#155b53 d=M1068,2262l-6-1,16-10,7,0zM1062,2261l-6-2,14-8,8,0z />
<path color=#0f4d49 d=M1056,2259l-7-1,13-7,8,0zM1049,2258l-6,0,11-8,8,1zM1029,2256l-8-1,7-7,9,1zM1021,2255l-7,0,5-8,9,1zM1014,2255l-7-1,3-8,9,1z />
<path color=#0d403d d=M1043,2258l-7-1,10-7,8,0zM1036,2257l-7-1,8-7,9,1z />
<path color=#125a55 d=M1007,2254l-8,0,2-9,9,1zM999,2254l-8,0,0-10,10,1z />
<path color=#146762 d=M991,2254l-7,0-2-12,9,2zM984,2254l-8,0-3-13,9,1z />
<path color=#17746e d=M976,2254l-7,1-5-15,9,1z />
<path color=#1b756b d=M969,2255l-8,1-6-16,9,0z />
<path color=#1e8277 d=M961,2256l-7,1-8-17,9,0zM954,2257l-7,2-10-18,9-1zM1099,2284l-4-5,23-17,4,6zM1095,2279l-3-4,22-17,4,4z />
<path color=#19817a d=M947,2259l-7,3-11-19,8-2zM940,2262l-7,3-12-18,8-4zM1101,2289l-2-5,23-16,3,6z />
<path color=#168c8a d=M933,2265l-6,4-14-18,8-4zM927,2269l-6,5-16-17,8-6zM1103,2295l-2-6,24-15,3,8z />
<path color=#118b8d d=M921,2274l-6,5-17-15,7-7zM1105,2302l-2-7,25-13,2,9z />
<path color=#098894 d=M915,2279l-6,6-17-14,6-7z />
<path color=#068697 d=M909,2285l-5,5-19-11,7-8zM1107,2315l-1-7,26-8,0,10z />
<path color=#05788c d=M904,2290l-5,6-20-9,6-8z />
<path color=#04768e d=M899,2296l-4,6-21-7,5-8z />
<path color=#047491 d=M895,2302l-4,5-22-4,5-8z />
<path color=#047293 d=M891,2307l-4,6-22-3,4-7z />
<path color=#057094 d=M887,2313l-3,5-23-1,4-7z />
<path color=#066d95 d=M884,2318l-2,5-24,0,3-6z />
<path color=#086a96 d=M882,2323l-3,5-24,1,3-6z />
<path color=#075f87 d=M879,2328l-1,5-25,1,2-5z />
<path color=#05849a d=M1107,2322l0-7,25-5,1,9z />
<path color=#0c8991 d=M1106,2308l-1-6,25-11,2,9z />
<path color=#248373 d=M1092,2275l-4-4,21-16,5,3z />
<path color=#14807d d=M1060,2285l-3-2,22-17,4,2zM1057,2283l-4-2,20-17,6,2zM1053,2281l-4-2,19-17,5,2zM991,2271l-5,1-2-18,7,0zM986,2272l-6,1-4-19,8,0zM980,2273l-6,1-5-19,7-1zM974,2274l-5,1-8-19,8-1zM1067,2291l-3-3,24-17,4,4zM1064,2288l-4-3,23-17,5,3z />
<path color=#127371 d=M1049,2279l-5-2,18-16,6,1zM1044,2277l-4-2,16-16,6,2zM1040,2275l-5-1,14-16,7,1zM1035,2274l-5-1,13-15,6,0zM1030,2273l-5-1,11-15,7,1zM1025,2272l-6,0,10-16,7,1zM1019,2272l-5-1,7-16,8,1zM1014,2271l-6,0,6-16,7,0zM1008,2271l-5,0,4-17,7,1zM1003,2271l-6,0,2-17,8,0zM997,2271l-6,0,0-17,8,0z />
<path color=#0f7e81 d=M969,2275l-5,2-10-20,7-1zM964,2277l-6,2-11-20,7-2zM958,2279l-5,3-13-20,7-3zM1072,2299l-3-4,26-16,4,5zM1069,2295l-2-4,25-16,3,4z />
<path color=#0b7d84 d=M953,2282l-5,2-15-19,7-3zM948,2284l-5,3-16-18,6-4zM1074,2303l-2-4,27-15,2,5z />
<path color=#087b87 d=M943,2287l-4,4-18-17,6-5zM1077,2311l-2-4,28-12,2,7zM1075,2307l-1-4,27-14,2,6z />
<path color=#067a89 d=M939,2291l-5,3-19-15,6-5zM934,2294l-4,4-21-13,6-6zM1078,2315l-1-4,28-9,1,6z />
<path color=#05788c d=M930,2298l-4,3-22-11,5-5zM1078,2320l0-5,28-7,1,7z />
<path color=#04768e d=M926,2301l-4,4-23-9,5-6zM1078,2324l0-4,29-5,0,7z />
<path color=#047491 d=M922,2305l-3,4-24-7,4-6zM919,2309l-3,4-25-6,4-5z />
<path color=#047293 d=M916,2313l-3,4-26-4,4-6z />
<path color=#057094 d=M913,2317l-2,4-27-3,3-5zM911,2321l-2,4-27-2,2-5z />
<path color=#066d95 d=M909,2325l-2,3-28,0,3-5zM907,2328l-1,4-28,1,1-5z />
<path color=#075f87 d=M906,2332l-1,4-29,2,2-5zM905,2336l0,3-29,2,0-3z />
<path color=#087b87 d=M1037,2302l-5-3,21-18,7,4zM984,2293l-8,2-7-20,11-2zM976,2295l-7,3-11-19,11-4zM1042,2306l-5-4,23-17,7,6z />
<path color=#0b7d84 d=M1032,2299l-5-3,17-19,9,4zM1027,2296l-7-2,15-20,9,3zM1020,2294l-6-2,11-20,10,2zM1014,2292l-8-1,8-20,11,1zM1006,2291l-7,0,4-20,11,0zM999,2291l-8,1,0-21,12,0zM991,2292l-7,1-4-20,11-2z />
<path color=#067a89 d=M969,2298l-7,3-14-17,10-5zM1045,2311l-3-5,25-15,5,8z />
<path color=#05788c d=M962,2301l-6,4-17-14,9-7zM1047,2316l-2-5,27-12,3,8z />
<path color=#04768e d=M956,2305l-6,5-20-12,9-7zM1049,2322l-2-6,28-9,3,8z />
<path color=#047491 d=M950,2310l-5,4-23-9,8-7zM945,2314l-4,5-25-6,6-8zM1049,2327l0-5,29-7,0,9z />
<path color=#047293 d=M941,2319l-3,5-27-3,5-8z />
<path color=#057094 d=M938,2324l-3,5-28-1,4-7z />
<path color=#066d95 d=M935,2329l-1,5-29,2,2-8z />
<path color=#075f87 d=M934,2334l-1,5-29,3,1-6z />
<path color=#05788c d=M1014,2318l-2-2,20-17,5,3zM1012,2316l-3-1,18-19,5,3zM1009,2315l-3-1,14-20,7,2zM1006,2314l-3-1,11-21,6,2zM1003,2313l-4,0,7-22,8,1zM999,2313l-4-1,4-21,7,0zM995,2312l-4,1,0-21,8-1zM991,2313l-3,0-4-20,7-1zM988,2313l-4,1-8-19,8-2z />
<path color=#04768e d=M984,2314l-4,2-11-18,7-3zM980,2316l-3,1-15-16,7-3zM1019,2325l-1-3,27-11,2,5zM1018,2322l-1-2,25-14,3,5zM1017,2320l-3-2,23-16,5,4z />
<path color=#047491 d=M977,2317l-3,2-18-14,6-4zM974,2319l-3,2-21-11,6-5zM971,2321l-3,2-23-9,5-4zM1020,2330l0-3,29-5,0,5zM1020,2327l-1-2,28-9,2,6z />
<path color=#047293 d=M968,2323l-2,3-25-7,4-5zM966,2326l-1,2-27-4,3-5z />
<path color=#057094 d=M965,2328l-2,3-28-2,3-5zM963,2331l0,2-29,1,1-5z />
<path color=#066d95 d=M963,2333l-1,2-29,4,1-5z />
<path color=#047491 d=M991,2333l18-18,5,3zM991,2333l12-20,6,2zM991,2333l4-21,8,1zM991,2333l-3-20,7-1zM991,2333l-11-17,8-3z />
<path color=#047293 d=M991,2333l-17-14,6-3zM991,2333l-23-10,6-4zM991,2333l27-11,2,5zM991,2333l23-15,4,4z />
<path color=#057094 d=M991,2333l-26-5,3-5zM991,2333l-28,0,2-5zM991,2333l-28,5,0-5z />
<path color=#066d95 d=M991,2333l-26,9-2-4zM991,2333l-23,13-3-4zM991,2333l-17,15-6-2zM991,2333l-11,17-6-2zM991,2333l-3,18-8-1zM991,2333l4,17-7,1zM991,2333l12,16-8,1zM991,2333l18,13-6,3zM991,2333l23,9-5,4z />
<path color=#057094 d=M991,2333l27,4-4,5zM991,2333l29-1-2,5z />
<path color=#047293 d=M991,2333l29-6,0,5z />
<path color=#056286 d=M962,2335l1,3-29,5-1-4z />
<path color=#075f87 d=M963,2338l0,2-28,7-1-4zM963,2340l2,2-27,9-3-4zM965,2342l1,2-25,10-3-3zM966,2344l2,2-23,11-4-3zM968,2346l3,1-21,12-5-2zM971,2347l3,1-18,13-6-2zM974,2348l3,1-15,14-6-2zM977,2349l3,1-11,14-7-1zM984,2351l4,0-4,15-8-1zM988,2351l3,0,0,15-7,0zM991,2351l4-1,4,15-8,1zM995,2350l4,0,7,15-7,0zM999,2350l4-1,11,14-8,2zM1003,2349l3-2,14,15-6,1zM1006,2347l3-1,18,13-7,3z />
<path color=#0a5d87 d=M980,2350l4,1-8,14-7-1z />
<path color=#086a96 d=M1009,2346l3-2,20,12-5,3z />
<path color=#066d95 d=M1012,2344l2-2,23,10-5,4zM1014,2342l3-2,25,8-5,4z />
<path color=#057094 d=M1017,2340l1-3,27,6-3,5zM1018,2337l1-2,28,3-2,5zM1019,2335l1-3,29,1-2,5z />
<path color=#047293 d=M1020,2332l0-2,29-3,0,6z />
<path color=#075f87 d=M933,2339l1,4-29,5-1-6zM934,2343l1,4-28,6-2-5zM1032,2356l5-4,23,10-7,4z />
<path color=#086a96 d=M1037,2352l5-4,25,8-7,6z />
<path color=#066d95 d=M1042,2348l3-5,27,6-5,7z />
<path color=#057094 d=M1045,2343l2-5,28,4-3,7z />
<path color=#047293 d=M1047,2338l2-5,29,0-3,9zM1049,2333l0-6,29-3,0,9z />
<path color=#075f87 d=M1067,2356l2-3,26,8-3,4z />
<path color=#086a96 d=M1069,2353l3-4,27,8-4,4z />
<path color=#066d95 d=M1072,2349l2-4,27,7-2,5zM1074,2345l1-3,28,4-2,6z />
<path color=#057094 d=M1075,2342l2-5,28,4-2,5z />
<path color=#047293 d=M1077,2337l1-4,28,2-1,6zM1078,2333l0-4,29-1-1,7z />
<path color=#047491 d=M1078,2329l0-5,29-2,0,6z />
<path color=#086a96 d=M1099,2357l2-5,24,6-3,5z />
<path color=#066d95 d=M1101,2352l2-6,25,5-3,7z />
<path color=#057094 d=M1103,2346l2-5,25,3-2,7zM1105,2341l1-6,26,2-2,7z />
<path color=#047491 d=M1106,2335l1-7,25,0,0,9z />
<path color=#05829d d=M1107,2328l0-6,26-3-1,9z />
<path color=#086a96 d=M1125,2358l3-7,21,6-3,6z />
<path color=#066d95 d=M1128,2351l2-7,21,5-2,8z />
<path color=#057094 d=M1130,2344l2-7,21,2-2,10z />
<path color=#057ea1 d=M1132,2337l0-9,22,1-1,10z />
<path color=#05829d d=M1132,2328l1-9,22-2-1,12z />
<path color=#086a96 d=M1149,2357l2-8,18,5-3,8z />
<path color=#0778a4 d=M1151,2349l2-10,18,4-2,11z />
<path color=#057ea1 d=M1153,2339l1-10,18,1-1,13z />
<path color=#05829d d=M1154,2329l1-12,18-1-1,14z />
<path color=#0975a5 d=M1169,2354l2-11,14,4-2,11z />
<path color=#057ba3 d=M1171,2343l1-13,15,3-2,14z />
<path color=#05829d d=M1172,2330l1-14,14,0,0,17z />
<path color=#086a96 d=M1183,2358l2-11,13,5-3,9z />
<path color=#057ba3 d=M1185,2347l2-14,12,3-1,16z />
<path color=#05829d d=M1187,2333l0-17,12,0,0,20z />
<path color=#0778a4 d=M1198,2352l1-16,11,5-2,14z />
<path color=#05809f d=M1199,2336l0-20,11,2,0,23z />
<path color=#0975a5 d=M1208,2355l2-14,9,3-1,13z />
<path color=#057ea1 d=M1210,2341l0-23,10,3-1,23z />
<path color=#074869 d=M1218,2357l1-13,8,4-2,6z />
<path color=#031f2d d=M1219,2344l1-23,7,22,0,5z /></g></g>
<g><path class="g" d="M411.3,513.6L337.4,479L337.4,403.5M435.3,506.9L361.5,472.4L361.5,396.9M459.4,500.3L385.5,465.7L385.5,390.2M368.8,511.6L464.9,485L464.9,409.5M350.3,502.9L446.5,476.4L446.5,400.9M331.9,494.3L428,467.7L428,392.2M313.4,460.5L409.6,433.9L483.4,468.5M313.4,435.3L409.6,408.8L483.4,443.3M313.4,410.1L409.6,383.6L483.4,418.2M409.6,459.1L409.6,383.6M313.4,485.6L409.6,459.1L483.4,493.7M483.4,493.7L483.4,418.2"/>
<path class="a" d="M313.4,410.1L313.4,485.6L387.2,520.2L483.4,493.7M387.2,520.2L385.6,520.7M368.8,511.6L367.1,512M350.3,502.9L348.7,503.4M331.9,494.3L330.2,494.7M313.4,485.6L311.8,486.1M387.2,520.2L388.7,520.9M411.3,513.6L412.8,514.3M435.3,506.9L436.8,507.7M459.4,500.3L460.9,501M313.4,485.6L311.7,485.6M313.4,460.5L311.7,460.5M313.4,435.3L311.7,435.3M313.4,410.1L311.7,410.1"/><g transform="scale(.2)" fill="currentColor" stroke="currentColor" stroke-width="2" stroke-linejoin="round"><path color=#066d95 d=M2171,2303l-10-4,6-6,10,4zM2161,2299l-11-4,6-7,11,5zM2150,2295l-11-3,5-8,12,4zM1950,2271l-15-2-2-5,16-1zM2196,2317l-8-4,7-6,7,5zM2188,2313l-8-5,6-6,9,5zM2180,2308l-9-5,6-6,9,5z />
<path color=#0975a5 d=M2139,2292l-12-4,4-7,13,3zM2127,2288l-13-3,4-8,13,4zM2114,2285l-13-3,4-8,13,3zM2101,2282l-14-2,3-8,15,2zM2087,2280l-14-2,3-9,14,3zM2073,2278l-15-2,3-9,15,2zM2058,2276l-15-1,2-9,16,1zM2043,2275l-15-1,2-10,15,2zM2028,2274l-15-1,1-10,16,1zM2013,2273l-16,0,1-10,16,0zM1997,2273l-15-1,0-9,16,0zM1982,2272l-16,0-1-9,17,0zM1966,2272l-16-1-1-8,16,0z />
<path color=#056286 d=M1767,2316l-6,7-7-6,7-5zM2216,2339l-4-6,7-5,4,6zM2212,2333l-4-5,7-5,4,5zM2208,2328l-6-6,7-5,6,6zM2202,2322l-6-5,6-5,7,5z />
<path color=#075f87 d=M1761,2323l-6,7-7-7,6-6zM1755,2330l-4,6-7-8,4-5z />
<path color=#075578 d=M1751,2336l-4,7-7-9,4-6zM1747,2343l-2,6-8-10,3-5z />
<path color=#063e5a d=M1745,2349l-2,5-7-9,1-6z />
<path color=#05334b d=M1743,2354l0,6-8-9,1-6z />
<path color=#044c68 d=M2220,2355l0-5,7-5,1,6z />
<path color=#055777 d=M2220,2350l-2-6,8-5,1,6zM2218,2344l-2-5,7-5,3,5z />
<path color=#055777 d=M2163,2306l-9-4,7-3,10,4zM2154,2302l-11-4,7-3,11,4zM1776,2315l-6,8-9,0,6-7zM1770,2323l-5,7-10,0,6-7zM2210,2356l0-6,10,0,0,5zM2210,2350l-2-5,10-1,2,6zM2208,2345l-2-5,10-1,2,5zM2206,2340l-3-6,9-1,4,6zM2203,2334l-5-5,10-1,4,5zM2198,2329l-5-5,9-2,6,6zM2193,2324l-6-5,9-2,6,5zM2187,2319l-7-4,8-2,8,4zM2180,2315l-8-5,8-2,8,5zM2172,2310l-9-4,8-3,9,5z />
<path color=#075578 d=M2143,2298l-11-3,7-3,11,3zM2132,2295l-11-4,6-3,12,4zM2121,2291l-12-3,5-3,13,3zM2109,2288l-13-2,5-4,13,3zM2096,2286l-13-2,4-4,14,2zM2083,2284l-14-2,4-4,14,2zM2069,2282l-14-2,3-4,15,2zM2055,2280l-14-1,2-4,15,1zM2041,2279l-15-1,2-4,15,1zM2026,2278l-15-1,2-4,15,1zM1765,2330l-5,6-9,0,4-6zM1760,2336l-3,6-10,1,4-7zM1757,2342l-2,7-10,0,2-6zM1753,2354l0,6-10,0,0-6z />
<path color=#064a69 d=M2011,2277l-15-1,1-3,16,0zM1996,2276l-14,0,0-4,15,1zM1982,2276l-15-1-1-3,16,0zM1755,2349l-2,5-10,0,2-5z />
<path color=#04354b d=M1967,2275l-15-2-2-2,16,1z />
<path color=#02212d d=M1952,2273l-15-3-2-1,15,2z />
<path color=#075578 d=M2154,2309l-9-4,9-3,9,4zM2145,2305l-10-4,8-3,11,4zM2135,2301l-10-3,7-3,11,3zM2125,2298l-11-3,7-4,11,4zM2114,2295l-12-3,7-4,12,3zM2102,2292l-12-2,6-4,13,2zM1771,2334l-3,6-11,2,3-6zM1768,2340l-2,6-11,3,2-7zM1766,2346l-2,6-11,2,2-5zM1764,2352l0,6-11,2,0-6zM2199,2357l0-6,11-1,0,6zM2170,2317l-8-4,10-3,8,5zM2162,2313l-8-4,9-3,9,4z />
<path color=#064a69 d=M2090,2290l-12-3,5-3,13,2zM2078,2287l-13-2,4-3,14,2zM2065,2285l-14-1,4-4,14,2zM2051,2284l-13-2,3-3,14,1zM2038,2282l-14-1,2-3,15,1zM2024,2281l-14-1,1-3,15,1z />
<path color=#05405a d=M2010,2280l-14-1,0-3,15,1z />
<path color=#04354b d=M1996,2279l-14-1,0-2,14,0z />
<path color=#032a3c d=M1982,2278l-15-1,0-2,15,1z />
<path color=#02212d d=M1967,2277l-14-2-1-2,15,2z />
<path color=#055777 d=M1781,2319l-5,8-11,3,5-7zM1776,2327l-5,7-11,2,5-6zM2199,2351l-2-5,11-1,2,5zM2197,2346l-2-5,11-1,2,5zM2195,2341l-3-5,11-2,3,6zM2192,2336l-5-5,11-2,5,5zM2187,2331l-5-5,11-2,5,5zM2182,2326l-5-4,10-3,6,5zM2177,2322l-7-5,10-2,7,4z />
<path color=#075578 d=M2144,2312l-9-4,10-3,9,4zM2135,2308l-9-3,9-4,10,4zM2186,2357l0-5,13-1,0,6zM2186,2352l-2-5,13-1,2,5zM2184,2347l-2-5,13-1,2,5zM2182,2342l-3-4,13-2,3,5zM2179,2338l-4-5,12-2,5,5zM2175,2333l-4-5,11-2,5,5zM2171,2328l-6-4,12-2,5,4zM2165,2324l-6-4,11-3,7,5zM2159,2320l-7-4,10-3,8,4zM2152,2316l-8-4,10-3,8,4z />
<path color=#064a69 d=M2126,2305l-10-3,9-4,10,3zM2116,2302l-10-3,8-4,11,3zM2106,2299l-11-3,7-4,12,3zM2095,2296l-11-3,6-3,12,2zM2084,2293l-12-2,6-4,12,3zM2072,2291l-12-2,5-4,13,2zM2060,2289l-13-1,4-4,14,1zM2047,2288l-13-2,4-4,13,2zM2034,2286l-13-1,3-4,14,1z />
<path color=#05405a d=M2021,2285l-13-1,2-4,14,1z />
<path color=#04354b d=M2008,2284l-13-1,1-4,14,1z />
<path color=#032a3c d=M1995,2283l-13-2,0-3,14,1z />
<path color=#02212d d=M1982,2281l-14-2-1-2,15,1z />
<path color=#01222c d=M1968,2279l-13-4-2,0,14,2z />
<path color=#055777 d=M1784,2329l-3,8-13,3,3-6zM1781,2337l-2,6-13,3,2-6zM1779,2343l-2,6-13,3,2-6zM1777,2349l0,5-13,4,0-6z />
<path color=#075578 d=M2132,2315l-8-3,11-4,9,4zM2171,2358l0-5,15-1,0,5zM2171,2353l-2-4,15-2,2,5zM2169,2349l-2-5,15-2,2,5zM2167,2344l-3-5,15-1,3,4zM2164,2339l-3-4,14-2,4,5zM2161,2335l-4-4,14-3,4,5zM2157,2331l-6-4,14-3,6,4zM2151,2327l-5-4,13-3,6,4zM2146,2323l-7-4,13-3,7,4zM2139,2319l-7-4,12-3,8,4z />
<path color=#064a69 d=M2124,2312l-9-3,11-4,9,3zM2115,2309l-9-3,10-4,10,3zM2106,2306l-9-3,9-4,10,3zM2097,2303l-10-3,8-4,11,3zM2087,2300l-11-2,8-5,11,3zM2076,2298l-11-2,7-5,12,2zM2065,2296l-11-2,6-5,12,2zM2054,2294l-12-2,5-4,13,1zM2042,2292l-11-1,3-5,13,2z />
<path color=#05405a d=M2031,2291l-13-2,3-4,13,1zM2018,2289l-12-1,2-4,13,1z />
<path color=#03374b d=M2006,2288l-12-2,1-3,13,1z />
<path color=#022c3c d=M1994,2286l-12-2,0-3,13,2z />
<path color=#01222c d=M1982,2284l-13-4-1-1,14,2z />
<path color=#064a69 d=M2117,2319l-7-3,14-4,8,3zM2110,2316l-8-3,13-4,9,3zM2102,2313l-8-2,12-5,9,3zM2094,2311l-9-3,12-5,9,3zM2085,2308l-9-3,11-5,10,3zM2076,2305l-9-2,9-5,11,2zM2067,2303l-10-2,8-5,11,2zM2057,2301l-10-2,7-5,11,2zM2047,2299l-11-2,6-5,12,2z />
<path color=#04415a d=M2036,2297l-10-1,5-5,11,1zM2026,2296l-11-2,3-5,13,2z />
<path color=#03374b d=M2015,2294l-11-2,2-4,12,1zM2004,2292l-11-2,1-4,12,2z />
<path color=#01222c d=M1993,2290l-11-4,0-2,12,2z />
<path color=#075578 d=M2152,2359l0-5,19-1,0,5zM2152,2354l-1-4,18-1,2,4zM2151,2350l-2-4,18-2,2,5zM2149,2346l-3-4,18-3,3,5zM2146,2342l-3-4,18-3,3,4zM2143,2338l-4-4,18-3,4,4zM2139,2334l-5-4,17-3,6,4zM2134,2330l-5-4,17-3,5,4zM2129,2326l-6-3,16-4,7,4zM2123,2323l-6-4,15-4,7,4z />
<path color=#064a69 d=M2099,2324l-6-3,17-5,7,3zM2093,2321l-7-3,16-5,8,3zM2086,2318l-7-2,15-5,8,2zM2079,2316l-8-3,14-5,9,3zM2109,2330l-5-3,19-4,6,3zM2104,2327l-5-3,18-5,6,4z />
<path color=#044c68 d=M2071,2313l-7-2,12-6,9,3zM2064,2311l-9-2,12-6,9,2zM2055,2309l-8-2,10-6,10,2zM2047,2307l-9-2,9-6,10,2z />
<path color=#04415a d=M2038,2305l-9-2,7-6,11,2zM2029,2303l-9-2,6-5,10,1zM2020,2301l-10-2,5-5,11,2z />
<path color=#022d3b d=M2010,2299l-9-3,3-4,11,2z />
<path color=#075578 d=M2129,2358l0-3,23-1,0,5zM2129,2355l-1-4,23-1,1,4zM2128,2351l-2-4,23-1,2,4zM2126,2347l-2-4,22-1,3,4zM2124,2343l-3-3,22-2,3,4zM2121,2340l-3-3,21-3,4,4zM2118,2337l-4-4,20-3,5,4zM2114,2333l-5-3,20-4,5,4z />
<path color=#044c68 d=M2078,2328l-5-2,20-5,6,3zM2073,2326l-6-2,19-6,7,3zM2067,2324l-6-3,18-5,7,2zM2061,2321l-6-2,16-6,8,3zM2055,2319l-6-2,15-6,7,2zM2049,2317l-7-2,13-6,9,2zM2090,2336l-3-2,22-4,5,3zM2087,2334l-5-3,22-4,5,3zM2082,2331l-4-3,21-4,5,3z />
<path color=#04415a d=M2042,2315l-7-2,12-6,8,2zM2035,2313l-7-2,10-6,9,2z />
<path color=#034359 d=M2028,2311l-8-3,9-5,9,2z />
<path color=#075578 d=M2103,2357l-1-3,27,1,0,3zM2102,2354l0-3,26,0,1,4zM2102,2351l-2-3,26-1,2,4zM2100,2348l-1-3,25-2,2,4zM2099,2345l-3-3,25-2,3,3z />
<path color=#064a69 d=M2096,2342l-2-3,24-2,3,3zM2094,2339l-4-3,24-3,4,4z />
<path color=#044c68 d=M2054,2332l-4-2,23-4,5,2zM2050,2330l-4-2,21-4,6,2zM2046,2328l-5-2,20-5,6,3zM2072,2353l0-2,30,3,1,3zM2072,2351l0-2,30,2,0,3zM2072,2349l-1-2,29,1,2,3zM2071,2347l-2-2,30,0,1,3zM2069,2345l-1-2,28-1,3,3zM2068,2343l-2-3,28-1,2,3zM2066,2340l-3-2,27-2,4,3zM2063,2338l-3-2,27-2,3,2zM2060,2336l-3-2,25-3,5,3zM2057,2334l-3-2,24-4,4,3z />
<path color=#034e68 d=M2041,2326l-4-3,18-4,6,2z />
<path color=#034e68 d=M2057,2365l3,0,27,12-5,2z />
<path color=#04415a d=M2060,2365l3,1,27,9-3,2z />
<path color=#055777 d=M2063,2366l3-2,28,9-4,2zM2066,2364l2-1,28,8-2,2zM2068,2363l1-2,30,7-3,3zM2069,2361l2-2,29,6-1,3zM2071,2359l1-2,30,6-2,2zM2072,2357l0-2,30,5,0,3zM2072,2355l0-2,31,4-1,3z />
<path color=#044c68 d=M2061,2382l6,1,19,11-7,1z />
<path color=#055777 d=M2067,2383l6-1,20,11-7,1zM2073,2382l5-1,21,10-6,2z />
<path color=#075578 d=M2078,2381l4-2,22,10-5,2zM2082,2379l5-2,22,9-5,3zM2087,2377l3-2,24,8-5,3zM2090,2375l4-2,24,7-4,3zM2094,2373l2-2,25,6-3,3zM2096,2371l3-3,25,5-3,4zM2099,2368l1-3,26,5-2,3zM2100,2365l2-2,26,3-2,4zM2102,2363l0-3,27,2-1,4zM2102,2360l1-3,26,1,0,4z />
<path color=#044c68 d=M2064,2396l7,0,14,8-9,0zM2071,2396l8-1,15,8-9,1z />
<path color=#064a69 d=M2079,2395l7-1,16,7-8,2zM2086,2394l7-1,17,7-8,1zM2093,2393l6-2,18,6-7,3zM2099,2391l5-2,19,6-6,2z />
<path color=#074869 d=M2104,2389l5-3,20,6-6,3z />
<path color=#095278 d=M2109,2386l5-3,20,6-5,3zM2114,2383l4-3,21,5-5,4zM2118,2380l3-3,22,4-4,4zM2121,2377l3-4,22,4-3,4zM2124,2373l2-3,23,2-3,5z />
<path color=#075578 d=M2126,2370l2-4,23,2-2,4zM2128,2366l1-4,23,1-1,5zM2129,2362l0-4,23,1,0,4z />
<path color=#01222c d=M2085,2404l9-1,12-5-9,1z />
<path color=#02212d d=M2094,2403l8-2,13-3-9,0zM2102,2401l8-1,14-3-9,1z />
<path color=#02202d d=M2110,2400l7-3,15-1-8,1zM2117,2397l6-2,16-1-7,2zM2123,2395l6-3,17,1-7,1z />
<path color=#04293c d=M2129,2392l5-3,17,1-5,3z />
<path color=#063e5a d=M2134,2389l5-4,18,2-6,3z />
<path color=#074869 d=M2139,2385l4-4,18,2-4,4z />
<path color=#095278 d=M2143,2381l3-4,18,1-3,5zM2146,2377l3-5,18,1-3,5zM2149,2372l2-4,18,0-2,5z />
<path color=#075578 d=M2151,2368l1-5,19,0-2,5zM2152,2363l0-4,19-1,0,5z />
<path color=#045977 d=M1792,2348l0,6-15,6,0-6z />
<path color=#055777 d=M1792,2354l2,5-15,6-2-5zM1794,2359l2,5-15,6-2-5zM1796,2364l3,5-15,6-3-5zM1799,2369l3,3-14,7-4-4zM1802,2372l4,3-14,8-4-4z />
<path color=#046585 d=M1806,2375l6,2-14,10-6-4z />
<path color=#02212d d=M2139,2394l7-1,13-1-7-4z />
<path color=#02202d d=M2146,2393l5-3,14-3-6,5zM2151,2390l6-3,14-2-6,2z />
<path color=#032a3c d=M2157,2387l4-4,14-1-4,3z />
<path color=#05405a d=M2161,2383l3-5,15,0-4,4z />
<path color=#064a69 d=M2164,2378l3-5,15,0-3,5z />
<path color=#075578 d=M2167,2373l2-5,15,0-2,5zM2169,2368l2-5,15,0-2,5zM2171,2363l0-5,15-1,0,6z />
<path color=#075578 d=M1777,2354l0,6-13,3,0-5zM1777,2360l2,5-13,4-2-6zM1779,2365l2,5-13,4-2-5zM1781,2370l3,5-13,4-3-5zM1784,2375l4,4-12,5-5-5zM1788,2379l4,4-11,5-5-4zM2182,2373l2-5,13-1-2,6zM2184,2368l2-5,13-1-2,5zM2186,2363l0-6,13,0,0,5z />
<path color=#075f87 d=M1792,2383l6,4-12,6-5-5zM1798,2387l6,4-11,6-7-4z />
<path color=#056286 d=M1804,2391l7,3-10,7-8-4zM1811,2394l8,2-10,8-8-3zM1819,2396l9-1-10,11-9-2z />
<path color=#04354b d=M2152,2388l7,4,11,23-8-25z />
<path color=#0975a5 d=M2159,2392l6-5,12,1-7,27z />
<path color=#02212d d=M2165,2387l6-2,11,0-5,3z />
<path color=#02202d d=M2171,2385l4-3,12,0-5,3z />
<path color=#05405a d=M2175,2382l4-4,13,0-5,4z />
<path color=#064a69 d=M2179,2378l3-5,13,0-3,5z />
<path color=#075578 d=M1764,2358l0,5-11,3,0-6zM1764,2363l2,6-11,2-2-5zM1766,2369l2,5-11,3-2-6zM1768,2374l3,5-11,3-3-5zM1771,2379l5,5-11,3-5-5zM1776,2384l5,4-11,4-5-5zM1781,2388l5,5-10,4-6-5zM2192,2378l3-5,11,1-3,6zM2195,2373l2-6,11,0-2,7zM2197,2367l2-5,11-1-2,6zM2199,2362l0-5,11-1,0,5z />
<path color=#075f87 d=M1786,2393l7,4-10,5-7-5zM1793,2397l8,4-10,5-8-4zM1801,2401l8,3-9,6-9-4zM1809,2404l9,2-9,7-9-3z />
<path color=#056286 d=M1818,2406l10,2-8,7-11-2zM1828,2408l10-3-7,11-11-1zM2177,2388l5-3,11,3-6,8z />
<path color=#072e4c d=M2162,2390l8,25,10,53-8-64z />
<path color=#116eb7 d=M2170,2415l7-27,10,8-7,72z />
<path color=#05405a d=M2182,2385l5-3,11,3-5,3z />
<path color=#064a69 d=M2187,2382l5-4,11,2-5,5z />
<path color=#095278 d=M1753,2360l0,6-10,0,0-6zM1753,2366l2,5-10,1-2-6zM1755,2371l2,6-10,1-2-6zM1757,2377l3,5-9,1-4-5zM1765,2387l5,5-9,2-6-6zM1770,2392l6,5-9,2-6-5zM1776,2397l7,5-8,2-8-5zM1791,2406l9,4-8,3-9-5z />
<path color=#074869 d=M1760,2382l5,5-10,1-4-5zM1783,2402l8,4-8,2-8-4z />
<path color=#064a69 d=M1800,2410l9,3-7,3-10-3zM2193,2388l5-3,10,3-6,4z />
<path color=#075578 d=M1809,2413l11,2-7,4-11-3zM1820,2415l11,1-7,5-11-2zM2198,2385l5-5,9,2-4,6zM2208,2367l2-6,10,0-2,7z />
<path color=#055777 d=M1831,2416l11-2-6,7-12,0zM2210,2361l0-5,10-1,0,6z />
<path color=#0354b0 d=M2172,2404l8,64,8,32-8-83z />
<path color=#035cc0 d=M2180,2468l7-72,9,7-8,97z />
<path color=#086a96 d=M2187,2396l6-8,9,4-6,11z />
<path color=#075f87 d=M2203,2380l3-6,10,1-4,7zM2206,2374l2-7,10,1-2,7z />
<path color=#01222c d=M1743,2360l0,6-7-9-1-6zM1743,2366l2,6-8-9-1-6zM1745,2372l2,6-7-10-3-5zM1747,2378l4,5-7-9-4-6zM1751,2383l4,5-7-8-4-6zM1755,2388l6,6-7-9-6-5zM1761,2394l6,5-6-9-7-5zM1767,2399l8,5-7-9-7-5zM1813,2419l11,2-5-3-12-4zM1824,2421l12,0-4,0-13-3zM2171,2391l9,26,6-17-9,5zM2196,2403l6-11,7-7-7,5zM2202,2392l6-4,7-8-6,5zM2208,2388l4-6,7-8-4,6zM2212,2382l4-7,7-7-4,6zM2216,2375l2-7,8-5-3,5z />
<path color=#022d3b d=M1775,2404l8,4-6-8-9-5z />
<path color=#034359 d=M1783,2408l9,5-6-8-9-5zM1792,2413l10,3-6-7-10-4zM1802,2416l11,3-6-5-11-5zM2220,2361l0-6,8-4-1,6z />
<path color=#057094 d=M2180,2417l8,83,7-105-9,5z />
<path color=#046585 d=M2188,2500l8-97,6-13-7,5z />
<path color=#02384a d=M2218,2368l2-7,7-4-1,6z />
<path stroke=#012 stroke-opacity=.5 stroke-width=1.5 fill=none d=M2171,2391l6,14M2180,2417l6-17M2188,2500l7-105M2196,2403l6-13 />
<path color=#034e68 fill-rule=evenodd d=M1937,2471l379-104-290-136-379,104zM2177,2297l-10-4-11-5-12-4-13-3-13-4-13-3-15-2-14-3-15-2-16-1-15-2-16-1-16,0-16,0-17,0-16,0-16,1-15,2-16,1-15,2-14,3-15,2-13,3-13,4-13,3-12,4-11,5-10,4-9,5-9,5-7,5-7,5-6,6-4,5-4,6-3,5-1,6-1,6,1,6,1,6,3,5,4,6,4,6,6,5,7,5,7,5,9,5,9,5,10,4,11,5,12,4,13,3,13,4,13,3,15,2,14,3,15,2,16,2,15,1,16,1,16,0,17,1,16-1,16,0,16-1,15-1,16-2,15-2,14-3,15-2,13-3,13-4,13-3,12-4,11-5,10-4,9-5,9-5,7-5,7-5,6-5,4-6,4-6,3-5,1-6,1-6-1-6-1-6-3-5-4-6-4-5-6-6-7-5-7-5-9-5z />
<path color=#01222c d=M1935,2269l-15-10-2,7,15-2z />
<path color=#0590a8 d=M1920,2259l-15-16-3,24,16-1z />
<path color=#1e9b92 d=M1905,2243l-15-26-3,52,15-2z />
<path color=#67a46b d=M1890,2217l-14-40-3,95,14-3z />
<path color=#b5a04c d=M1876,2177l-14-38-4,135,15-2z />
<path color=#daa533 d=M1862,2139l-13-12-4,150,13-3z />
<path color=#d9ac2b d=M1849,2127l-13,1-4,153,13-4z />
<path color=#d29f3c d=M1836,2128l-12,37-5,119,13-3z />
<path color=#94a359 d=M1824,2165l-11,49-6,74,12-4z />
<path color=#3e9472 d=M1813,2214l-11,34-6,45,11-5z />
<path color=#168c8a d=M1802,2248l-10,24-6,25,10-4z />
<path color=#056e7c d=M1792,2272l-9,17-6,13,9-5z />
<path color=#01232b d=M1783,2289l-8,15-7,3,9-5z />
<path color=#034e68 d=M1775,2304l-8,12-6-4,7-5z />
<path color=#01222c d=M1937,2270l-15-11-2,0,15,10z />
<path color=#023137 d=M1922,2259l-14-16-3,0,15,16z />
<path color=#0d403d d=M1908,2243l-14-24-4-2,15,26z />
<path color=#1a291b d=M1894,2219l-14-33-4-9,14,40z />
<path color=#2c2814 d=M1880,2186l-13-32-5-15,14,38z />
<path color=#9e782d d=M1867,2154l-13-13-5-14,13,12z />
<path color=#c8972e d=M1854,2141l-12,5-6-18,13-1z />
<path color=#cd9f40 d=M1842,2146l-11,30-7-11,12-37z />
<path color=#889551 d=M1831,2176l-11,40-7-2,11-49z />
<path color=#46956e d=M1820,2216l-11,31-7,1,11-34z />
<path color=#19817a d=M1809,2247l-9,22-8,3,10-24z />
<path color=#087b87 d=M1800,2269l-9,18-8,2,9-17z />
<path color=#04768e d=M1791,2287l-8,14-8,3,8-15z />
<path color=#057094 d=M1783,2301l-7,14-9,1,8-12z />
<path color=#01222c d=M1953,2275l-14-7-2,2,15,3z />
<path color=#034657 d=M1939,2268l-14-10-3,1,15,11z />
<path color=#033136 d=M1925,2258l-13-14-4-1,14,16z />
<path color=#092724 d=M1912,2244l-14-19-4-6,14,24z />
<path color=#18291c d=M1898,2225l-13-23-5-16,14,33z />
<path color=#4a512c d=M1885,2202l-12-21-6-27,13,32z />
<path color=#ab9243 d=M1873,2181l-12-10-7-30,13,13z />
<path color=#c19f46 d=M1861,2171l-12,4-7-29,12-5z />
<path color=#aea14e d=M1849,2175l-11,20-7-19,11-30z />
<path color=#7b9657 d=M1838,2195l-10,26-8-5,11-40z />
<path color=#46956e d=M1828,2221l-10,24-9,2,11-31z />
<path color=#1e8277 d=M1818,2245l-9,20-9,4,9-22z />
<path color=#0a7077 d=M1809,2265l-8,16-10,6,9-18z />
<path color=#046c7e d=M1801,2281l-8,14-10,6,8-14z />
<path color=#035d74 d=M1793,2295l-7,12-10,8,7-14z />
<path color=#034e68 d=M1786,2307l-5,12-11,4,6-8z />
<path color=#01222c d=M1955,2275l-13-8-3,1,14,7z />
<path color=#01242a d=M1942,2267l-13-9-4,0,14,10z />
<path color=#032528 d=M1929,2258l-13-12-4-2,13,14z />
<path color=#092724 d=M1916,2246l-13-14-5-7,14,19z />
<path color=#13291e d=M1903,2232l-12-15-6-15,13,23z />
<path color=#465f3b d=M1891,2217l-12-13-6-23,12,21z />
<path color=#7c874a d=M1879,2204l-11-7-7-26,12,10z />
<path color=#8e954f d=M1868,2197l-11,3-8-25,12-4z />
<path color=#94a359 d=M1857,2200l-10,12-9-17,11-20z />
<path color=#6d965c d=M1847,2212l-10,16-9-7,10-26z />
<path color=#46956e d=M1837,2228l-9,18-10-1,10-24z />
<path color=#28917e d=M1828,2246l-9,16-10,3,9-20z />
<path color=#14807d d=M1819,2262l-8,15-10,4,8-16z />
<path color=#076f79 d=M1811,2277l-7,13-11,5,8-14z />
<path color=#046070 d=M1804,2290l-6,11-12,6,7-12z />
<path color=#035d74 d=M1798,2301l-6,10-11,8,5-12z />
<path color=#035067 d=M1792,2311l-4,9-12,7,5-8z />
<path color=#034e68 d=M1788,2320l-4,9-13,5,5-7z />
<path color=#01222c d=M1969,2280l-12-5-2,0,13,4z />
<path color=#01232b d=M1957,2275l-12-7-3-1,13,8z />
<path color=#022529 d=M1945,2268l-13-8-3-2,13,9z />
<path color=#032528 d=M1932,2260l-11-9-5-5,13,12z />
<path color=#092724 d=M1921,2251l-12-10-6-9,13,14z />
<path color=#0f2820 d=M1909,2241l-11-10-7-14,12,15z />
<path color=#3f6d4a d=M1898,2231l-11-8-8-19,12,13z />
<path color=#5d8857 d=M1887,2223l-11-4-8-22,11,7z />
<path color=#6d965c d=M1876,2219l-10,1-9-20,11-3zM1866,2220l-9,7-10-15,10-12z />
<path color=#5e9662 d=M1857,2227l-9,10-11-9,10-16z />
<path color=#46956e d=M1848,2237l-9,12-11-3,9-18z />
<path color=#2f927a d=M1839,2249l-8,13-12,0,9-16z />
<path color=#19817a d=M1831,2262l-7,12-13,3,8-15z />
<path color=#0f7e81 d=M1824,2274l-7,11-13,5,7-13z />
<path color=#076f79 d=M1817,2285l-5,10-14,6,6-11z />
<path color=#056e7c d=M1812,2295l-6,10-14,6,6-10z />
<path color=#035f72 d=M1806,2305l-4,8-14,7,4-9z />
<path color=#035d74 d=M1802,2313l-3,8-15,8,4-9z />
<path color=#045b75 d=M1799,2321l-3,7-15,9,3-8z />
<path color=#035067 d=M1796,2328l-2,7-15,8,2-6z />
<path color=#045977 d=M1794,2335l-2,7-15,7,2-6zM1792,2342l0,6-15,6,0-5z />
<path color=#01222c d=M1982,2286l-12-5-1-1,13,4z />
<path color=#01232b d=M1970,2281l-11-5-2-1,12,5z />
<path color=#01242a d=M1959,2276l-11-5-3-3,12,7z />
<path color=#022529 d=M1948,2271l-11-6-5-5,13,8z />
<path color=#052627 d=M1937,2265l-10-7-6-7,11,9z />
<path color=#082725 d=M1927,2258l-11-7-7-10,12,10z />
<path color=#11352c d=M1916,2251l-10-6-8-14,11,10z />
<path color=#2d6c53 d=M1906,2245l-10-4-9-18,11,8z />
<path color=#407a56 d=M1896,2241l-9-3-11-19,11,4z />
<path color=#4e885d d=M1887,2238l-9,1-12-19,10-1z />
<path color=#4e956a d=M1878,2239l-9,3-12-15,9-7z />
<path color=#46956e d=M1869,2242l-8,6-13-11,9-10z />
<path color=#3e9472 d=M1861,2248l-8,8-14-7,9-12z />
<path color=#2a856f d=M1853,2256l-7,8-15-2,8-13z />
<path color=#1e8277 d=M1846,2264l-6,9-16,1,7-12z />
<path color=#19817a d=M1840,2273l-6,9-17,3,7-11z />
<path color=#0e7274 d=M1834,2282l-5,8-17,5,5-10z />
<path color=#0a7077 d=M1829,2290l-5,8-18,7,6-10z />
<path color=#076f79 d=M1824,2298l-4,8-18,7,4-8z />
<path color=#056e7c d=M1820,2306l-3,7-18,8,3-8z />
<path color=#046070 d=M1817,2313l-3,7-18,8,3-7z />
<path color=#035f72 d=M1814,2320l-2,6-18,9,2-7zM1812,2326l-1,6-19,10,2-7z />
<path color=#035d74 d=M1811,2332l0,5-19,11,0-6z />
<path color=#01222c d=M2001,2296l-10-4,2-2,11,2zM1991,2292l-9-4,0-2,11,4z />
<path color=#01232b d=M1982,2288l-10-4-2-3,12,5zM1972,2284l-10-4-3-4,11,5z />
<path color=#022529 d=M1962,2280l-9-4-5-5,11,5z />
<path color=#022528 d=M1953,2276l-10-5-6-6,11,6z />
<path color=#052627 d=M1943,2271l-9-4-7-9,10,7z />
<path color=#062626 d=M1934,2267l-9-4-9-12,11,7z />
<path color=#0f413b d=M1925,2263l-9-4-10-14,10,6z />
<path color=#1e5d4e d=M1916,2259l-8-3-12-15,10,4z />
<path color=#2c7861 d=M1908,2256l-9-1-12-17,9,3z />
<path color=#388667 d=M1899,2255l-7,0-14-16,9-1zM1892,2255l-8,2-15-15,9-3z />
<path color=#31866b d=M1884,2257l-7,3-16-12,8-6zM1877,2260l-7,4-17-8,8-8z />
<path color=#2a856f d=M1870,2264l-6,5-18-5,7-8z />
<path color=#248373 d=M1864,2269l-5,6-19-2,6-9z />
<path color=#1e8277 d=M1859,2275l-5,6-20,1,6-9z />
<path color=#19817a d=M1854,2281l-5,7-20,2,5-8z />
<path color=#127371 d=M1849,2288l-4,6-21,4,5-8z />
<path color=#0e7274 d=M1845,2294l-3,6-22,6,4-8z />
<path color=#0a7077 d=M1842,2300l-3,6-22,7,3-7z />
<path color=#076f79 d=M1839,2306l-2,5-23,9,3-7zM1837,2311l-2,5-23,10,2-6z />
<path color=#05616e d=M1835,2316l-1,5-23,11,1-6zM1834,2321l0,5-23,11,0-5z />
<path color=#022d3b d=M2020,2308l-7-3,7-4,9,2z />
<path color=#01222c d=M2013,2305l-8-3,5-3,10,2zM2005,2302l-8-3,4-3,9,3z />
<path color=#01232b d=M1997,2299l-8-3,2-4,10,4zM1989,2296l-7-3,0-5,9,4zM1982,2293l-8-3-2-6,10,4z />
<path color=#01242a d=M1974,2290l-8-4-4-6,10,4z />
<path color=#022529 d=M1966,2286l-8-3-5-7,9,4z />
<path color=#022528 d=M1958,2283l-8-3-7-9,10,5z />
<path color=#052627 d=M1950,2280l-7-2-9-11,9,4z />
<path color=#083332 d=M1943,2278l-8-3-10-12,9,4z />
<path color=#0f4d49 d=M1935,2275l-7-2-12-14,9,4z />
<path color=#155b53 d=M1928,2273l-7-2-13-15,8,3z />
<path color=#1d695c d=M1921,2271l-7-1-15-15,9,1z />
<path color=#217667 d=M1914,2270l-6,0-16-15,7,0z />
<path color=#267764 d=M1908,2270l-6,1-18-14,8-2zM1902,2271l-6,2-19-13,7-3z />
<path color=#2a856f d=M1896,2273l-6,2-20-11,7-4z />
<path color=#248373 d=M1890,2275l-5,2-21-8,6-5zM1885,2277l-4,4-22-6,5-6z />
<path color=#1b756b d=M1881,2281l-4,3-23-3,5-6zM1877,2284l-4,4-24,0,5-7z />
<path color=#17746e d=M1873,2288l-4,4-24,2,4-6zM1869,2292l-2,4-25,4,3-6z />
<path color=#127371 d=M1867,2296l-3,5-25,5,3-6zM1864,2301l-1,4-26,6,2-5z />
<path color=#0e7274 d=M1863,2305l-2,3-26,8,2-5zM1861,2308l0,4-27,9,1-5z />
<path color=#0c6567 d=M1861,2312l-1,4-26,10,0-5z />
<path color=#034359 d=M2037,2323l-5-3,17-3,6,2z />
<path color=#02384a d=M2032,2320l-5-2,15-3,7,2z />
<path color=#01222c d=M2027,2318l-5-3,13-2,7,2zM2022,2315l-6-2,12-2,7,2zM2016,2313l-5-2,9-3,8,3zM2011,2311l-6-3,8-3,7,3z />
<path color=#01232b d=M2005,2308l-6-2,6-4,8,3zM1999,2306l-6-2,4-5,8,3zM1993,2304l-6-3,2-5,8,3z />
<path color=#01242a d=M1987,2301l-5-2,0-6,7,3zM1982,2299l-6-2-2-7,8,3z />
<path color=#022529 d=M1976,2297l-6-2-4-9,8,4z />
<path color=#022528 d=M1970,2295l-6-2-6-10,8,3z />
<path color=#053235 d=M1964,2293l-6-2-8-11,8,3zM1958,2291l-6-2-9-11,7,2z />
<path color=#083f40 d=M1952,2289l-5-1-12-13,8,3z />
<path color=#0c4d4b d=M1947,2288l-6-1-13-14,7,2z />
<path color=#0f4d49 d=M1941,2287l-5-1-15-15,7,2z />
<path color=#125a55 d=M1936,2286l-5-1-17-15,7,1z />
<path color=#155b53 d=M1931,2285l-5,0-18-15,6,0z />
<path color=#18685f d=M1926,2285l-4,0-20-14,6-1zM1922,2285l-5,1-21-13,6-2z />
<path color=#1b756b d=M1917,2286l-4,0-23-11,6-2zM1913,2286l-4,2-24-11,5-2zM1909,2288l-3,1-25-8,4-4zM1906,2289l-3,2-26-7,4-3zM1903,2291l-3,2-27-5,4-4zM1900,2293l-3,2-28-3,4-4zM1897,2295l-2,2-28-1,2-4z />
<path color=#17746e d=M1895,2297l-1,3-30,1,3-5zM1894,2300l-2,2-29,3,1-4z />
<path color=#146762 d=M1892,2302l-1,2-30,4,2-3zM1891,2304l0,3-30,5,0-4zM1891,2307l0,2-31,7,1-4z />
<path color=#01222c d=M2030,2329l-6-3,22,2,8,4z />
<path color=#022e3b d=M2024,2326l-6-4,19,1,9,5zM2034,2332l-4-3,24,3,6,4z />
<path color=#022f3a d=M2018,2322l-6-3,15-1,10,5zM2012,2319l-7-3,11-3,11,5z />
<path color=#022f39 d=M2005,2316l-8-4,8-4,11,5z />
<path color=#023038 d=M1997,2312l-8-3,4-5,12,4z />
<path color=#023137 d=M1989,2309l-7-3,0-7,11,5z />
<path color=#033136 d=M1982,2306l-8-2-4-9,12,4z />
<path color=#053235 d=M1974,2304l-8-2-8-11,12,4z />
<path color=#083f40 d=M1966,2302l-8-2-11-12,11,3z />
<path color=#094c4d d=M1958,2300l-7-2-15-12,11,2z />
<path color=#0c4d4b d=M1951,2298l-6,0-19-13,10,1z />
<path color=#125a55 d=M1945,2298l-6,0-22-12,9-1zM1939,2298l-6,0-24-10,8-2z />
<path color=#146762 d=M1933,2298l-4,2-26-9,6-3z />
<path color=#18685f d=M1929,2300l-3,1-29-6,6-4zM1926,2301l-3,3-29-4,3-5zM1923,2304l-2,2-30-2,3-4zM1921,2306l0,2-30,1,0-5z />
<path color=#034359 d=M2042,2344l0-3,30,8,0,4zM2042,2341l-2-2,29,6,3,4zM2040,2339l-2-3,28,4,3,5z />
<path color=#023949 d=M2038,2336l-4-4,26,4,6,4z />
<path color=#023b47 d=M2006,2326l-3-2,21,2,6,3zM2012,2333l0-2,30,10,0,3zM2012,2331l-1-1,29,9,2,2zM2011,2330l-1-1,28,7,2,3zM2010,2329l-2-2,26,5,4,4zM2008,2327l-2-1,24,3,4,3z />
<path color=#023038 d=M2003,2324l-3-2,18,0,6,4zM2000,2322l-3-2,15-1,6,3zM1997,2320l-4-1,12-3,7,3z />
<path color=#023137 d=M1993,2319l-4-2,8-5,8,4zM1989,2317l-4-1,4-7,8,3z />
<path color=#033136 d=M1985,2316l-3-2,0-8,7,3z />
<path color=#043e43 d=M1982,2314l-4-1-4-9,8,2z />
<path color=#063e42 d=M1978,2313l-4-1-8-10,8,2zM1974,2312l-4-1-12-11,8,2z />
<path color=#083f40 d=M1970,2311l-4-1-15-12,7,2z />
<path color=#094c4d d=M1966,2310l-3,0-18-12,6,0z />
<path color=#0c4d4b d=M1963,2310l-3,0-21-12,6,0zM1960,2310l-3,0-24-12,6,0z />
<path color=#0e5958 d=M1957,2310l-2,0-26-10,4-2z />
<path color=#125a55 d=M1955,2310l-1,1-28-10,3-1zM1954,2311l-2,0-29-7,3-3zM1952,2311l-1,1-30-6,2-2zM1951,2312l0,1-30-5,0-2z />
<path color=#043e43 d=M1982,2322l18,0,6,4zM1982,2322l11-3,7,3zM1982,2322l3-6,8,3z />
<path color=#063e42 d=M1982,2322l-4-9,7,3zM1982,2322l-12-11,8,2z />
<path color=#083f40 d=M1982,2322l-19-12,7,1zM1982,2322l-25-12,6,0z />
<path color=#094c4d d=M1982,2322l-28-11,3-1z />
<path color=#0c4d4b d=M1982,2322l-31-10,3-1z />
<path color=#0a403f d=M1982,2322l-31-8,0-2z />
<path color=#033d45 d=M1982,2322l28,7,2,2zM1982,2322l24,4,4,3z />
<path color=#0a403f d=M1982,2322l-28-5-3-3z />
<path color=#083332 d=M1982,2322l-25-2-3-3zM1982,2322l-19,0-6-2z />
<path color=#063233 d=M1982,2322l-12,3-7-3zM1982,2322l-4,6-8-3zM1982,2322l3,9-7-3z />
<path color=#053235 d=M1982,2322l11,11-8-2zM1982,2322l18,12-7-1z />
<path color=#033136 d=M1982,2322l24,13-6-1zM1982,2322l28,13-4,0z />
<path color=#043e43 d=M1982,2322l30,11-2,2z />
<path color=#033d45 d=M1982,2322l30,9,0,2z />
<path color=#0f4d49 d=M1951,2313l0,1-30-3,0-3zM1951,2314l1,2-29-3-2-2z />
<path color=#0d403d d=M1952,2316l2,1-28-1-3-3zM1954,2317l1,1-26,0-3-2z />
<path color=#0a3431 d=M1955,2318l2,2-24,0-4-2zM1957,2320l3,1-21,1-6-2z />
<path color=#082725 d=M1960,2321l3,1-18,2-6-2zM1963,2322l3,2-15,2-6-2zM1966,2324l4,1-12,4-7-3zM1970,2325l4,2-8,4-8-2z />
<path color=#062626 d=M1974,2327l4,1-4,6-8-3zM1978,2328l4,1,0,7-8-2z />
<path color=#052627 d=M1982,2329l3,2,4,8-7-3z />
<path color=#063233 d=M1985,2331l4,1,8,10-8-3z />
<path color=#053235 d=M1989,2332l4,1,12,11-8-2zM1993,2333l4,1,15,12-7-2z />
<path color=#033136 d=M1997,2334l3,0,18,14-6-2z />
<path color=#023137 d=M2000,2334l3,1,21,14-6-1z />
<path color=#033d45 d=M2003,2335l3,0,24,14-6,0z />
<path color=#023c46 d=M2006,2335l2,0,26,14-4,0zM2008,2335l2,0,28,14-4,0zM2010,2335l1-1,29,13-2,2z />
<path color=#023b47 d=M2011,2334l1-1,30,13-2,1zM2012,2333l0,0,30,11,0,2z />
<path color=#155b53 d=M1921,2308l0,3-30,2,0-4zM1921,2311l2,2-29,4-3-4z />
<path color=#124e47 d=M1923,2313l3,3-29,4-3-3zM1926,2316l3,2-26,5-6-3z />
<path color=#0f413b d=M1929,2318l4,2-24,5-6-2z />
<path color=#0c342f d=M1933,2320l6,2-22,5-8-2z />
<path color=#0b2722 d=M1939,2322l6,2-19,4-9-1zM1945,2324l6,2-15,3-10-1zM1951,2326l7,3-11,2-11-2z />
<path color=#092724 d=M1958,2329l8,2-8,3-11-3zM1966,2331l8,3-4,4-12-4z />
<path color=#082725 d=M1974,2334l8,2,0,6-12-4z />
<path color=#062626 d=M1982,2336l7,3,4,8-11-5z />
<path color=#052627 d=M1989,2339l8,3,8,10-12-5z />
<path color=#032528 d=M1997,2342l8,2,11,12-11-4z />
<path color=#033136 d=M2005,2344l7,2,15,14-11-4z />
<path color=#033d45 d=M2012,2346l6,2,19,15-10-3z />
<path color=#023c46 d=M2018,2348l6,1,22,15-9-1z />
<path color=#023b47 d=M2024,2349l6,0,24,16-8-1z />
<path color=#023a48 d=M2030,2349l4,0,26,16-6,0z />
<path color=#034558 d=M2034,2349l4,0,28,15-6,1z />
<path color=#035067 d=M2038,2349l2-2,29,14-3,3zM2040,2347l2-1,30,11-3,4zM2042,2346l0-2,30,9,0,4z />
<path color=#146762 d=M1891,2309l0,2-30,8-1-3zM1891,2311l0,2-30,9,0-3zM1891,2313l1,2-29,10-2-3zM1892,2315l2,2-30,10-1-2z />
<path color=#125a55 d=M1894,2317l1,2-28,10-3-2zM1895,2319l2,1-28,11-2-2zM1897,2320l3,2-27,11-4-2zM1900,2322l3,1-26,11-4-1z />
<path color=#124e47 d=M1903,2323l3,1-25,11-4-1zM1906,2324l3,1-24,11-4-1z />
<path color=#0f413b d=M1909,2325l4,1-23,10-5,0z />
<path color=#124239 d=M1913,2326l4,1-21,9-6,0z />
<path color=#0e352e d=M1917,2327l5,0-20,8-6,1z />
<path color=#0b2722 d=M1922,2327l4,1-18,7-6,0zM1970,2338l6,2-2,3-8-4zM1976,2340l6,2,0,4-8-3z />
<path color=#0d2821 d=M1926,2328l5,1-17,5-6,1zM1931,2329l5,0-15,5-7,0zM1936,2329l5,1-13,4-7,0zM1941,2330l6,1-12,3-7,0zM1952,2333l6,1-8,1-7-1zM1958,2334l6,2-6,1-8-2zM1964,2336l6,2-4,1-8-2z />
<path color=#0f2820 d=M1947,2331l5,2-9,1-8,0z />
<path color=#092724 d=M1982,2342l5,2,2,6-7-4z />
<path color=#082725 d=M1987,2344l6,3,4,7-8-4z />
<path color=#062626 d=M1993,2347l6,2,6,10-8-5z />
<path color=#052627 d=M1999,2349l6,3,8,11-8-4z />
<path color=#032528 d=M2005,2352l6,2,9,12-7-3z />
<path color=#033136 d=M2011,2354l5,2,12,14-8-4z />
<path color=#033d45 d=M2016,2356l6,2,13,15-7-3z />
<path color=#023c46 d=M2022,2358l5,2,15,16-7-3z />
<path color=#034854 d=M2027,2360l5,1,17,17-7-2z />
<path color=#034755 d=M2032,2361l5,2,18,17-6-2z />
<path color=#034657 d=M2037,2363l4,1,20,18-6-2z />
<path color=#035067 d=M2041,2364l5,0,21,19-6-1z />
<path color=#045b75 d=M2046,2364l4,1,23,17-6,1z />
<path color=#045977 d=M2050,2365l4,0,24,16-5,1z />
<path color=#034e68 d=M2054,2365l3,0,25,14-4,2z />
<path color=#096469 d=M1860,2316l1,3-27,11,0-4zM1861,2319l0,3-26,12-1-4zM1861,2322l2,3-26,13-2-4zM1863,2325l1,2-25,14-2-3zM1864,2327l3,2-25,14-3-2z />
<path color=#0c6567 d=M1867,2329l2,2-24,15-3-3zM1869,2331l4,2-24,14-4-1zM1873,2333l4,1-23,15-5-2z />
<path color=#0e5958 d=M1877,2334l4,1-22,15-5-1zM1881,2335l4,1-21,14-5,0z />
<path color=#0f4d49 d=M1885,2336l5,0-20,13-6,1zM1890,2336l6,0-19,12-7,1z />
<path color=#0f413b d=M1896,2336l6-1-18,12-7,1z />
<path color=#0b2722 d=M1902,2335l6,0-16,10-8,2z />
<path color=#0d2821 d=M1908,2335l6-1-15,8-7,3zM1982,2346l7,4,2,4-9-7z />
<path color=#0f2820 d=M1914,2334l7,0-13,6-9,2zM1921,2334l7,0-12,3-8,3zM1974,2343l8,3,0,1-10-6z />
<path color=#11281f d=M1928,2334l7,0-10,1-9,2zM1966,2339l8,4-2-2-10-4z />
<path color=#13291e d=M1935,2334l8,0-9-1-9,2zM1943,2334l7,1-7-2-9,0zM1950,2335l8,2-5-3-10-1zM1958,2337l8,2-4-2-9-3z />
<path color=#092724 d=M1989,2350l8,4,4,6-10-6z />
<path color=#082725 d=M1997,2354l8,5,5,8-9-7z />
<path color=#052627 d=M2005,2359l8,4,7,10-10-6z />
<path color=#053235 d=M2013,2363l7,3,9,13-9-6z />
<path color=#033d45 d=M2020,2366l8,4,10,14-9-5z />
<path color=#034854 d=M2028,2370l7,3,12,16-9-5z />
<path color=#034755 d=M2035,2373l7,3,13,16-8-3z />
<path color=#035067 d=M2042,2376l7,2,15,18-9-4z />
<path color=#045b75 d=M2049,2378l6,2,16,16-7,0z />
<path color=#034e68 d=M2055,2380l6,2,18,13-8,1z />
<path color=#05616e d=M1834,2326l0,4-23,12,0-5zM1834,2330l1,4-23,12-1-4zM1839,2341l3,2-22,15-3-4zM1842,2343l3,3-21,14-4-2zM1845,2346l4,1-20,16-5-3zM1849,2347l5,2-20,15-5-1z />
<path color=#046070 d=M1835,2334l2,4-23,13-2-5zM1837,2338l2,3-22,13-3-3z />
<path color=#06636c d=M1854,2349l5,1-19,15-6-1z />
<path color=#096469 d=M1859,2350l5,0-18,16-6-1zM1864,2350l6-1-17,16-7,1z />
<path color=#0b585a d=M1870,2349l7-1-16,15-8,2z />
<path color=#0c4d4b d=M1877,2348l7-1-15,14-8,2z />
<path color=#0f413b d=M1884,2347l8-2-14,13-9,3z />
<path color=#0b2722 d=M1892,2345l7-3-12,11-9,5z />
<path color=#0f2820 d=M1899,2342l9-2-12,8-9,5z />
<path color=#11281f d=M1908,2340l8-3-10,5-10,6zM1982,2347l9,7,2,0-11-10z />
<path color=#15291d d=M1916,2337l9-2-9,1-10,6zM1972,2341l10,6,0-3-12-9z />
<path color=#18291c d=M1925,2335l9-2-7-3-11,6z />
<path color=#2b442d d=M1934,2333l9,0-6-6-10,3z />
<path color=#335236 d=M1943,2333l10,1-5-8-11,1zM1953,2334l9,3-3-8-11-3z />
<path color=#1f3625 d=M1962,2337l10,4-2-6-11-6z />
<path color=#0d2821 d=M1991,2354l10,6,3,5-11-11z />
<path color=#082725 d=M2001,2360l9,7,5,7-11-9z />
<path color=#052627 d=M2010,2367l10,6,6,10-11-9z />
<path color=#022528 d=M2020,2373l9,6,7,11-10-7z />
<path color=#023c46 d=M2029,2379l9,5,9,13-11-7z />
<path color=#023a48 d=M2038,2384l9,5,10,14-10-6z />
<path color=#035067 d=M2047,2389l8,3,12,12-10-1z />
<path color=#034359 d=M2055,2392l9,4,12,8-9,0z />
<path color=#035d74 d=M1811,2337l0,5-19,12,0-6zM1811,2342l1,4-18,13-2-5z />
<path color=#046784 d=M1812,2346l2,5-18,13-2-5zM1814,2351l3,3-18,15-3-5z />
<path color=#045b75 d=M1817,2354l3,4-18,14-3-3z />
<path color=#046982 d=M1820,2358l4,2-18,15-4-3zM1824,2360l5,3-17,14-6-2zM1829,2363l5,1-17,15-5-2z />
<path color=#046a80 d=M1834,2364l6,1-16,16-7-2z />
<path color=#046070 d=M1840,2365l6,1-15,15-7,0z />
<path color=#05616e d=M1846,2366l7-1-14,16-8,0z />
<path color=#06636c d=M1853,2365l8-2-13,16-9,2z />
<path color=#096469 d=M1861,2363l8-2-12,15-9,3z />
<path color=#0e5958 d=M1869,2361l9-3-12,14-9,4z />
<path color=#0d403d d=M1878,2358l9-5-11,13-10,6z />
<path color=#0d2821 d=M1887,2353l9-5-9,10-11,8z />
<path color=#11281f d=M1896,2348l10-6-8,6-11,10zM1993,2354l11,11,2-2-12-14z />
<path color=#18291c d=M1906,2342l10-6-7,1-11,11z />
<path color=#385234 d=M1916,2336l11-6-6-5-12,12z />
<path color=#5f7b49 d=M1927,2330l10-3-5-11-11,9z />
<path color=#76884c d=M1937,2327l11-1-3-14-13,4zM1948,2326l11,3-2-16-12-1z />
<path color=#70884f d=M1959,2329l11,6-1-14-12-8z />
<path color=#597b4b d=M1970,2335l12,9,0-10-13-13z />
<path color=#375f41 d=M1982,2344l11,10,1-5-12-15z />
<path color=#092724 d=M2004,2365l11,9,3,2-12-13z />
<path color=#062626 d=M2015,2374l11,9,5,2-13-9z />
<path color=#022528 d=M2026,2383l10,7,6,3-11-8z />
<path color=#01242a d=M2036,2390l11,7,7,4-12-8z />
<path color=#01232b d=M2047,2397l10,6,8-2-11,0z />
<path color=#01222c d=M2057,2403l10,1,9-3-11,0zM2067,2404l9,0,11-4-11,1zM2076,2404l9,0,12-5-10,1z />
<path color=#046585 d=M1812,2377l5,2-13,12-6-4zM1817,2379l7,2-13,13-7-3z />
<path color=#046784 d=M1824,2381l7,0-12,15-8-2z />
<path color=#046982 d=M1831,2381l8,0-11,14-9,1zM2115,2398l9-1,11-12-9-1z />
<path color=#046a80 d=M1839,2381l9-2-11,14-9,2zM2106,2398l9,0,11-14-10,0z />
<path color=#046c7e d=M1848,2379l9-3-10,14-10,3z />
<path color=#06636c d=M1857,2376l9-4-9,14-10,4z />
<path color=#0b585a d=M1866,2372l10-6-8,12-11,8z />
<path color=#0c342f d=M1876,2366l11-8-8,11-11,9z />
<path color=#0f2820 d=M1887,2358l11-10-7,7-12,14z />
<path color=#18291c d=M1898,2348l11-11-6,1-12,17z />
<path color=#556d41 d=M1909,2337l12-12-5-6-13,19z />
<path color=#818748 d=M1921,2325l11-9-3-15-13,18z />
<path color=#a09348 d=M1932,2316l13-4-3-22-13,11zM1957,2313l12,8-1-21-13-11z />
<path color=#a69345 d=M1945,2312l12,1-2-24-13,1z />
<path color=#8e954f d=M1969,2321l13,13,0-15-14-19z />
<path color=#6a8851 d=M1982,2334l12,15,1-9-13-21z />
<path color=#396d4d d=M1994,2349l12,14,2-5-13-18z />
<path color=#225d4b d=M2006,2363l12,13,3-4-13-14z />
<path color=#146762 d=M2018,2376l13,9,3-4-13-9z />
<path color=#0c6567 d=M2031,2385l11,8,5-3-13-9z />
<path color=#076f79 d=M2042,2393l12,8,6-11-13,0z />
<path color=#067a89 d=M2054,2401l11,0,7-13-12,2zM2065,2401l11,0,8-15-12,2z />
<path color=#05788c d=M2076,2401l11-1,8-15-11,1zM2087,2400l10-1,9-15-11,1z />
<path color=#04768e d=M2097,2399l9-1,10-14-10,0z />
<path color=#045b75 d=M2124,2397l8-1,12-10-9-1z />
<path color=#034359 d=M2132,2396l7-2,13-6-8-2z />
<path color=#057094 d=M1828,2395l9-2-9,15-10-2z />
<path color=#046982 d=M1837,2393l10-3-9,15-10,3zM2144,2386l8,2,10,2-8-10z />
<path color=#046c7e d=M1847,2390l10-4-8,14-11,5zM2135,2385l9,1,10-6-9-3z />
<path color=#06636c d=M1857,2386l11-8-7,14-12,8z />
<path color=#0c4d4b d=M1868,2378l11-9-6,12-12,11z />
<path color=#0d2821 d=M1879,2369l12-14-6,10-12,16z />
<path color=#18291c d=M1891,2355l12-17-5,5-13,22z />
<path color=#535f35 d=M1903,2338l13-19-4-5-14,29z />
<path color=#a69345 d=M1916,2319l13-18-4-19-13,32z />
<path color=#d7a137 d=M1929,2301l13-11-3-30-14,22z />
<path color=#d9ac2b d=M1942,2290l13-1-2-32-14,3z />
<path color=#c8972e d=M1955,2289l13,11-1-28-14-15z />
<path color=#b6913e d=M1968,2300l14,19,0-17-15-30z />
<path color=#747a41 d=M1982,2319l13,21,1-7-14-31z />
<path color=#2e442b d=M1995,2340l13,18,2-1-14-24z />
<path color=#11281f d=M2008,2358l13,14,3,0-14-15z />
<path color=#0b2722 d=M2021,2372l13,9,4,1-14-10z />
<path color=#0a3431 d=M2034,2381l13,9,4-4-13-4z />
<path color=#0e5958 d=M2047,2390l13,0,5-7-14,3z />
<path color=#106664 d=M2060,2390l12-2,6-8-13,3z />
<path color=#127371 d=M2072,2388l12-2,6-9-12,3zM2084,2386l11-1,7-11-12,3z />
<path color=#0e7274 d=M2095,2385l11-1,8-11-12,1zM2106,2384l10,0,9-11-11,0z />
<path color=#0a7077 d=M2116,2384l10,0,9-9-10-2z />
<path color=#076f79 d=M2126,2384l9,1,10-8-10-2z />
<path color=#047293 d=M1838,2405l11-5-7,14-11,2z />
<path color=#046a80 d=M1849,2400l12-8-7,13-12,9z />
<path color=#096469 d=M1861,2392l12-11-6,13-13,11z />
<path color=#0c342f d=M1873,2381l12-16-5,11-13,18z />
<path color=#15291d d=M1885,2365l13-22-4,7-14,26z />
<path color=#4a512c d=M1898,2343l14-29-4-4-14,40z />
<path color=#c19237 d=M1912,2314l13-32-3-22-14,50z />
<path color=#d2c11b d=M1925,2282l14-22-2-36-15,36z />
<path color=#d5d70c d=M1939,2260l14-3-1-38-15,5z />
<path color=#d3d110 d=M1953,2257l14,15,0-31-15-22z />
<path color=#c6a224 d=M1967,2272l15,30,0-16-15-45z />
<path color=#5a5026 d=M1982,2302l14,31,0,1-14-48z />
<path color=#1e2919 d=M1996,2333l14,24,1,8-15-31z />
<path color=#2d6c53 d=M2010,2357l14,15,2,10-15-17z />
<path color=#248373 d=M2024,2372l14,10,3,11-15-11z />
<path color=#19817a d=M2038,2382l13,4,4,6-14,1zM2051,2386l14-3,4,6-14,3z />
<path color=#17746e d=M2065,2383l13-3,5,5-14,4zM2078,2380l12-3,6,4-13,4z />
<path color=#146762 d=M2090,2377l12-3,7,4-13,3z />
<path color=#0f4d49 d=M2102,2374l12-1,7,3-12,2z />
<path color=#082725 d=M2114,2373l11,0,7,3-11,0z />
<path color=#062626 d=M2125,2373l10,2,8,2-11-1z />
<path color=#032528 d=M2135,2375l10,2,9,2-11-2z />
<path color=#022529 d=M2145,2377l9,3,9,3-9-4z />
<path color=#034657 d=M2154,2380l8,10,10,14-9-21z />
<path color=#01222c d=M1842,2414l12-9-5,8-13,8z />
<path color=#023137 d=M1854,2405l13-11-5,8-13,11z />
<path color=#062626 d=M1867,2394l13-18-4,9-14,17z />
<path color=#11281f d=M1880,2376l14-26-4,7-14,28z />
<path color=#252916 d=M1894,2350l14-40-3,0-15,47z />
<path color=#a47e23 d=M1908,2310l14-50-2-14-15,64z />
<path color=#c4c50b d=M1922,2260l15-36-2-20-15,42zM1952,2219l15,22-1-17-16-24z />
<path color=#d5d70c d=M1937,2224l15-5-2-19-15,4z />
<path color=#7a730e d=M1967,2241l15,45,0-5-16-57z />
<path color=#302812 d=M1982,2286l14,48,1,7-15-60z />
<path color=#385234 d=M1996,2334l15,31,2,11-16-35z />
<path color=#31866b d=M2011,2365l15,17,2,14-15-20z />
<path color=#1c8e86 d=M2026,2382l15,11,2,13-15-10z />
<path color=#118b8d d=M2041,2393l14-1,3,13-15,1zM2055,2392l14-3,4,13-15,3zM2121,2376l11,0,7,11-12,2z />
<path color=#168c8a d=M2069,2389l14-4,4,13-14,4zM2083,2385l13-4,5,13-14,4zM2096,2381l13-3,5,13-13,3zM2109,2378l12-2,6,13-13,2z />
<path color=#0f7e81 d=M2132,2376l11,1,7,11-11-1z />
<path color=#076f79 d=M2143,2377l11,2,7,10-11-1z />
<path color=#045560 d=M2154,2379l9,4,8,8-10-2z />
<path color=#034e68 d=M2163,2383l9,21,8,13-9-26z />
<path color=#057094 d=M1836,2421l13-8-4,12-13-4z />
<path color=#057ba3 d=M1849,2413l13-11-4,26-13-3zM2150,2388l11,1,6,20-11,5zM2161,2389l10,2,6,14-10,4z />
<path color=#0686b2 d=M1862,2402l14-17-3,45-15-2zM1876,2385l14-28-3,76-14-3zM1890,2357l15-47-3,125-15-2zM1905,2310l15-64-2,191-16-2zM1920,2246l15-42-2,234-15-1zM1935,2204l15-4-1,239-16-1zM1950,2200l16,24-1,215-16,0zM1966,2224l16,57,0,159-17-1zM1982,2281l15,60,1,98-16,1zM1997,2341l16,35,1,63-16,0zM2013,2376l15,20,2,42-16,1zM2028,2396l15,10,2,31-15,1zM2043,2406l15-1,3,30-16,2zM2058,2405l15-3,3,31-15,2zM2073,2402l14-4,3,32-14,3zM2087,2398l14-4,4,34-15,2zM2101,2394l13-3,4,34-13,3zM2114,2391l13-2,4,32-13,4zM2127,2389l12-2,5,31-13,3zM2139,2387l11,1,6,26-12,4z />
<path stroke=#012 stroke-opacity=.5 stroke-width=1.5 fill=none d=M1849,2413l-4,12M1862,2402l-4,26M1876,2385l-3,45M1890,2357l-3,76M1905,2310l-3,125M1920,2246l-2,191M1935,2204l-2,234M1950,2200l-1,239M1966,2224l-1,215M1982,2281l0,159M1997,2341l1,98M2013,2376l1,63M2028,2396l2,42M2043,2406l2,31M2058,2405l3,30M2073,2402l3,31M2087,2398l3,32M2101,2394l4,34M2114,2391l4,34M2127,2389l4,32M2139,2387l5,31M2150,2388l6,26M2161,2389l6,20 /></g></g>
<g><path class="g" d="M607.5,517.1L535.5,483.4L535.5,410M631,510.6L558.9,477L558.9,403.6M654.4,504.2L582.4,470.5L582.4,397.1M566,515.1L659.9,489.3L659.9,415.9M548,506.7L641.9,480.9L641.9,407.5M530,498.3L623.9,472.5L623.9,399.1M512,471.5L605.9,445.7L677.9,479.4M512,453.2L605.9,427.4L677.9,461M512,434.8L605.9,409L677.9,442.7M512,416.5L605.9,390.7L677.9,424.3M605.9,464.1L605.9,390.7M512,489.9L605.9,464.1L677.9,497.7M677.9,497.7L677.9,424.3"/>
<path class="a" d="M512,416.5L512,489.9L584,523.5L677.9,497.7M584,523.5L582.4,524M566,515.1L564.4,515.5M548,506.7L546.4,507.1M530,498.3L528.4,498.7M512,489.9L510.4,490.3M584,523.5L585.6,524.2M607.5,517.1L609,517.8M631,510.6L632.5,511.3M654.4,504.2L656,504.9M677.9,497.7L679.4,498.4M512,489.9L510.3,489.9M512,471.5L510.3,471.5M512,453.2L510.3,453.2M512,434.8L510.3,434.8M512,416.5L510.3,416.5"/><g transform="scale(.2)" fill="currentColor" stroke="currentColor" stroke-width="2" stroke-linejoin="round"><path color=#04478f d=M3149,2357l-9-5,5-4,10,5zM3140,2352l-11-4,5-4,11,4zM3129,2348l-11-4,5-4,11,4zM3118,2344l-12-3,5-4,12,3zM3106,2341l-12-4,4-3,13,3zM3094,2337l-13-3,4-3,13,3zM3081,2334l-13-2,3-4,14,3zM3068,2332l-14-3,2-3,15,2zM3054,2329l-15-2,3-3,14,2zM3039,2327l-14-1,2-4,15,2zM3025,2326l-15-2,1-3,16,1zM3010,2324l-15,0,1-4,15,1zM2995,2324l-15-1,0-4,16,1zM2980,2323l-15,0,0-4,15,0zM2965,2323l-16,1,0-5,16,0zM3180,2377l-7-5,7-5,7,5zM3173,2372l-7-5,7-5,7,5zM3166,2367l-8-5,6-5,9,5zM3158,2362l-9-5,6-4,9,4z />
<path color=#044f9f d=M2949,2324l-15,1-1-5,16-1zM2934,2325l-15,2-1-6,15-1z />
<path color=#0354b0 d=M2919,2327l-15,3-2-8,16-1zM2904,2330l-14,3-3-9,15-2z />
<path color=#0151b1 d=M2890,2333l-15,6-2-13,14-2z />
<path color=#044db0 d=M2875,2339l-14,6-3-17,15-2z />
<path color=#0d4fbe d=M2861,2345l-13,8-4-22,14-3z />
<path color=#1a48b7 d=M2848,2353l-13,9-4-28,13-3z />
<path color=#293ca3 d=M2835,2362l-12,9-5-34,13-3z />
<path color=#2c379a d=M2823,2371l-12,9-5-40,12-3z />
<path color=#2e2d86 d=M2811,2380l-11,9-5-45,11-4z />
<path color=#2a2573 d=M2800,2389l-11,7-5-48,11-4zM2789,2396l-9,7-6-50,10-5z />
<path color=#2a216a d=M2780,2403l-9,4-6-50,9-4z />
<path color=#261e60 d=M2771,2407l-8,4-7-49,9-5z />
<path color=#262268 d=M2763,2411l-7,1-7-45,7-5z />
<path color=#232265 d=M2756,2412l-7,1-7-41,7-5z />
<path color=#22266c d=M2749,2413l-5-1-7-35,5-5z />
<path color=#1b286d d=M2744,2412l-4,0-8-29,5-6z />
<path color=#142665 d=M2740,2412l-4-1-7-23,3-5z />
<path color=#0d245b d=M2736,2411l-2,1-8-18,3-6z />
<path color=#022350 d=M2734,2412l-2,1-7-14,1-5z />
<path color=#011d40 d=M2732,2413l0,2-8-10,1-6z />
<path color=#033770 d=M3197,2406l0-3,7-4,1,6z />
<path color=#023d80 d=M3197,2403l-2-5,8-4,1,5zM3195,2398l-2-5,7-5,3,6zM3193,2393l-3-5,7-5,3,5z />
<path color=#024590 d=M3190,2388l-5-6,7-5,5,6zM3185,2382l-5-5,7-5,5,5z />
<path color=#043f80 d=M3142,2359l-10-4,8-3,9,5zM3132,2355l-10-4,7-3,11,4zM3122,2351l-10-4,6-3,11,4zM3112,2347l-12-3,6-3,12,3zM3100,2344l-11-4,5-3,12,4zM2950,2327l-15,1-1-3,15-1zM2935,2328l-14,2-2-3,15-2zM3158,2368l-8-4,8-2,8,5z />
<path color=#033770 d=M3089,2340l-13-3,5-3,13,3zM3076,2337l-13-2,5-3,13,2zM3063,2335l-13-2,4-4,14,3zM3050,2333l-14-2,3-4,15,2zM3036,2331l-14-2,3-3,14,1zM3022,2329l-14-1,2-4,15,2zM3008,2328l-14-1,1-3,15,0zM2994,2327l-15,0,1-4,15,1zM2979,2327l-14,0,0-4,15,0zM2965,2327l-15,0-1-3,16-1zM3165,2373l-7-5,8-1,7,5zM3150,2364l-8-5,7-2,9,5z />
<path color=#023d80 d=M2921,2330l-14,3-3-3,15-3zM2907,2333l-14,4-3-4,14-3zM3180,2388l-4-5,9-1,5,6zM3176,2383l-5-5,9-1,5,5z />
<path color=#013b81 d=M2893,2337l-14,5-4-3,15-6z />
<path color=#033f90 d=M2879,2342l-13,6-5-3,14-6z />
<path color=#0a3b8e d=M2866,2348l-13,8-5-3,13-8z />
<path color=#133689 d=M2853,2356l-13,8-5-2,13-9z />
<path color=#1f2d7a d=M2840,2364l-11,9-6-2,12-9z />
<path color=#212973 d=M2829,2373l-12,9-6-2,12-9z />
<path color=#232265 d=M2817,2382l-10,9-7-2,11-9z />
<path color=#231f5e d=M2807,2391l-10,7-8-2,11-7z />
<path color=#1f1b53 d=M2797,2398l-10,6-7-1,9-7z />
<path color=#1b1543 d=M2787,2404l-8,5-8-2,9-4z />
<path color=#130f30 d=M2779,2409l-8,3-8-1,8-4z />
<path color=#0c0a1f d=M2771,2412l-7,1-8-1,7-1z />
<path color=#0c0b22 d=M2764,2413l-6,1-9-1,7-1z />
<path color=#0b0d24 d=M2758,2414l-5-1-9-1,5,1z />
<path color=#0a0f29 d=M2753,2413l-4-1-9,0,4,0z />
<path color=#09102b d=M2749,2412l-4,0-9-1,4,1z />
<path color=#06122e d=M2745,2412l-2,0-9,0,2-1z />
<path color=#011530 d=M2743,2412l-1,1-10,0,2-1z />
<path color=#001630 d=M2742,2413l-1,2-9,0,0-2z />
<path color=#011830 d=M3188,2406l-1-3,10,0,0,3z />
<path color=#033060 d=M3187,2403l-1-5,9,0,2,5z />
<path color=#023670 d=M3186,2398l-2-4,9-1,2,5zM3184,2394l-4-6,10,0,3,5zM3171,2378l-6-5,8-1,7,5z />
<path color=#043f80 d=M3133,2362l-9-5,8-2,10,4zM2937,2332l-14,2-2-4,14-2zM3155,2375l-7-5,10-2,7,5zM3148,2370l-7-4,9-2,8,4zM3141,2366l-8-4,9-3,8,5z />
<path color=#033770 d=M3124,2357l-9-3,7-3,10,4zM3115,2354l-11-4,8-3,10,4zM3104,2350l-10-3,6-3,12,3zM3094,2347l-12-3,7-4,11,4zM3082,2344l-11-3,5-4,13,3zM3071,2341l-13-3,5-3,13,2zM3058,2338l-12-2,4-3,13,2zM3046,2336l-13-1,3-4,14,2zM3033,2335l-14-2,3-4,14,2zM3019,2333l-13-1,2-4,14,1zM3006,2332l-14-1,2-4,14,1zM2992,2331l-14,0,1-4,15,0zM2978,2331l-13,0,0-4,14,0zM2965,2331l-14,0-1-4,15,0zM2951,2331l-14,1-2-4,15-1z />
<path color=#023d80 d=M2923,2334l-13,3-3-4,14-3zM2910,2337l-14,3-3-3,14-4z />
<path color=#013b81 d=M2896,2340l-13,5-4-3,14-5z />
<path color=#033880 d=M2883,2345l-12,6-5-3,13-6z />
<path color=#09347f d=M2871,2351l-13,7-5-2,13-8z />
<path color=#133689 d=M2858,2358l-11,8-7-2,13-8z />
<path color=#1f2d7a d=M2847,2366l-12,9-6-2,11-9z />
<path color=#212973 d=M2835,2375l-10,8-8-1,12-9z />
<path color=#22266c d=M2825,2383l-11,9-7-1,10-9z />
<path color=#1f1e5a d=M2814,2392l-9,7-8-1,10-7z />
<path color=#1b1849 d=M2805,2399l-9,6-9-1,10-6z />
<path color=#17143e d=M2796,2405l-8,4-9,0,8-5z />
<path color=#0c0a1f d=M2788,2409l-7,3-10,0,8-3zM2781,2412l-7,1-10,0,7-1z />
<path color=#0c0b22 d=M2774,2413l-6,1-10,0,6-1z />
<path color=#0b0d24 d=M2768,2414l-4-1-11,0,5,1z />
<path color=#0a0f29 d=M2764,2413l-4-1-11,0,4,1z />
<path color=#09102b d=M2760,2412l-4,0-11,0,4,0z />
<path color=#03142f d=M2756,2412l-2,0-11,0,2,0z />
<path color=#011530 d=M2754,2412l-1,1-11,0,1-1z />
<path color=#001630 d=M2753,2413l-1,1-11,1,1-2z />
<path color=#011830 d=M3177,2404l-1-2,11,1,1,3z />
<path color=#022850 d=M3176,2402l-1-4,11,0,1,5z />
<path color=#023670 d=M3175,2398l-2-4,11,0,2,4zM3173,2394l-3-5,10-1,4,6zM3170,2389l-5-5,11-1,4,5zM3165,2384l-4-4,10-2,5,5zM3161,2380l-6-5,10-2,6,5z />
<path color=#043f80 d=M3123,2364l-8-4,9-3,9,5z />
<path color=#033770 d=M3115,2360l-9-3,9-3,9,3zM3106,2357l-10-3,8-4,11,4zM3096,2354l-10-4,8-3,10,3zM3086,2350l-11-2,7-4,12,3zM3075,2348l-11-3,7-4,11,3zM3064,2345l-11-2,5-5,13,3zM3053,2343l-12-2,5-5,12,2zM3041,2341l-12-2,4-4,13,1zM3029,2339l-13-2,3-4,14,2zM3016,2337l-13-1,3-4,13,1zM3003,2336l-12,0,1-5,14,1zM2991,2336l-13-1,0-4,14,0zM2978,2335l-13,0,0-4,13,0zM2965,2335l-14,1,0-5,14,0zM2951,2336l-13,1-1-5,14-1zM2938,2337l-12,1-3-4,14-2zM3160,2394l-3-4,13-1,3,5zM3149,2381l-5-4,11-2,6,5zM3144,2377l-7-5,11-2,7,5zM3137,2372l-6-4,10-2,7,4zM3131,2368l-8-4,10-2,8,4z />
<path color=#023d80 d=M2926,2338l-13,3-3-4,13-3zM2913,2341l-13,3-4-4,14-3z />
<path color=#013b81 d=M2900,2344l-12,5-5-4,13-5z />
<path color=#033880 d=M2888,2349l-12,5-5-3,12-6z />
<path color=#09347f d=M2876,2354l-11,7-7-3,13-7z />
<path color=#11307a d=M2865,2361l-11,7-7-2,11-8z />
<path color=#172c73 d=M2854,2368l-11,8-8-1,12-9z />
<path color=#1b286d d=M2843,2376l-10,8-8-1,10-8z />
<path color=#1f2160 d=M2833,2384l-10,8-9,0,11-9z />
<path color=#1b1a4e d=M2823,2392l-9,6-9,1,9-7z />
<path color=#171743 d=M2814,2398l-8,6-10,1,9-6z />
<path color=#0c0a1f d=M2806,2404l-8,4-10,1,8-4zM2798,2408l-6,3-11,1,7-3z />
<path color=#0c0b22 d=M2792,2411l-7,1-11,1,7-1z />
<path color=#0b0d24 d=M2785,2412l-5,1-12,1,6-1z />
<path color=#0b0e26 d=M2780,2413l-5-1-11,1,4,1z />
<path color=#0a0f29 d=M2775,2412l-3,0-12,0,4,1z />
<path color=#06122e d=M2772,2412l-3-1-13,1,4,0z />
<path color=#03142f d=M2769,2411l-2,0-13,1,2,0z />
<path color=#011530 d=M2767,2411l-2,1-12,1,1-1z />
<path color=#001630 d=M2765,2412l0,2-13,0,1-1z />
<path color=#022850 d=M3164,2401l-2-3,13,0,1,4z />
<path color=#033060 d=M3162,2398l-2-4,13,0,2,4z />
<path color=#023670 d=M3157,2390l-3-4,11-2,5,5zM3154,2386l-5-5,12-1,4,4z />
<path color=#033770 d=M3111,2368l-7-4,11-4,8,4zM3104,2364l-9-3,11-4,9,3zM3095,2361l-9-3,10-4,10,3zM3086,2358l-9-3,9-5,10,4zM3077,2355l-10-3,8-4,11,2zM3067,2352l-10-2,7-5,11,3zM3057,2350l-11-2,7-5,11,2zM3046,2348l-11-2,6-5,12,2zM3035,2346l-11-2,5-5,12,2zM3024,2344l-12-1,4-6,13,2zM3012,2343l-11-1,2-6,13,1zM3001,2342l-12-1,2-5,12,0zM2989,2341l-12,0,1-6,13,1zM2977,2341l-12,0,0-6,13,0zM2965,2341l-13,0-1-5,14-1zM2952,2341l-12,1-2-5,13-1zM2940,2342l-12,2-2-6,12-1zM3146,2395l-3-4,14-1,3,4zM3143,2391l-3-4,14-1,3,4zM3140,2387l-5-4,14-2,5,5zM3135,2383l-5-4,14-2,5,4zM3130,2379l-5-4,12-3,7,5zM3125,2375l-7-4,13-3,6,4zM3118,2371l-7-3,12-4,8,4z />
<path color=#023670 d=M2928,2344l-11,2-4-5,13-3zM2917,2346l-12,3-5-5,13-3z />
<path color=#013371 d=M2905,2349l-11,4-6-4,12-5z />
<path color=#013b81 d=M2894,2353l-11,4-7-3,12-5z />
<path color=#033880 d=M2883,2357l-11,6-7-2,11-7z />
<path color=#09347f d=M2872,2363l-10,7-8-2,11-7z />
<path color=#11307a d=M2862,2370l-10,6-9,0,11-8z />
<path color=#18235f d=M2852,2376l-9,7-10,1,10-8z />
<path color=#1a205a d=M2843,2383l-9,7-11,2,10-8z />
<path color=#171948 d=M2834,2390l-8,6-12,2,9-6z />
<path color=#0f1130 d=M2826,2396l-8,6-12,2,8-6z />
<path color=#0c0b22 d=M2818,2402l-7,3-13,3,8-4z />
<path color=#0b0d24 d=M2811,2405l-7,3-12,3,6-3zM2804,2408l-5,1-14,3,7-1z />
<path color=#0b0e26 d=M2799,2409l-5,1-14,3,5-1z />
<path color=#0a0f29 d=M2794,2410l-5,0-14,2,5,1z />
<path color=#09102b d=M2789,2410l-3,0-14,2,3,0z />
<path color=#06122e d=M2786,2410l-3,0-14,1,3,1z />
<path color=#03142f d=M2783,2410l-2,0-14,1,2,0z />
<path color=#011530 d=M2781,2410l-1,1-15,1,2-1z />
<path color=#001630 d=M2780,2411l0,2-15,1,0-2z />
<path color=#022040 d=M3149,2401l-1-3,14,0,2,3z />
<path color=#033060 d=M3148,2398l-2-3,14-1,2,4z />
<path color=#033770 d=M3097,2371l-7-3,14-4,7,4zM3090,2368l-8-3,13-4,9,3zM3082,2365l-8-2,12-5,9,3zM3074,2363l-8-3,11-5,9,3zM3066,2360l-9-2,10-6,10,3zM3057,2358l-9-2,9-6,10,2zM3048,2356l-10-2,8-6,11,2zM3038,2354l-10-2,7-6,11,2zM3028,2352l-10-2,6-6,11,2zM3018,2350l-10-1,4-6,12,1zM3008,2349l-11-1,4-6,11,1zM2997,2348l-11,0,3-7,12,1zM2986,2348l-11-1,2-6,12,0zM2975,2347l-10,0,0-6,12,0zM2965,2347l-11,1-2-7,13,0zM2954,2348l-11,0-3-6,12-1zM2943,2348l-11,2-4-6,12-2zM3125,2392l-3-3,18-2,3,4zM3122,2389l-4-4,17-2,5,4zM3118,2385l-4-3,16-3,5,4zM3114,2382l-5-4,16-3,5,4zM3109,2378l-6-3,15-4,7,4zM3103,2375l-6-4,14-3,7,3z />
<path color=#023670 d=M2932,2350l-11,2-4-6,11-2zM2921,2352l-10,2-6-5,12-3zM2911,2354l-10,3-7-4,11-4z />
<path color=#013371 d=M2901,2357l-10,4-8-4,11-4z />
<path color=#023170 d=M2891,2361l-10,5-9-3,11-6z />
<path color=#082e6f d=M2881,2366l-9,5-10-1,10-7zM2872,2371l-9,5-11,0,10-6z />
<path color=#0d245b d=M2863,2376l-8,6-12,1,9-7z />
<path color=#0f1b48 d=M2855,2382l-8,6-13,2,9-7z />
<path color=#0e1436 d=M2847,2388l-8,5-13,3,8-6z />
<path color=#0b0e26 d=M2839,2393l-6,4-15,5,8-6zM2833,2397l-7,4-15,4,7-3zM2826,2401l-6,2-16,5,7-3z />
<path color=#0a0f29 d=M2820,2403l-5,2-16,4,5-1zM2815,2405l-4,1-17,4,5-1z />
<path color=#09102b d=M2811,2406l-4,0-18,4,5,0z />
<path color=#06122e d=M2807,2406l-3,1-18,3,3,0z />
<path color=#03142f d=M2804,2407l-3,0-18,3,3,0z />
<path color=#011530 d=M2801,2407l-1,1-19,2,2,0z />
<path color=#001630 d=M2800,2408l-2,2-18,1,1-1zM2798,2410l0,2-18,1,0-2z />
<path color=#011830 d=M3131,2400l-2-2,19,0,1,3z />
<path color=#033060 d=M3129,2398l-1-3,18,0,2,3zM3128,2395l-3-3,18-1,3,4z />
<path color=#033770 d=M3079,2376l-6-2,17-6,7,3zM3073,2374l-7-3,16-6,8,3zM3066,2371l-6-2,14-6,8,2zM3060,2369l-8-3,14-6,8,3zM3052,2366l-7-2,12-6,9,2zM3045,2364l-8-1,11-7,9,2zM3037,2363l-9-2,10-7,10,2zM3028,2361l-8-2,8-7,10,2zM3020,2359l-9-1,7-8,10,2zM3011,2358l-9-1,6-8,10,1zM3002,2357l-9-1,4-8,11,1zM2993,2356l-10,0,3-8,11,0zM2983,2356l-9-1,1-8,11,1zM2974,2355l-9,0,0-8,10,0zM2965,2355l-10,1-1-8,11-1zM2955,2356l-9,0-3-8,11,0zM2946,2356l-10,1-4-7,11-2zM2936,2357l-9,2-6-7,11-2zM3101,2391l-3-3,20-3,4,4zM3098,2388l-4-3,20-3,4,3zM3094,2385l-5-3,20-4,5,4zM3089,2382l-5-3,19-4,6,3zM3084,2379l-5-3,18-5,6,4z />
<path color=#023670 d=M2927,2359l-9,1-7-6,10-2zM2918,2360l-9,3-8-6,10-3zM2909,2363l-8,3-10-5,10-4z />
<path color=#013371 d=M2901,2366l-9,3-11-3,10-5z />
<path color=#023170 d=M2892,2369l-8,4-12-2,9-5z />
<path color=#022a60 d=M2884,2373l-7,4-14-1,9-5z />
<path color=#06275f d=M2877,2377l-8,4-14,1,8-6z />
<path color=#0b1e4c d=M2869,2381l-6,4-16,3,8-6z />
<path color=#06122e d=M2863,2385l-7,4-17,4,8-5zM2856,2389l-6,4-17,4,6-4zM2840,2398l-5,2-20,5,5-2zM2835,2400l-4,1-20,5,4-1z />
<path color=#09102b d=M2850,2393l-5,3-19,5,7-4zM2845,2396l-5,2-20,5,6-2z />
<path color=#03142f d=M2831,2401l-3,2-21,3,4,0zM2828,2403l-3,1-21,3,3-1z />
<path color=#011530 d=M2825,2404l-2,1-22,2,3,0z />
<path color=#001630 d=M2823,2405l-1,1-22,2,1-1zM2822,2406l-1,2-23,2,2-2z />
<path color=#011730 d=M2821,2408l-1,2-22,2,0-2z />
<path color=#022850 d=M3107,2399l-1-3,22-1,1,3z />
<path color=#033060 d=M3106,2396l-2-3,21-1,3,3zM3104,2393l-3-2,21-2,3,3z />
<path color=#033770 d=M3058,2382l-5-3,20-5,6,2zM3053,2379l-5-2,18-6,7,3zM3048,2377l-5-1,17-7,6,2zM3043,2376l-6-2,15-8,8,3zM3037,2374l-7-2,15-8,7,2zM3030,2372l-6-1,13-8,8,1zM3024,2371l-7-2,11-8,9,2zM3017,2369l-7-1,10-9,8,2zM3010,2368l-7-1,8-9,9,1zM3003,2367l-8-1,7-9,9,1zM2995,2366l-7,0,5-10,9,1zM2988,2366l-8-1,3-9,10,0zM2980,2365l-8,0,2-10,9,1zM2972,2365l-7,0,0-10,9,0zM2965,2365l-8,0-2-9,10-1zM2957,2365l-8,0-3-9,9,0zM2949,2365l-8,1-5-9,10-1zM2941,2366l-7,1-7-8,9-2zM2934,2367l-8,1-8-8,9-1zM3077,2393l-3-2,24-3,3,3zM3074,2391l-3-3,23-3,4,3zM3071,2388l-4-2,22-4,5,3zM3067,2386l-4-2,21-5,5,3zM3063,2384l-5-2,21-6,5,3z />
<path color=#023670 d=M2926,2368l-7,2-10-7,9-3zM2919,2370l-7,2-11-6,8-3zM2912,2372l-7,2-13-5,9-3z />
<path color=#013371 d=M2905,2374l-6,2-15-3,8-4zM2899,2376l-7,3-15-2,7-4z />
<path color=#012c60 d=M2892,2379l-6,3-17-1,8-4z />
<path color=#022a60 d=M2886,2382l-5,3-18,0,6-4z />
<path color=#022350 d=M2881,2385l-5,3-20,1,7-4z />
<path color=#011530 d=M2876,2388l-5,2-21,3,6-4zM2871,2390l-5,3-21,3,5-3zM2866,2393l-4,2-22,3,5-2zM2862,2395l-4,1-23,4,5-2zM2858,2396l-3,2-24,3,4-1zM2855,2398l-3,2-24,3,3-2z />
<path color=#001630 d=M2852,2400l-2,1-25,3,3-1zM2850,2401l-2,2-25,2,2-1z />
<path color=#011730 d=M2848,2403l-1,2-25,1,1-1zM2847,2405l-1,2-25,1,1-2z />
<path color=#011f40 d=M2846,2407l0,2-26,1,1-2z />
<path color=#022850 d=M3082,2399l-1-2,25-1,1,3z />
<path color=#033060 d=M3081,2397l-2-2,25-2,2,3zM3079,2395l-2-2,24-2,3,2z />
<path color=#033770 d=M3035,2388l-4-2,22-7,5,3zM3031,2386l-4-1,21-8,5,2zM3027,2385l-4-2,20-7,5,1zM3023,2383l-4-1,18-8,6,2zM3019,2382l-5-1,16-9,7,2zM3014,2381l-5-1,15-9,6,1zM3009,2380l-5-1,13-10,7,2zM3004,2379l-6-1,12-10,7,1zM2998,2378l-5-1,10-10,7,1zM2993,2377l-6,0,8-11,8,1zM2987,2377l-5-1,6-10,7,0zM2982,2376l-6,0,4-11,8,1zM2976,2376l-6,0,2-11,8,0zM2970,2376l-5-1,0-10,7,0zM2965,2375l-6,1-2-11,8,0zM2959,2376l-6,0-4-11,8,0zM2953,2376l-6,0-6-10,8-1zM2947,2376l-5,1-8-10,7-1zM2942,2377l-6,1-10-10,8-1zM2936,2378l-5,1-12-9,7-2zM3046,2394l-2-1,27-5,3,3zM3044,2393l-3-2,26-5,4,2zM3041,2391l-3-2,25-5,4,2zM3038,2389l-3-1,23-6,5,2z />
<path color=#023670 d=M2931,2379l-6,1-13-8,7-2zM2925,2380l-5,1-15-7,7-2zM2920,2381l-5,1-16-6,6-2zM2915,2382l-5,2-18-5,7-3zM2910,2384l-4,2-20-4,6-3zM2906,2386l-4,2-21-3,5-3z />
<path color=#012c60 d=M2902,2388l-4,1-22-1,5-3zM2898,2389l-4,2-23-1,5-2z />
<path color=#012550 d=M2894,2391l-3,2-25,0,5-3z />
<path color=#011d40 d=M2891,2393l-3,2-26,0,4-2z />
<path color=#001630 d=M2888,2395l-3,1-27,0,4-1z />
<path color=#011730 d=M2885,2396l-2,2-28,0,3-2zM2883,2398l-3,1-28,1,3-2zM2880,2399l-1,2-29,0,2-1z />
<path color=#011f40 d=M2879,2401l-2,2-29,0,2-2zM2877,2403l0,1-30,1,1-2z />
<path color=#012650 d=M2877,2404l-1,2-30,1,1-2z />
<path color=#033060 d=M2876,2406l0,2-30,1,0-2zM3052,2399l-2-1,29-3,2,2zM3050,2398l-1-2,28-3,2,2zM3049,2396l-3-2,28-3,3,2z />
<path color=#022850 d=M3052,2401l0-2,29-2,1,2z />
<path color=#033770 d=M3011,2394l-5-2,21-7,8,3zM3006,2392l-5-2,18-8,8,3zM3001,2390l-7-1,15-9,10,2zM2994,2389l-7-1,11-10,11,2zM2987,2388l-7-1,7-10,11,1zM2980,2387l-8-1,4-10,11,1zM2972,2386l-7,0,0-11,11,1zM2965,2386l-8,0-4-10,12-1zM2957,2386l-8,1-7-10,11-1zM2949,2387l-7,1-11-9,11-2zM2942,2388l-7,1-15-8,11-2zM2935,2389l-7,2-18-7,10-3zM3019,2398l-3-2,25-5,5,3zM3016,2396l-5-2,24-6,6,3z />
<path color=#023670 d=M2928,2391l-5,2-21-5,8-4zM2923,2393l-5,2-24-4,8-3z />
<path color=#012e60 d=M2918,2395l-5,3-25-3,6-4zM2913,2398l-3,2-27-2,5-3zM2910,2400l-3,2-28-1,4-3z />
<path color=#033060 d=M2907,2402l-1,3-29-1,2-3zM2906,2405l-1,2-29,1,1-4zM3023,2402l-1-2,28-2,2,3zM3022,2400l-3-2,27-4,4,4z />
<path color=#033770 d=M2988,2400l-3-1,21-7,5,2zM2985,2399l-2-1,18-8,5,2zM2983,2398l-4-1,15-8,7,1zM2979,2397l-3,0,11-9,7,1zM2976,2397l-4-1,8-9,7,1zM2972,2396l-4,0,4-10,8,1zM2968,2396l-3,0,0-10,7,0zM2965,2396l-4,0-4-10,8,0zM2961,2396l-4,1-8-10,8-1zM2957,2397l-4,0-11-9,7-1zM2953,2397l-3,1-15-9,7-1zM2950,2398l-3,1-19-8,7-2zM2947,2399l-3,1-21-7,5-2zM2944,2400l-3,1-23-6,5-2zM2941,2401l-2,1-26-4,5-3zM2939,2402l-2,1-27-3,3-2zM2936,2404l-1,1-29,0,1-3zM2935,2405l0,2-30,0,1-2zM2990,2401l-2-1,23-6,5,2z />
<path color=#033060 d=M2937,2403l-1,1-29-2,3-2zM2994,2404l-1-1,29-3,1,2zM2993,2403l-1-1,27-4,3,2zM2992,2402l-2-1,26-5,3,2z />
<path color=#033770 d=M2965,2406l18-8,5,2zM2965,2406l11-9,7,1zM2965,2406l3-10,8,1zM2965,2406l-4-10,7,0zM2965,2406l-12-9,8-1zM2965,2406l-18-7,6-2zM2965,2406l-24-5,6-2zM2965,2406l-28-3,4-2zM2965,2406l-30-1,2-2zM2965,2406l-30,2,0-3zM2965,2406l23-6,4,2z />
<path color=#033060 d=M2965,2406l27-4,2,2z />
<path color=#033770 d=M2965,2406l-28,4-2-2zM2965,2406l-24,6-4-2z />
<path color=#033060 d=M2965,2406l-18,8-6-2zM2965,2406l-12,9-6-1zM2965,2406l29-2,0,2z />
<path color=#033770 d=M2935,2407l0,1-29,2-1-3zM2935,2408l1,1-29,3-1-2zM2936,2409l1,1-27,5-3-3zM2937,2410l2,1-26,6-3-2zM2939,2411l2,1-23,7-5-2z />
<path color=#033060 d=M2941,2412l3,1-21,7-5-1zM2944,2413l3,1-19,7-5-1z />
<path color=#033770 d=M2905,2407l1,3-29,2-1-4zM2906,2410l1,2-28,3-2-3zM2907,2412l3,3-27,4-4-4zM2910,2415l3,2-25,5-5-3zM2913,2417l5,2-24,6-6-3zM2918,2419l5,1-21,8-8-3z />
<path color=#033060 d=M2876,2408l0,2-30,1,0-2zM2902,2428l4,1-20,8-5-1z />
<path color=#033770 d=M2876,2410l1,2-30,1-1-2zM2877,2412l0,1-29,3-1-3zM2877,2413l2,2-29,3-2-2zM2879,2415l1,2-28,4-2-3zM2880,2417l3,2-28,4-3-2zM2883,2419l2,2-27,5-3-3zM2885,2421l3,1-26,6-4-2zM2888,2422l3,2-25,6-4-2zM2891,2424l3,1-23,7-5-2zM2894,2425l4,2-22,7-5-2zM2898,2427l4,1-21,8-5-2z />
<path color=#012650 d=M2846,2409l0,2-25,2-1-3z />
<path color=#033060 d=M2846,2411l1,2-25,2-1-2zM2881,2436l5,1-17,7-6-1z />
<path color=#033770 d=M2847,2413l1,3-25,2-1-3zM2848,2416l2,2-25,3-2-3zM2850,2418l2,3-24,3-3-3zM2852,2421l3,2-24,4-3-3zM2855,2423l3,3-23,4-4-3zM2858,2426l4,2-22,5-5-3zM2862,2428l4,2-21,6-5-3zM2866,2430l5,2-21,6-5-2zM2871,2432l5,2-20,7-6-3zM2876,2434l5,2-18,7-7-2z />
<path color=#011f40 d=M2820,2410l1,3-23,1,0-2z />
<path color=#012e60 d=M2821,2413l1,2-22,2-2-3z />
<path color=#033060 d=M2822,2415l1,3-22,2-1-3z />
<path color=#033770 d=M2823,2418l2,3-21,2-3-3zM2825,2421l3,3-21,3-3-4zM2828,2424l3,3-20,3-4-3zM2831,2427l4,3-20,4-4-4zM2835,2430l5,3-20,4-5-3zM2840,2433l5,3-19,5-6-4zM2845,2436l5,2-17,6-7-3zM2850,2438l6,3-17,5-6-2zM2856,2441l7,2-16,6-8-3zM2863,2443l6,1-14,7-8-2z />
<path color=#011730 d=M2798,2412l0,2-18,1,0-2z />
<path color=#012650 d=M2798,2414l2,3-19,1-1-3z />
<path color=#012e60 d=M2800,2417l1,3-18,2-2-4z />
<path color=#033770 d=M2801,2420l3,3-18,2-3-3zM2804,2423l3,4-18,2-3-4zM2807,2427l4,3-17,3-5-4zM2811,2430l4,4-16,3-5-4zM2815,2434l5,3-16,4-5-4zM2820,2437l6,4-15,4-7-4zM2826,2441l7,3-15,4-7-3zM2833,2444l6,2-13,5-8-3zM2839,2446l8,3-13,5-8-3zM2847,2449l8,2-12,5-9-2zM2855,2451l8,1-11,6-9-2z />
<path color=#011730 d=M2780,2413l0,2-15,1,0-2z />
<path color=#011f40 d=M2780,2415l1,3-14,1-2-3z />
<path color=#012e60 d=M2781,2418l2,4-14,1-2-4z />
<path color=#033060 d=M2783,2422l3,3-14,2-3-4z />
<path color=#033770 d=M2786,2425l3,4-14,2-3-4zM2789,2429l5,4-14,2-5-4zM2794,2433l5,4-14,2-5-4zM2799,2437l5,4-12,3-7-5zM2804,2441l7,4-13,3-6-4zM2811,2445l7,3-12,4-8-4zM2818,2448l8,3-12,4-8-3zM2826,2451l8,3-11,4-9-3zM2834,2454l9,2-10,5-10-3zM2843,2456l9,2-9,5-10-2z />
<path color=#001630 d=M2765,2414l0,2-12,1-1-3z />
<path color=#011f40 d=M2765,2416l2,3-13,1-1-3z />
<path color=#012e60 d=M2767,2419l2,4-13,1-2-4z />
<path color=#033060 d=M2769,2423l3,4-12,1-4-4z />
<path color=#033770 d=M2772,2427l3,4-11,1-4-4zM2775,2431l5,4-12,2-4-5zM2780,2435l5,4-11,2-6-4zM2785,2439l7,5-11,2-7-5zM2792,2444l6,4-10,2-7-4zM2798,2448l8,4-10,2-8-4zM2806,2452l8,3-9,3-9-4zM2814,2455l9,3-9,4-9-4zM2823,2458l10,3-8,4-11-3zM2833,2461l10,2-8,4-10-2zM2843,2463l11,0-7,5-12-1z />
<path color=#001630 d=M2752,2414l1,3-11,0-1-2z />
<path color=#011f40 d=M2753,2417l1,3-11,1-1-4z />
<path color=#012e60 d=M2754,2420l2,4-11,1-2-4zM2756,2424l4,4-11,1-4-4z />
<path color=#033770 d=M2760,2428l4,4-11,2-4-5zM2764,2432l4,5-10,1-5-4zM2768,2437l6,4-10,2-6-5zM2774,2441l7,5-10,2-7-5zM2781,2446l7,4-9,3-8-5zM2825,2465l10,2-6,4-12-2zM2835,2467l12,1-7,5-11-2z />
<path color=#043f80 d=M2788,2450l8,4-9,3-8-4zM2796,2454l9,4-8,3-10-4zM2805,2458l9,4-7,3-10-4zM2814,2462l11,3-8,4-10-4z />
<path color=#001630 d=M2741,2415l1,2-10,0,0-2z />
<path color=#011f40 d=M2742,2417l1,4-9,0-2-4z />
<path color=#012650 d=M2743,2421l2,4-9,0-2-4z />
<path color=#033060 d=M2745,2425l4,4-9,1-4-5zM2829,2471l11,2-5,3-12-2z />
<path color=#033770 d=M2749,2429l4,5-9,1-4-5zM2753,2434l5,4-9,2-5-5zM2758,2438l6,5-8,2-7-5zM2764,2443l7,5-8,2-7-5zM2771,2448l8,5-8,1-8-4zM2817,2469l12,2-6,3-12-2z />
<path color=#043f80 d=M2779,2453l8,4-7,2-9-5zM2787,2457l10,4-8,3-9-5z />
<path color=#023d80 d=M2797,2461l10,4-7,3-11-4zM2807,2465l10,4-6,3-11-4z />
<path color=#011830 d=M2732,2415l0,2-7-6-1-6zM2732,2417l2,4-8-5-1-5zM2744,2435l5,5-7-2-5-5zM2749,2440l7,5-7-2-7-5zM2756,2445l7,5-7-2-7-5zM2763,2450l8,4-6-1-9-5zM2771,2454l9,5-6-2-9-4zM2780,2459l9,5-5-2-10-5zM2789,2464l11,4-5-2-11-4zM2800,2468l11,4-5-2-11-4zM2811,2472l12,2-5-1-12-3zM2823,2474l12,2-4,1-13-4z />
<path color=#022040 d=M2734,2421l2,4-7-3-3-6zM2736,2425l4,5-8-3-3-5zM2740,2430l4,5-7-2-5-6z />
<path color=#033060 d=M2835,2476l13,1-4,3-13-3z />
<path color=#033770 fill-rule=evenodd d=M2922,2522l369-102-283-132-370,102zM3155,2353l-10-5-11-4-11-4-12-3-13-3-13-3-14-3-15-2-14-2-15-2-16-1-15-1-16-1-15,0-16,0-16,1-15,1-16,1-15,2-14,2-15,2-14,3-13,3-13,3-12,3-11,4-11,4-10,5-9,4-9,5-7,5-7,5-5,5-5,6-3,5-3,6-1,5-1,6,1,6,1,5,3,6,3,5,5,6,5,5,7,5,7,5,9,5,9,4,10,5,11,4,11,4,12,3,13,4,13,3,14,2,15,3,14,2,15,1,16,2,15,0,16,1,16,0,15,0,16-1,15,0,16-2,15-1,14-2,15-3,14-2,13-3,13-4,12-3,11-4,11-4,10-5,9-4,9-5,7-5,7-5,5-5,5-6,3-5,3-6,1-5,1-6-1-6-1-5-3-6-3-5-5-6-5-5-7-5-7-5-9-5z />
<path color=#011830 d=M3164,2403l0-2,12,1,1,2z />
<path color=#02192f d=M3149,2402l0-1,15,0,0,2z />
<path color=#02192f d=M3131,2401l0-1,18,1,0,1z />
<path color=#02192f d=M3109,2401l-1-1,23,0,0,1z />
<path color=#011830 d=M3108,2400l-1-1,22-1,2,2z />
<path color=#02192f d=M3083,2402l0-1,25-1,1,1zM3083,2401l-1-2,25,0,1,1z />
<path color=#02192f d=M3053,2403l0-1,30-1,0,1zM3053,2402l-1-1,30-2,1,2z />
<path color=#02192f d=M3024,2404l-1-2,29-1,1,2z />
<path color=#022040 d=M2994,2405l0-1,29-2,1,2z />
<path color=#033060 d=M2965,2406l-4,9-8,0z />
<path color=#04315f d=M2965,2406l3,8-7,1zM2965,2406l11,7-8,1z />
<path color=#04294f d=M2965,2406l18,6-7,1zM2965,2406l23,4-5,2zM2965,2406l27,2-4,2z />
<path color=#022850 d=M2965,2406l29,0-2,2z />
<path color=#022850 d=M2947,2414l3,0-15,8-7-1z />
<path color=#03213f d=M2950,2414l3,1-11,7-7,0zM2953,2415l4,0-8,7-7,0zM2994,2406l0-1,30-1-1,2z />
<path color=#02192f d=M2957,2415l4,0-4,6-8,1zM2961,2415l4-1,0,6-8,1zM2965,2414l3,0,4,5-7,1zM2985,2411l3-1,23,1-5,2zM2988,2410l2-1,26,1-5,1zM2990,2409l2-1,27,1-3,1zM2992,2408l1-1,29,0-3,2zM2993,2407l1-1,29,0-1,1z />
<path color=#03192f d=M2968,2414l4-1,8,5-8,1zM2972,2413l4,0,11,3-7,2zM2976,2413l3-1,15,3-7,1zM2979,2412l4,0,18,2-7,1zM2983,2412l2-1,21,2-5,1z />
<path color=#033060 d=M2923,2420l5,1-18,8-8-1z />
<path color=#03213f d=M2928,2421l7,1-15,7-10,0z />
<path color=#02192f d=M2935,2422l7,0-11,7-11,0zM3022,2407l1-1,29-1-2,1zM3023,2406l1-2,29-1-1,2z />
<path color=#03192f d=M2942,2422l7,0-7,6-11,1zM2949,2422l8-1-4,5-11,2zM3016,2410l3-1,27-2-5,1zM3019,2409l3-2,28-1-4,1z />
<path color=#041a2f d=M2957,2421l8-1,0,3-12,3zM2965,2420l7-1,4,2-11,2zM2972,2419l8-1,7,0-11,3zM3006,2413l5-2,24-2-8,2zM3011,2411l5-1,25-2-6,1z />
<path color=#041b2e d=M2980,2418l7-2,11,0-11,2zM2987,2416l7-1,15-1-11,2zM2994,2415l7-1,18-2-10,2zM3001,2414l5-1,21-2-8,1z />
<path color=#04294f d=M2906,2429l4,0-18,8-6,0z />
<path color=#03213f d=M2910,2429l5,0-16,8-7,0z />
<path color=#02192f d=M2915,2429l5,0-15,8-6,0zM3053,2404l0-1,30-1,0,1z />
<path color=#03192f d=M2920,2429l5,0-13,7-7,1zM2925,2429l6,0-12,6-7,1zM2931,2429l5-1-10,5-7,2zM3052,2405l0,0,30-2-1,0zM3052,2405l1-1,30-1-1,0z />
<path color=#041a2f d=M2936,2428l6,0-8,3-8,2zM2942,2428l5-1-6,2-7,2zM3049,2407l1-1,29-3-2,0zM3050,2406l2-1,29-2-2,0z />
<path color=#041b2e d=M2947,2427l6-1-4,1-8,2zM2953,2426l6-2-2,1-8,2zM2959,2424l6-1,0,0-8,2zM2965,2423l5-1,2-1-7,2zM3038,2409l3-1,26-5-4,0zM3041,2408l3,0,27-5-4,0zM3044,2408l2-1,28-4-3,0zM3046,2407l3,0,28-4-3,0z />
<path color=#041c2e d=M2970,2422l6-1,4-2-8,2zM2976,2421l6-1,6-3-8,2zM2982,2420l5-2,8-3-7,2zM2987,2418l6-1,10-3-8,1zM3023,2411l4,0,21-6-5,1zM3027,2411l4-1,22-6-5,1zM3031,2410l4-1,23-6-5,1zM3035,2409l3,0,25-6-5,0z />
<path color=#041d2d d=M2993,2417l5-1,12-4-7,2zM2998,2416l6-1,13-4-7,1zM3004,2415l5-1,15-5-7,2zM3009,2414l5-1,16-5-6,1zM3014,2413l5-1,18-5-7,1zM3019,2412l4-1,20-5-6,1z />
<path color=#04294f d=M2886,2437l6,0-15,8-8-1z />
<path color=#03213f d=M2892,2437l7,0-15,8-7,0z />
<path color=#02192f d=M2899,2437l6,0-13,7-8,1z />
<path color=#03192f d=M2905,2437l7-1-11,6-9,2zM3082,2403l1,0,25-2-1,0zM3083,2403l0-1,26-1-1,0z />
<path color=#041a2f d=M2912,2436l7-1-10,4-8,3zM3081,2403l1,0,25-2-1-1z />
<path color=#041b2e d=M2919,2435l7-2-8,3-9,3zM2926,2433l8-2-7,1-9,4zM3077,2403l2,0,25-4-3-2zM3079,2403l2,0,25-3-2-1z />
<path color=#041c2e d=M2934,2431l7-2-5-1-9,4zM2941,2429l8-2-3-2-10,3zM3074,2403l3,0,24-6-3-1z />
<path color=#041d2d d=M2949,2427l8-2-2-4-9,4zM3071,2403l3,0,24-7-4-2z />
<path color=#041e2d d=M2957,2425l8-2,0-5-10,3zM3063,2403l4,0,22-9-5-1zM3067,2403l4,0,23-9-5,0z />
<path color=#031f2d d=M2965,2423l7-2,2-5-9,2zM2972,2421l8-2,3-5-9,2zM2980,2419l8-2,5-5-10,2zM3053,2404l5-1,21-9-6,1zM3058,2403l5,0,21-10-5,1z />
<path color=#02202d d=M2988,2417l7-2,7-4-9,1zM2995,2415l8-1,8-4-9,1zM3003,2414l7-2,10-4-9,2zM3010,2412l7-1,11-4-8,1zM3017,2411l7-2,13-4-9,2zM3024,2409l6-1,15-5-8,2zM3030,2408l7-1,15-6-7,2zM3037,2407l6-1,17-7-8,2zM3043,2406l5-1,18-8-6,2zM3048,2405l5-1,20-9-7,2z />
<path color=#033060 d=M2869,2444l8,1-14,7-8-1z />
<path color=#03213f d=M2877,2445l7,0-12,7-9,0z />
<path color=#03192f d=M2884,2445l8-1-11,6-9,2zM3108,2401l1,0,22,0,0,0z />
<path color=#041a2f d=M2892,2444l9-2-10,4-10,4zM3107,2401l1,0,23,0-2-2z />
<path color=#041b2e d=M2901,2442l8-3-8,3-10,4zM2909,2439l9-3-7,0-10,6zM3106,2400l1,1,22-2-1-3z />
<path color=#041d2d d=M2918,2436l9-4-6-3-10,7z />
<path color=#06324b d=M2927,2432l9-4-4-5-11,6z />
<path color=#064a69 d=M2936,2428l10-3-3-8-11,6z />
<path color=#044c68 d=M2946,2425l9-4-1-8-11,4zM3089,2394l5,0,20-12-5-1z />
<path color=#034e68 d=M2955,2421l10-3,0-7-11,2z />
<path color=#034359 d=M2965,2418l9-2,1-6-10,1z />
<path color=#022d3b d=M2974,2416l9-2,3-5-11,1z />
<path color=#01222c d=M2983,2414l10-2,4-2-11-1zM2993,2412l9-1,6-1-11,0zM3002,2411l9-1,7-1-10,1zM3011,2410l9-2,8,1-10,0zM3020,2408l8-1,10,0-10,2zM3028,2407l9-2,11,0-10,2zM3037,2405l8-2,12-1-9,3zM3045,2403l7-2,14-3-9,4zM3052,2401l8-2,14-5-8,4zM3060,2399l6-2,16-7-8,4zM3066,2397l7-2,17-9-8,4zM3073,2395l6-1,18-11-7,3zM3079,2394l5-1,19-12-6,2z />
<path color=#02384a d=M3084,2393l5,1,20-13-6,0z />
<path color=#075578 d=M3094,2394l4,2,20-11-4-3z />
<path color=#095278 d=M3098,2396l3,1,21-9-4-3z />
<path color=#0a446a d=M3101,2397l3,2,21-7-3-4z />
<path color=#09385b d=M3104,2399l2,1,22-4-3-4z />
<path color=#04294f d=M2863,2452l9,0-10,6-10,0z />
<path color=#03192f d=M2872,2452l9-2-9,5-10,3zM3131,2401l0,0,18,1,0-2z />
<path color=#041a2f d=M2881,2450l10-4-8,4-11,5z />
<path color=#041b2e d=M2891,2446l10-4-7,1-11,7z />
<path color=#07304b d=M2901,2442l10-6-6-3-11,10z />
<path color=#095278 d=M2911,2436l10-7-4-7-12,11z />
<path color=#046585 d=M2921,2429l11-6-4-11-11,10z />
<path color=#047491 d=M2932,2423l11-6-3-12-12,7z />
<path color=#04768e d=M2943,2417l11-4-2-12-12,4z />
<path color=#046c7e d=M2954,2413l11-2,0-10-13,0z />
<path color=#046070 d=M2965,2411l10-1,2-6-12-3zM3109,2381l5,1,16-17-5-1z />
<path color=#01232b d=M2975,2410l11-1,3-1-12-4zM2986,2409l11,1,4,1-12-3zM2997,2410l11,0,4,3-11-2z />
<path color=#022f3a d=M3008,2410l10-1,6,6-12-2z />
<path color=#034558 d=M3018,2409l10,0,7,6-11,0z />
<path color=#035067 d=M3028,2409l10-2,8,6-11,2z />
<path color=#045b75 d=M3038,2407l10-2,9,6-11,2zM3048,2405l9-3,10,5-10,4z />
<path color=#035d74 d=M3057,2402l9-4,11,3-10,6z />
<path color=#035364 d=M3066,2398l8-4,12,1-9,6z />
<path color=#034755 d=M3074,2394l8-4,13-3-9,8z />
<path color=#01242a d=M3082,2390l8-4,14-7-9,8z />
<path color=#022529 d=M3090,2386l7-3,14-12-7,8zM3097,2383l6-2,15-15-7,5z />
<path color=#034952 d=M3103,2381l6,0,16-17-7,2z />
<path color=#046982 d=M3114,2382l4,3,17-15-5-5z />
<path color=#057094 d=M3118,2385l4,3,18-12-5-6z />
<path color=#086a96 d=M3122,2388l3,4,18-8-3-8z />
<path color=#0d5788 d=M3125,2392l3,4,18-5-3-7z />
<path color=#0b497a d=M3128,2396l1,3,19-2-2-6z />
<path color=#05233e d=M3129,2399l2,2,18-1-1-3z />
<path color=#033060 d=M2852,2458l10,0-8,5-11,0z />
<path color=#02192f d=M2862,2458l10-3-7,5-11,3z />
<path color=#041a2f d=M2872,2455l11-5-7,4-11,6z />
<path color=#041c2e d=M2883,2450l11-7-6-1-12,12z />
<path color=#095278 d=M2894,2443l11-10-5-7-12,16z />
<path color=#047293 d=M2905,2433l12-11-4-13-13,17zM3024,2415l11,0,6,10-12-1zM3057,2411l10-4,8,9-11,5z />
<path color=#05849a d=M2917,2422l11-10-2-17-13,14z />
<path color=#0c8991 d=M2928,2412l12-7-2-19-12,9z />
<path color=#118b8d d=M2940,2405l12-4-1-15-13,0z />
<path color=#0f7e81 d=M2952,2401l13,0,0-9-14-6z />
<path color=#096469 d=M2965,2401l12,3,1-3-13-9z />
<path color=#022529 d=M2977,2404l12,4,2,2-13-9z />
<path color=#01242a d=M2989,2408l12,3,2,6-12-7z />
<path color=#035165 d=M3001,2411l11,2,4,9-13-5z />
<path color=#046784 d=M3012,2413l12,2,5,9-13-2z />
<path color=#057094 d=M3035,2415l11-2,7,11-12,1zM3046,2413l11-2,7,10-11,3z />
<path color=#047491 d=M3067,2407l10-6,9,8-11,7z />
<path color=#04768e d=M3077,2401l9-6,10,5-10,9z />
<path color=#05788c d=M3086,2395l9-8,11,2-10,11z />
<path color=#076f79 d=M3095,2387l9-8,11-4-9,14z />
<path color=#094c4d d=M3104,2379l7-8,12-10-8,14z />
<path color=#062626 d=M3111,2371l7-5,13-17-8,12z />
<path color=#0a3431 d=M3118,2366l7-2,12-21-6,6z />
<path color=#127371 d=M3125,2364l5,1,14-20-7-2z />
<path color=#0b7d84 d=M3130,2365l5,5,14-19-5-6z />
<path color=#067a89 d=M3135,2370l5,6,14-15-5-10z />
<path color=#057ea1 d=M3140,2376l3,8,14-11-3-12z />
<path color=#086a96 d=M3143,2384l3,7,14-6-3-12z />
<path color=#0e5e98 d=M3146,2391l2,6,14-2-2-10z />
<path color=#093e6c d=M3148,2397l1,3,15,1-2-6z />
<path color=#03192f d=M3149,2400l0,2,15,1,0-2z />
<path color=#02192f d=M2854,2463l11-3-7,5-11,3z />
<path color=#041a2f d=M2865,2460l11-6-5,3-13,8z />
<path color=#072f4c d=M2876,2454l12-12-5-1-12,16z />
<path color=#066d95 d=M2888,2442l12-16-4-10-13,25zM3029,2424l12,1,5,13-13-2z />
<path color=#068697 d=M2900,2426l13-17-3-19-14,26zM3154,2361l3,12,13-14-5-17z />
<path color=#1c8e86 d=M2913,2409l13-14-3-25-13,20zM3149,2351l5,10,11-19-4-13z />
<path color=#339f85 d=M2926,2395l12-9-1-26-14,10z />
<path color=#369376 d=M2938,2386l13,0,0-20-14-6z />
<path color=#2f927a d=M2951,2386l14,6,0-9-14-17z />
<path color=#0a403f d=M2965,2392l13,9,0,1-13-19z />
<path color=#022528 d=M2978,2401l13,9,1,6-14-14z />
<path color=#046070 d=M2991,2410l12,7,3,9-14-10z />
<path color=#047491 d=M3003,2417l13,5,3,11-13-7z />
<path color=#057094 d=M3016,2422l13,2,4,12-14-3z />
<path color=#0778a4 d=M3041,2425l12-1,5,13-12,1zM3053,2424l11-3,7,12-13,4zM3064,2421l11-5,7,12-11,5z />
<path color=#057ba3 d=M3075,2416l11-7,8,11-12,8zM3157,2373l3,12,13-6-3-20z />
<path color=#057ea1 d=M3086,2409l10-9,8,9-10,11z />
<path color=#05849a d=M3096,2400l10-11,9,5-11,15z />
<path color=#098894 d=M3106,2389l9-14,9,0-9,19z />
<path color=#19817a d=M3115,2375l8-14,10-9-9,23z />
<path color=#0d2821 d=M3123,2361l8-12,10-20-8,23z />
<path color=#13291e d=M3131,2349l6-6,11-26-7,12z />
<path color=#397a5a d=M3137,2343l7,2,11-25-7-3z />
<path color=#2a856f d=M3144,2345l5,6,12-22-6-9z />
<path color=#0e6ea5 d=M3160,2385l2,10,13-1-2-15z />
<path color=#0c508b d=M3162,2395l2,6,12,1-1-8z />
<path color=#03192f d=M3164,2401l0,2,13,1-1-2z />
<path color=#04294f d=M2847,2468l11-3-5,5-13,3z />
<path color=#041a2f d=M2858,2465l13-8-5,4-13,9z />
<path color=#083a5b d=M2871,2457l12-16-4-3-13,23z />
<path color=#05809f d=M2883,2441l13-25-3-15-14,37zM3104,2409l11-15,7,10-10,17z />
<path color=#1e9b92 d=M2896,2416l14-26-3-28-14,39z />
<path color=#55a373 d=M2910,2390l13-20-2-34-14,26z />
<path color=#7fa461 d=M2923,2370l14-10-2-38-14,14z />
<path color=#749659 d=M2937,2360l14,6-1-27-15-17z />
<path color=#569666 d=M2951,2366l14,17,0-7-15-37z />
<path color=#092724 d=M2965,2383l13,19,1,5-14-31z />
<path color=#06565e d=M2978,2402l14,14,2,11-15-20z />
<path color=#047491 d=M2992,2416l14,10,2,13-14-12z />
<path color=#057ba3 d=M3006,2426l13,7,3,13-14-7z />
<path color=#0975a5 d=M3019,2433l14,3,3,14-14-4zM3082,2428l12-8,6,14-11,7z />
<path color=#0c71a5 d=M3033,2436l13,2,4,13-14-1zM3071,2433l11-5,7,13-13,6zM3173,2379l2,15,11-1-2-23z />
<path color=#0e6ea5 d=M3046,2438l12-1,5,13-13,1zM3058,2437l13-4,5,14-13,3z />
<path color=#0778a4 d=M3094,2420l10-11,8,12-12,13z />
<path color=#098894 d=M3115,2394l9-19,8,5-10,24z />
<path color=#218f82 d=M3124,2375l9-23,9-6-10,34z />
<path color=#3f6d4a d=M3133,2352l8-23,9-26-8,43z />
<path color=#222918 d=M3141,2329l7-12,10-37-8,23z />
<path color=#70884f d=M3148,2317l7,3,10-30-7-10z />
<path color=#66965f d=M3155,2320l6,9,10-23-6-16z />
<path color=#3e9472 d=M3161,2329l4,13,11-23-5-13z />
<path color=#1c8e86 d=M3165,2342l5,17,10-20-4-20z />
<path color=#05849a d=M3170,2359l3,20,11-9-4-31z />
<path color=#0d599a d=M3175,2394l1,8,11,1-1-10z />
<path color=#02192f d=M3176,2402l1,2,11,2-1-3z />
<path color=#043f80 d=M2840,2473l13-3-5,7-13-1z />
<path color=#041a2f d=M2853,2470l13-9-5,4-13,12z />
<path color=#0a5078 d=M2866,2461l13-23-4-5-14,32z />
<path color=#098894 d=M2879,2438l14-37-3-24-15,56z />
<path color=#5ea36f d=M2893,2401l14-39-3-41-14,56z />
<path color=#a2a253 d=M2907,2362l14-26-2-36-15,21z />
<path color=#c79f43 d=M2921,2336l14-14-1-55-15,33zM2935,2322l15,17-1-41-15-31z />
<path color=#829554 d=M2950,2339l15,37,0-9-16-69z />
<path color=#0b2722 d=M2965,2376l14,31,1,11-15-51z />
<path color=#05788c d=M2979,2407l15,20,1,14-15-23z />
<path color=#057ba3 d=M2994,2427l14,12,2,13-15-11zM3112,2421l10-17,7,18-11,12z />
<path color=#0c71a5 d=M3008,2439l14,7,3,15-15-9zM3100,2434l12-13,6,13-12,15z />
<path color=#0e6ea5 d=M3022,2446l14,4,3,12-14-1z />
<path color=#0f6aa6 d=M3036,2450l14,1,4,13-15-2zM3089,2441l11-7,6,15-12,3z />
<path color=#1067a7 d=M3050,2451l13-1,5,14-14,0zM3063,2450l13-3,5,15-13,2zM3076,2447l13-6,5,11-13,10z />
<path color=#0590a8 d=M3122,2404l10-24,8,13-11,29z />
<path color=#218f82 d=M3132,2380l10-34,7-5-9,52z />
<path color=#657a47 d=M3142,2346l8-43,8-40-9,78z />
<path color=#332810 d=M3150,2303l8-23,8-57-8,40z />
<path color=#b6913e d=M3158,2280l7,10,8-29-7-38z />
<path color=#94944d d=M3165,2290l6,16,9-21-7-24z />
<path color=#6a8851 d=M3171,2306l5,13,9-25-5-9z />
<path color=#4e956a d=M3176,2319l4,20,10-27-5-18z />
<path color=#12979a d=M3180,2339l4,31,9-7-3-51z />
<path color=#0975a5 d=M3184,2370l2,23,9,2-2-32z />
<path color=#0d599a d=M3186,2393l1,10,10,1-2-9z />
<path color=#02192f d=M3187,2403l1,3,9,0,0-2z />
<path color=#0557af d=M2848,2477l13-12-3,17-14-2zM3129,2422l11-29,5,69-11,4zM3140,2393l9-52,6,116-10,5zM3149,2341l9-78,6,190-9,4z />
<path color=#055fbf d=M2861,2465l14-32-2,52-15-3zM2875,2433l15-56-3,110-14-2zM2890,2377l14-56-2,167-15-1zM2904,2321l15-21-1,190-16-2zM2919,2300l15-33-1,223-15,0zM2934,2267l15,31,0,193-16-1zM2949,2298l16,69,0,124-16,0zM2965,2367l15,51,0,73-15,0zM2980,2418l15,23,1,49-16,1zM2995,2441l15,11,1,38-15,0zM3010,2452l15,9,2,27-16,2zM3025,2461l14,1,3,25-15,1zM3039,2462l15,2,2,21-14,2zM3054,2464l14,0,3,18-15,3zM3068,2464l13-2,4,18-14,2zM3081,2462l13-10,4,25-13,3zM3094,2452l12-3,5,24-13,4zM3106,2449l12-15,5,36-12,3zM3118,2434l11-12,5,44-11,4z />
<path color=#044f9f d=M3158,2263l8-40,7,225-9,5zM3166,2223l7,38,7,182-7,5z />
<path color=#04478f d=M3173,2261l7,24,7,153-7,5z />
<path color=#043f80 d=M3180,2285l5,9,7,139-5,5z />
<path color=#033770 d=M3185,2294l5,18,7,115-5,6zM3197,2404l0,2,8-1-1,6z />
<path color=#022850 d=M3190,2312l3,51,7,59-3,5zM3195,2395l2,9,7,7-1,5z />
<path color=#022040 d=M3193,2363l2,32,8,21-3,6z />
<path stroke=#012 stroke-opacity=.5 stroke-width=1.5 fill=none d=M2861,2465l-3,17M2875,2433l-2,52M2890,2377l-3,110M2904,2321l-2,167M2919,2300l-1,190M2934,2267l-1,223M2949,2298l0,193M2965,2367l0,124M2980,2418l0,73M2995,2441l1,49M3010,2452l1,38M3025,2461l2,27M3039,2462l3,25M3054,2464l2,21M3068,2464l3,18M3081,2462l4,18M3094,2452l4,25M3106,2449l5,24M3118,2434l5,36M3129,2422l5,44M3140,2393l5,69M3149,2341l6,116M3158,2263l6,190M3166,2223l7,225M3173,2261l7,182M3180,2285l7,153M3185,2294l7,139M3190,2312l7,115M3193,2363l7,59M3195,2395l8,21 /></g></g>
<text x="185" y="152.4" text-anchor="middle">0</text>
<text x="166.9" y="144" text-anchor="middle">20</text>
<text x="148.9" y="135.5" text-anchor="middle">40</text>
<text x="130.8" y="127.1" text-anchor="middle">60</text>
<text x="112.8" y="118.7" text-anchor="middle">80</text>
<text x="196.8" y="152.8" text-anchor="middle">0</text>
<text x="220.3" y="146.3" text-anchor="middle">20</text>
<text x="243.8" y="139.9" text-anchor="middle">40</text>
<text x="267.3" y="133.4" text-anchor="middle">60</text>
<text x="116" y="113.7" text-anchor="end">-1</text>
<text x="116" y="99" text-anchor="end">-0.5</text>
<text x="116" y="84.2" text-anchor="end">0</text>
<text x="116" y="69.5" text-anchor="end">0.5</text>
<text x="116" y="54.8" text-anchor="end">1</text>
<text x="116" y="40.1" text-anchor="end">1.5</text>
<text x="105.4" y="28">×10<tspan dy="-1.7" font-size="3.4">-3</tspan></text>
<text x="381.3" y="155.3" text-anchor="middle">0</text>
<text x="362.9" y="146.7" text-anchor="middle">20</text>
<text x="344.6" y="138" text-anchor="middle">40</text>
<text x="326.2" y="129.4" text-anchor="middle">60</text>
<text x="307.8" y="120.8" text-anchor="middle">80</text>
<text x="393.1" y="155.7" text-anchor="middle">0</text>
<text x="417.1" y="149.1" text-anchor="middle">20</text>
<text x="441" y="142.5" text-anchor="middle">40</text>
<text x="465" y="135.8" text-anchor="middle">60</text>
<text x="311" y="115.8" text-anchor="end">-1</text>
<text x="311" y="96.9" text-anchor="end">-0.5</text>
<text x="311" y="78.1" text-anchor="end">0</text>
<text x="311" y="59.2" text-anchor="end">0.5</text>
<text x="311" y="40.4" text-anchor="end">1</text>
<text x="300.4" y="28.3">×10<tspan dy="-1.7" font-size="3.4">-3</tspan></text>
<text x="578.5" y="153.9" text-anchor="middle">0</text>
<text x="560.2" y="145.4" text-anchor="middle">20</text>
<text x="541.9" y="136.8" text-anchor="middle">40</text>
<text x="523.7" y="128.3" text-anchor="middle">60</text>
<text x="505.4" y="119.7" text-anchor="middle">80</text>
<text x="590.3" y="154.3" text-anchor="middle">0</text>
<text x="614.1" y="147.7" text-anchor="middle">20</text>
<text x="637.9" y="141.2" text-anchor="middle">40</text>
<text x="661.7" y="134.6" text-anchor="middle">60</text>
<text x="685.5" y="128.1" text-anchor="middle">80</text>
<text x="508.6" y="114.7" text-anchor="end">-1</text>
<text x="508.6" y="96.1" text-anchor="end">0</text>
<text x="508.6" y="77.4" text-anchor="end">1</text>
<text x="508.6" y="58.8" text-anchor="end">2</text>
<text x="508.6" y="40.1" text-anchor="end">3</text>
<text x="498" y="28">×10<tspan dy="-1.7" font-size="3.4">-3</tspan></text>
<text x="182.3" y="337.4" text-anchor="middle">0</text>
<text x="160.7" y="327.2" text-anchor="middle">20</text>
<text x="139" y="317.1" text-anchor="middle">40</text>
<text x="117.4" y="306.9" text-anchor="middle">60</text>
<text x="194.1" y="337.8" text-anchor="middle">0</text>
<text x="222.2" y="330" text-anchor="middle">20</text>
<text x="250.4" y="322.2" text-anchor="middle">40</text>
<text x="278.6" y="314.4" text-anchor="middle">60</text>
<text x="116.3" y="293.2" text-anchor="end">0</text>
<text x="116.3" y="282.5" text-anchor="end">0.5</text>
<text x="116.3" y="271.8" text-anchor="end">1</text>
<text x="116.3" y="261" text-anchor="end">1.5</text>
<text x="116.3" y="250.3" text-anchor="end">2</text>
<text x="116.3" y="239.6" text-anchor="end">2.5</text>
<text x="116.3" y="228.9" text-anchor="end">3</text>
<text x="105.7" y="216.8">×10<tspan dy="-1.7" font-size="3.4">-3</tspan></text>
<text x="378.7" y="340.7" text-anchor="middle">0</text>
<text x="356.5" y="330.3" text-anchor="middle">20</text>
<text x="334.4" y="319.8" text-anchor="middle">40</text>
<text x="312.2" y="309.4" text-anchor="middle">60</text>
<text x="390.5" y="341.1" text-anchor="middle">0</text>
<text x="419.4" y="333.1" text-anchor="middle">20</text>
<text x="448.3" y="325.1" text-anchor="middle">40</text>
<text x="477.1" y="317.1" text-anchor="middle">60</text>
<text x="311" y="302.3" text-anchor="end">-1</text>
<text x="311" y="284.1" text-anchor="end">-0.5</text>
<text x="311" y="265.9" text-anchor="end">0</text>
<text x="311" y="247.7" text-anchor="end">0.5</text>
<text x="311" y="229.5" text-anchor="end">1</text>
<text x="300.4" y="217.4">×10<tspan dy="-1.7" font-size="3.4">-3</tspan></text>
<text x="577.1" y="341" text-anchor="middle">0</text>
<text x="554.9" y="330.6" text-anchor="middle">20</text>
<text x="532.7" y="320.2" text-anchor="middle">40</text>
<text x="510.5" y="309.8" text-anchor="middle">60</text>
<text x="588.9" y="341.4" text-anchor="middle">0</text>
<text x="617.8" y="333.4" text-anchor="middle">20</text>
<text x="646.7" y="325.4" text-anchor="middle">40</text>
<text x="675.6" y="317.4" text-anchor="middle">60</text>
<text x="509.3" y="301.6" text-anchor="end">-5</text>
<text x="509.3" y="283.7" text-anchor="end">0</text>
<text x="509.3" y="265.8" text-anchor="end">5</text>
<text x="509.3" y="247.9" text-anchor="end">10</text>
<text x="509.3" y="230" text-anchor="end">15</text>
<text x="498.7" y="217.9">×10<tspan dy="-1.7" font-size="3.4">-4</tspan></text>
<text x="183" y="523.2" text-anchor="middle">0</text>
<text x="165.3" y="514.9" text-anchor="middle">20</text>
<text x="147.7" y="506.7" text-anchor="middle">40</text>
<text x="130" y="498.4" text-anchor="middle">60</text>
<text x="112.4" y="490.1" text-anchor="middle">80</text>
<text x="194.8" y="523.6" text-anchor="middle">0</text>
<text x="217.8" y="517.3" text-anchor="middle">20</text>
<text x="240.8" y="510.9" text-anchor="middle">40</text>
<text x="263.8" y="504.6" text-anchor="middle">60</text>
<text x="115.6" y="485.1" text-anchor="end">-5</text>
<text x="115.6" y="461" text-anchor="end">0</text>
<text x="115.6" y="437" text-anchor="end">5</text>
<text x="115.6" y="412.9" text-anchor="end">10</text>
<text x="105" y="400.8">×10<tspan dy="-1.7" font-size="3.4">-4</tspan></text>
<text x="380.6" y="527" text-anchor="middle">0</text>
<text x="362.2" y="518.4" text-anchor="middle">20</text>
<text x="343.7" y="509.7" text-anchor="middle">40</text>
<text x="325.3" y="501.1" text-anchor="middle">60</text>
<text x="306.8" y="492.4" text-anchor="middle">80</text>
<text x="392.4" y="527.4" text-anchor="middle">0</text>
<text x="416.5" y="520.8" text-anchor="middle">20</text>
<text x="440.5" y="514.1" text-anchor="middle">40</text>
<text x="464.6" y="507.5" text-anchor="middle">60</text>
<text x="310" y="487.4" text-anchor="end">-5</text>
<text x="310" y="462.3" text-anchor="end">0</text>
<text x="310" y="437.1" text-anchor="end">5</text>
<text x="310" y="411.9" text-anchor="end">10</text>
<text x="299.4" y="399.8">×10<tspan dy="-1.7" font-size="3.4">-4</tspan></text>
<text x="577.4" y="530.3" text-anchor="middle">0</text>
<text x="559.4" y="521.9" text-anchor="middle">20</text>
<text x="541.4" y="513.5" text-anchor="middle">40</text>
<text x="523.4" y="505.1" text-anchor="middle">60</text>
<text x="505.4" y="496.7" text-anchor="middle">80</text>
<text x="589.2" y="530.7" text-anchor="middle">0</text>
<text x="612.7" y="524.3" text-anchor="middle">20</text>
<text x="636.2" y="517.8" text-anchor="middle">40</text>
<text x="659.6" y="511.4" text-anchor="middle">60</text>
<text x="683.1" y="504.9" text-anchor="middle">80</text>
<text x="508.6" y="491.7" text-anchor="end">-5</text>
<text x="508.6" y="473.3" text-anchor="end">0</text>
<text x="508.6" y="455" text-anchor="end">5</text>
<text x="508.6" y="436.6" text-anchor="end">10</text>
<text x="508.6" y="418.3" text-anchor="end">15</text>
<text x="498" y="406.2">×10<tspan dy="-1.7" font-size="3.4">-4</tspan></text>
</svg>
<div class="t" style="left:48px;top:155.6px">Structure<br>1-5-7</div>
<div class="t" style="left:194.3px;top:156.4px">Electrode<br>1-5</div>
<div class="t" style="left:397.6px;top:157.6px">Electrode<br>1-7</div>
<div class="t" style="left:596.1px;top:158.3px">Electrode<br>5-7</div>
<div class="t" style="left:49px;top:348.7px">Structure<br>1-3-9</div>
<div class="t" style="left:194px;top:350.4px">Electrode<br>1-3</div>
<div class="t" style="left:398.9px;top:350.2px">Electrode<br>1-9</div>
<div class="t" style="left:600.7px;top:350.2px">Electrode<br>3-9</div>
<div class="t" style="left:52.7px;top:536.3px">Structure<br>1-7-11</div>
<div class="t" style="left:196.7px;top:538.9px">Electrode<br>1-7</div>
<div class="t" style="left:397.8px;top:538.2px">Electrode<br>1-11</div>
<div class="t" style="left:597.1px;top:538.2px">Electrode<br>7-11</div>
</body></html>
